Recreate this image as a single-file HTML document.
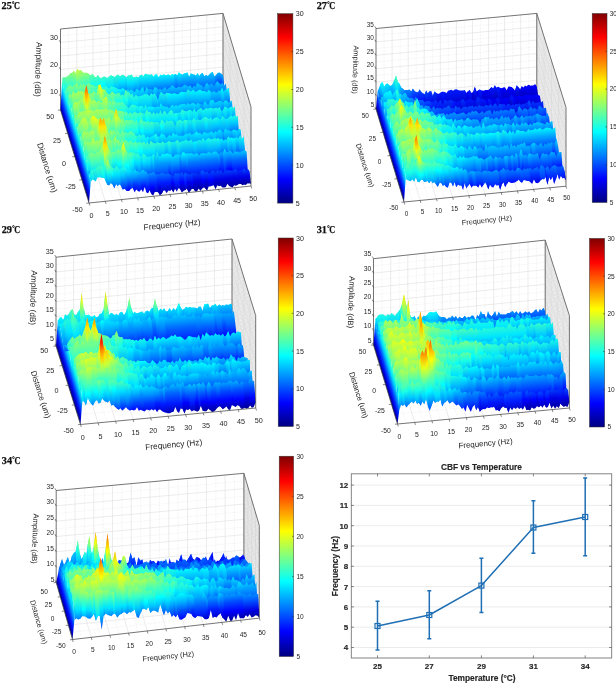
<!DOCTYPE html>
<html lang="en"><head><meta charset="utf-8"><title>CBF vs Temperature</title>
<style>html,body{margin:0;padding:0;background:#fff}svg{display:block}text{font-family:"Liberation Sans","Noto Sans CJK SC",sans-serif;fill:#262626}.b{font-weight:bold;stroke:#262626;stroke-width:.15px}.tt{font:bold 10.3px "Liberation Serif","Noto Serif CJK SC",serif;fill:#111;stroke:#111;stroke-width:.25px}</style></head>
<body>
<svg width="616" height="685" viewBox="0 0 616 685">
<defs>
<linearGradient id="jet" x1="0" y1="0" x2="0" y2="1"><stop offset="0" stop-color="#800000"/><stop offset="0.0625" stop-color="#bf0000"/><stop offset="0.125" stop-color="#f00"/><stop offset="0.1875" stop-color="#ff4000"/><stop offset="0.25" stop-color="#ff8000"/><stop offset="0.3125" stop-color="#ffbf00"/><stop offset="0.375" stop-color="#ff0"/><stop offset="0.4375" stop-color="#bfff40"/><stop offset="0.5" stop-color="#80ff80"/><stop offset="0.5625" stop-color="#40ffbf"/><stop offset="0.625" stop-color="#0ff"/><stop offset="0.6875" stop-color="#00bfff"/><stop offset="0.75" stop-color="#0080ff"/><stop offset="0.8125" stop-color="#0040ff"/><stop offset="0.875" stop-color="#00f"/><stop offset="0.9375" stop-color="#0000bf"/><stop offset="1" stop-color="#000080"/></linearGradient>
<linearGradient id="w0" gradientUnits="userSpaceOnUse" x1="74.8" y1="156.5" x2="84.4" y2="153.5"><stop offset="0" stop-color="#008"/><stop offset=".2" stop-color="#00d"/><stop offset=".4" stop-color="#03f"/><stop offset=".6" stop-color="#08f"/><stop offset=".8" stop-color="#0df"/><stop offset="1" stop-color="#3fc"/></linearGradient>
<linearGradient id="v19_15" x2="0" y2="1"><stop stop-color="#6f9"/><stop offset="1" stop-color="#0ff"/></linearGradient>
<linearGradient id="v20_16" x2="0" y2="1"><stop stop-color="#80ff80"/><stop offset="1" stop-color="#1affe5"/></linearGradient>
<linearGradient id="v21_16" x2="0" y2="1"><stop stop-color="#9f6"/><stop offset=".5" stop-color="#4dffb2"/><stop offset="1" stop-color="#1affe5"/></linearGradient>
<linearGradient id="v22_16" x2="0" y2="1"><stop stop-color="#b3ff4c"/><stop offset=".5" stop-color="#6f9"/><stop offset="1" stop-color="#1affe5"/></linearGradient>
<linearGradient id="v23_16" x2="0" y2="1"><stop stop-color="#cf3"/><stop offset=".5" stop-color="#80ff80"/><stop offset="1" stop-color="#1affe5"/></linearGradient>
<linearGradient id="v21_15" x2="0" y2="1"><stop stop-color="#9f6"/><stop offset=".5" stop-color="#4dffb2"/><stop offset="1" stop-color="#0ff"/></linearGradient>
<linearGradient id="v20_15" x2="0" y2="1"><stop stop-color="#80ff80"/><stop offset=".5" stop-color="#4dffb2"/><stop offset="1" stop-color="#0ff"/></linearGradient>
<linearGradient id="v19_14" x2="0" y2="1"><stop stop-color="#6f9"/><stop offset=".5" stop-color="#1affe5"/><stop offset="1" stop-color="#00e5ff"/></linearGradient>
<linearGradient id="v19_13" x2="0" y2="1"><stop stop-color="#6f9"/><stop offset=".5" stop-color="#1affe5"/><stop offset="1" stop-color="#0cf"/></linearGradient>
<linearGradient id="v18_13" x2="0" y2="1"><stop stop-color="#4dffb2"/><stop offset=".5" stop-color="#1affe5"/><stop offset="1" stop-color="#0cf"/></linearGradient>
<linearGradient id="v18_12" x2="0" y2="1"><stop stop-color="#4dffb2"/><stop offset=".5" stop-color="#0ff"/><stop offset="1" stop-color="#00b2ff"/></linearGradient>
<linearGradient id="v17_11" x2="0" y2="1"><stop stop-color="#3fc"/><stop offset=".5" stop-color="#00e5ff"/><stop offset="1" stop-color="#09f"/></linearGradient>
<linearGradient id="v17_10" x2="0" y2="1"><stop stop-color="#3fc"/><stop offset=".5" stop-color="#00e5ff"/><stop offset="1" stop-color="#0080ff"/></linearGradient>
<linearGradient id="v17_9" x2="0" y2="1"><stop stop-color="#3fc"/><stop offset=".5" stop-color="#0cf"/><stop offset="1" stop-color="#06f"/></linearGradient>
<linearGradient id="v17_8" x2="0" y2="1"><stop stop-color="#3fc"/><stop offset=".33" stop-color="#00e5ff"/><stop offset=".67" stop-color="#09f"/><stop offset="1" stop-color="#004dff"/></linearGradient>
<linearGradient id="v16_8" x2="0" y2="1"><stop stop-color="#1affe5"/><stop offset=".5" stop-color="#00b2ff"/><stop offset="1" stop-color="#004dff"/></linearGradient>
<linearGradient id="v16_7" x2="0" y2="1"><stop stop-color="#1affe5"/><stop offset=".33" stop-color="#0cf"/><stop offset=".67" stop-color="#0080ff"/><stop offset="1" stop-color="#03f"/></linearGradient>
<linearGradient id="v15_7" x2="0" y2="1"><stop stop-color="#0ff"/><stop offset=".5" stop-color="#09f"/><stop offset="1" stop-color="#03f"/></linearGradient>
<linearGradient id="v15_6" x2="0" y2="1"><stop stop-color="#0ff"/><stop offset=".33" stop-color="#00b2ff"/><stop offset=".67" stop-color="#06f"/><stop offset="1" stop-color="#001aff"/></linearGradient>
<linearGradient id="v14_7" x2="0" y2="1"><stop stop-color="#00e5ff"/><stop offset=".5" stop-color="#0080ff"/><stop offset="1" stop-color="#03f"/></linearGradient>
<linearGradient id="v14_6" x2="0" y2="1"><stop stop-color="#00e5ff"/><stop offset=".5" stop-color="#0080ff"/><stop offset="1" stop-color="#001aff"/></linearGradient>
<linearGradient id="v13_6" x2="0" y2="1"><stop stop-color="#0cf"/><stop offset=".5" stop-color="#0080ff"/><stop offset="1" stop-color="#001aff"/></linearGradient>
<linearGradient id="v12_6" x2="0" y2="1"><stop stop-color="#00b2ff"/><stop offset=".5" stop-color="#06f"/><stop offset="1" stop-color="#001aff"/></linearGradient>
<linearGradient id="v12_5" x2="0" y2="1"><stop stop-color="#00b2ff"/><stop offset=".5" stop-color="#004dff"/><stop offset="1" stop-color="#00f"/></linearGradient>
<linearGradient id="v20_17" x2="0" y2="1"><stop stop-color="#80ff80"/><stop offset="1" stop-color="#3fc"/></linearGradient>
<linearGradient id="v21_17" x2="0" y2="1"><stop stop-color="#9f6"/><stop offset="1" stop-color="#3fc"/></linearGradient>
<linearGradient id="v19_16" x2="0" y2="1"><stop stop-color="#6f9"/><stop offset="1" stop-color="#1affe5"/></linearGradient>
<linearGradient id="v18_15" x2="0" y2="1"><stop stop-color="#4dffb2"/><stop offset="1" stop-color="#0ff"/></linearGradient>
<linearGradient id="v17_13" x2="0" y2="1"><stop stop-color="#3fc"/><stop offset="1" stop-color="#0cf"/></linearGradient>
<linearGradient id="v17_12" x2="0" y2="1"><stop stop-color="#3fc"/><stop offset=".5" stop-color="#00e5ff"/><stop offset="1" stop-color="#00b2ff"/></linearGradient>
<linearGradient id="v16_11" x2="0" y2="1"><stop stop-color="#1affe5"/><stop offset=".5" stop-color="#00e5ff"/><stop offset="1" stop-color="#09f"/></linearGradient>
<linearGradient id="v16_10" x2="0" y2="1"><stop stop-color="#1affe5"/><stop offset=".5" stop-color="#0cf"/><stop offset="1" stop-color="#0080ff"/></linearGradient>
<linearGradient id="v15_10" x2="0" y2="1"><stop stop-color="#0ff"/><stop offset=".5" stop-color="#00b2ff"/><stop offset="1" stop-color="#0080ff"/></linearGradient>
<linearGradient id="v15_11" x2="0" y2="1"><stop stop-color="#0ff"/><stop offset="1" stop-color="#09f"/></linearGradient>
<linearGradient id="v14_10" x2="0" y2="1"><stop stop-color="#00e5ff"/><stop offset="1" stop-color="#0080ff"/></linearGradient>
<linearGradient id="v14_9" x2="0" y2="1"><stop stop-color="#00e5ff"/><stop offset=".5" stop-color="#00b2ff"/><stop offset="1" stop-color="#06f"/></linearGradient>
<linearGradient id="v14_8" x2="0" y2="1"><stop stop-color="#00e5ff"/><stop offset=".5" stop-color="#09f"/><stop offset="1" stop-color="#004dff"/></linearGradient>
<linearGradient id="v13_8" x2="0" y2="1"><stop stop-color="#0cf"/><stop offset=".5" stop-color="#0080ff"/><stop offset="1" stop-color="#004dff"/></linearGradient>
<linearGradient id="v13_7" x2="0" y2="1"><stop stop-color="#0cf"/><stop offset=".5" stop-color="#0080ff"/><stop offset="1" stop-color="#03f"/></linearGradient>
<linearGradient id="v12_7" x2="0" y2="1"><stop stop-color="#00b2ff"/><stop offset=".5" stop-color="#0080ff"/><stop offset="1" stop-color="#03f"/></linearGradient>
<linearGradient id="v22_18" x2="0" y2="1"><stop stop-color="#b3ff4c"/><stop offset="1" stop-color="#4dffb2"/></linearGradient>
<linearGradient id="v22_19" x2="0" y2="1"><stop stop-color="#b3ff4c"/><stop offset="1" stop-color="#6f9"/></linearGradient>
<linearGradient id="v21_19" x2="0" y2="1"><stop stop-color="#9f6"/><stop offset="1" stop-color="#6f9"/></linearGradient>
<linearGradient id="v21_18" x2="0" y2="1"><stop stop-color="#9f6"/><stop offset="1" stop-color="#4dffb2"/></linearGradient>
<linearGradient id="v24_17" x2="0" y2="1"><stop stop-color="#e5ff1a"/><stop offset=".5" stop-color="#80ff80"/><stop offset="1" stop-color="#3fc"/></linearGradient>
<linearGradient id="v25_17" x2="0" y2="1"><stop stop-color="#ff0"/><stop offset=".5" stop-color="#9f6"/><stop offset="1" stop-color="#3fc"/></linearGradient>
<linearGradient id="v25_18" x2="0" y2="1"><stop stop-color="#ff0"/><stop offset=".5" stop-color="#b3ff4c"/><stop offset="1" stop-color="#4dffb2"/></linearGradient>
<linearGradient id="v22_17" x2="0" y2="1"><stop stop-color="#b3ff4c"/><stop offset=".5" stop-color="#80ff80"/><stop offset="1" stop-color="#3fc"/></linearGradient>
<linearGradient id="v19_12" x2="0" y2="1"><stop stop-color="#6f9"/><stop offset=".5" stop-color="#1affe5"/><stop offset="1" stop-color="#00b2ff"/></linearGradient>
<linearGradient id="v18_11" x2="0" y2="1"><stop stop-color="#4dffb2"/><stop offset=".5" stop-color="#00e5ff"/><stop offset="1" stop-color="#09f"/></linearGradient>
<linearGradient id="v16_9" x2="0" y2="1"><stop stop-color="#1affe5"/><stop offset=".5" stop-color="#00b2ff"/><stop offset="1" stop-color="#06f"/></linearGradient>
<linearGradient id="v15_8" x2="0" y2="1"><stop stop-color="#0ff"/><stop offset=".5" stop-color="#00b2ff"/><stop offset="1" stop-color="#004dff"/></linearGradient>
<linearGradient id="v15_9" x2="0" y2="1"><stop stop-color="#0ff"/><stop offset=".5" stop-color="#00b2ff"/><stop offset="1" stop-color="#06f"/></linearGradient>
<linearGradient id="v23_18" x2="0" y2="1"><stop stop-color="#cf3"/><stop offset=".5" stop-color="#80ff80"/><stop offset="1" stop-color="#4dffb2"/></linearGradient>
<linearGradient id="v27_19" x2="0" y2="1"><stop stop-color="#fc0"/><stop offset=".5" stop-color="#cf3"/><stop offset="1" stop-color="#6f9"/></linearGradient>
<linearGradient id="v32_20" x2="0" y2="1"><stop stop-color="#ff4c00"/><stop offset=".33" stop-color="#ffb300"/><stop offset=".67" stop-color="#e5ff1a"/><stop offset="1" stop-color="#80ff80"/></linearGradient>
<linearGradient id="v32_19" x2="0" y2="1"><stop stop-color="#ff4c00"/><stop offset=".25" stop-color="#f90"/><stop offset=".5" stop-color="#ffe500"/><stop offset=".75" stop-color="#b3ff4c"/><stop offset="1" stop-color="#6f9"/></linearGradient>
<linearGradient id="v26_19" x2="0" y2="1"><stop stop-color="#ffe500"/><stop offset=".5" stop-color="#b3ff4c"/><stop offset="1" stop-color="#6f9"/></linearGradient>
<linearGradient id="v23_17" x2="0" y2="1"><stop stop-color="#cf3"/><stop offset=".5" stop-color="#80ff80"/><stop offset="1" stop-color="#3fc"/></linearGradient>
<linearGradient id="v20_14" x2="0" y2="1"><stop stop-color="#80ff80"/><stop offset=".5" stop-color="#3fc"/><stop offset="1" stop-color="#00e5ff"/></linearGradient>
<linearGradient id="v23_19" x2="0" y2="1"><stop stop-color="#cf3"/><stop offset="1" stop-color="#6f9"/></linearGradient>
<linearGradient id="v22_20" x2="0" y2="1"><stop stop-color="#b3ff4c"/><stop offset="1" stop-color="#80ff80"/></linearGradient>
<linearGradient id="v24_19" x2="0" y2="1"><stop stop-color="#e5ff1a"/><stop offset=".5" stop-color="#b3ff4c"/><stop offset="1" stop-color="#6f9"/></linearGradient>
<linearGradient id="v25_19" x2="0" y2="1"><stop stop-color="#ff0"/><stop offset=".5" stop-color="#b3ff4c"/><stop offset="1" stop-color="#6f9"/></linearGradient>
<linearGradient id="v24_20" x2="0" y2="1"><stop stop-color="#e5ff1a"/><stop offset="1" stop-color="#80ff80"/></linearGradient>
<linearGradient id="v24_16" x2="0" y2="1"><stop stop-color="#e5ff1a"/><stop offset=".5" stop-color="#80ff80"/><stop offset="1" stop-color="#1affe5"/></linearGradient>
<linearGradient id="v27_16" x2="0" y2="1"><stop stop-color="#fc0"/><stop offset=".33" stop-color="#cf3"/><stop offset=".67" stop-color="#80ff80"/><stop offset="1" stop-color="#1affe5"/></linearGradient>
<linearGradient id="v27_15" x2="0" y2="1"><stop stop-color="#fc0"/><stop offset=".33" stop-color="#cf3"/><stop offset=".67" stop-color="#6f9"/><stop offset="1" stop-color="#0ff"/></linearGradient>
<linearGradient id="v23_15" x2="0" y2="1"><stop stop-color="#cf3"/><stop offset=".5" stop-color="#6f9"/><stop offset="1" stop-color="#0ff"/></linearGradient>
<linearGradient id="v22_15" x2="0" y2="1"><stop stop-color="#b3ff4c"/><stop offset=".5" stop-color="#4dffb2"/><stop offset="1" stop-color="#0ff"/></linearGradient>
<linearGradient id="v21_14" x2="0" y2="1"><stop stop-color="#9f6"/><stop offset=".5" stop-color="#4dffb2"/><stop offset="1" stop-color="#00e5ff"/></linearGradient>
<linearGradient id="v20_13" x2="0" y2="1"><stop stop-color="#80ff80"/><stop offset=".5" stop-color="#1affe5"/><stop offset="1" stop-color="#0cf"/></linearGradient>
<linearGradient id="v19_11" x2="0" y2="1"><stop stop-color="#6f9"/><stop offset=".5" stop-color="#0ff"/><stop offset="1" stop-color="#09f"/></linearGradient>
<linearGradient id="v18_10" x2="0" y2="1"><stop stop-color="#4dffb2"/><stop offset=".5" stop-color="#00e5ff"/><stop offset="1" stop-color="#0080ff"/></linearGradient>
<linearGradient id="v18_9" x2="0" y2="1"><stop stop-color="#4dffb2"/><stop offset=".33" stop-color="#0ff"/><stop offset=".67" stop-color="#00b2ff"/><stop offset="1" stop-color="#06f"/></linearGradient>
<linearGradient id="v29_19" x2="0" y2="1"><stop stop-color="#f90"/><stop offset=".33" stop-color="#ffe500"/><stop offset=".67" stop-color="#b3ff4c"/><stop offset="1" stop-color="#6f9"/></linearGradient>
<linearGradient id="v24_18" x2="0" y2="1"><stop stop-color="#e5ff1a"/><stop offset=".5" stop-color="#9f6"/><stop offset="1" stop-color="#4dffb2"/></linearGradient>
<linearGradient id="v16_12" x2="0" y2="1"><stop stop-color="#1affe5"/><stop offset="1" stop-color="#00b2ff"/></linearGradient>
<linearGradient id="v23_14" x2="0" y2="1"><stop stop-color="#cf3"/><stop offset=".33" stop-color="#80ff80"/><stop offset=".67" stop-color="#3fc"/><stop offset="1" stop-color="#00e5ff"/></linearGradient>
<linearGradient id="v25_15" x2="0" y2="1"><stop stop-color="#ff0"/><stop offset=".33" stop-color="#b3ff4c"/><stop offset=".67" stop-color="#4dffb2"/><stop offset="1" stop-color="#0ff"/></linearGradient>
<linearGradient id="v30_16" x2="0" y2="1"><stop stop-color="#ff8000"/><stop offset=".25" stop-color="#ffe500"/><stop offset=".5" stop-color="#cf3"/><stop offset=".75" stop-color="#80ff80"/><stop offset="1" stop-color="#1affe5"/></linearGradient>
<linearGradient id="v30_15" x2="0" y2="1"><stop stop-color="#ff8000"/><stop offset=".25" stop-color="#ffe500"/><stop offset=".5" stop-color="#b3ff4c"/><stop offset=".75" stop-color="#6f9"/><stop offset="1" stop-color="#0ff"/></linearGradient>
<linearGradient id="v26_14" x2="0" y2="1"><stop stop-color="#ffe500"/><stop offset=".33" stop-color="#b3ff4c"/><stop offset=".67" stop-color="#4dffb2"/><stop offset="1" stop-color="#00e5ff"/></linearGradient>
<linearGradient id="v22_14" x2="0" y2="1"><stop stop-color="#b3ff4c"/><stop offset=".5" stop-color="#4dffb2"/><stop offset="1" stop-color="#00e5ff"/></linearGradient>
<linearGradient id="v21_13" x2="0" y2="1"><stop stop-color="#9f6"/><stop offset=".5" stop-color="#3fc"/><stop offset="1" stop-color="#0cf"/></linearGradient>
<linearGradient id="v20_12" x2="0" y2="1"><stop stop-color="#80ff80"/><stop offset=".5" stop-color="#1affe5"/><stop offset="1" stop-color="#00b2ff"/></linearGradient>
<linearGradient id="v21_12" x2="0" y2="1"><stop stop-color="#9f6"/><stop offset=".33" stop-color="#4dffb2"/><stop offset=".67" stop-color="#0ff"/><stop offset="1" stop-color="#00b2ff"/></linearGradient>
<linearGradient id="v22_13" x2="0" y2="1"><stop stop-color="#b3ff4c"/><stop offset=".33" stop-color="#6f9"/><stop offset=".67" stop-color="#1affe5"/><stop offset="1" stop-color="#0cf"/></linearGradient>
<linearGradient id="v25_13" x2="0" y2="1"><stop stop-color="#ff0"/><stop offset=".33" stop-color="#9f6"/><stop offset=".67" stop-color="#3fc"/><stop offset="1" stop-color="#0cf"/></linearGradient>
<linearGradient id="v25_12" x2="0" y2="1"><stop stop-color="#ff0"/><stop offset=".25" stop-color="#b3ff4c"/><stop offset=".5" stop-color="#4dffb2"/><stop offset=".75" stop-color="#0ff"/><stop offset="1" stop-color="#00b2ff"/></linearGradient>
<linearGradient id="v22_11" x2="0" y2="1"><stop stop-color="#b3ff4c"/><stop offset=".33" stop-color="#4dffb2"/><stop offset=".67" stop-color="#0ff"/><stop offset="1" stop-color="#09f"/></linearGradient>
<linearGradient id="v19_10" x2="0" y2="1"><stop stop-color="#6f9"/><stop offset=".33" stop-color="#1affe5"/><stop offset=".67" stop-color="#0cf"/><stop offset="1" stop-color="#0080ff"/></linearGradient>
<linearGradient id="v18_7" x2="0" y2="1"><stop stop-color="#4dffb2"/><stop offset=".33" stop-color="#00e5ff"/><stop offset=".67" stop-color="#09f"/><stop offset="1" stop-color="#03f"/></linearGradient>
<linearGradient id="v17_7" x2="0" y2="1"><stop stop-color="#3fc"/><stop offset=".33" stop-color="#00e5ff"/><stop offset=".67" stop-color="#0080ff"/><stop offset="1" stop-color="#03f"/></linearGradient>
<linearGradient id="v16_6" x2="0" y2="1"><stop stop-color="#1affe5"/><stop offset=".33" stop-color="#0cf"/><stop offset=".67" stop-color="#06f"/><stop offset="1" stop-color="#001aff"/></linearGradient>
<linearGradient id="v16_5" x2="0" y2="1"><stop stop-color="#1affe5"/><stop offset=".33" stop-color="#00b2ff"/><stop offset=".67" stop-color="#06f"/><stop offset="1" stop-color="#00f"/></linearGradient>
<linearGradient id="v15_4" x2="0" y2="1"><stop stop-color="#0ff"/><stop offset=".33" stop-color="#09f"/><stop offset=".67" stop-color="#004dff"/><stop offset="1" stop-color="#0000e6"/></linearGradient>
<linearGradient id="v15_3" x2="0" y2="1"><stop stop-color="#0ff"/><stop offset=".33" stop-color="#09f"/><stop offset=".67" stop-color="#03f"/><stop offset="1" stop-color="#00c"/></linearGradient>
<linearGradient id="v14_4" x2="0" y2="1"><stop stop-color="#00e5ff"/><stop offset=".33" stop-color="#09f"/><stop offset=".67" stop-color="#03f"/><stop offset="1" stop-color="#0000e6"/></linearGradient>
<linearGradient id="v14_3" x2="0" y2="1"><stop stop-color="#00e5ff"/><stop offset=".33" stop-color="#0080ff"/><stop offset=".67" stop-color="#03f"/><stop offset="1" stop-color="#00c"/></linearGradient>
<linearGradient id="v13_3" x2="0" y2="1"><stop stop-color="#0cf"/><stop offset=".33" stop-color="#0080ff"/><stop offset=".67" stop-color="#001aff"/><stop offset="1" stop-color="#00c"/></linearGradient>
<linearGradient id="v13_2" x2="0" y2="1"><stop stop-color="#0cf"/><stop offset=".33" stop-color="#06f"/><stop offset=".67" stop-color="#001aff"/><stop offset="1" stop-color="#0000b2"/></linearGradient>
<linearGradient id="v14_2" x2="0" y2="1"><stop stop-color="#00e5ff"/><stop offset=".33" stop-color="#0080ff"/><stop offset=".67" stop-color="#001aff"/><stop offset="1" stop-color="#0000b2"/></linearGradient>
<linearGradient id="v13_1" x2="0" y2="1"><stop stop-color="#0cf"/><stop offset=".33" stop-color="#06f"/><stop offset=".67" stop-color="#00f"/><stop offset="1" stop-color="#009"/></linearGradient>
<linearGradient id="v16_13" x2="0" y2="1"><stop stop-color="#1affe5"/><stop offset="1" stop-color="#0cf"/></linearGradient>
<linearGradient id="v17_14" x2="0" y2="1"><stop stop-color="#3fc"/><stop offset="1" stop-color="#00e5ff"/></linearGradient>
<linearGradient id="v18_14" x2="0" y2="1"><stop stop-color="#4dffb2"/><stop offset="1" stop-color="#00e5ff"/></linearGradient>
<linearGradient id="v20_10" x2="0" y2="1"><stop stop-color="#80ff80"/><stop offset=".33" stop-color="#3fc"/><stop offset=".67" stop-color="#0cf"/><stop offset="1" stop-color="#0080ff"/></linearGradient>
<linearGradient id="v23_10" x2="0" y2="1"><stop stop-color="#cf3"/><stop offset=".25" stop-color="#80ff80"/><stop offset=".5" stop-color="#1affe5"/><stop offset=".75" stop-color="#0cf"/><stop offset="1" stop-color="#0080ff"/></linearGradient>
<linearGradient id="v19_9" x2="0" y2="1"><stop stop-color="#6f9"/><stop offset=".33" stop-color="#1affe5"/><stop offset=".67" stop-color="#00b2ff"/><stop offset="1" stop-color="#06f"/></linearGradient>
<linearGradient id="v18_8" x2="0" y2="1"><stop stop-color="#4dffb2"/><stop offset=".33" stop-color="#0ff"/><stop offset=".67" stop-color="#09f"/><stop offset="1" stop-color="#004dff"/></linearGradient>
<linearGradient id="v15_5" x2="0" y2="1"><stop stop-color="#0ff"/><stop offset=".33" stop-color="#00b2ff"/><stop offset=".67" stop-color="#004dff"/><stop offset="1" stop-color="#00f"/></linearGradient>
<linearGradient id="v14_5" x2="0" y2="1"><stop stop-color="#00e5ff"/><stop offset=".33" stop-color="#09f"/><stop offset=".67" stop-color="#004dff"/><stop offset="1" stop-color="#00f"/></linearGradient>
<linearGradient id="v13_4" x2="0" y2="1"><stop stop-color="#0cf"/><stop offset=".33" stop-color="#0080ff"/><stop offset=".67" stop-color="#03f"/><stop offset="1" stop-color="#0000e6"/></linearGradient>
<linearGradient id="v12_3" x2="0" y2="1"><stop stop-color="#00b2ff"/><stop offset=".33" stop-color="#06f"/><stop offset=".67" stop-color="#001aff"/><stop offset="1" stop-color="#00c"/></linearGradient>
<linearGradient id="v11_2" x2="0" y2="1"><stop stop-color="#09f"/><stop offset=".33" stop-color="#004dff"/><stop offset=".67" stop-color="#00f"/><stop offset="1" stop-color="#0000b2"/></linearGradient>
<linearGradient id="v11_3" x2="0" y2="1"><stop stop-color="#09f"/><stop offset=".5" stop-color="#03f"/><stop offset="1" stop-color="#00c"/></linearGradient>
<linearGradient id="v10_2" x2="0" y2="1"><stop stop-color="#0080ff"/><stop offset=".5" stop-color="#001aff"/><stop offset="1" stop-color="#0000b2"/></linearGradient>
<linearGradient id="v10_1" x2="0" y2="1"><stop stop-color="#0080ff"/><stop offset=".33" stop-color="#03f"/><stop offset=".67" stop-color="#0000e6"/><stop offset="1" stop-color="#009"/></linearGradient>
<linearGradient id="v9_1" x2="0" y2="1"><stop stop-color="#06f"/><stop offset=".5" stop-color="#00f"/><stop offset="1" stop-color="#009"/></linearGradient>
<linearGradient id="v9_2" x2="0" y2="1"><stop stop-color="#06f"/><stop offset=".5" stop-color="#001aff"/><stop offset="1" stop-color="#0000b2"/></linearGradient>
<linearGradient id="v8_1" x2="0" y2="1"><stop stop-color="#004dff"/><stop offset=".5" stop-color="#0000e6"/><stop offset="1" stop-color="#009"/></linearGradient>
<linearGradient id="v8_2" x2="0" y2="1"><stop stop-color="#004dff"/><stop offset=".5" stop-color="#00f"/><stop offset="1" stop-color="#0000b2"/></linearGradient>
<linearGradient id="v7_1" x2="0" y2="1"><stop stop-color="#03f"/><stop offset=".5" stop-color="#0000e6"/><stop offset="1" stop-color="#009"/></linearGradient>
<linearGradient id="w1" gradientUnits="userSpaceOnUse" x1="390" y1="155.5" x2="398.7" y2="152.9"><stop offset="0" stop-color="#008"/><stop offset=".2" stop-color="#00c"/><stop offset=".4" stop-color="#02f"/><stop offset=".6" stop-color="#06f"/><stop offset=".8" stop-color="#0bf"/><stop offset="1" stop-color="#1fe"/></linearGradient>
<linearGradient id="v13_9" x2="0" y2="1"><stop stop-color="#0cf"/><stop offset="1" stop-color="#06f"/></linearGradient>
<linearGradient id="v14_11" x2="0" y2="1"><stop stop-color="#00e5ff"/><stop offset="1" stop-color="#09f"/></linearGradient>
<linearGradient id="v13_10" x2="0" y2="1"><stop stop-color="#0cf"/><stop offset="1" stop-color="#0080ff"/></linearGradient>
<linearGradient id="v12_8" x2="0" y2="1"><stop stop-color="#00b2ff"/><stop offset="1" stop-color="#004dff"/></linearGradient>
<linearGradient id="v11_8" x2="0" y2="1"><stop stop-color="#09f"/><stop offset="1" stop-color="#004dff"/></linearGradient>
<linearGradient id="v10_7" x2="0" y2="1"><stop stop-color="#0080ff"/><stop offset="1" stop-color="#03f"/></linearGradient>
<linearGradient id="v10_6" x2="0" y2="1"><stop stop-color="#0080ff"/><stop offset="1" stop-color="#001aff"/></linearGradient>
<linearGradient id="v9_6" x2="0" y2="1"><stop stop-color="#06f"/><stop offset="1" stop-color="#001aff"/></linearGradient>
<linearGradient id="v9_5" x2="0" y2="1"><stop stop-color="#06f"/><stop offset="1" stop-color="#00f"/></linearGradient>
<linearGradient id="v8_5" x2="0" y2="1"><stop stop-color="#004dff"/><stop offset="1" stop-color="#00f"/></linearGradient>
<linearGradient id="v7_4" x2="0" y2="1"><stop stop-color="#03f"/><stop offset="1" stop-color="#0000e6"/></linearGradient>
<linearGradient id="v8_4" x2="0" y2="1"><stop stop-color="#004dff"/><stop offset="1" stop-color="#0000e6"/></linearGradient>
<linearGradient id="v7_3" x2="0" y2="1"><stop stop-color="#03f"/><stop offset="1" stop-color="#00c"/></linearGradient>
<linearGradient id="v6_3" x2="0" y2="1"><stop stop-color="#001aff"/><stop offset="1" stop-color="#00c"/></linearGradient>
<linearGradient id="v6_4" x2="0" y2="1"><stop stop-color="#001aff"/><stop offset="1" stop-color="#0000e6"/></linearGradient>
<linearGradient id="v5_3" x2="0" y2="1"><stop stop-color="#00f"/><stop offset="1" stop-color="#00c"/></linearGradient>
<linearGradient id="v5_2" x2="0" y2="1"><stop stop-color="#00f"/><stop offset="1" stop-color="#0000b2"/></linearGradient>
<linearGradient id="v6_2" x2="0" y2="1"><stop stop-color="#001aff"/><stop offset="1" stop-color="#0000b2"/></linearGradient>
<linearGradient id="v5_1" x2="0" y2="1"><stop stop-color="#00f"/><stop offset="1" stop-color="#009"/></linearGradient>
<linearGradient id="v10_5" x2="0" y2="1"><stop stop-color="#0080ff"/><stop offset=".5" stop-color="#004dff"/><stop offset="1" stop-color="#00f"/></linearGradient>
<linearGradient id="v16_14" x2="0" y2="1"><stop stop-color="#1affe5"/><stop offset="1" stop-color="#00e5ff"/></linearGradient>
<linearGradient id="v11_7" x2="0" y2="1"><stop stop-color="#09f"/><stop offset="1" stop-color="#03f"/></linearGradient>
<linearGradient id="v11_6" x2="0" y2="1"><stop stop-color="#09f"/><stop offset=".5" stop-color="#004dff"/><stop offset="1" stop-color="#001aff"/></linearGradient>
<linearGradient id="v9_4" x2="0" y2="1"><stop stop-color="#06f"/><stop offset=".5" stop-color="#001aff"/><stop offset="1" stop-color="#0000e6"/></linearGradient>
<linearGradient id="v8_3" x2="0" y2="1"><stop stop-color="#004dff"/><stop offset=".5" stop-color="#001aff"/><stop offset="1" stop-color="#00c"/></linearGradient>
<linearGradient id="v12_9" x2="0" y2="1"><stop stop-color="#00b2ff"/><stop offset="1" stop-color="#06f"/></linearGradient>
<linearGradient id="v23_20" x2="0" y2="1"><stop stop-color="#cf3"/><stop offset="1" stop-color="#80ff80"/></linearGradient>
<linearGradient id="v29_20" x2="0" y2="1"><stop stop-color="#f90"/><stop offset=".33" stop-color="#ffe500"/><stop offset=".67" stop-color="#cf3"/><stop offset="1" stop-color="#80ff80"/></linearGradient>
<linearGradient id="v26_20" x2="0" y2="1"><stop stop-color="#ffe500"/><stop offset=".5" stop-color="#cf3"/><stop offset="1" stop-color="#80ff80"/></linearGradient>
<linearGradient id="v27_17" x2="0" y2="1"><stop stop-color="#fc0"/><stop offset=".33" stop-color="#e5ff1a"/><stop offset=".67" stop-color="#80ff80"/><stop offset="1" stop-color="#3fc"/></linearGradient>
<linearGradient id="v31_18" x2="0" y2="1"><stop stop-color="#f60"/><stop offset=".25" stop-color="#ffb300"/><stop offset=".5" stop-color="#e5ff1a"/><stop offset=".75" stop-color="#9f6"/><stop offset="1" stop-color="#4dffb2"/></linearGradient>
<linearGradient id="v13_5" x2="0" y2="1"><stop stop-color="#0cf"/><stop offset=".5" stop-color="#06f"/><stop offset="1" stop-color="#00f"/></linearGradient>
<linearGradient id="v12_4" x2="0" y2="1"><stop stop-color="#00b2ff"/><stop offset=".5" stop-color="#004dff"/><stop offset="1" stop-color="#0000e6"/></linearGradient>
<linearGradient id="v11_4" x2="0" y2="1"><stop stop-color="#09f"/><stop offset=".5" stop-color="#004dff"/><stop offset="1" stop-color="#0000e6"/></linearGradient>
<linearGradient id="v22_12" x2="0" y2="1"><stop stop-color="#b3ff4c"/><stop offset=".33" stop-color="#6f9"/><stop offset=".67" stop-color="#0ff"/><stop offset="1" stop-color="#00b2ff"/></linearGradient>
<linearGradient id="v20_11" x2="0" y2="1"><stop stop-color="#80ff80"/><stop offset=".33" stop-color="#3fc"/><stop offset=".67" stop-color="#00e5ff"/><stop offset="1" stop-color="#09f"/></linearGradient>
<linearGradient id="v19_8" x2="0" y2="1"><stop stop-color="#6f9"/><stop offset=".33" stop-color="#0ff"/><stop offset=".67" stop-color="#00b2ff"/><stop offset="1" stop-color="#004dff"/></linearGradient>
<linearGradient id="v11_5" x2="0" y2="1"><stop stop-color="#09f"/><stop offset=".5" stop-color="#004dff"/><stop offset="1" stop-color="#00f"/></linearGradient>
<linearGradient id="v10_4" x2="0" y2="1"><stop stop-color="#0080ff"/><stop offset=".5" stop-color="#03f"/><stop offset="1" stop-color="#0000e6"/></linearGradient>
<linearGradient id="w2" gradientUnits="userSpaceOnUse" x1="68.2" y1="385.2" x2="78.5" y2="382"><stop offset="0" stop-color="#008"/><stop offset=".2" stop-color="#00c"/><stop offset=".4" stop-color="#02f"/><stop offset=".6" stop-color="#07f"/><stop offset=".8" stop-color="#0cf"/><stop offset="1" stop-color="#2fd"/></linearGradient>
<linearGradient id="v15_12" x2="0" y2="1"><stop stop-color="#0ff"/><stop offset="1" stop-color="#00b2ff"/></linearGradient>
<linearGradient id="v15_13" x2="0" y2="1"><stop stop-color="#0ff"/><stop offset="1" stop-color="#0cf"/></linearGradient>
<linearGradient id="v27_14" x2="0" y2="1"><stop stop-color="#fc0"/><stop offset=".25" stop-color="#e5ff1a"/><stop offset=".5" stop-color="#80ff80"/><stop offset=".75" stop-color="#3fc"/><stop offset="1" stop-color="#00e5ff"/></linearGradient>
<linearGradient id="v14_12" x2="0" y2="1"><stop stop-color="#00e5ff"/><stop offset="1" stop-color="#00b2ff"/></linearGradient>
<linearGradient id="v27_12" x2="0" y2="1"><stop stop-color="#fc0"/><stop offset=".25" stop-color="#cf3"/><stop offset=".5" stop-color="#80ff80"/><stop offset=".75" stop-color="#1affe5"/><stop offset="1" stop-color="#00b2ff"/></linearGradient>
<linearGradient id="v27_13" x2="0" y2="1"><stop stop-color="#fc0"/><stop offset=".25" stop-color="#e5ff1a"/><stop offset=".5" stop-color="#80ff80"/><stop offset=".75" stop-color="#1affe5"/><stop offset="1" stop-color="#0cf"/></linearGradient>
<linearGradient id="v21_11" x2="0" y2="1"><stop stop-color="#9f6"/><stop offset=".33" stop-color="#4dffb2"/><stop offset=".67" stop-color="#00e5ff"/><stop offset="1" stop-color="#09f"/></linearGradient>
<linearGradient id="v13_15" x2="0" y2="1"><stop stop-color="#0cf"/><stop offset="1" stop-color="#0ff"/></linearGradient>
<linearGradient id="v13_16" x2="0" y2="1"><stop stop-color="#0cf"/><stop offset="1" stop-color="#1affe5"/></linearGradient>
<linearGradient id="v13_17" x2="0" y2="1"><stop stop-color="#0cf"/><stop offset="1" stop-color="#3fc"/></linearGradient>
<linearGradient id="v14_17" x2="0" y2="1"><stop stop-color="#00e5ff"/><stop offset="1" stop-color="#3fc"/></linearGradient>
<linearGradient id="v15_17" x2="0" y2="1"><stop stop-color="#0ff"/><stop offset="1" stop-color="#3fc"/></linearGradient>
<linearGradient id="v15_18" x2="0" y2="1"><stop stop-color="#0ff"/><stop offset="1" stop-color="#4dffb2"/></linearGradient>
<linearGradient id="v14_16" x2="0" y2="1"><stop stop-color="#00e5ff"/><stop offset="1" stop-color="#1affe5"/></linearGradient>
<linearGradient id="v16_15" x2="0" y2="1"><stop stop-color="#1affe5"/><stop offset="1" stop-color="#0ff"/></linearGradient>
<linearGradient id="v14_15" x2="0" y2="1"><stop stop-color="#00e5ff"/><stop offset="1" stop-color="#0ff"/></linearGradient>
<linearGradient id="v12_15" x2="0" y2="1"><stop stop-color="#00b2ff"/><stop offset="1" stop-color="#0ff"/></linearGradient>
<linearGradient id="v12_14" x2="0" y2="1"><stop stop-color="#00b2ff"/><stop offset="1" stop-color="#00e5ff"/></linearGradient>
<linearGradient id="v11_14" x2="0" y2="1"><stop stop-color="#09f"/><stop offset="1" stop-color="#00e5ff"/></linearGradient>
<linearGradient id="v14_13" x2="0" y2="1"><stop stop-color="#00e5ff"/><stop offset="1" stop-color="#0cf"/></linearGradient>
<linearGradient id="v13_14" x2="0" y2="1"><stop stop-color="#0cf"/><stop offset="1" stop-color="#00e5ff"/></linearGradient>
<linearGradient id="v12_13" x2="0" y2="1"><stop stop-color="#00b2ff"/><stop offset="1" stop-color="#0cf"/></linearGradient>
<linearGradient id="v11_13" x2="0" y2="1"><stop stop-color="#09f"/><stop offset="1" stop-color="#0cf"/></linearGradient>
<linearGradient id="v11_12" x2="0" y2="1"><stop stop-color="#09f"/><stop offset="1" stop-color="#00b2ff"/></linearGradient>
<linearGradient id="v10_13" x2="0" y2="1"><stop stop-color="#0080ff"/><stop offset="1" stop-color="#0cf"/></linearGradient>
<linearGradient id="v10_12" x2="0" y2="1"><stop stop-color="#0080ff"/><stop offset="1" stop-color="#00b2ff"/></linearGradient>
<linearGradient id="v12_10" x2="0" y2="1"><stop stop-color="#00b2ff"/><stop offset="1" stop-color="#0080ff"/></linearGradient>
<linearGradient id="v12_2" x2="0" y2="1"><stop stop-color="#00b2ff"/><stop offset=".33" stop-color="#06f"/><stop offset=".67" stop-color="#00f"/><stop offset="1" stop-color="#0000b2"/></linearGradient>
<linearGradient id="v12_1" x2="0" y2="1"><stop stop-color="#00b2ff"/><stop offset=".33" stop-color="#004dff"/><stop offset=".67" stop-color="#00f"/><stop offset="1" stop-color="#009"/></linearGradient>
<linearGradient id="v20_18" x2="0" y2="1"><stop stop-color="#80ff80"/><stop offset="1" stop-color="#4dffb2"/></linearGradient>
<linearGradient id="v30_19" x2="0" y2="1"><stop stop-color="#ff8000"/><stop offset=".33" stop-color="#ffe500"/><stop offset=".67" stop-color="#cf3"/><stop offset="1" stop-color="#6f9"/></linearGradient>
<linearGradient id="v30_18" x2="0" y2="1"><stop stop-color="#ff8000"/><stop offset=".33" stop-color="#ffe500"/><stop offset=".67" stop-color="#b3ff4c"/><stop offset="1" stop-color="#4dffb2"/></linearGradient>
<linearGradient id="v26_18" x2="0" y2="1"><stop stop-color="#ffe500"/><stop offset=".5" stop-color="#b3ff4c"/><stop offset="1" stop-color="#4dffb2"/></linearGradient>
<linearGradient id="v16_18" x2="0" y2="1"><stop stop-color="#1affe5"/><stop offset="1" stop-color="#4dffb2"/></linearGradient>
<linearGradient id="v17_19" x2="0" y2="1"><stop stop-color="#3fc"/><stop offset="1" stop-color="#6f9"/></linearGradient>
<linearGradient id="v17_20" x2="0" y2="1"><stop stop-color="#3fc"/><stop offset="1" stop-color="#80ff80"/></linearGradient>
<linearGradient id="v18_21" x2="0" y2="1"><stop stop-color="#4dffb2"/><stop offset="1" stop-color="#9f6"/></linearGradient>
<linearGradient id="v18_20" x2="0" y2="1"><stop stop-color="#4dffb2"/><stop offset="1" stop-color="#80ff80"/></linearGradient>
<linearGradient id="v19_20" x2="0" y2="1"><stop stop-color="#6f9"/><stop offset="1" stop-color="#80ff80"/></linearGradient>
<linearGradient id="v17_18" x2="0" y2="1"><stop stop-color="#3fc"/><stop offset="1" stop-color="#4dffb2"/></linearGradient>
<linearGradient id="v15_16" x2="0" y2="1"><stop stop-color="#0ff"/><stop offset="1" stop-color="#1affe5"/></linearGradient>
<linearGradient id="v9_12" x2="0" y2="1"><stop stop-color="#06f"/><stop offset="1" stop-color="#00b2ff"/></linearGradient>
<linearGradient id="v9_11" x2="0" y2="1"><stop stop-color="#06f"/><stop offset="1" stop-color="#09f"/></linearGradient>
<linearGradient id="v8_11" x2="0" y2="1"><stop stop-color="#004dff"/><stop offset="1" stop-color="#09f"/></linearGradient>
<linearGradient id="v23_21" x2="0" y2="1"><stop stop-color="#cf3"/><stop offset="1" stop-color="#9f6"/></linearGradient>
<linearGradient id="v37_20" x2="0" y2="1"><stop stop-color="#c00"/><stop offset=".2" stop-color="#ff1a00"/><stop offset=".4" stop-color="#ff8000"/><stop offset=".6" stop-color="#fc0"/><stop offset=".8" stop-color="#cf3"/><stop offset="1" stop-color="#80ff80"/></linearGradient>
<linearGradient id="v19_22" x2="0" y2="1"><stop stop-color="#6f9"/><stop offset="1" stop-color="#b3ff4c"/></linearGradient>
<linearGradient id="v20_23" x2="0" y2="1"><stop stop-color="#80ff80"/><stop offset="1" stop-color="#cf3"/></linearGradient>
<linearGradient id="v20_22" x2="0" y2="1"><stop stop-color="#80ff80"/><stop offset="1" stop-color="#b3ff4c"/></linearGradient>
<linearGradient id="v22_21" x2="0" y2="1"><stop stop-color="#b3ff4c"/><stop offset="1" stop-color="#9f6"/></linearGradient>
<linearGradient id="v20_21" x2="0" y2="1"><stop stop-color="#80ff80"/><stop offset="1" stop-color="#9f6"/></linearGradient>
<linearGradient id="v19_21" x2="0" y2="1"><stop stop-color="#6f9"/><stop offset="1" stop-color="#9f6"/></linearGradient>
<linearGradient id="v15_19" x2="0" y2="1"><stop stop-color="#0ff"/><stop offset="1" stop-color="#6f9"/></linearGradient>
<linearGradient id="v19_7" x2="0" y2="1"><stop stop-color="#6f9"/><stop offset=".33" stop-color="#0ff"/><stop offset=".67" stop-color="#09f"/><stop offset="1" stop-color="#03f"/></linearGradient>
<linearGradient id="v18_6" x2="0" y2="1"><stop stop-color="#4dffb2"/><stop offset=".33" stop-color="#00e5ff"/><stop offset=".67" stop-color="#0080ff"/><stop offset="1" stop-color="#001aff"/></linearGradient>
<linearGradient id="v17_6" x2="0" y2="1"><stop stop-color="#3fc"/><stop offset=".33" stop-color="#0cf"/><stop offset=".67" stop-color="#0080ff"/><stop offset="1" stop-color="#001aff"/></linearGradient>
<linearGradient id="v11_1" x2="0" y2="1"><stop stop-color="#09f"/><stop offset=".33" stop-color="#004dff"/><stop offset=".67" stop-color="#0000e6"/><stop offset="1" stop-color="#009"/></linearGradient>
<linearGradient id="w3" gradientUnits="userSpaceOnUse" x1="385.5" y1="384.5" x2="395.8" y2="381.4"><stop offset="0" stop-color="#008"/><stop offset=".2" stop-color="#00d"/><stop offset=".4" stop-color="#03f"/><stop offset=".6" stop-color="#08f"/><stop offset=".8" stop-color="#0df"/><stop offset="1" stop-color="#3fc"/></linearGradient>
<linearGradient id="v26_13" x2="0" y2="1"><stop stop-color="#ffe500"/><stop offset=".25" stop-color="#cf3"/><stop offset=".5" stop-color="#80ff80"/><stop offset=".75" stop-color="#1affe5"/><stop offset="1" stop-color="#0cf"/></linearGradient>
<linearGradient id="v28_14" x2="0" y2="1"><stop stop-color="#ffb300"/><stop offset=".25" stop-color="#e5ff1a"/><stop offset=".5" stop-color="#9f6"/><stop offset=".75" stop-color="#4dffb2"/><stop offset="1" stop-color="#00e5ff"/></linearGradient>
<linearGradient id="v28_13" x2="0" y2="1"><stop stop-color="#ffb300"/><stop offset=".25" stop-color="#e5ff1a"/><stop offset=".5" stop-color="#80ff80"/><stop offset=".75" stop-color="#3fc"/><stop offset="1" stop-color="#0cf"/></linearGradient>
<linearGradient id="v25_20" x2="0" y2="1"><stop stop-color="#ff0"/><stop offset=".5" stop-color="#b3ff4c"/><stop offset="1" stop-color="#80ff80"/></linearGradient>
<linearGradient id="v30_20" x2="0" y2="1"><stop stop-color="#ff8000"/><stop offset=".33" stop-color="#fc0"/><stop offset=".67" stop-color="#cf3"/><stop offset="1" stop-color="#80ff80"/></linearGradient>
<linearGradient id="v31_19" x2="0" y2="1"><stop stop-color="#f60"/><stop offset=".33" stop-color="#fc0"/><stop offset=".67" stop-color="#cf3"/><stop offset="1" stop-color="#6f9"/></linearGradient>
<linearGradient id="v28_20" x2="0" y2="1"><stop stop-color="#ffb300"/><stop offset=".5" stop-color="#e5ff1a"/><stop offset="1" stop-color="#80ff80"/></linearGradient>
<linearGradient id="v20_9" x2="0" y2="1"><stop stop-color="#80ff80"/><stop offset=".33" stop-color="#1affe5"/><stop offset=".67" stop-color="#0cf"/><stop offset="1" stop-color="#06f"/></linearGradient>
<linearGradient id="v20_8" x2="0" y2="1"><stop stop-color="#80ff80"/><stop offset=".33" stop-color="#1affe5"/><stop offset=".67" stop-color="#00b2ff"/><stop offset="1" stop-color="#004dff"/></linearGradient>
<linearGradient id="v29_18" x2="0" y2="1"><stop stop-color="#f90"/><stop offset=".33" stop-color="#ff0"/><stop offset=".67" stop-color="#b3ff4c"/><stop offset="1" stop-color="#4dffb2"/></linearGradient>
<linearGradient id="v32_18" x2="0" y2="1"><stop stop-color="#ff4c00"/><stop offset=".25" stop-color="#ffb300"/><stop offset=".5" stop-color="#ff0"/><stop offset=".75" stop-color="#b3ff4c"/><stop offset="1" stop-color="#4dffb2"/></linearGradient>
<linearGradient id="v28_16" x2="0" y2="1"><stop stop-color="#ffb300"/><stop offset=".33" stop-color="#e5ff1a"/><stop offset=".67" stop-color="#80ff80"/><stop offset="1" stop-color="#1affe5"/></linearGradient>
<linearGradient id="v25_16" x2="0" y2="1"><stop stop-color="#ff0"/><stop offset=".33" stop-color="#b3ff4c"/><stop offset=".67" stop-color="#6f9"/><stop offset="1" stop-color="#1affe5"/></linearGradient>
<linearGradient id="v32_16" x2="0" y2="1"><stop stop-color="#ff4c00"/><stop offset=".25" stop-color="#ffb300"/><stop offset=".5" stop-color="#e5ff1a"/><stop offset=".75" stop-color="#80ff80"/><stop offset="1" stop-color="#1affe5"/></linearGradient>
<linearGradient id="v32_15" x2="0" y2="1"><stop stop-color="#ff4c00"/><stop offset=".2" stop-color="#f90"/><stop offset=".4" stop-color="#ff0"/><stop offset=".6" stop-color="#b3ff4c"/><stop offset=".8" stop-color="#4dffb2"/><stop offset="1" stop-color="#0ff"/></linearGradient>
<linearGradient id="v10_3" x2="0" y2="1"><stop stop-color="#0080ff"/><stop offset=".5" stop-color="#001aff"/><stop offset="1" stop-color="#00c"/></linearGradient>
<linearGradient id="v9_3" x2="0" y2="1"><stop stop-color="#06f"/><stop offset=".5" stop-color="#001aff"/><stop offset="1" stop-color="#00c"/></linearGradient>
<linearGradient id="v7_2" x2="0" y2="1"><stop stop-color="#03f"/><stop offset=".5" stop-color="#0000e6"/><stop offset="1" stop-color="#0000b2"/></linearGradient>
<linearGradient id="w4" gradientUnits="userSpaceOnUse" x1="64.4" y1="611" x2="73.2" y2="608.5"><stop offset="0" stop-color="#008"/><stop offset=".2" stop-color="#00c"/><stop offset=".4" stop-color="#01f"/><stop offset=".6" stop-color="#05f"/><stop offset=".8" stop-color="#09f"/><stop offset="1" stop-color="#0df"/></linearGradient>
<linearGradient id="v9_8" x2="0" y2="1"><stop stop-color="#06f"/><stop offset="1" stop-color="#004dff"/></linearGradient>
<linearGradient id="v11_9" x2="0" y2="1"><stop stop-color="#09f"/><stop offset="1" stop-color="#06f"/></linearGradient>
<linearGradient id="v11_10" x2="0" y2="1"><stop stop-color="#09f"/><stop offset="1" stop-color="#0080ff"/></linearGradient>
<linearGradient id="v8_7" x2="0" y2="1"><stop stop-color="#004dff"/><stop offset="1" stop-color="#03f"/></linearGradient>
<linearGradient id="v9_7" x2="0" y2="1"><stop stop-color="#06f"/><stop offset="1" stop-color="#03f"/></linearGradient>
<linearGradient id="v8_6" x2="0" y2="1"><stop stop-color="#004dff"/><stop offset="1" stop-color="#001aff"/></linearGradient>
<linearGradient id="v7_6" x2="0" y2="1"><stop stop-color="#03f"/><stop offset="1" stop-color="#001aff"/></linearGradient>
<linearGradient id="v7_5" x2="0" y2="1"><stop stop-color="#03f"/><stop offset="1" stop-color="#00f"/></linearGradient>
<linearGradient id="v6_5" x2="0" y2="1"><stop stop-color="#001aff"/><stop offset="1" stop-color="#00f"/></linearGradient>
<linearGradient id="v4_5" x2="0" y2="1"><stop stop-color="#0000e6"/><stop offset="1" stop-color="#00f"/></linearGradient>
<linearGradient id="v5_4" x2="0" y2="1"><stop stop-color="#00f"/><stop offset="1" stop-color="#0000e6"/></linearGradient>
<linearGradient id="v3_4" x2="0" y2="1"><stop stop-color="#00c"/><stop offset="1" stop-color="#0000e6"/></linearGradient>
<linearGradient id="v4_3" x2="0" y2="1"><stop stop-color="#0000e6"/><stop offset="1" stop-color="#00c"/></linearGradient>
<linearGradient id="v10_9" x2="0" y2="1"><stop stop-color="#0080ff"/><stop offset="1" stop-color="#06f"/></linearGradient>
<linearGradient id="v10_11" x2="0" y2="1"><stop stop-color="#0080ff"/><stop offset="1" stop-color="#09f"/></linearGradient>
<linearGradient id="v8_9" x2="0" y2="1"><stop stop-color="#004dff"/><stop offset="1" stop-color="#06f"/></linearGradient>
<linearGradient id="v7_9" x2="0" y2="1"><stop stop-color="#03f"/><stop offset="1" stop-color="#06f"/></linearGradient>
<linearGradient id="v7_8" x2="0" y2="1"><stop stop-color="#03f"/><stop offset="1" stop-color="#004dff"/></linearGradient>
<linearGradient id="v6_8" x2="0" y2="1"><stop stop-color="#001aff"/><stop offset="1" stop-color="#004dff"/></linearGradient>
<linearGradient id="v6_7" x2="0" y2="1"><stop stop-color="#001aff"/><stop offset="1" stop-color="#03f"/></linearGradient>
<linearGradient id="v5_7" x2="0" y2="1"><stop stop-color="#00f"/><stop offset="1" stop-color="#03f"/></linearGradient>
<linearGradient id="v5_6" x2="0" y2="1"><stop stop-color="#00f"/><stop offset="1" stop-color="#001aff"/></linearGradient>
<linearGradient id="v4_6" x2="0" y2="1"><stop stop-color="#0000e6"/><stop offset="1" stop-color="#001aff"/></linearGradient>
<linearGradient id="v3_5" x2="0" y2="1"><stop stop-color="#00c"/><stop offset="1" stop-color="#00f"/></linearGradient>
<linearGradient id="v3_6" x2="0" y2="1"><stop stop-color="#00c"/><stop offset="1" stop-color="#001aff"/></linearGradient>
<linearGradient id="v12_11" x2="0" y2="1"><stop stop-color="#00b2ff"/><stop offset="1" stop-color="#09f"/></linearGradient>
<linearGradient id="v9_10" x2="0" y2="1"><stop stop-color="#06f"/><stop offset="1" stop-color="#0080ff"/></linearGradient>
<linearGradient id="v10_8" x2="0" y2="1"><stop stop-color="#0080ff"/><stop offset="1" stop-color="#004dff"/></linearGradient>
<linearGradient id="v13_11" x2="0" y2="1"><stop stop-color="#0cf"/><stop offset="1" stop-color="#09f"/></linearGradient>
<linearGradient id="v13_12" x2="0" y2="1"><stop stop-color="#0cf"/><stop offset="1" stop-color="#00b2ff"/></linearGradient>
<linearGradient id="v29_13" x2="0" y2="1"><stop stop-color="#f90"/><stop offset=".25" stop-color="#ff0"/><stop offset=".5" stop-color="#9f6"/><stop offset=".75" stop-color="#3fc"/><stop offset="1" stop-color="#0cf"/></linearGradient>
<linearGradient id="v29_12" x2="0" y2="1"><stop stop-color="#f90"/><stop offset=".2" stop-color="#ffe500"/><stop offset=".4" stop-color="#b3ff4c"/><stop offset=".6" stop-color="#6f9"/><stop offset=".8" stop-color="#0ff"/><stop offset="1" stop-color="#00b2ff"/></linearGradient>
<linearGradient id="v12_16" x2="0" y2="1"><stop stop-color="#00b2ff"/><stop offset="1" stop-color="#1affe5"/></linearGradient>
<linearGradient id="v12_17" x2="0" y2="1"><stop stop-color="#00b2ff"/><stop offset=".5" stop-color="#00e5ff"/><stop offset="1" stop-color="#3fc"/></linearGradient>
<linearGradient id="v15_23" x2="0" y2="1"><stop stop-color="#0ff"/><stop offset=".5" stop-color="#6f9"/><stop offset="1" stop-color="#cf3"/></linearGradient>
<linearGradient id="v8_12" x2="0" y2="1"><stop stop-color="#004dff"/><stop offset="1" stop-color="#00b2ff"/></linearGradient>
<linearGradient id="v7_11" x2="0" y2="1"><stop stop-color="#03f"/><stop offset="1" stop-color="#09f"/></linearGradient>
<linearGradient id="v7_10" x2="0" y2="1"><stop stop-color="#03f"/><stop offset="1" stop-color="#0080ff"/></linearGradient>
<linearGradient id="v8_10" x2="0" y2="1"><stop stop-color="#004dff"/><stop offset="1" stop-color="#0080ff"/></linearGradient>
<linearGradient id="v6_10" x2="0" y2="1"><stop stop-color="#001aff"/><stop offset="1" stop-color="#0080ff"/></linearGradient>
<linearGradient id="v6_9" x2="0" y2="1"><stop stop-color="#001aff"/><stop offset="1" stop-color="#06f"/></linearGradient>
<linearGradient id="v23_12" x2="0" y2="1"><stop stop-color="#cf3"/><stop offset=".33" stop-color="#6f9"/><stop offset=".67" stop-color="#1affe5"/><stop offset="1" stop-color="#00b2ff"/></linearGradient>
<linearGradient id="v32_14" x2="0" y2="1"><stop stop-color="#ff4c00"/><stop offset=".2" stop-color="#ffb300"/><stop offset=".4" stop-color="#ff0"/><stop offset=".6" stop-color="#9f6"/><stop offset=".8" stop-color="#4dffb2"/><stop offset="1" stop-color="#00e5ff"/></linearGradient>
<linearGradient id="v32_13" x2="0" y2="1"><stop stop-color="#ff4c00"/><stop offset=".2" stop-color="#ffb300"/><stop offset=".4" stop-color="#e5ff1a"/><stop offset=".6" stop-color="#9f6"/><stop offset=".8" stop-color="#3fc"/><stop offset="1" stop-color="#0cf"/></linearGradient>
<linearGradient id="v23_13" x2="0" y2="1"><stop stop-color="#cf3"/><stop offset=".33" stop-color="#80ff80"/><stop offset=".67" stop-color="#1affe5"/><stop offset="1" stop-color="#0cf"/></linearGradient>
<linearGradient id="v28_17" x2="0" y2="1"><stop stop-color="#ffb300"/><stop offset=".33" stop-color="#e5ff1a"/><stop offset=".67" stop-color="#9f6"/><stop offset="1" stop-color="#3fc"/></linearGradient>
<linearGradient id="v24_15" x2="0" y2="1"><stop stop-color="#e5ff1a"/><stop offset=".33" stop-color="#9f6"/><stop offset=".67" stop-color="#4dffb2"/><stop offset="1" stop-color="#0ff"/></linearGradient>
<linearGradient id="v27_20" x2="0" y2="1"><stop stop-color="#fc0"/><stop offset=".5" stop-color="#e5ff1a"/><stop offset="1" stop-color="#80ff80"/></linearGradient>
<linearGradient id="v32_21" x2="0" y2="1"><stop stop-color="#ff4c00"/><stop offset=".33" stop-color="#ffb300"/><stop offset=".67" stop-color="#ff0"/><stop offset="1" stop-color="#9f6"/></linearGradient>
<linearGradient id="v21_10" x2="0" y2="1"><stop stop-color="#9f6"/><stop offset=".33" stop-color="#3fc"/><stop offset=".67" stop-color="#00e5ff"/><stop offset="1" stop-color="#0080ff"/></linearGradient>
<linearGradient id="v22_10" x2="0" y2="1"><stop stop-color="#b3ff4c"/><stop offset=".33" stop-color="#4dffb2"/><stop offset=".67" stop-color="#00e5ff"/><stop offset="1" stop-color="#0080ff"/></linearGradient>
<linearGradient id="v22_7" x2="0" y2="1"><stop stop-color="#b3ff4c"/><stop offset=".25" stop-color="#4dffb2"/><stop offset=".5" stop-color="#00e5ff"/><stop offset=".75" stop-color="#09f"/><stop offset="1" stop-color="#03f"/></linearGradient>
<linearGradient id="v21_9" x2="0" y2="1"><stop stop-color="#9f6"/><stop offset=".33" stop-color="#3fc"/><stop offset=".67" stop-color="#0cf"/><stop offset="1" stop-color="#06f"/></linearGradient>
</defs>
<rect width="616" height="685" fill="#fff"/>
<g>
<path d="M60.5 110l162.5-16 0-80.6-162.5 15.6z" fill="#fff"/>
<path d="M223 94l28 92 0-79-28-93.6z" fill="#f3f3f3"/>
<path d="M60.5 110l28.5 93 162-17-28-92z" fill="#fff"/>
<g fill="none"><path d="M68.6 109.2L68.6 28.2" stroke="#dedede" stroke-width="0.5" stroke-dasharray=".6 .8"/><path d="M76.8 108.4L76.8 27.4" stroke="#d8d8d8" stroke-width="0.5"/><path d="M84.9 107.6L84.9 26.7" stroke="#dedede" stroke-width="0.5" stroke-dasharray=".6 .8"/><path d="M93 106.8L93 25.9" stroke="#d8d8d8" stroke-width="0.5"/><path d="M101.1 106L101.1 25.1" stroke="#dedede" stroke-width="0.5" stroke-dasharray=".6 .8"/><path d="M109.2 105.2L109.2 24.3" stroke="#d8d8d8" stroke-width="0.5"/><path d="M117.4 104.4L117.4 23.5" stroke="#dedede" stroke-width="0.5" stroke-dasharray=".6 .8"/><path d="M125.5 103.6L125.5 22.8" stroke="#d8d8d8" stroke-width="0.5"/><path d="M133.6 102.8L133.6 22" stroke="#dedede" stroke-width="0.5" stroke-dasharray=".6 .8"/><path d="M141.8 102L141.8 21.2" stroke="#d8d8d8" stroke-width="0.5"/><path d="M149.9 101.2L149.9 20.4" stroke="#dedede" stroke-width="0.5" stroke-dasharray=".6 .8"/><path d="M158 100.4L158 19.6" stroke="#d8d8d8" stroke-width="0.5"/><path d="M166.1 99.6L166.1 18.9" stroke="#dedede" stroke-width="0.5" stroke-dasharray=".6 .8"/><path d="M174.2 98.8L174.2 18.1" stroke="#d8d8d8" stroke-width="0.5"/><path d="M182.4 98L182.4 17.3" stroke="#dedede" stroke-width="0.5" stroke-dasharray=".6 .8"/><path d="M190.5 97.2L190.5 16.5" stroke="#d8d8d8" stroke-width="0.5"/><path d="M198.6 96.4L198.6 15.7" stroke="#dedede" stroke-width="0.5" stroke-dasharray=".6 .8"/><path d="M206.8 95.6L206.8 15" stroke="#d8d8d8" stroke-width="0.5"/><path d="M214.9 94.8L214.9 14.2" stroke="#dedede" stroke-width="0.5" stroke-dasharray=".6 .8"/><path d="M60.5 103.2L223 87.3" stroke="#dedede" stroke-width="0.5" stroke-dasharray=".6 .8"/><path d="M60.5 96.5L223 80.6" stroke="#d8d8d8" stroke-width="0.5"/><path d="M60.5 89.8L223 73.8" stroke="#dedede" stroke-width="0.5" stroke-dasharray=".6 .8"/><path d="M60.5 83L223 67.1" stroke="#d8d8d8" stroke-width="0.5"/><path d="M60.5 76.2L223 60.4" stroke="#dedede" stroke-width="0.5" stroke-dasharray=".6 .8"/><path d="M60.5 69.5L223 53.7" stroke="#d8d8d8" stroke-width="0.5"/><path d="M60.5 62.8L223 47" stroke="#dedede" stroke-width="0.5" stroke-dasharray=".6 .8"/><path d="M60.5 56L223 40.3" stroke="#d8d8d8" stroke-width="0.5"/><path d="M60.5 49.2L223 33.6" stroke="#dedede" stroke-width="0.5" stroke-dasharray=".6 .8"/><path d="M60.5 42.5L223 26.8" stroke="#d8d8d8" stroke-width="0.5"/><path d="M60.5 35.8L223 20.1" stroke="#dedede" stroke-width="0.5" stroke-dasharray=".6 .8"/><path d="M223 90.6L251 182.7" stroke="#cdcdcd" stroke-width="0.5" stroke-dasharray=".6 .8"/><path d="M223 87.3L251 179.4" stroke="#cdcdcd" stroke-width="0.5" stroke-dasharray=".6 .8"/><path d="M223 83.9L251 176.1" stroke="#cdcdcd" stroke-width="0.5" stroke-dasharray=".6 .8"/><path d="M223 80.6L251 172.8" stroke="#cfcfcf" stroke-width="0.5"/><path d="M223 77.2L251 169.5" stroke="#cdcdcd" stroke-width="0.5" stroke-dasharray=".6 .8"/><path d="M223 73.8L251 166.2" stroke="#cdcdcd" stroke-width="0.5" stroke-dasharray=".6 .8"/><path d="M223 70.5L251 163" stroke="#cdcdcd" stroke-width="0.5" stroke-dasharray=".6 .8"/><path d="M223 67.1L251 159.7" stroke="#cfcfcf" stroke-width="0.5"/><path d="M223 63.8L251 156.4" stroke="#cdcdcd" stroke-width="0.5" stroke-dasharray=".6 .8"/><path d="M223 60.4L251 153.1" stroke="#cdcdcd" stroke-width="0.5" stroke-dasharray=".6 .8"/><path d="M223 57.1L251 149.8" stroke="#cdcdcd" stroke-width="0.5" stroke-dasharray=".6 .8"/><path d="M223 53.7L251 146.5" stroke="#cfcfcf" stroke-width="0.5"/><path d="M223 50.3L251 143.2" stroke="#cdcdcd" stroke-width="0.5" stroke-dasharray=".6 .8"/><path d="M223 47L251 139.9" stroke="#cdcdcd" stroke-width="0.5" stroke-dasharray=".6 .8"/><path d="M223 43.6L251 136.6" stroke="#cdcdcd" stroke-width="0.5" stroke-dasharray=".6 .8"/><path d="M223 40.3L251 133.3" stroke="#cfcfcf" stroke-width="0.5"/><path d="M223 36.9L251 130" stroke="#cdcdcd" stroke-width="0.5" stroke-dasharray=".6 .8"/><path d="M223 33.6L251 126.8" stroke="#cdcdcd" stroke-width="0.5" stroke-dasharray=".6 .8"/><path d="M223 30.2L251 123.5" stroke="#cdcdcd" stroke-width="0.5" stroke-dasharray=".6 .8"/><path d="M223 26.8L251 120.2" stroke="#cfcfcf" stroke-width="0.5"/><path d="M223 23.5L251 116.9" stroke="#cdcdcd" stroke-width="0.5" stroke-dasharray=".6 .8"/><path d="M223 20.1L251 113.6" stroke="#cdcdcd" stroke-width="0.5" stroke-dasharray=".6 .8"/><path d="M223 16.8L251 110.3" stroke="#cdcdcd" stroke-width="0.5" stroke-dasharray=".6 .8"/><path d="M249.6 181.4L249.6 102.3" stroke="#d2d2d2" stroke-width="0.5" stroke-dasharray=".6 .8"/><path d="M248.2 176.8L248.2 97.6" stroke="#d2d2d2" stroke-width="0.5" stroke-dasharray=".6 .8"/><path d="M246.8 172.2L246.8 93" stroke="#d2d2d2" stroke-width="0.5" stroke-dasharray=".6 .8"/><path d="M245.4 167.6L245.4 88.3" stroke="#d2d2d2" stroke-width="0.5" stroke-dasharray=".6 .8"/><path d="M244 163L244 83.6" stroke="#cfcfcf" stroke-width="0.5"/><path d="M242.6 158.4L242.6 78.9" stroke="#d2d2d2" stroke-width="0.5" stroke-dasharray=".6 .8"/><path d="M241.2 153.8L241.2 74.2" stroke="#d2d2d2" stroke-width="0.5" stroke-dasharray=".6 .8"/><path d="M239.8 149.2L239.8 69.6" stroke="#d2d2d2" stroke-width="0.5" stroke-dasharray=".6 .8"/><path d="M238.4 144.6L238.4 64.9" stroke="#d2d2d2" stroke-width="0.5" stroke-dasharray=".6 .8"/><path d="M237 140L237 60.2" stroke="#cfcfcf" stroke-width="0.5"/><path d="M235.6 135.4L235.6 55.5" stroke="#d2d2d2" stroke-width="0.5" stroke-dasharray=".6 .8"/><path d="M234.2 130.8L234.2 50.8" stroke="#d2d2d2" stroke-width="0.5" stroke-dasharray=".6 .8"/><path d="M232.8 126.2L232.8 46.2" stroke="#d2d2d2" stroke-width="0.5" stroke-dasharray=".6 .8"/><path d="M231.4 121.6L231.4 41.5" stroke="#d2d2d2" stroke-width="0.5" stroke-dasharray=".6 .8"/><path d="M230 117L230 36.8" stroke="#cfcfcf" stroke-width="0.5"/><path d="M228.6 112.4L228.6 32.1" stroke="#d2d2d2" stroke-width="0.5" stroke-dasharray=".6 .8"/><path d="M227.2 107.8L227.2 27.4" stroke="#d2d2d2" stroke-width="0.5" stroke-dasharray=".6 .8"/><path d="M225.8 103.2L225.8 22.8" stroke="#d2d2d2" stroke-width="0.5" stroke-dasharray=".6 .8"/><path d="M224.4 98.6L224.4 18.1" stroke="#d2d2d2" stroke-width="0.5" stroke-dasharray=".6 .8"/><path d="M68.6 109.2L97.1 202.2" stroke="#dedede" stroke-width="0.5" stroke-dasharray=".6 .8"/><path d="M76.8 108.4L105.2 201.3" stroke="#d8d8d8" stroke-width="0.5"/><path d="M84.9 107.6L113.3 200.4" stroke="#dedede" stroke-width="0.5" stroke-dasharray=".6 .8"/><path d="M93 106.8L121.4 199.6" stroke="#d8d8d8" stroke-width="0.5"/><path d="M101.1 106L129.5 198.8" stroke="#dedede" stroke-width="0.5" stroke-dasharray=".6 .8"/><path d="M109.2 105.2L137.6 197.9" stroke="#d8d8d8" stroke-width="0.5"/><path d="M117.4 104.4L145.7 197.1" stroke="#dedede" stroke-width="0.5" stroke-dasharray=".6 .8"/><path d="M125.5 103.6L153.8 196.2" stroke="#d8d8d8" stroke-width="0.5"/><path d="M133.6 102.8L161.9 195.4" stroke="#dedede" stroke-width="0.5" stroke-dasharray=".6 .8"/><path d="M141.8 102L170 194.5" stroke="#d8d8d8" stroke-width="0.5"/><path d="M149.9 101.2L178.1 193.7" stroke="#dedede" stroke-width="0.5" stroke-dasharray=".6 .8"/><path d="M158 100.4L186.2 192.8" stroke="#d8d8d8" stroke-width="0.5"/><path d="M166.1 99.6L194.3 191.9" stroke="#dedede" stroke-width="0.5" stroke-dasharray=".6 .8"/><path d="M174.2 98.8L202.4 191.1" stroke="#d8d8d8" stroke-width="0.5"/><path d="M182.4 98L210.5 190.2" stroke="#dedede" stroke-width="0.5" stroke-dasharray=".6 .8"/><path d="M190.5 97.2L218.6 189.4" stroke="#d8d8d8" stroke-width="0.5"/><path d="M198.6 96.4L226.7 188.6" stroke="#dedede" stroke-width="0.5" stroke-dasharray=".6 .8"/><path d="M206.8 95.6L234.8 187.7" stroke="#d8d8d8" stroke-width="0.5"/><path d="M214.9 94.8L242.9 186.8" stroke="#dedede" stroke-width="0.5" stroke-dasharray=".6 .8"/><path d="M85.4 191.4L247.5 174.5" stroke="#dedede" stroke-width="0.5" stroke-dasharray=".6 .8"/><path d="M81.9 179.8L244 163" stroke="#d8d8d8" stroke-width="0.5"/><path d="M78.3 168.1L240.5 151.5" stroke="#dedede" stroke-width="0.5" stroke-dasharray=".6 .8"/><path d="M74.8 156.5L237 140" stroke="#d8d8d8" stroke-width="0.5"/><path d="M71.2 144.9L233.5 128.5" stroke="#dedede" stroke-width="0.5" stroke-dasharray=".6 .8"/><path d="M67.6 133.2L230 117" stroke="#d8d8d8" stroke-width="0.5"/><path d="M64.1 121.6L226.5 105.5" stroke="#dedede" stroke-width="0.5" stroke-dasharray=".6 .8"/></g>
<g fill="none"><path d="M60.5 29L223 13.4" stroke="#3a3a3a" stroke-width="0.7"/><path d="M223 13.4L251 107" stroke="#3a3a3a" stroke-width="0.7"/><path d="M223 94L223 13.4" stroke="#6a6a6a" stroke-width="1.0"/><path d="M60.5 110L60.5 29" stroke="#3a3a3a" stroke-width="0.7"/></g>
<path d="M60.5 110l1.5 4.9 1.5 4.9 1.5 4.9 1.5 4.9 1.5 4.9 1.5 4.9 1.5 4.9 1.5 4.9 1.5 4.9 1.5 4.8 1.5 4.9 1.5 4.9 1.5 4.9 1.5 4.9 1.5 4.9 1.5 4.9 1.5 4.9 1.5 4.9 1.5 4.9 1.7-20.8-1.5-7.9-1.5-4.4-1.5-13.8-1.5 2.7-1.5-13.1-1.5-.2-1.5-9.1-1.5-1.4-1.5-8.3-1.5-2.1-1.5-9.9-1.5 2.9-1.5-10.1-1.5-.8-1.5-10.8-1.5 1.8-1.5-8.1-1.5-.8-1.5-10.8z" fill="url(#w0)"/>
<g transform="matrix(1.6927 -.1667 0 1 62.19 109.83)"><path d="M0-31.8l1-.9 1 .8 1-1.3 .9 14.8-3 0z" fill="url(#v19_15)"/><path d="M2-31.9l1-1.3 1-.7 1-2.2 .9 17.1-3 .6z" fill="url(#v20_16)"/><path d="M4-33.9l1-2.2 1 .1 1-1.8 .9 18.8-3 0z" fill="url(#v21_16)"/><path d="M6-36l1-1.8 1 2.6 1-4.4 .9 20-3 .6z" fill="url(#v22_16)"/><path d="M8-35.2l1-4.4 1 2.1 1-.4 .9 18.5-3-.2z" fill="url(#v23_16)"/><path d="M10-37.5l1-.4 1 1.8 1 1.6 .9 16.1-3-1.2z" fill="url(#v22_16)"/><path d="M12-36.1l1 1.6 1-.4 1 .5 1 2 .9 16.6-4-3.1z" fill="url(#v21_15)"/><path d="M15-34.4l1 2 1 .5 .9 16.1-2-1.5z" fill="url(#v20_15)"/><path d="M16-32.4l1 .5 1-1.2 1 2.9 .9 16.4-3-2z" fill="url(#v19_14)"/><path d="M18-33.1l1 2.9 1 1.1 .9 15.3-2-.8z" fill="url(#v19_13)"/><path d="M19-30.2l1 1.1 1-2.4 1 2.6 .9 15.7-3-.6z" fill="url(#v18_13)"/><path d="M21-31.5l1 2.6 1 1.1 1-1.2 1-.2 1 1.1 .9 17.3-5-3z" fill="url(#v18_12)"/><path d="M25-29.2l1 1.1 1 .6 1-1.7 .9 21.7-3-3.5z" fill="url(#v17_11)"/><path d="M27-27.5l1-1.7 1-.8 1 1.5 1 .8 .9 20.2-4-3z" fill="url(#v17_10)"/><path d="M30-28.5l1 .8 1-1.6 1-.6 1 2.1 .9 21.2-4-.9z" fill="url(#v17_9)"/><path d="M33-29.9l1 2.1 1-1 1-.5 1 1.7 1 1.6 .9 19.4-5 0z" fill="url(#v17_8)"/><path d="M37-27.6l1 1.6 1-2.1 .9 21.5-2 0z" fill="url(#v16_8)"/><path d="M38-26l1-2.1 1 .3 1-1 1 3.1 1 0 .9 21.1-5-2z" fill="url(#v17_8)"/><path d="M42-25.7l1 0 1-.3 1 1.2 .9 20.2-3 0z" fill="url(#v16_7)"/><path d="M44-26l1 1.2 1-2.1 .9 22.6-2-.3z" fill="url(#v16_8)"/><path d="M45-24.8l1-2.1 1-.4 1 1.7 1-2.5 1 .8 1 .4 1 .4 1-.6 1 2.9 1-2.2 .9 21.7-10 .1z" fill="url(#v16_7)"/><path d="M54-24.2l1-2.2 1 .2 1 3 1-2.5 1 .9 1-1.1 1 1.6 1-.4 1-.3 1 1.6 1-1.6 .9 20.6-11-.3z" fill="url(#v15_7)"/><path d="M64-23.4l1-1.6 1 1 1-.6 .9 20.3-3-.1z" fill="url(#v15_6)"/><path d="M66-24l1-.6 1 1.4 1-2.9 .9 22.7-3-.9z" fill="url(#v14_7)"/><path d="M68-23.2l1-2.9 1 1.8 1 1.1 .9 19.9-3-.1z" fill="url(#v15_6)"/><path d="M70-24.3l1 1.1 1-1.5 1 0 1-.5 1 4.3 1-2.9 1 .7 1 .8 1 1.3 .9 18.8-9-1.2z" fill="url(#v14_6)"/><path d="M78-22.3l1 1.3 1-2.6 .9 21.4-2 0z" fill="url(#v13_6)"/><path d="M79-21l1-2.6 1 3.2 1-2 .9 20.1-3 .1z" fill="url(#v14_6)"/><path d="M81-20.4l1-2 1-.8 1 3.7 1-1.4 1 1.4 1-1.7 1-1.4 1-.5 1 4.8 1-1.3 .9 17.1-10 .2z" fill="url(#v13_6)"/><path d="M90-18.3l1-1.3 1-2.1 .9 19.2-2 0z" fill="url(#v12_6)"/><path d="M91-19.6l1-2.1 1-.2 1 1.6 1 1.6 .9 16.2-4 0z" fill="url(#v12_5)"/><path d="M94-20.3l1 1.6 .9 16.2-1 0z" fill="url(#v12_6)"/></g>
<g transform="matrix(1.6924 -.1672 0 1 63.69 114.73)"><path d="M0-24.5l6-3.4 6 1.7 6 2.8 3 1.8 .9 .9-3-1.7-6-1.4-6-.1-6 0z" fill="#1affe5"/><path d="M20-22.2l6 3 6 2.7 5 1.5 .9 1.5-5-1.6-6-3-6-2.6z" fill="#00b2ff"/><path d="M36-15l6 1.2 6 0 6-.4 6 0 6 0 6 .9 6 1.1 6 0 6-.6 5 0 .9 4.2-5-.8-6-.3-6-.3-6-.2-6-.3-6-.3-6-.3-6-.5-6-.8-6-1.4z" fill="#004dff"/></g>
<g transform="matrix(1.6922 -.1678 0 1 65.19 119.62)"><path d="M0-30l1-2 1-1.1 .9 13.8-2 0z" fill="url(#v19_15)"/><path d="M1-32l1-1.1 1-1.2 1 2 .9 12.3-3 .7z" fill="url(#v20_16)"/><path d="M3-34.3l1 2 1-.9 1-.6 .9 14.4-3 .1z" fill="url(#v20_17)"/><path d="M5-33.2l1-.6 1-1.9 .9 16.3-2-.6z" fill="url(#v20_16)"/><path d="M6-33.8l1-1.9 1 5 .9 11.3-2 0z" fill="url(#v21_16)"/><path d="M7-35.7l1 5 1-3.7 .9 15-2 0z" fill="url(#v21_17)"/><path d="M8-30.7l1-3.7 1 1.8 1-.9 .9 15.3-3-1.2z" fill="url(#v20_16)"/><path d="M10-32.6l1-.9 1 1.4 .9 13.9-2-1.2z" fill="url(#v20_17)"/><path d="M11-33.5l1 1.4 1-.8 .9 15.2-2-.5z" fill="url(#v20_16)"/><path d="M12-32.1l1-.8 1-1.2 .9 16.4-2-.5z" fill="url(#v19_16)"/><path d="M13-32.9l1-1.2 1 1.8 1 .3 .9 15-3-.7z" fill="url(#v20_15)"/><path d="M15-32.3l1 .3 1 .4 1 1.7 1-1.1 .9 15-4-1.3z" fill="url(#v19_15)"/><path d="M18-29.9l1-1.1 1 1.3 1 1.1 1-.5 .9 14.4-4-2.3z" fill="url(#v18_15)"/><path d="M21-28.6l1-.5 1 .7 1-1.5 1 2.1 .9 15.6-4-3.3z" fill="url(#v17_13)"/><path d="M24-29.9l1 2.1 1 1.1 1-2 1 .9 .9 17.1-4-3.3z" fill="url(#v17_12)"/><path d="M27-28.7l1 .9 1 .1 .9 17-2-1.5z" fill="url(#v17_11)"/><path d="M28-27.8l1 .1 1 1.1 1 1.2 .9 16-3-1.3z" fill="url(#v16_11)"/><path d="M30-26.6l1 1.2 1 .7 .9 15.3-2-1.3z" fill="url(#v16_10)"/><path d="M31-25.4l1 .7 1 .1 .9 15.2-2 0z" fill="url(#v15_10)"/><path d="M32-24.7l1 .1 1-1.2 .9 16.4-2 0z" fill="url(#v15_11)"/><path d="M33-24.6l1-1.2 1 1.3 1 2.1 1-1.5 .9 14.5-4 0z" fill="url(#v15_10)"/><path d="M36-22.4l1-1.5 1 1.9 1-1.8 1 1.8 1 1.5 1-2.9 1 .5 .9 15.6-7-2.1z" fill="url(#v14_10)"/><path d="M42-23.4l1 .5 1 2 1-2.8 1-1.6 1 6 1-5.4 1 3.1 .9 15.6-7-1.3z" fill="url(#v14_9)"/><path d="M48-24.7l1 3.1 1-.1 .9 15.7-2 0z" fill="url(#v14_8)"/><path d="M49-21.6l1-.1 1-.3 1 1.6 1-3.3 .9 17.7-4 0z" fill="url(#v13_8)"/><path d="M52-20.4l1-3.3 1 1 1 2.3 .9 14.1-3 .3z" fill="url(#v14_8)"/><path d="M54-22.7l1 2.3 1-1.2 1 1.5 1-1.3 1-1.5 1 3.2 1-1.5 1-.6 1-2.1 1 .7 1 2.2 1 .4 1-1.4 1 1.1 1-.1 1-1.6 1-.7 1 1.8 1 .6 1-.9 .9 18.6-6-3.7-6 0-6 .6-2 .3z" fill="url(#v13_8)"/><path d="M73-20.9l1-.9 1 3 1-2.2 1 1.3 .9 16.5-4 0z" fill="url(#v13_7)"/><path d="M76-21l1 1.3 1-4.1 1 1.4 1 1.3 1 .6 1 2.8 .9 15.6-6-1.1z" fill="url(#v13_8)"/><path d="M81-20.5l1 2.8 1-3.8 .9 19.4-2 0z" fill="url(#v12_6)"/><path d="M82-17.7l1-3.8 1-1.1 .9 20.5-2 0z" fill="url(#v13_6)"/><path d="M83-21.5l1-1.1 1 2.9 .9 17.6-2 0z" fill="url(#v13_7)"/><path d="M84-22.6l1 2.9 1-1.7 .9 17-2 2.3z" fill="url(#v13_8)"/><path d="M85-19.7l1-1.7 1 0 1 2.8 1-2.9 1-1.8 .9 18.3-5 2.9z" fill="url(#v12_7)"/><path d="M89-21.5l1-1.8 1 2.5 .9 15.8-2 0z" fill="url(#v13_8)"/><path d="M90-23.3l1 2.5 1 .6 .9 15-2 .2z" fill="url(#v13_7)"/><path d="M91-20.8l1 .6 1-1 1 2.9 1-1.9 .9 15-4 .2z" fill="url(#v12_7)"/></g>
<g transform="matrix(1.6919 -.1683 0 1 66.69 124.52)"><path d="M0-27.8l6-.5 6 .3 6 2.3 2 0 .9 1.8-2-.9-6-1.6-6-.9-6 2.4z" fill="#1affe5"/><path d="M19-25.9l2 .2 .9 2.9-2-2.4z" fill="#80ff80"/><path d="M20-25.7l6 2.5 2 .7 .9 3.4-2-.9-6-3.9z" fill="#1affe5"/><path d="M27-22.5l6 2.6 6 0 6 .1 6 5.3 6 0 6-3.9 6 0 2 0 .9 5.5-2-.1-6-.3-6-.3-6-.4-6-.6-6-.9-6-1.6-6-2.4z" fill="#00b2ff"/><path d="M70-18.4l6 .9 6 1 6 0 6 0 1-.2 .9 4.9-1-.1-6-.3-6-.2-6-.3-6-.3z" fill="#004dff"/></g>
<g transform="matrix(1.6916 -.1689 0 1 68.19 129.41)"><path d="M0-33.5l1-2.2 1 2.4 .9 11.7-2 0z" fill="url(#v21_16)"/><path d="M1-35.7l1 2.4 1-4.4 .9 16.1-2 0z" fill="url(#v21_17)"/><path d="M2-33.3l1-4.4 1 2.6 1-.6 1-1.5 1 .7 1-.8 1 1.8 .9 12.6-7 1.3z" fill="url(#v22_18)"/><path d="M8-37.3l1 1.8 1 .5 .9 12.1-2 0z" fill="url(#v22_19)"/><path d="M9-35.5l1 .5 1 1.1 .9 11-2 0z" fill="url(#v21_19)"/><path d="M10-35l1 1.1 1-.6 1 1 1-.5 1-1.9 1 1.8 .9 12-6-.8z" fill="url(#v21_18)"/><path d="M15-35.9l1 1.8 1 .3 1-7.5 .9 19.2-3 0z" fill="url(#v21_17)"/><path d="M17-33.8l1-7.5 1-.3 .9 20.4-2-.9z" fill="url(#v24_17)"/><path d="M18-41.3l1-.3 1 5.3 .9 17.3-2-3.1z" fill="url(#v25_17)"/><path d="M19-41.6l1 5.3 1-.3 .9 18.7-2-3.3z" fill="url(#v25_18)"/><path d="M20-36.3l1-.3 1 1.2 .9 17.5-2-1.1z" fill="url(#v22_17)"/><path d="M21-36.6l1 1.2 1 3.4 .9 14.1-2 0z" fill="url(#v21_16)"/><path d="M22-35.4l1 3.4 1 .8 .9 13.3-2 0z" fill="url(#v21_15)"/><path d="M23-32l1 .8 1-.2 .9 13.8-2-.3z" fill="url(#v20_15)"/><path d="M24-31.2l1-.2 1-2.2 .9 18.7-2-3z" fill="url(#v19_15)"/><path d="M25-31.4l1-2.2 1 2.1 1 1 .9 16.9-3-4z" fill="url(#v20_15)"/><path d="M27-31.5l1 1 1-.6 .9 17.5-2 0z" fill="url(#v19_14)"/><path d="M28-30.5l1-.6 1-1.1 1 3.5 1-.9 .9 16-4 0z" fill="url(#v19_13)"/><path d="M31-28.7l1-.9 1 1.6 .9 15.9-2-1.5z" fill="url(#v18_13)"/><path d="M32-29.6l1 1.6 1-6.1 .9 22-2-1.5z" fill="url(#v18_12)"/><path d="M33-28l1-6.1 1 2.9 1 .4 .9 18.7-3 0z" fill="url(#v19_12)"/><path d="M35-31.2l1 .4 1 2.5 1-.7 .9 17.4-3-.5z" fill="url(#v18_11)"/><path d="M37-28.3l1-.7 1 3.6 1-2.7 1 2.2 1 .2 .9 16-5-2.1z" fill="url(#v17_11)"/><path d="M41-25.9l1 .2 1-.6 1-.3 1-.9 1 0 1 .6 1 1.6 1-2.5 1 1.7 .9 20.2-9-3.8z" fill="url(#v16_10)"/><path d="M49-27.8l1 1.7 1-1.5 1 2.7 .9 19-3 0z" fill="url(#v16_9)"/><path d="M51-27.6l1 2.7 1 4.9 .9 14.1-2 0z" fill="url(#v16_8)"/><path d="M52-24.9l1 4.9 1-5.3 .9 19.4-2 0z" fill="url(#v15_8)"/><path d="M53-20l1-5.3 1-3.1 .9 22.5-2 0z" fill="url(#v15_9)"/><path d="M54-25.3l1-3.1 1 2.1 1 1 1-1.4 1 .5 .9 20.3-5 0z" fill="url(#v16_9)"/><path d="M58-26.7l1 .5 1 .1 .9 20.2-2 0z" fill="url(#v16_8)"/><path d="M59-26.2l1 .1 1 1.3 .9 18.9-2 0z" fill="url(#v15_8)"/><path d="M60-26.1l1 1.3 1-.7 1-.1 1 1.1 1 .6 1-1.5 .9 18.4-6 1.1z" fill="url(#v15_9)"/><path d="M65-23.9l1-1.5 1-.9 1 .4 1 .3 .9 18.6-4 0z" fill="url(#v15_8)"/><path d="M68-25.9l1 .3 1 0 1-2.5 .9 21.2-3-.1z" fill="url(#v15_9)"/><path d="M70-25.6l1-2.5 1 2.9 .9 18.3-2 0z" fill="url(#v16_9)"/><path d="M71-28.1l1 2.9 1-.9 .9 19.2-2 0z" fill="url(#v16_8)"/><path d="M72-25.2l1-.9 1-1.1 1 2.4 .9 18.1-3-.2z" fill="url(#v15_8)"/><path d="M74-27.2l1 2.4 1-.2 1-.9 .9 19.3-3-.3z" fill="url(#v15_9)"/><path d="M76-25l1-.9 1-.8 1 1.7 1 0 1 .4 1 1.6 1-2.7 1 1.7 1 1.8 .9 16.1-9-.5z" fill="url(#v15_8)"/><path d="M84-24l1 1.8 1-1.9 1 2 1 .1 1-2.1 1 1.1 1-3.3 .9 20.4-7-.2z" fill="url(#v14_8)"/><path d="M90-23l1-3.3 1 4.1 1-2 .9 19.4-3-1.1z" fill="url(#v15_8)"/><path d="M92-22.2l1-2 1-.3 1-1.1 .9 20.8-3 0z" fill="url(#v14_8)"/><path d="M94-24.5l1-1.1 .9 20.8-1 0z" fill="url(#v15_7)"/></g>
<g transform="matrix(1.6913 -.1694 0 1 69.69 134.3)"><path d="M0-27.8l4-3.1 .9 5.2-4 0z" fill="#1affe5"/><path d="M3-30.5l6-4 1 2.2 .9 4.1-1 0-6 2.5z" fill="#80ff80"/><path d="M9-34.5l2 3.5 .9 2.8-2 0z" fill="#e5ff1a"/><path d="M10-32.3l6 3 .9 2.2-6-1.1z" fill="#80ff80"/><path d="M15-29.6l5-.3 .9 3.8-5-1.1z" fill="#1affe5"/><path d="M19-30.6l3 3.4 .9 1.4-3-.3z" fill="#80ff80"/><path d="M21-28.2l6 4 5 2.8 .9 2.3-5-2.1-6-4.7z" fill="#1affe5"/><path d="M31-21.9l6 2.9 6 1 6 .4 6 2.1 6 0 2 0 .9 1.3-2-.1-6-.4-6-.7-6-1.2-6-1-6-1.5z" fill="#00b2ff"/><path d="M62-15.5l6-.6 6 1 6 .5 6 0 6-.6 3 0 .9 2.6-3-.1-6-.3-6-.3-6-.3-6-.3-6-.3z" fill="#004dff"/></g>
<g transform="matrix(1.6911 -.17 0 1 71.19 139.2)"><path d="M0-31.7l1-2.4 1-2.7 .9 16.4-2 0z" fill="url(#v20_16)"/><path d="M1-34.1l1-2.7 1 .3 1-.3 .9 14.7-3 1.7z" fill="url(#v22_18)"/><path d="M3-36.5l1-.3 1-.5 .9 15.2-2 1.7z" fill="url(#v22_19)"/><path d="M4-36.8l1-.5 1-2.5 .9 17.7-2 0z" fill="url(#v22_18)"/><path d="M5-37.3l1-2.5 1 1.4 1-7.7 .9 24-3 0z" fill="url(#v23_18)"/><path d="M7-38.4l1-7.7 1-6.2 .9 30.2-2 0z" fill="url(#v27_19)"/><path d="M8-46.1l1-6.2 1 8.1 .9 21.9-2 .2z" fill="url(#v32_20)"/><path d="M9-52.3l1 8.1 1 4.7 .9 17.2-2 .2z" fill="url(#v32_19)"/><path d="M10-44.2l1 4.7 1 3.4 .9 13.8-2 0z" fill="url(#v26_19)"/><path d="M11-39.5l1 3.4 1-.5 .9 14.3-2 0z" fill="url(#v23_18)"/><path d="M12-36.1l1-.5 1-.2 1 2.6 1-1.2 .9 13.1-4 0z" fill="url(#v22_18)"/><path d="M15-34.2l1-1.2 1 .5 .9 13.7-2-1.1z" fill="url(#v21_18)"/><path d="M16-35.4l1 .5 1 1.6 1-3.2 .9 16.5-3-2.3z" fill="url(#v21_17)"/><path d="M18-33.3l1-3.2 1-2.1 .9 18.6-2-1.2z" fill="url(#v22_17)"/><path d="M19-36.5l1-2.1 1-.5 1 5.9 .9 14.9-3-1.7z" fill="url(#v23_17)"/><path d="M21-39.1l1 5.9 1-2.1 .9 17.9-2-2.5z" fill="url(#v22_16)"/><path d="M22-33.2l1-2.1 1 3.2 1-2.5 .9 17.2-3-.9z" fill="url(#v20_16)"/><path d="M24-32.1l1-2.5 1 2.1 .9 16.8-2-1.7z" fill="url(#v20_15)"/><path d="M25-34.6l1 2.1 1 .6 .9 16.6-2-2.1z" fill="url(#v20_14)"/><path d="M26-32.5l1 .6 1 0 1 .4 .9 16.2-3-.4z" fill="url(#v19_14)"/><path d="M28-31.9l1 .4 1-.2 .9 17.2-2-.8z" fill="url(#v19_13)"/><path d="M29-31.5l1-.2 1 0 1 3 1 1.5 .9 13.8-4-1.9z" fill="url(#v18_13)"/><path d="M32-28.7l1 1.5 1 2.1 1-2.4 1-1 1 .4 1 .9 .9 16.7-6-3.3z" fill="url(#v17_12)"/><path d="M37-28.1l1 .9 1 .9 .9 15.8-2 0z" fill="url(#v17_11)"/><path d="M38-27.2l1 .9 1 .6 1-.1 .9 16.8-3-1.5z" fill="url(#v16_10)"/><path d="M40-25.7l1-.1 1-.6 .9 17.4-2-.8z" fill="url(#v16_11)"/><path d="M41-25.8l1-.6 1 2.8 1-3.5 1 3.5 1-1.4 .9 16.1-5-.1z" fill="url(#v16_10)"/><path d="M45-23.6l1-1.4 1 .7 .9 15.4-2 0z" fill="url(#v15_10)"/><path d="M46-25l1 .7 1-.2 1 1 1 .2 .9 14.4-4 0z" fill="url(#v15_9)"/><path d="M49-23.5l1 .2 1-1 .9 15.4-2 0z" fill="url(#v14_9)"/><path d="M50-23.3l1-1 1 1.1 1-4.1 1 3.5 1 .4 .9 15.5-5-1z" fill="url(#v15_9)"/><path d="M54-23.8l1 .4 1 .5 1 .1 1 1.8 1-2.4 1-.8 1 2.2 1-1.8 1 1.6 1-1.4 1-.4 1-.1 .9 18-12-1.8z" fill="url(#v14_9)"/><path d="M65-24l1-.1 1 .1 1 1.4 1-1.9 1 1.7 1-.9 1-.4 1 1.3 .9 16.8-8-.1z" fill="url(#v14_8)"/><path d="M72-24.1l1 1.3 1 1.2 .9 15.6-2 0z" fill="url(#v14_9)"/><path d="M73-22.8l1 1.2 1-2.3 1 2.2 1-.2 .9 15.9-4 0z" fill="url(#v14_8)"/><path d="M76-21.7l1-.2 1 1.3 1-4.1 .9 18-3 .7z" fill="url(#v13_8)"/><path d="M78-20.6l1-4.1 1 2 1 2.6 1-3.6 1-1.5 .9 19.4-5-.2z" fill="url(#v14_8)"/><path d="M82-23.7l1-1.5 1 .3 .9 19.1-2 0z" fill="url(#v14_9)"/><path d="M83-25.2l1 .3 1 2.9 1-.7 1-.5 1-.4 1 1.1 1 1.4 .9 15-7 .3z" fill="url(#v14_8)"/><path d="M89-22.5l1 1.4 1-2.2 .9 17.2-2 0z" fill="url(#v13_8)"/><path d="M90-21.1l1-2.2 1 .3 1 2.4 1-.8 .9 15.3-4 0z" fill="url(#v14_8)"/><path d="M93-20.6l1-.8 1-1.1 .9 16.4-2 0z" fill="url(#v13_8)"/></g>
<g transform="matrix(1.6908 -.1705 0 1 72.69 144.09)"><path d="M0-28.3l3-2.7 .9 3.6-3 0z" fill="#1affe5"/><path d="M2-30.2l6-2.8 6 3 5 1.2 .9 1.9-5-2.2-6 1.7-6 0z" fill="#80ff80"/><path d="M18-28.9l6 3 6 2.5 5 .5 .9 3.5-5-2.6-6-3-6-1.9z" fill="#1affe5"/><path d="M34-23.3l6 2.1 6 1.3 6 .3 6 .1 6 0 6 1.1 6 0 6 .6 6 0 6-.2 1-1.1 .9 6.5-1 0-6-.3-6-.3-6-.3-6-.3-6-.3-6-.3-6-.6-6-.9-6-1.5-6-2.4z" fill="#00b2ff"/></g>
<g transform="matrix(1.6905 -.1711 0 1 74.19 148.99)"><path d="M0-34.3l1 .3 1 .6 .9 10.5-2 0z" fill="url(#v21_17)"/><path d="M1-34l1 .6 1-3.7 .9 14.2-2 0z" fill="url(#v21_18)"/><path d="M2-33.4l1-3.7 1 1.5 .9 12.7-2 0z" fill="url(#v22_18)"/><path d="M3-37.1l1 1.5 1-1.1 1-.3 1 .5 1-1.5 .9 12.9-5 2.2z" fill="url(#v22_19)"/><path d="M7-36.5l1-1.5 1 .9 1-.3 .9 13.3-3 .2z" fill="url(#v23_19)"/><path d="M9-37.1l1-.3 1 1.2 .9 12.1-2 0z" fill="url(#v22_19)"/><path d="M10-37.4l1 1.2 1 .6 .9 12-2-.5z" fill="url(#v22_20)"/><path d="M11-36.2l1 .6 1-2.1 1 .3 1 1.2 1-.8 1 .3 1 .4 1-1.5 .9 17.3-8-3.6z" fill="url(#v22_18)"/><path d="M18-36.3l1-1.5 1 2.7 1-.7 .9 15.3-3 0z" fill="url(#v22_17)"/><path d="M20-35.1l1-.7 1 .3 1 1.1 .9 15.1-3-1.2z" fill="url(#v21_17)"/><path d="M22-35.5l1 1.1 1 1.5 .9 13.6-2 0z" fill="url(#v21_18)"/><path d="M23-34.4l1 1.5 1-1.9 .9 15.5-2 0z" fill="url(#v21_17)"/><path d="M24-32.9l1-1.9 1 .9 1 .6 .9 16.9-3-2.9z" fill="url(#v21_16)"/><path d="M26-33.9l1 .6 1 .4 .9 16.6-2-1.9z" fill="url(#v20_16)"/><path d="M27-33.3l1 .4 1 .4 1 1.5 .9 14.7-3-.1z" fill="url(#v20_15)"/><path d="M29-32.5l1 1.5 1-1.1 1 2.9 1-1.8 1 2.1 .9 14.9-5-2.3z" fill="url(#v19_14)"/><path d="M33-31l1 2.1 1-1.1 .9 16.1-2-1.2z" fill="url(#v19_13)"/><path d="M34-28.9l1-1.1 1-1 1 1.4 1 .5 .9 15.8-4-.7z" fill="url(#v18_13)"/><path d="M37-29.6l1 .5 1-.9 1 1.2 .9 15.5-3-.6z" fill="url(#v18_12)"/><path d="M39-30l1 1.2 1 .3 .9 15.2-2 0z" fill="url(#v18_13)"/><path d="M40-28.8l1 .3 1 .2 1-3.5 .9 21-3-2.5z" fill="url(#v17_12)"/><path d="M42-28.3l1-3.5 1 2.6 1-.1 .9 18.5-3 0z" fill="url(#v18_12)"/><path d="M44-29.2l1-.1 1 2.6 1-2 .9 17.9-3 0z" fill="url(#v17_11)"/><path d="M46-26.7l1-2 1 2.4 .9 15.5-2 0z" fill="url(#v17_12)"/><path d="M47-28.7l1 2.4 1-2 1 2 1-3.6 1 4.4 1-3.4 1 .6 1 3.2 1-1.8 .9 16.5-9-.4z" fill="url(#v17_11)"/><path d="M55-25.1l1-1.8 1-2 .9 18.5-2 0z" fill="url(#v16_11)"/><path d="M56-26.9l1-2 1 .5 .9 18-2 0z" fill="url(#v17_11)"/><path d="M57-28.9l1 .5 1 3.4 1-.8 .9 15.4-3 0z" fill="url(#v17_10)"/><path d="M59-25l1-.8 1 .3 1-.1 .9 14.6-3 .6z" fill="url(#v16_11)"/><path d="M61-25.5l1-.1 1-.4 1-2.9 .9 18.3-3 .2z" fill="url(#v16_10)"/><path d="M63-26l1-2.9 1 2 1 .5 .9 15.8-3 0z" fill="url(#v17_11)"/><path d="M65-26.9l1 .5 1 .2 1-1.1 .9 17-3-.3z" fill="url(#v16_10)"/><path d="M67-26.2l1-1.1 1 0 .9 17-2 0z" fill="url(#v16_11)"/><path d="M68-27.3l1 0 1 2 1-2.9 1 4.3 .9 15.9-4-2.3z" fill="url(#v16_10)"/><path d="M71-28.2l1 4.3 1-2.1 .9 18-2 0z" fill="url(#v16_11)"/><path d="M72-23.9l1-2.1 1-1.2 .9 19.2-2 0z" fill="url(#v16_10)"/><path d="M73-26l1-1.2 1-1.1 1 2.6 .9 17.7-3 0z" fill="url(#v16_9)"/><path d="M75-28.3l1 2.6 1-.7 1-1.2 1 .8 1-.5 1 .1 1 1 .9 18.4-7-.2z" fill="url(#v16_10)"/><path d="M81-27.2l1 1 1-.4 1-.3 1 1.2 .9 17.9-4 0z" fill="url(#v16_9)"/><path d="M84-26.9l1 1.2 1-1.9 1 4.4 1-.3 .9 14.3-4 1.4z" fill="url(#v16_10)"/><path d="M87-23.2l1-.3 1-3.8 .9 18.1-2 .1z" fill="url(#v15_10)"/><path d="M88-23.5l1-3.8 1 1.3 1 1.3 .9 15.9-3-.4z" fill="url(#v16_10)"/><path d="M90-26l1 1.3 1-1.1 1-.8 .9 17.8-3-.4z" fill="url(#v15_10)"/><path d="M92-25.8l1-.8 1 2 .9 15.8-2 0z" fill="url(#v16_10)"/><path d="M93-26.6l1 2 1-2.2 .9 18-2 0z" fill="url(#v16_9)"/></g>
<g transform="matrix(1.6902 -.1716 0 1 75.69 153.88)"><path d="M0-29.1l2-1.9 .9 5-2 0z" fill="#1affe5"/><path d="M1-30l6-2.2 6 .9 6 1.7 6 2.2 1 .5 .9 .7-1-.2-6-2.4-6-.4-6 1.3-6 1.9z" fill="#80ff80"/><path d="M25-27.4l6 3.3 6 1 2 0 .9 2.6-2-.6-6-1.5-6-3.8z" fill="#1affe5"/><path d="M38-23.1l6 2.3 6 .2 6 2.4 6 .4 6-2.7 6 1.1 6 .3 6 .3 6 0 3-.4 .9 3.5-3-.2-6-.3-6-.3-6-.2-6-.3-6 1.5-6 0-6-2.8-6-.9-6-1.6z" fill="#00b2ff"/></g>
<g transform="matrix(1.69 -.1721 0 1 77.19 158.78)"><path d="M0-32.1l1-1.8 1-2.9 .9 14.7-2 0z" fill="url(#v21_17)"/><path d="M1-33.9l1-2.9 1-1.9 .9 16.6-2 0z" fill="url(#v22_18)"/><path d="M2-36.8l1-1.9 1-2.1 .9 17.7-2 1z" fill="url(#v23_18)"/><path d="M3-38.7l1-2.1 1 1.2 1 3.5 1 .9 .9 10.7-4 2.4z" fill="url(#v23_19)"/><path d="M6-36.1l1 .9 1-3.4 .9 14.1-2 0z" fill="url(#v22_18)"/><path d="M7-35.2l1-3.4 1-2.6 .9 16.7-2 0z" fill="url(#v23_18)"/><path d="M8-38.6l1-2.6 1 .2 .9 16.5-2 0z" fill="url(#v24_19)"/><path d="M9-41.2l1 .2 1 1.9 1 1.6 .9 13.4-3-.4z" fill="url(#v25_19)"/><path d="M11-39.1l1 1.6 1 0 .9 14.3-2-1.4z" fill="url(#v24_20)"/><path d="M12-37.5l1 0 1 .6 .9 14.4-2-1.6z" fill="url(#v23_19)"/><path d="M13-37.5l1 .6 1-.6 .9 15-2-.7z" fill="url(#v22_19)"/><path d="M14-36.9l1-.6 1-.5 1 1.3 .9 15.4-3-1.2z" fill="url(#v22_18)"/><path d="M16-38l1 1.3 1-.5 1-1.3 1 3.6 .9 13.9-4-.6z" fill="url(#v22_17)"/><path d="M19-38.5l1 3.6 1-.6 1-4.4 .9 21.8-3-2.9z" fill="url(#v22_16)"/><path d="M21-35.5l1-4.4 1-6.6 .9 28.4-2 0z" fill="url(#v24_16)"/><path d="M22-39.9l1-6.6 1 7.7 .9 20.9-2-.2z" fill="url(#v27_16)"/><path d="M23-46.5l1 7.7 1 2 .9 19.6-2-.9z" fill="url(#v27_15)"/><path d="M24-38.8l1 2 1 2.9 .9 19.2-2-3.2z" fill="url(#v23_15)"/><path d="M25-36.8l1 2.9 1-1.8 .9 21-2-2.5z" fill="url(#v22_15)"/><path d="M26-33.9l1-1.8 1 3.2 1-1.2 .9 19-3 0z" fill="url(#v21_14)"/><path d="M28-32.5l1-1.2 1 .7 1-.1 1-.4 .9 21-4-2.2z" fill="url(#v20_13)"/><path d="M31-33.1l1-.4 1 .7 .9 20.4-2-.1z" fill="url(#v19_13)"/><path d="M32-33.5l1 .7 1 2.3 1-2.4 1 4.3 .9 17.1-4-1z" fill="url(#v19_12)"/><path d="M35-32.9l1 4.3 1-3 .9 21.8-2-2.3z" fill="url(#v19_11)"/><path d="M36-28.6l1-3 1-1.9 .9 23.7-2-1.7z" fill="url(#v18_11)"/><path d="M37-31.6l1-1.9 1 2.9 1 .2 .9 20.6-3 0z" fill="url(#v19_11)"/><path d="M39-30.6l1 .2 1 .8 1-.8 1 1.7 1-1.2 1 1.3 1 .3 .9 19.1-7-.6z" fill="url(#v18_10)"/><path d="M45-28.6l1 .3 1-.5 1 .3 1 2.1 1-4.4 .9 22.3-5-.7z" fill="url(#v17_9)"/><path d="M49-26.4l1-4.4 1 2.4 1 2.3 .9 17.6-3 0z" fill="url(#v18_9)"/><path d="M51-28.4l1 2.3 1-3.3 1 1.4 1-.2 1-.5 1 2 1 5.2 .9 13.5-7-.5z" fill="url(#v17_9)"/><path d="M57-26.7l1 5.2 1-6.1 .9 21.5-2-1.9z" fill="url(#v16_9)"/><path d="M58-21.5l1-6.1 1-.3 1-.9 1 2.2 .9 20.5-4-1.9z" fill="url(#v17_9)"/><path d="M61-28.8l1 2.2 1-.6 .9 21.1-2 0z" fill="url(#v17_8)"/><path d="M62-26.6l1-.6 1-.7 .9 21.9-2-.1z" fill="url(#v16_8)"/><path d="M63-27.2l1-.7 1 .9 .9 21-2-.1z" fill="url(#v17_9)"/><path d="M64-27.9l1 .9 1 0 .9 21-2 0z" fill="url(#v17_8)"/><path d="M65-27l1 0 1-.6 1 1.6 1-3.1 .9 23.9-4-.8z" fill="url(#v16_8)"/><path d="M68-26l1-3.1 1 3.1 .9 20.8-2-.8z" fill="url(#v17_8)"/><path d="M69-29.1l1 3.1 1-1.1 .9 21.9-2 0z" fill="url(#v17_9)"/><path d="M70-26l1-1.1 1 .4 1 .5 1-1.4 1-.5 1-.5 .9 22.5-6 .9z" fill="url(#v16_8)"/><path d="M75-28.1l1-.5 1 1.1 1 1.3 .9 20.7-3 .3z" fill="url(#v17_8)"/><path d="M77-27.5l1 1.3 1-1.6 1 2.9 1-1.8 .9 22.5-4-2.9z" fill="url(#v16_8)"/><path d="M80-24.9l1-1.8 1-.5 1 0 1 2.1 1 .5 .9 20.4-5 0z" fill="url(#v16_7)"/><path d="M84-25.1l1 .5 1-3.8 .9 24.2-2 0z" fill="url(#v15_8)"/><path d="M85-24.6l1-3.8 1 2.7 1 1.4 1-.4 .9 19.2-4 1.3z" fill="url(#v16_8)"/><path d="M88-24.3l1-.4 1-1.5 .9 20.7-2 0z" fill="url(#v15_8)"/><path d="M89-24.7l1-1.5 1-1.3 .9 22-2 0z" fill="url(#v16_8)"/><path d="M90-26.2l1-1.3 1 1.4 1-1.4 1 1.3 1-.3 .9 20.5-5 .5z" fill="url(#v16_7)"/></g>
<g transform="matrix(1.6897 -.1727 0 1 78.69 163.67)"><path d="M0-28.2l3-2.7 .9 4.7-3 0z" fill="#1affe5"/><path d="M2-30.1l6-1.1 5-1 .9 6.7-5-2.4-6 1.7z" fill="#80ff80"/><path d="M12-33.3l2 .8 .9 7-2 0z" fill="#e5ff1a"/><path d="M13-32.2l2 1.5 .9 5.2-2 0z" fill="#80ff80"/><path d="M14-32.5l2 2.9 .9 4.1-2 0z" fill="#e5ff1a"/><path d="M15-30.7l3 2.2 .9 4.1-3-1.1z" fill="#80ff80"/><path d="M17-29l6 .8 6 5.5 3 1.8 .9 .7-3 0-6-4.2-6-1.1z" fill="#1affe5"/><path d="M31-21.5l6 3 6 .5 6 1.9 6 0 4-.7 .9 3-4-.3-6-.7-6-1.2-6-1.5-6-2.7z" fill="#00b2ff"/><path d="M58-16.8l6 .5 6 .5 6 0 6-.1 6 .3 6 0 1 0 .9 3.6-1 0-6-.3-6-.3-6-.3-6-.3-6-.3-6-.4z" fill="#004dff"/></g>
<g transform="matrix(1.6894 -.1732 0 1 80.19 168.56)"><path d="M0-32.2l1-1.7 1-3.3 .9 15.6-2 0z" fill="url(#v20_17)"/><path d="M1-33.9l1-3.3 1 1.7 .9 13.9-2 0z" fill="url(#v22_17)"/><path d="M2-37.2l1 1.7 1-.7 1 2.2 1-1.9 1-1.7 1 1.8 .9 12.7-6 1.5z" fill="url(#v22_18)"/><path d="M7-37.6l1 1.8 1 .4 .9 12.3-2 0z" fill="url(#v22_19)"/><path d="M8-35.8l1 .4 1-1.3 1-7 .9 20.6-3 0z" fill="url(#v22_18)"/><path d="M10-36.7l1-7 1-5.3 .9 25.9-2 0z" fill="url(#v25_18)"/><path d="M11-43.7l1-5.3 1 4.2 1-3.4 1 7.1 1 4.1 .9 16.3-5-2.4z" fill="url(#v29_19)"/><path d="M15-41.1l1 4.1 1 5.5 .9 10.8-2-2z" fill="url(#v24_18)"/><path d="M16-37l1 5.5 1-3.7 .9 14.9-2-.4z" fill="url(#v22_18)"/><path d="M17-31.5l1-3.7 1 1.2 1-1.1 .9 14.8-3-.4z" fill="url(#v21_17)"/><path d="M19-34l1-1.1 1 3 1-2.5 .9 15.2-3-.9z" fill="url(#v21_16)"/><path d="M21-32.1l1-2.5 1 2.2 1 1.9 1-3.2 .9 16.2-4-2.4z" fill="url(#v20_16)"/><path d="M24-30.5l1-3.2 1 2.7 1-.7 .9 15.1-3-.9z" fill="url(#v20_15)"/><path d="M26-31l1-.7 1 1.1 1-1 1-.7 1 1.5 .9 16.3-5-2.3z" fill="url(#v19_14)"/><path d="M30-32.3l1 1.5 1 .9 .9 15.8-2-.7z" fill="url(#v19_13)"/><path d="M31-30.8l1 .9 1 3.3 1 .4 .9 12.9-3-1.2z" fill="url(#v18_13)"/><path d="M33-26.6l1 .4 1-2.1 1 2 1-1.4 .9 16-4-2z" fill="url(#v17_12)"/><path d="M36-26.3l1-1.4 1 .6 .9 16.9-2-1.5z" fill="url(#v16_12)"/><path d="M37-27.7l1 .6 1 3.6 1-1.6 .9 14.9-3-1.5z" fill="url(#v16_11)"/><path d="M39-23.5l1-1.6 1 1.5 .9 15-2-1.6z" fill="url(#v15_11)"/><path d="M40-25.1l1 1.5 1-1.2 1-.4 1-1 1-.7 .9 18.3-5-1.6z" fill="url(#v15_10)"/><path d="M44-26.2l1-.7 1 3 1 .2 .9 15.1-3 0z" fill="url(#v16_10)"/><path d="M46-23.9l1 .2 1-3 1 1 1 .9 1 3.2 1-1.5 .9 14.3-6 .2z" fill="url(#v15_10)"/><path d="M51-21.6l1-1.5 1-1.3 .9 15.6-2 0z" fill="url(#v14_10)"/><path d="M52-23.1l1-1.3 1 1.5 1-3.6 1 2.4 1-.5 1 2.1 1 0 .9 14.7-7-1z" fill="url(#v15_9)"/><path d="M58-22.5l1 0 1 .2 1 0 1-1.1 1-.6 1 .2 .9 17.5-6-2.2z" fill="url(#v14_9)"/><path d="M63-24l1 .2 1-.9 1 2.9 .9 15.5-3 0z" fill="url(#v14_8)"/><path d="M65-24.7l1 2.9 1-2 1 .2 1-1.6 .9 17-4 1.9z" fill="url(#v14_9)"/><path d="M68-23.6l1-1.6 1 2.2 1-.6 .9 15.5-3-.1z" fill="url(#v15_9)"/><path d="M70-23l1-.6 1 2.3 1-2.3 1 .1 1 1.3 1-.2 1-.5 .9 15.2-7-.4z" fill="url(#v14_9)"/><path d="M76-22.4l1-.5 1-.6 1 2.1 .9 15.4-3-1.7z" fill="url(#v14_8)"/><path d="M78-23.5l1 2.1 1-2.4 1 1.5 .9 16.3-3-1.6z" fill="url(#v14_9)"/><path d="M80-23.8l1 1.5 1-2.6 1 .5 1 2.7 1-.1 .9 15.8-5 0z" fill="url(#v14_8)"/><path d="M84-21.7l1-.1 1-3.6 .9 19.6-2-.2z" fill="url(#v13_8)"/><path d="M85-21.8l1-3.6 1 2.2 1 .2 1 1.2 1-.3 .9 16.3-5-.2z" fill="url(#v14_8)"/><path d="M89-21.8l1-.3 1-1.1 .9 17.4-2 0z" fill="url(#v13_8)"/><path d="M90-22.1l1-1.1 1 .3 1 1.8 .9 14.4-3 .9z" fill="url(#v14_8)"/><path d="M92-22.9l1 1.8 1-2.5 .9 16.9-2 .9z" fill="url(#v14_9)"/><path d="M93-21.1l1-2.5 1 .9 .9 16-2 0z" fill="url(#v14_8)"/></g>
<g transform="matrix(1.6891 -.1738 0 1 81.69 173.46)"><path d="M0-27.7l4-3.1 .9 4.2-4 0z" fill="#1affe5"/><path d="M3-30.4l6-.3 6 0 2 1.6 .9 3.9-2-2.6-6-1.2-6 2.4z" fill="#80ff80"/><path d="M16-29.7l6 2.7 6 3 6 3.1 .9 .8-6-3.2-6-1.6-6-.3z" fill="#1affe5"/><path d="M33-21.1l6 .2 6 0 6 .9 6 0 6 .8 6 0 6 .3 6 1 6 0 6 .6 2 0 .9 4.3-2-.1-6-.3-6-.3-6-.3-6-.3-6-.3-6-.4-6-.5-6-1-6-1.6-6-2.3z" fill="#00b2ff"/></g>
<g transform="matrix(1.6889 -.1743 0 1 83.19 178.35)"><path d="M0-32.6l1-4.6 1 1 .9 17.8-2 0z" fill="url(#v21_15)"/><path d="M1-37.2l1 1 1 .4 .9 17.4-2 0z" fill="url(#v21_16)"/><path d="M2-36.2l1 .4 1 .5 1-.8 .9 14.8-3 2.9z" fill="url(#v21_17)"/><path d="M4-35.3l1-.8 1-3.6 .9 18.4-2 .2z" fill="url(#v22_17)"/><path d="M5-36.1l1-3.6 1 4.7 1-1.7 .9 13.6-3 1.8z" fill="url(#v23_18)"/><path d="M7-35l1-1.7 1 1.3 1-2.4 1 1.8 1-1.1 1-.2 1 2.3 .9 13.7-7 0z" fill="url(#v22_18)"/><path d="M13-37.3l1 2.3 1-1.4 .9 15.8-2-1z" fill="url(#v22_17)"/><path d="M14-35l1-1.4 1-.1 1 2.7 1-2 .9 17.5-4-3z" fill="url(#v21_17)"/><path d="M17-33.8l1-2 1-3.2 .9 20.7-2 0z" fill="url(#v21_16)"/><path d="M18-35.8l1-3.2 1 4.9 .9 15.8-2 0z" fill="url(#v22_16)"/><path d="M19-39l1 4.9 1-.9 .9 16.7-2 0z" fill="url(#v22_15)"/><path d="M20-34.1l1-.9 1 3.8 .9 13.3-2-.4z" fill="url(#v21_15)"/><path d="M21-35l1 3.8 1-3.6 .9 17.5-2-1z" fill="url(#v21_16)"/><path d="M22-31.2l1-3.6 1 2.2 .9 15.8-2-1.1z" fill="url(#v20_16)"/><path d="M23-34.8l1 2.2 1-1.3 .9 19.4-2-2.8z" fill="url(#v20_15)"/><path d="M24-32.6l1-1.3 1 1.3 1 1.7 1-2.4 .9 19.7-4-3.2z" fill="url(#v20_14)"/><path d="M27-30.9l1-2.4 1 1.9 1 1.3 1-1.2 .9 18.2-4-1.4z" fill="url(#v19_13)"/><path d="M30-30.1l1-1.2 1 1.8 1-1.3 .9 18.4-3-.7z" fill="url(#v19_12)"/><path d="M32-29.5l1-1.3 1 .7 1 1 1-1.2 .9 19-4-1.5z" fill="url(#v18_12)"/><path d="M35-29.1l1-1.2 1 2.6 1-2.5 1 3.8 1-4.2 .9 22-5-3.1z" fill="url(#v18_11)"/><path d="M39-26.4l1-4.2 1 2 1 .7 .9 19.3-3-.6z" fill="url(#v18_10)"/><path d="M41-28.6l1 .7 1 .7 .9 18.6-2 0z" fill="url(#v17_10)"/><path d="M42-27.9l1 .7 1-1.4 1 1 1 .2 1-1.4 1 1.9 1-.1 .9 19.7-7-1.3z" fill="url(#v17_9)"/><path d="M48-26.9l1-.1 1-.7 1-.7 .9 21.1-3 0z" fill="url(#v16_9)"/><path d="M50-27.7l1-.7 1 1.5 1-.3 .9 19.9-3 0z" fill="url(#v17_9)"/><path d="M52-26.9l1-.3 1 .3 1-.8 1-.9 .9 21.5-4-.2z" fill="url(#v16_9)"/><path d="M55-27.7l1-.9 1 3 1-.9 .9 19.4-3-.6z" fill="url(#v17_9)"/><path d="M57-25.6l1-.9 1 0 .9 19.4-2 0z" fill="url(#v16_9)"/><path d="M58-26.5l1 0 1-.7 1-1.1 1 1.9 1-.2 1-1.1 1 2.9 1-.5 .9 19.1-8-.9z" fill="url(#v16_8)"/><path d="M65-24.8l1-.5 1 0 1-.8 .9 19.9-3-.2z" fill="url(#v15_8)"/><path d="M67-25.3l1-.8 1-.2 1 .9 1-2.7 1 3 1-.5 .9 18.5-6 .9z" fill="url(#v16_8)"/><path d="M72-25.1l1-.5 1-1.5 .9 20-2 .9z" fill="url(#v15_8)"/><path d="M73-25.6l1-1.5 1 .4 1 1 1-.4 1-.5 1 1 1-.7 .9 21.7-7-2.5z" fill="url(#v16_8)"/><path d="M79-25.6l1-.7 1 1.9 1-1.1 .9 21-3-.1z" fill="url(#v16_7)"/><path d="M81-24.4l1-1.1 1 2.1 1-.9 1 .4 1-2.9 .9 22.3-5 0z" fill="url(#v15_7)"/><path d="M85-23.9l1-2.9 1 2.2 .9 20.1-2 0z" fill="url(#v16_8)"/><path d="M86-26.8l1 2.2 1-.9 .9 20.5-2 .5z" fill="url(#v16_7)"/><path d="M87-24.6l1-.9 1 1.5 .9 19-2 .5z" fill="url(#v15_7)"/><path d="M88-25.5l1 1.5 1-.8 1 .1 .9 19.7-3 0z" fill="url(#v15_8)"/><path d="M90-24.8l1 .1 1 .8 1-3 .9 21.9-3 0z" fill="url(#v15_7)"/><path d="M92-23.9l1-3 1 4.1 1-2.7 .9 19.1-3 1.4z" fill="url(#v16_8)"/><path d="M94-22.8l1-2.7 .9 19.1-1 1.4z" fill="url(#v15_8)"/></g>
<g transform="matrix(1.6886 -.1749 0 1 84.69 183.25)"><path d="M0-26.3l6-3.1 4-1.2 .9 4.8-4 .3-6 0z" fill="#1affe5"/><path d="M9-29.7l3-.5 .9 4.4-3 0z" fill="#80ff80"/><path d="M11-32.3l2 3.4 .9 3.1-2 0z" fill="#e5ff1a"/><path d="M12-30.2l3 2.3 .9 2.1-3 0z" fill="#80ff80"/><path d="M14-28.3l6 1.8 3 .6 .9 3.5-3-1.3-6-2.1z" fill="#1affe5"/><path d="M22-27.7l2 3 .9 2.3-2-1.3z" fill="#80ff80"/><path d="M23-25.9l6 4.2 1 .5 .9 2.9-1-1.3-6-2.8z" fill="#1affe5"/><path d="M29-21.7l6 2.9 6 .5 6 2 6 0 2 0 .9 2.3-2-.2-6-.8-6-1.2-6-1.8-6-1.6z" fill="#00b2ff"/><path d="M54-16.3l6-.5 6 1.3 6 0 6 .9 6 1 6 0 5-.6 .9 2.3-5-.3-6-.3-6-.2-6-.3-6-.3-6-.4-6-.4z" fill="#004dff"/></g>
<g transform="matrix(1.6883 -.1754 0 1 86.19 188.14)"><path d="M0-32.1l1 .6 1-2.2 .9 18.9-2 0z" fill="url(#v19_13)"/><path d="M1-31.5l1-2.2 1-1.2 .9 20.1-2 0z" fill="url(#v20_13)"/><path d="M2-33.7l1-1.2 1 .4 1 .9 1-1.2 1-.1 1-.7 1-2.5 .9 21.5-7 1.8z" fill="url(#v21_14)"/><path d="M8-35.6l1-2.5 1-3.7 .9 25.2-2 .6z" fill="url(#v23_14)"/><path d="M9-38.1l1-3.7 1-8.3 .9 33.6-2-.1z" fill="url(#v25_15)"/><path d="M10-41.8l1-8.3 1 6.3 .9 29.1-2-1.9z" fill="url(#v30_16)"/><path d="M11-50.1l1 6.3 1 5.8 .9 24.7-2-3.2z" fill="url(#v30_15)"/><path d="M12-43.8l1 5.8 1 3.4 .9 21.3-2-1.4z" fill="url(#v26_14)"/><path d="M13-38l1 3.4 1 2.7 .9 18.6-2 0z" fill="url(#v22_14)"/><path d="M14-34.6l1 2.7 1-1.1 .9 19.7-2 0z" fill="url(#v21_13)"/><path d="M15-31.9l1-1.1 1-.7 1-.4 .9 20.8-3 0z" fill="url(#v20_12)"/><path d="M17-33.7l1-.4 1-1.9 .9 22.7-2 0z" fill="url(#v20_13)"/><path d="M18-34.1l1-1.9 1 2.4 1-3.3 .9 24.8-3-1.2z" fill="url(#v21_12)"/><path d="M20-33.6l1-3.3 1-5.1 .9 30.7-2-2.1z" fill="url(#v22_13)"/><path d="M21-36.9l1-5.1 1 5.8 .9 25.6-2-1.5z" fill="url(#v25_13)"/><path d="M22-42l1 5.8 1 4.2 .9 22.3-2-1.6z" fill="url(#v25_12)"/><path d="M23-36.2l1 4.2 1 2.2 .9 20.5-2-1.3z" fill="url(#v22_11)"/><path d="M24-32l1 2.2 1-1.8 .9 28.4-2-6.5z" fill="url(#v19_11)"/><path d="M25-29.8l1-1.8 1 1.5 1-.9 .9 27.8-3-6.1z" fill="url(#v19_10)"/><path d="M27-30.1l1-.9 1 2.5 .9 25.3-2 0z" fill="url(#v18_9)"/><path d="M28-31l1 2.5 1-.5 .9 25.8-2 0z" fill="url(#v18_7)"/><path d="M29-28.5l1-.5 1-.1 .9 25.9-2 0z" fill="url(#v17_7)"/><path d="M30-29l1-.1 1 3.4 1-.3 .9 21.4-3 1.4z" fill="url(#v17_8)"/><path d="M32-25.7l1-.3 1-2.8 .9 24.8-2 .8z" fill="url(#v16_7)"/><path d="M33-26l1-2.8 1 1.8 1 2.6 .9 21.6-3-1.8z" fill="url(#v17_7)"/><path d="M35-27l1 2.6 1-1 1 .7 1-.5 .9 24.4-4-3z" fill="url(#v16_6)"/><path d="M38-24.7l1-.5 1-2.1 .9 26.5-2 0z" fill="url(#v15_6)"/><path d="M39-25.2l1-2.1 1 3.3 .9 23.6-2-.4z" fill="url(#v16_6)"/><path d="M40-27.3l1 3.3 1-5.4 1 4.8 1 .8 .9 23.4-4-.4z" fill="url(#v16_5)"/><path d="M43-24.6l1 .8 1-2.6 1 .9 1-.4 1-.5 1 1.1 .9 27.8-6-2.9z" fill="url(#v15_4)"/><path d="M48-26.4l1 1.1 1 0 1 3.5 .9 24.3-3 0z" fill="url(#v15_3)"/><path d="M50-25.3l1 3.5 1-.9 .9 25.2-2 0z" fill="url(#v15_4)"/><path d="M51-21.8l1-.9 1-1.9 1 .8 1-.5 1 1.9 .9 23.3-5 1.6z" fill="url(#v14_4)"/><path d="M55-24.3l1 1.9 1-3.3 .9 26.6-2 0z" fill="url(#v14_3)"/><path d="M56-22.4l1-3.3 1 0 1 1.8 1-.3 .9 25.6-4-.5z" fill="url(#v15_3)"/><path d="M59-23.9l1-.3 1 .5 .9 25.5-2-.4z" fill="url(#v14_4)"/><path d="M60-24.2l1 .5 1-.5 1 .9 1 .9 1-1 1 .4 1 2 1-2 1 .3 1-.2 1 .9 1-1.1 1-.2 1 1.7 1-1.2 1-.5 1 .1 1 2 1 1.1 .9 22.5-6-.6-6 0-6 0-1-.4z" fill="url(#v14_3)"/><path d="M78-21.2l1 1.1 1-2.1 .9 25.1-2-.5z" fill="url(#v13_3)"/><path d="M79-20.1l1-2.1 1 1.3 1-4.1 .9 30.6-3-3.2z" fill="url(#v13_2)"/><path d="M81-20.9l1-4.1 1 3.9 .9 26.7-2 0z" fill="url(#v14_3)"/><path d="M82-25l1 3.9 1 .1 .9 26.6-2 0z" fill="url(#v14_2)"/><path d="M83-21.1l1 .1 1-1.7 1 1.4 1 2.2 .9 24.7-4 0z" fill="url(#v13_1)"/><path d="M86-21.3l1 2.2 1-2.5 1 1.1 1-.5 1 1.3 1-.8 1-.6 1-.2 1 1.2 .9 24.6-9 1.1z" fill="url(#v13_2)"/></g>
<g transform="matrix(1.688 -.176 0 1 87.69 193.03)"><path d="M0-20.8l4-3 .9 6.2-4 0z" fill="#00b2ff"/><path d="M3-23.5l6-.8 3-1.1 .9 6-3-1.1-6 2.9z" fill="#1affe5"/><path d="M11-28.7l2 5.2 .9 4.1-2-1.3z" fill="#80ff80"/><path d="M12-25.4l3 3.3 .9 2.7-3 0z" fill="#1affe5"/><path d="M14-22.6l6 2.3 6 3.7 3 1.9 .9 3.4-3-2.7-6-.9-6-4.5z" fill="#00b2ff"/><path d="M28-15.3l6 3.6 6 1.5 3 1.8 .9 .9-3-1-6-1.3-6-4.2z" fill="#004dff"/><path d="M42-9.1l6 2 6 .1 6 .6 6 .7 6 0 6 .1 6 .6 6 .7 5 0 .9 1.4-5-.3-6-.4-6-.3-6-.4-6-.3-6-.4-6-.6-6-.8-6-1.4z" fill="#0000e6"/></g>
<g transform="matrix(1.6878 -.1765 0 1 89.19 197.93)"><path d="M0-23.7l1-4 1-.1 .9 10.4-1-.6-1 2.5z" fill="url(#v16_13)"/><path d="M1-27.7l1-.1 1 1.3 .9 10.8-1-1.7-1-.6z" fill="url(#v17_14)"/><path d="M2-27.8l1 1.3 1-1.1 1-3.2 .9 11.2-1-.2-1 4.1-1-1.7z" fill="url(#v17_13)"/><path d="M4-27.6l1-3.2 1 .8 1-2.1 1 2.4 .9 10.9-1 .2-1-.5-1-.5-1-.2z" fill="url(#v18_14)"/><path d="M7-32.1l1 2.4 1 2.9 .9 12.4-1-4.4-1 .2z" fill="url(#v18_13)"/><path d="M8-29.7l1 2.9 1-6.4 .9 22.1-1-3.3-1-4.4z" fill="url(#v18_12)"/><path d="M9-26.8l1-6.4 1-3.6 .9 26.1-1-.4-1-3.3z" fill="url(#v20_10)"/><path d="M10-33.2l1-3.6 1 5.3 1 2.9 .9 17.7-1-1.8-1 2-1-.4z" fill="url(#v23_10)"/><path d="M12-31.5l1 2.9 1 1.1 .9 20.5-1-3.9-1-1.8z" fill="url(#v19_9)"/><path d="M13-28.6l1 1.1 1 .8 .9 15.6-1 4.1-1-3.9z" fill="url(#v18_8)"/><path d="M14-27.5l1 .8 1-2.3 1 1.2 1 2.3 1-.5 .9 21.4-1-4-1-1.6-1 1.5-1-2.4-1 4.1z" fill="url(#v17_8)"/><path d="M18-25.5l1-.5 1-1.3 1 1.1 1 .7 .9 22.7-1-.7-1-2.1-1 1-1-4z" fill="url(#v16_6)"/><path d="M21-26.2l1 .7 1 2.2 .9 20-1 .5-1-.7z" fill="url(#v16_5)"/><path d="M22-25.5l1 2.2 1-.5 1 1.4 .9 17-1 .4-1 1.7-1 .5z" fill="url(#v15_5)"/><path d="M24-23.8l1 1.4 1 1.4 .9 20-1-4.4-1 .4z" fill="url(#v14_5)"/><path d="M25-22.4l1 1.4 1-2.8 1 2 1 .6 .9 20.1-1-.8-1-1.5-1 2.4-1-4.4z" fill="url(#v14_4)"/><path d="M28-21.8l1 .6 1 1.2 1-1.6 .9 21.3-1-2.9-1 2.1-1-.8z" fill="url(#v13_4)"/><path d="M30-20l1-1.6 1-1.1 1 2.3 1 .1 .9 21.8-1-1.3-1-5.3-1 4.8-1-2.9z" fill="url(#v13_3)"/><path d="M33-20.4l1 .1 1 3 1-1.3 .9 21.5-1-4.2-1 2.8-1-1.3z" fill="url(#v12_3)"/><path d="M35-17.3l1-1.3 1 .3 1-1.1 1 2.1 .9 18.1-1 .2-1 3.2-1-1.3-1-4.2z" fill="url(#v11_2)"/><path d="M38-19.4l1 2.1 1 1.4 .9 17.4-1-.7-1 .2z" fill="url(#v11_3)"/><path d="M39-17.3l1 1.4 1-.7 .9 21.2-1-3.1-1-.7z" fill="url(#v10_2)"/><path d="M40-15.9l1-.7 1 .7 1-2 .9 18.4-1 3.2-1 .9-1-3.1z" fill="url(#v10_1)"/><path d="M42-15.9l1-2 1 1.2 1 .6 1 .4 1-.7 1 1.8 1 .7 .9 17.3-1-3.2-1 1.3-1-.6-1 2.6-1-2.9-1-.1-1 3.2z" fill="url(#v10_2)"/><path d="M48-14.6l1 .7 1 1.2 1-3.5 .9 18.9-1-3.2-1 3.9-1-3.2z" fill="url(#v9_1)"/><path d="M50-12.7l1-3.5 1 .9 1 0 1 .8 .9 18.7-1-3.5-1-1-1 3-1-3.2z" fill="url(#v9_2)"/><path d="M53-15.3l1 .8 1-1.8 1 3.2 1-2.5 .9 16.4-1 1.2-1 1-1 1.2-1-3.5z" fill="url(#v9_1)"/><path d="M56-13.1l1-2.5 1 2.5 .9 17.7-1-3.8-1 1.2z" fill="url(#v9_2)"/><path d="M57-15.6l1 2.5 1-.4 .9 17.1-1 1-1-3.8z" fill="url(#v9_1)"/><path d="M58-13.1l1-.4 1 1 1-1.5 .9 15.9-1-.3-1 2-1 1z" fill="url(#v8_1)"/><path d="M60-12.5l1-1.5 1 .5 .9 18.1-1-2.7-1-.3z" fill="url(#v8_2)"/><path d="M61-14l1 .5 1-.8 1 1.3 1 1 1-2.2 1-2 .9 17.5-1 1.2-1 2.1-1-2.5-1 2.5-1 0-1-2.7z" fill="url(#v8_1)"/><path d="M66-14.2l1-2 1 1.9 1 1 .9 17.9-1-1.6-1-1.7-1 1.2z" fill="url(#v9_1)"/><path d="M68-14.3l1 1 1-.9 1 3 .9 12.2-1-.1-1 3.7-1-1.6z" fill="url(#v8_1)"/><path d="M70-14.2l1 3 1-1.3 1-2 1 .9 .9 18.2-1-4.3-1 .3-1 .4-1-.1z" fill="url(#v8_2)"/><path d="M73-14.5l1 .9 1 1.6 1-2.8 1 2.1 1-1.7 1 3.3 1-1 1-1 1 .1 1-.2 1 .8 1 .2 1-.7 1-1.2 1 3.6 1-1.3 .9 13.8-1-.5-1 1.2-1 .5-1-.8-1 2.2-1-1-1-.9-1-2.3-1 3.2-1 0-1 0-1-2.1-1 .5-1-1.4-1 4-1-4.3z" fill="url(#v8_1)"/><path d="M88-10.5l1-1.3 1-.1 1-.4 1-.9 .9 16.3-1-.2-1 .4-1-1.3-1-.5z" fill="url(#v7_1)"/><path d="M91-12.3l1-.9 1 2.8 1-2.1 .9 14.6-1-.1-1 1.1-1-.2z" fill="url(#v8_1)"/><path d="M93-10.4l1-2.1 1 2.7 .9 12.8-1-.9-1-.1z" fill="url(#v7_1)"/></g>
<g fill="none"><path d="M251 186L251 107" stroke="#3a3a3a" stroke-width="0.7"/><path d="M60.5 110L89 203" stroke="#3a3a3a" stroke-width="0.7"/><path d="M89 203L251 186" stroke="#3a3a3a" stroke-width="0.7"/><path d="M89 203L89.8 205.5" stroke="#3a3a3a" stroke-width="0.6"/><path d="M105.2 201.3L106 203.8" stroke="#3a3a3a" stroke-width="0.6"/><path d="M121.4 199.6L122.2 202.1" stroke="#3a3a3a" stroke-width="0.6"/><path d="M137.6 197.9L138.4 200.4" stroke="#3a3a3a" stroke-width="0.6"/><path d="M153.8 196.2L154.6 198.7" stroke="#3a3a3a" stroke-width="0.6"/><path d="M170 194.5L170.8 197" stroke="#3a3a3a" stroke-width="0.6"/><path d="M186.2 192.8L187 195.3" stroke="#3a3a3a" stroke-width="0.6"/><path d="M202.4 191.1L203.2 193.6" stroke="#3a3a3a" stroke-width="0.6"/><path d="M218.6 189.4L219.4 191.9" stroke="#3a3a3a" stroke-width="0.6"/><path d="M234.8 187.7L235.6 190.2" stroke="#3a3a3a" stroke-width="0.6"/><path d="M251 186L251.8 188.5" stroke="#3a3a3a" stroke-width="0.6"/><path d="M89 203L86.4 203.3" stroke="#3a3a3a" stroke-width="0.6"/><path d="M81.9 179.8L79.3 180" stroke="#3a3a3a" stroke-width="0.6"/><path d="M74.8 156.5L72.2 156.8" stroke="#3a3a3a" stroke-width="0.6"/><path d="M67.6 133.2L65 133.5" stroke="#3a3a3a" stroke-width="0.6"/><path d="M60.5 110L57.9 110.3" stroke="#3a3a3a" stroke-width="0.6"/><path d="M60.5 96.5L59.3 94.3" stroke="#3a3a3a" stroke-width="0.6"/><path d="M60.5 69.5L59.3 67.3" stroke="#3a3a3a" stroke-width="0.6"/><path d="M60.5 42.5L59.3 40.3" stroke="#3a3a3a" stroke-width="0.6"/></g>
<text x="91.5" y="217.6" font-size="7.1" text-anchor="middle">0</text><text x="107.7" y="215.9" font-size="7.1" text-anchor="middle">5</text><text x="123.9" y="214.3" font-size="7.1" text-anchor="middle">10</text><text x="140" y="212.7" font-size="7.1" text-anchor="middle">15</text><text x="156.2" y="211" font-size="7.1" text-anchor="middle">20</text><text x="172.4" y="209.4" font-size="7.1" text-anchor="middle">25</text><text x="188.6" y="207.8" font-size="7.1" text-anchor="middle">30</text><text x="204.8" y="206.1" font-size="7.1" text-anchor="middle">35</text><text x="220.9" y="204.5" font-size="7.1" text-anchor="middle">40</text><text x="237.1" y="202.9" font-size="7.1" text-anchor="middle">45</text><text x="253.3" y="201.3" font-size="7.1" text-anchor="middle">50</text><text x="77.5" y="212" font-size="7.1" text-anchor="middle">-50</text><text x="70.7" y="188.8" font-size="7.1" text-anchor="middle">-25</text><text x="63.9" y="165.7" font-size="7.1" text-anchor="middle">0</text><text x="57" y="142.5" font-size="7.1" text-anchor="middle">25</text><text x="50.2" y="119.4" font-size="7.1" text-anchor="middle">50</text><text x="58" y="93.8" font-size="7.1" text-anchor="end">10</text><text x="58" y="67" font-size="7.1" text-anchor="end">20</text><text x="58" y="40.2" font-size="7.1" text-anchor="end">30</text>
<rect x="277.6" y="13.7" width="15.3" height="189.4" fill="url(#jet)" stroke="#333" stroke-width=".5"/>
<g fill="none"><path d="M291.3 165.2L292.9 165.2" stroke="#222" stroke-width="0.5"/><path d="M291.3 127.3L292.9 127.3" stroke="#222" stroke-width="0.5"/><path d="M291.3 89.5L292.9 89.5" stroke="#222" stroke-width="0.5"/><path d="M291.3 51.6L292.9 51.6" stroke="#222" stroke-width="0.5"/></g><text x="295.7" y="205.7" font-size="7.1">5</text><text x="295.7" y="167.8" font-size="7.1">10</text><text x="295.7" y="129.9" font-size="7.1">15</text><text x="295.7" y="92" font-size="7.1">20</text><text x="295.7" y="54.1" font-size="7.1">25</text><text x="295.7" y="16.3" font-size="7.1">30</text>
<text x="1.5" y="8.8" class="tt">25<tspan font-size="6" dy="-2.9" dx=".2">°</tspan><tspan dy="2.9" dx="-.3" textLength="5.9" lengthAdjust="spacingAndGlyphs">C</tspan></text>
<text x="38.6" y="72.5" font-size="8.3" text-anchor="middle" transform="rotate(92 38.6 69.5)">Amplitude (dB)</text>
<text x="47.3" y="170.5" font-size="8.3" text-anchor="middle" transform="rotate(73 47.3 167.5)">Distance (um)</text>
<text x="172" y="227.5" font-size="8.3" text-anchor="middle" transform="rotate(-5.6 172 224.5)">Frequency (Hz)</text>
</g>
<g>
<path d="M376 109l160.8-15.4 0-80.2-160.8 15.1z" fill="#fff"/>
<path d="M536.8 93.6l29.2 92.6 0-78.8-29.2-94z" fill="#f3f3f3"/>
<path d="M376 109l28 93 162-15.8-29.2-92.6z" fill="#fff"/>
<g fill="none"><path d="M384 108.2L384 27.7" stroke="#dedede" stroke-width="0.5" stroke-dasharray=".6 .8"/><path d="M392.1 107.5L392.1 27" stroke="#d8d8d8" stroke-width="0.5"/><path d="M400.1 106.7L400.1 26.2" stroke="#dedede" stroke-width="0.5" stroke-dasharray=".6 .8"/><path d="M408.2 105.9L408.2 25.5" stroke="#d8d8d8" stroke-width="0.5"/><path d="M416.2 105.2L416.2 24.7" stroke="#dedede" stroke-width="0.5" stroke-dasharray=".6 .8"/><path d="M424.2 104.4L424.2 24" stroke="#d8d8d8" stroke-width="0.5"/><path d="M432.3 103.6L432.3 23.2" stroke="#dedede" stroke-width="0.5" stroke-dasharray=".6 .8"/><path d="M440.3 102.8L440.3 22.5" stroke="#d8d8d8" stroke-width="0.5"/><path d="M448.4 102.1L448.4 21.7" stroke="#dedede" stroke-width="0.5" stroke-dasharray=".6 .8"/><path d="M456.4 101.3L456.4 21" stroke="#d8d8d8" stroke-width="0.5"/><path d="M464.4 100.5L464.4 20.2" stroke="#dedede" stroke-width="0.5" stroke-dasharray=".6 .8"/><path d="M472.5 99.8L472.5 19.4" stroke="#d8d8d8" stroke-width="0.5"/><path d="M480.5 99L480.5 18.7" stroke="#dedede" stroke-width="0.5" stroke-dasharray=".6 .8"/><path d="M488.6 98.2L488.6 17.9" stroke="#d8d8d8" stroke-width="0.5"/><path d="M496.6 97.4L496.6 17.2" stroke="#dedede" stroke-width="0.5" stroke-dasharray=".6 .8"/><path d="M504.6 96.7L504.6 16.4" stroke="#d8d8d8" stroke-width="0.5"/><path d="M512.7 95.9L512.7 15.7" stroke="#dedede" stroke-width="0.5" stroke-dasharray=".6 .8"/><path d="M520.7 95.1L520.7 14.9" stroke="#d8d8d8" stroke-width="0.5"/><path d="M528.8 94.4L528.8 14.2" stroke="#dedede" stroke-width="0.5" stroke-dasharray=".6 .8"/><path d="M376 102.3L536.8 86.9" stroke="#dedede" stroke-width="0.5" stroke-dasharray=".6 .8"/><path d="M376 95.6L536.8 80.2" stroke="#d8d8d8" stroke-width="0.5"/><path d="M376 88.9L536.8 73.5" stroke="#dedede" stroke-width="0.5" stroke-dasharray=".6 .8"/><path d="M376 82.2L536.8 66.9" stroke="#d8d8d8" stroke-width="0.5"/><path d="M376 75.5L536.8 60.2" stroke="#dedede" stroke-width="0.5" stroke-dasharray=".6 .8"/><path d="M376 68.8L536.8 53.5" stroke="#d8d8d8" stroke-width="0.5"/><path d="M376 62L536.8 46.8" stroke="#dedede" stroke-width="0.5" stroke-dasharray=".6 .8"/><path d="M376 55.3L536.8 40.1" stroke="#d8d8d8" stroke-width="0.5"/><path d="M376 48.6L536.8 33.4" stroke="#dedede" stroke-width="0.5" stroke-dasharray=".6 .8"/><path d="M376 41.9L536.8 26.8" stroke="#d8d8d8" stroke-width="0.5"/><path d="M376 35.2L536.8 20.1" stroke="#dedede" stroke-width="0.5" stroke-dasharray=".6 .8"/><path d="M536.8 90.3L566 182.9" stroke="#cdcdcd" stroke-width="0.5" stroke-dasharray=".6 .8"/><path d="M536.8 86.9L566 179.6" stroke="#cdcdcd" stroke-width="0.5" stroke-dasharray=".6 .8"/><path d="M536.8 83.6L566 176.3" stroke="#cdcdcd" stroke-width="0.5" stroke-dasharray=".6 .8"/><path d="M536.8 80.2L566 173.1" stroke="#cfcfcf" stroke-width="0.5"/><path d="M536.8 76.9L566 169.8" stroke="#cdcdcd" stroke-width="0.5" stroke-dasharray=".6 .8"/><path d="M536.8 73.5L566 166.5" stroke="#cdcdcd" stroke-width="0.5" stroke-dasharray=".6 .8"/><path d="M536.8 70.2L566 163.2" stroke="#cdcdcd" stroke-width="0.5" stroke-dasharray=".6 .8"/><path d="M536.8 66.9L566 159.9" stroke="#cfcfcf" stroke-width="0.5"/><path d="M536.8 63.5L566 156.6" stroke="#cdcdcd" stroke-width="0.5" stroke-dasharray=".6 .8"/><path d="M536.8 60.2L566 153.4" stroke="#cdcdcd" stroke-width="0.5" stroke-dasharray=".6 .8"/><path d="M536.8 56.8L566 150.1" stroke="#cdcdcd" stroke-width="0.5" stroke-dasharray=".6 .8"/><path d="M536.8 53.5L566 146.8" stroke="#cfcfcf" stroke-width="0.5"/><path d="M536.8 50.2L566 143.5" stroke="#cdcdcd" stroke-width="0.5" stroke-dasharray=".6 .8"/><path d="M536.8 46.8L566 140.2" stroke="#cdcdcd" stroke-width="0.5" stroke-dasharray=".6 .8"/><path d="M536.8 43.5L566 136.9" stroke="#cdcdcd" stroke-width="0.5" stroke-dasharray=".6 .8"/><path d="M536.8 40.1L566 133.7" stroke="#cfcfcf" stroke-width="0.5"/><path d="M536.8 36.8L566 130.4" stroke="#cdcdcd" stroke-width="0.5" stroke-dasharray=".6 .8"/><path d="M536.8 33.4L566 127.1" stroke="#cdcdcd" stroke-width="0.5" stroke-dasharray=".6 .8"/><path d="M536.8 30.1L566 123.8" stroke="#cdcdcd" stroke-width="0.5" stroke-dasharray=".6 .8"/><path d="M536.8 26.8L566 120.5" stroke="#cfcfcf" stroke-width="0.5"/><path d="M536.8 23.4L566 117.2" stroke="#cdcdcd" stroke-width="0.5" stroke-dasharray=".6 .8"/><path d="M536.8 20.1L566 114" stroke="#cdcdcd" stroke-width="0.5" stroke-dasharray=".6 .8"/><path d="M536.8 16.7L566 110.7" stroke="#cdcdcd" stroke-width="0.5" stroke-dasharray=".6 .8"/><path d="M564.5 181.6L564.5 102.7" stroke="#d2d2d2" stroke-width="0.5" stroke-dasharray=".6 .8"/><path d="M563.1 176.9L563.1 98" stroke="#d2d2d2" stroke-width="0.5" stroke-dasharray=".6 .8"/><path d="M561.6 172.3L561.6 93.3" stroke="#d2d2d2" stroke-width="0.5" stroke-dasharray=".6 .8"/><path d="M560.2 167.7L560.2 88.6" stroke="#d2d2d2" stroke-width="0.5" stroke-dasharray=".6 .8"/><path d="M558.7 163L558.7 83.9" stroke="#cfcfcf" stroke-width="0.5"/><path d="M557.2 158.4L557.2 79.2" stroke="#d2d2d2" stroke-width="0.5" stroke-dasharray=".6 .8"/><path d="M555.8 153.8L555.8 74.5" stroke="#d2d2d2" stroke-width="0.5" stroke-dasharray=".6 .8"/><path d="M554.3 149.2L554.3 69.8" stroke="#d2d2d2" stroke-width="0.5" stroke-dasharray=".6 .8"/><path d="M552.9 144.5L552.9 65.1" stroke="#d2d2d2" stroke-width="0.5" stroke-dasharray=".6 .8"/><path d="M551.4 139.9L551.4 60.4" stroke="#cfcfcf" stroke-width="0.5"/><path d="M549.9 135.3L549.9 55.7" stroke="#d2d2d2" stroke-width="0.5" stroke-dasharray=".6 .8"/><path d="M548.5 130.6L548.5 51" stroke="#d2d2d2" stroke-width="0.5" stroke-dasharray=".6 .8"/><path d="M547 126L547 46.3" stroke="#d2d2d2" stroke-width="0.5" stroke-dasharray=".6 .8"/><path d="M545.6 121.4L545.6 41.6" stroke="#d2d2d2" stroke-width="0.5" stroke-dasharray=".6 .8"/><path d="M544.1 116.7L544.1 36.9" stroke="#cfcfcf" stroke-width="0.5"/><path d="M542.6 112.1L542.6 32.2" stroke="#d2d2d2" stroke-width="0.5" stroke-dasharray=".6 .8"/><path d="M541.2 107.5L541.2 27.5" stroke="#d2d2d2" stroke-width="0.5" stroke-dasharray=".6 .8"/><path d="M539.7 102.9L539.7 22.8" stroke="#d2d2d2" stroke-width="0.5" stroke-dasharray=".6 .8"/><path d="M538.3 98.2L538.3 18.1" stroke="#d2d2d2" stroke-width="0.5" stroke-dasharray=".6 .8"/><path d="M384 108.2L412.1 201.2" stroke="#dedede" stroke-width="0.5" stroke-dasharray=".6 .8"/><path d="M392.1 107.5L420.2 200.4" stroke="#d8d8d8" stroke-width="0.5"/><path d="M400.1 106.7L428.3 199.6" stroke="#dedede" stroke-width="0.5" stroke-dasharray=".6 .8"/><path d="M408.2 105.9L436.4 198.8" stroke="#d8d8d8" stroke-width="0.5"/><path d="M416.2 105.2L444.5 198.1" stroke="#dedede" stroke-width="0.5" stroke-dasharray=".6 .8"/><path d="M424.2 104.4L452.6 197.3" stroke="#d8d8d8" stroke-width="0.5"/><path d="M432.3 103.6L460.7 196.5" stroke="#dedede" stroke-width="0.5" stroke-dasharray=".6 .8"/><path d="M440.3 102.8L468.8 195.7" stroke="#d8d8d8" stroke-width="0.5"/><path d="M448.4 102.1L476.9 194.9" stroke="#dedede" stroke-width="0.5" stroke-dasharray=".6 .8"/><path d="M456.4 101.3L485 194.1" stroke="#d8d8d8" stroke-width="0.5"/><path d="M464.4 100.5L493.1 193.3" stroke="#dedede" stroke-width="0.5" stroke-dasharray=".6 .8"/><path d="M472.5 99.8L501.2 192.5" stroke="#d8d8d8" stroke-width="0.5"/><path d="M480.5 99L509.3 191.7" stroke="#dedede" stroke-width="0.5" stroke-dasharray=".6 .8"/><path d="M488.6 98.2L517.4 190.9" stroke="#d8d8d8" stroke-width="0.5"/><path d="M496.6 97.4L525.5 190.1" stroke="#dedede" stroke-width="0.5" stroke-dasharray=".6 .8"/><path d="M504.6 96.7L533.6 189.4" stroke="#d8d8d8" stroke-width="0.5"/><path d="M512.7 95.9L541.7 188.6" stroke="#dedede" stroke-width="0.5" stroke-dasharray=".6 .8"/><path d="M520.7 95.1L549.8 187.8" stroke="#d8d8d8" stroke-width="0.5"/><path d="M528.8 94.4L557.9 187" stroke="#dedede" stroke-width="0.5" stroke-dasharray=".6 .8"/><path d="M400.5 190.4L562.4 174.6" stroke="#dedede" stroke-width="0.5" stroke-dasharray=".6 .8"/><path d="M397 178.8L558.7 163" stroke="#d8d8d8" stroke-width="0.5"/><path d="M393.5 167.1L555 151.5" stroke="#dedede" stroke-width="0.5" stroke-dasharray=".6 .8"/><path d="M390 155.5L551.4 139.9" stroke="#d8d8d8" stroke-width="0.5"/><path d="M386.5 143.9L547.8 128.3" stroke="#dedede" stroke-width="0.5" stroke-dasharray=".6 .8"/><path d="M383 132.2L544.1 116.7" stroke="#d8d8d8" stroke-width="0.5"/><path d="M379.5 120.6L540.4 105.2" stroke="#dedede" stroke-width="0.5" stroke-dasharray=".6 .8"/></g>
<g fill="none"><path d="M376 28.5L536.8 13.4" stroke="#3a3a3a" stroke-width="0.7"/><path d="M536.8 13.4L566 107.4" stroke="#3a3a3a" stroke-width="0.7"/><path d="M536.8 93.6L536.8 13.4" stroke="#6a6a6a" stroke-width="1.0"/><path d="M376 109L376 28.5" stroke="#3a3a3a" stroke-width="0.7"/></g>
<path d="M376 109l1.5 4.9 1.4 4.9 1.5 4.9 1.5 4.9 1.5 4.9 1.4 4.9 1.5 4.9 1.5 4.9 1.5 4.9 1.4 4.8 1.5 4.9 1.5 4.9 1.5 4.9 1.4 4.9 1.5 4.9 1.5 4.9 1.5 4.9 1.4 4.9 1.5 4.9 1.7-23-1.5-14-1.5 3.1-1.4-14.4-1.5 2-1.5-10.1-1.5-.7-1.4-11.4-1.5 .8-1.5-8.2-1.5 2.3-1.4-12.2-1.5 3.8-1.5-10.3-1.5 5.1-1.4-12.6-1.5 4.5-1.5-10.7-1.5 2.2-1.4-7.5z" fill="url(#w1)"/>
<g transform="matrix(1.675 -.1604 0 1 377.68 108.84)"><path d="M0-18.2l1-2.9 1-4.4 .9 16.3-2 0z" fill="url(#v13_9)"/><path d="M1-21.1l1-4.4 1-.5 .9 16.8-2 0z" fill="url(#v15_9)"/><path d="M2-25.5l1-.5 1 4.5 1-2.7 .9 14.1-3 .9z" fill="url(#v15_11)"/><path d="M4-21.5l1-2.7 1-.2 1 2.2 .9 12.1-3 .8z" fill="url(#v14_11)"/><path d="M6-24.4l1 2.2 1 .6 .9 11.5-2 0z" fill="url(#v14_10)"/><path d="M7-22.2l1 .6 1-1.8 .9 13.3-2 0z" fill="url(#v13_10)"/><path d="M8-21.6l1-1.8 1-4.1 .9 18.4-2-1z" fill="url(#v14_10)"/><path d="M9-23.4l1-4.1 1-4 .9 23.2-2-1.8z" fill="url(#v16_10)"/><path d="M10-27.5l1-4 1 6.6 .9 17.5-2-1.7z" fill="url(#v18_11)"/><path d="M11-31.5l1 6.6 1 2 .9 16.2-2-1.6z" fill="url(#v18_10)"/><path d="M12-24.9l1 2 1 3.9 .9 12.8-2-1.2z" fill="url(#v15_9)"/><path d="M13-22.9l1 3.9 1 1.3 .9 11.7-2-.7z" fill="url(#v13_9)"/><path d="M14-19l1 1.3 1 1.7 .9 11.5-2-1.7z" fill="url(#v12_8)"/><path d="M15-17.7l1 1.7 1-.1 .9 11.6-2-1.5z" fill="url(#v11_8)"/><path d="M16-16l1-.1 1 .1 1-.4 1 2.4 .9 11.7-4-2.2z" fill="url(#v10_7)"/><path d="M19-16.4l1 2.4 1-2.8 .9 14.5-2 0z" fill="url(#v10_6)"/><path d="M20-14l1-2.8 1 2.5 .9 12.3-2-.3z" fill="url(#v9_6)"/><path d="M21-16.8l1 2.5 1 1.1 1 .7 .9 10.8-3-.6z" fill="url(#v9_5)"/><path d="M23-13.2l1 .7 1-3 1 2.7 1 1.6 1 1.4 .9 9.4-5-1.6z" fill="url(#v8_5)"/><path d="M27-11.2l1 1.4 1-4 .9 13.4-2-.5z" fill="url(#v7_4)"/><path d="M28-9.8l1-4 1 3.1 1-1.9 .9 13.3-3-1.1z" fill="url(#v8_4)"/><path d="M30-10.7l1-1.9 1 0 1 4.7 1-4.3 .9 14.4-4-2.5z" fill="url(#v7_4)"/><path d="M33-7.9l1-4.3 1 2 1 1.2 .9 11.2-3-1.5z" fill="url(#v7_3)"/><path d="M35-10.2l1 1.2 1-.6 1-1.2 1-.1 .9 13.1-4 0z" fill="url(#v6_3)"/><path d="M38-10.8l1-.1 1 .4 1 1.5 .9 10.5-3 .7z" fill="url(#v6_4)"/><path d="M40-10.5l1 1.5 1-2.4 1-.2 1-.4 1 1.1 1-1 1-.2 1 1 1 .5 1 .4 1 .1 1-.4 1 3.2 1-1.7 .9 12.3-6-2-6 .2-2 .7z" fill="url(#v6_3)"/><path d="M53-7.3l1-1.7 1-.9 .9 13.2-2-.8z" fill="url(#v5_3)"/><path d="M54-9l1-.9 1 3.1 1-.7 .9 10.8-3 0z" fill="url(#v6_3)"/><path d="M56-6.8l1-.7 1-5.2 .9 16-2 0z" fill="url(#v5_2)"/><path d="M57-7.5l1-5.2 1 4.8 .9 11.2-2 0z" fill="url(#v6_2)"/><path d="M58-12.7l1 4.8 1-.7 .9 11.9-2 0z" fill="url(#v6_3)"/><path d="M59-7.9l1-.7 1-1 .9 12.8-2 .1z" fill="url(#v5_3)"/><path d="M60-8.6l1-1 1 1.1 1 .5 .9 11.2-3 .1z" fill="url(#v6_3)"/><path d="M62-8.5l1 .5 1-.4 1-.1 .9 11.7-3 0z" fill="url(#v5_2)"/><path d="M64-8.4l1-.1 1 .2 1-1.1 1-1.5 .9 13.3-4 .8z" fill="url(#v5_3)"/><path d="M67-9.4l1-1.5 1 1.6 1-3.1 .9 14.8-3 0z" fill="url(#v6_3)"/><path d="M69-9.3l1-3.1 1 2.7 1-.9 .9 13.7-3-.7z" fill="url(#v6_2)"/><path d="M71-9.7l1-.9 1 1.1 1 1.1 .9 13.2-3-2.4z" fill="url(#v6_3)"/><path d="M73-9.5l1 1.1 1-.8 .9 14-2-1.7z" fill="url(#v5_3)"/><path d="M74-8.4l1-.8 1-.1 1 3.1 1-3.3 1 .2 .9 14.1-5 0z" fill="url(#v5_2)"/><path d="M78-9.5l1 .2 1 .3 1 1.7 1 2 1-4.9 .9 13.4-5 1.6z" fill="url(#v5_3)"/><path d="M82-5.3l1-4.9 1 1.9 1 2.5 .9 10.4-3-1.4z" fill="url(#v6_2)"/><path d="M84-8.3l1 2.5 1-3.3 1 1.6 1-1.6 1 1 1-1.5 .9 14.2-6-1.4z" fill="url(#v5_2)"/><path d="M89-8.1l1-1.5 1 1.2 .9 13-2 0z" fill="url(#v5_3)"/><path d="M90-9.6l1 1.2 1-.1 1 .2 1-1.2 .9 14.9-4-.8z" fill="url(#v5_2)"/><path d="M93-8.3l1-1.2 1 3 .9 11.9-2 0z" fill="url(#v5_3)"/><path d="M94-9.5l1 3 .9 11.9-1 0z" fill="url(#v5_1)"/></g>
<g transform="matrix(1.6757 -.1606 0 1 379.15 113.73)"><path d="M0-15.6l2-2.2 .9 2.7-2 .4z" fill="#004dff"/><path d="M1-16.3l6-1.1 6 2.3 1 .7 .9 5.1-1-1.9-6-3.9-6 0z" fill="#00b2ff"/><path d="M13-15.1l6 3.6 5 2.6 .9 3.4-5-2.8-6-2.9z" fill="#004dff"/><path d="M23-9.4l6 2.2 6 1.1 6 .5 6 .3 6 .2 6 .2 6 .2 6 .1 6 .2 6 .2 6 .2 6 .3 .9 2.2-6 1.4-6 0-6 .5-6 0-6-1.6-6-.4-6-.9-6 0-6 .6-6 0-6-1.9-6-2.7z" fill="#0000e6"/></g>
<g transform="matrix(1.6763 -.1609 0 1 380.62 118.63)"><path d="M0-22.6l1 1.5 1-2.8 .9 14.5-2 0z" fill="url(#v13_10)"/><path d="M1-21.1l1-2.8 1-1.9 .9 16.4-2 0z" fill="url(#v14_10)"/><path d="M2-23.9l1-1.9 1 .4 .9 16-2 0z" fill="url(#v15_10)"/><path d="M3-25.8l1 .4 1-1.5 1-.5 1 5.2 1-2.7 .9 14.8-5 .7z" fill="url(#v15_11)"/><path d="M7-22.2l1-2.7 1-1.2 1-1.7 .9 19.1-3-1.4z" fill="url(#v15_10)"/><path d="M9-26.1l1-1.7 1 4.8 .9 15.2-2-2.3z" fill="url(#v17_11)"/><path d="M10-27.8l1 4.8 1 .3 .9 14.9-2-.9z" fill="url(#v17_10)"/><path d="M11-23l1 .3 1 1.4 .9 13.8-2-.3z" fill="url(#v14_10)"/><path d="M12-22.7l1 1.4 1-1.8 1 .2 1 3.9 .9 13.2-4-2z" fill="url(#v13_9)"/><path d="M15-22.9l1 3.9 1 1.4 .9 13.4-2-3.1z" fill="url(#v13_8)"/><path d="M16-19l1 1.4 1 .4 .9 13-2-1.6z" fill="url(#v12_8)"/><path d="M17-17.6l1 .4 1-.3 1 2.1 .9 15.6-3-4.4z" fill="url(#v11_8)"/><path d="M19-17.5l1 2.1 1-3.3 1 4.4 .9 14.5-3 0z" fill="url(#v10_7)"/><path d="M21-18.7l1 4.4 1-.7 .9 15.2-2 0z" fill="url(#v10_5)"/><path d="M22-14.3l1-.7 1 .2 1 .2 1 2.1 .9 10.5-4 2.2z" fill="url(#v9_5)"/><path d="M25-14.6l1 2.1 1-.3 .9 12.6-2 .4z" fill="url(#v9_6)"/><path d="M26-12.5l1-.3 1-.3 1 .2 1 1.4 .9 11.3-4-1.8z" fill="url(#v8_5)"/><path d="M29-12.9l1 1.4 1-.1 .9 11.4-2 0z" fill="url(#v8_4)"/><path d="M30-11.5l1-.1 1-.6 1-1.6 1 3.9 1-2.1 1-.9 1 5 1-4.6 1 .1 .9 14.1-9-1.9z" fill="url(#v7_4)"/><path d="M38-12.5l1 .1 1 1.7 1-1 1-.5 1 2 .9 11.9-5 0z" fill="url(#v7_3)"/><path d="M42-12.2l1 2 1-.4 .9 11.6-2 .7z" fill="url(#v7_4)"/><path d="M43-10.2l1-.4 1 1.6 .9 10.4-2 .3z" fill="url(#v6_4)"/><path d="M44-10.6l1 1.6 1-.4 1-.9 1 .3 1-2 .9 13.4-5-.4z" fill="url(#v6_3)"/><path d="M48-10l1-2 1 2.2 1 1.2 .9 10.5-3-.5z" fill="url(#v7_3)"/><path d="M50-9.8l1 1.2 1-2.4 .9 12.9-2 0z" fill="url(#v6_4)"/><path d="M51-8.6l1-2.4 1 0 1 .6 1 .7 1 .8 1-.1 1-4.1 .9 14.9-7 .1z" fill="url(#v6_3)"/><path d="M57-9l1-4.1 1 2.5 1 .8 .9 12.4-3-.7z" fill="url(#v7_3)"/><path d="M59-10.6l1 .8 1-.3 1 .9 1 1.6 1-1.3 .9 11.5-5 0z" fill="url(#v6_3)"/><path d="M63-7.6l1-1.3 1-.5 .9 12-2 0z" fill="url(#v5_3)"/><path d="M64-8.9l1-.5 1 2 1-.2 .9 10.2-3 0z" fill="url(#v6_3)"/><path d="M66-7.4l1-.2 1 .4 1-1.5 1-1.2 .9 12.8-4-.3z" fill="url(#v5_3)"/><path d="M69-8.7l1-1.2 1 2.3 .9 10.5-2 0z" fill="url(#v6_3)"/><path d="M70-9.9l1 2.3 1 .9 .9 9.6-2 0z" fill="url(#v6_2)"/><path d="M71-7.6l1 .9 1 1.1 .9 8.5-2 0z" fill="url(#v5_2)"/><path d="M72-6.7l1 1.1 1-2.8 1 .9 1-.2 1 .2 .9 9.9-5 .5z" fill="url(#v5_3)"/><path d="M76-7.7l1 .2 1-4 .9 15.2-2-1.3z" fill="url(#v5_2)"/><path d="M77-7.5l1-4 1 2.9 .9 12.3-2-1.3z" fill="url(#v6_2)"/><path d="M78-11.5l1 2.9 1 .7 .9 12.1-2-.5z" fill="url(#v6_3)"/><path d="M79-8.6l1 .7 1-.2 .9 12.3-2-.5z" fill="url(#v5_3)"/><path d="M80-7.9l1-.2 1-1.6 1 0 1 .9 1 2.7 1-3.5 1-.1 1 .4 .9 13-8 .5z" fill="url(#v5_2)"/><path d="M87-9.7l1 .4 1 .4 1 .6 .9 11.2-3 .8z" fill="url(#v5_3)"/><path d="M89-8.9l1 .6 1-1.3 1 1.8 1-1.6 1 1.9 .9 12.1-5-.9z" fill="url(#v5_2)"/><path d="M93-9.4l1 1.9 1-.1 .9 12.2-2 0z" fill="url(#v5_3)"/><path d="M94-7.5l1-.1 .9 12.2-1 0z" fill="url(#v5_2)"/></g>
<g transform="matrix(1.677 -.1611 0 1 382.1 123.52)"><path d="M0-20.3l6 1.5 6 1.9 5 2.9 .9 1.6-5-3.2-6-.2-6 0z" fill="#00b2ff"/><path d="M16-14.6l5 2.5 .9 1.5-5-1.8z" fill="#004dff"/><path d="M20-13.4l2 2.2 .9 2.5-2-1.9z" fill="#00b2ff"/><path d="M21-12.1l6 3.4 2 .6 .9 .6-2-.3-6-2.8z" fill="#004dff"/><path d="M28-8.4l6 .4 6 1.6 6 0 6 0 6-.1 6 1.4 6 .2 6 .3 6 .3 6 .2 6 0 1-1.1 .9 2-1-.1-6-.3-6 0-6-.4-6-.3-6 0-6-.5-6-.3-6-.3-6-.4-6-.6-6-1.4z" fill="#0000e6"/></g>
<g transform="matrix(1.6776 -.1613 0 1 383.57 128.42)"><path d="M0-26.2l1 .1 1 .3 .9 13.3-2 0z" fill="url(#v15_11)"/><path d="M1-26.1l1 .3 1-3.3 .9 16.6-2 0z" fill="url(#v16_12)"/><path d="M2-25.8l1-3.3 1 .8 1-.4 1 .4 1 1.6 1-1 .9 13.8-6 1.4z" fill="url(#v17_13)"/><path d="M7-26.7l1-1 1 2.2 .9 13.6-2-3.1z" fill="url(#v16_14)"/><path d="M8-27.7l1 2.2 1-1.6 1 1 .9 14.2-3-2z" fill="url(#v16_13)"/><path d="M10-27.1l1 1 1 4.3 .9 9.9-2 0z" fill="url(#v16_12)"/><path d="M11-26.1l1 4.3 1-3.8 1 1.1 1 .9 1 .3 .9 12.5-5-1.1z" fill="url(#v15_11)"/><path d="M15-23.6l1 .3 1-.7 1 2.3 1-1 .9 15.1-4-3.9z" fill="url(#v14_11)"/><path d="M18-21.7l1-1 1-4.6 .9 21.2-2-3.2z" fill="url(#v14_10)"/><path d="M19-22.7l1-4.6 1 4.3 1 4.5 .9 12.4-3-1.5z" fill="url(#v16_10)"/><path d="M21-23l1 4.5 1-1.1 .9 14.1-2-.6z" fill="url(#v14_8)"/><path d="M22-18.5l1-1.1 1 3 1-2.3 .9 15-3-2.2z" fill="url(#v12_8)"/><path d="M24-16.6l1-2.3 1 1 .9 14-2-1.4z" fill="url(#v11_8)"/><path d="M25-18.9l1 1 1-.2 1 3.3 .9 11.2-3-.3z" fill="url(#v11_7)"/><path d="M27-18.1l1 3.3 1-.5 .9 11.9-2-.5z" fill="url(#v11_6)"/><path d="M28-14.8l1-.5 1-2.4 .9 14.5-2-.4z" fill="url(#v9_6)"/><path d="M29-15.3l1-2.4 1 3.9 1-2 .9 14-3-1.6z" fill="url(#v10_6)"/><path d="M31-13.8l1-2 1 1.1 1-.2 .9 13.1-3-1z" fill="url(#v9_6)"/><path d="M33-14.7l1-.2 1 1.4 1-1.6 1 .4 1-1.1 1-1.1 1 3.3 1-.2 .9 13.6-8-1.6z" fill="url(#v9_5)"/><path d="M40-13.6l1-.2 1 1.4 1-3.3 .9 15.5-3-1.2z" fill="url(#v8_5)"/><path d="M42-12.4l1-3.3 1 2.6 .9 12.9-2 0z" fill="url(#v9_5)"/><path d="M43-15.7l1 2.6 1-1.2 .9 14.1-2 0z" fill="url(#v9_4)"/><path d="M44-13.1l1-1.2 1 2.3 1-1 1-1 1 .2 1 1 1-1.4 1 1 .9 12.5-8 .5z" fill="url(#v8_4)"/><path d="M51-14.2l1 1 1-1.1 .9 13.6-2-.2z" fill="url(#v8_5)"/><path d="M52-13.2l1-1.1 1 1.8 1-1.2 1 1.4 1-2.1 1 1.6 1-.1 1 .8 1-1.8 1 1 1 .5 1-1.8 1 2.6 1-2.1 1-.6 1 3.9 1-3.1 1 .5 1 .5 1-.2 .9 13.1-6-.1-6-.2-6-.8-2 0z" fill="url(#v8_4)"/><path d="M71-12.5l1-.2 1 2 1-2.1 1 .4 1 2.1 1-1.3 .9 12.9-6-.9z" fill="url(#v7_4)"/><path d="M76-10.3l1-1.3 1 1.1 1-1.5 1 1.2 .9 12.1-4 0z" fill="url(#v7_3)"/><path d="M79-12l1 1.2 1-1.2 1 1.9 1-1 1-.1 1-.2 .9 14.8-6-2.1z" fill="url(#v7_4)"/><path d="M84-11.2l1-.2 1-1.5 1-1.2 .9 17.5-3 0z" fill="url(#v7_3)"/><path d="M86-12.9l1-1.2 1 4.4 .9 13.1-2 0z" fill="url(#v8_4)"/><path d="M87-14.1l1 4.4 1-3.5 .9 14.8-2 1.8z" fill="url(#v8_3)"/><path d="M88-9.7l1-3.5 1 2.1 1 .4 1-.2 .9 12.4-4 1.9z" fill="url(#v7_3)"/><path d="M91-10.7l1-.2 1-.2 .9 12.6-2 .1z" fill="url(#v7_4)"/><path d="M92-10.9l1-.2 1 0 1-1.1 .9 13.7-3 0z" fill="url(#v7_3)"/></g>
<g transform="matrix(1.6783 -.1615 0 1 385.05 133.31)"><path d="M0-23l4 0 .9 1.5-4 2.9z" fill="#00b2ff"/><path d="M3-23l6 0 3 .9 .9 2.6-3-2-6 .4z" fill="#1affe5"/><path d="M11-23l6 3.6 1 0 .9 2.4-1-1.4-6-1.5z" fill="#00b2ff"/><path d="M17-19.4l2 2.3 .9 .8-2-2.1z" fill="#1affe5"/><path d="M18-19.4l6 6.4 .9 1-6-5z" fill="#00b2ff"/><path d="M23-13.6l6 2 6 0 6 .8 6 .2 2 .5 .9 3.2-2-.1-6-.4-6-.9-6-1.7-6-2.6z" fill="#004dff"/><path d="M48-10.6l6 .5 6 2.2 6 0 6 .9 6 0 6-1.3 6 0 5 0 .9 3.5-5-.3-6-.2-6-.3-6-.3-6-.2-6-.3-6-.2-6-.3z" fill="#0000e6"/></g>
<g transform="matrix(1.6789 -.1617 0 1 386.52 138.21)"><path d="M0-28.6l1-.4 1-.7 1-3.1 .9 18-3-2.2z" fill="url(#v18_14)"/><path d="M2-29.7l1-3.1 1 1.7 .9 16.3-2 0z" fill="url(#v19_15)"/><path d="M3-32.8l1 1.7 1-1.1 1-2.2 .9 19.6-3 0z" fill="url(#v19_14)"/><path d="M5-32.2l1-2.2 1-1.3 .9 20.9-2 0z" fill="url(#v20_15)"/><path d="M6-34.4l1-1.3 1-3 .9 20.4-2 3.5z" fill="url(#v21_17)"/><path d="M7-35.7l1-3 1 4.6 .9 16.3-2 3z" fill="url(#v24_17)"/><path d="M8-38.7l1 4.6 1-.1 .9 16.6-2-.7z" fill="url(#v24_16)"/><path d="M9-34.1l1-.1 1 5.4 .9 11.2-2-.2z" fill="url(#v21_15)"/><path d="M10-34.2l1 5.4 1-2.8 .9 14.7-2-.7z" fill="url(#v20_15)"/><path d="M11-28.8l1-2.8 1 3.1 .9 12.6-2-1.7z" fill="url(#v18_15)"/><path d="M12-31.6l1 3.1 1-1.1 1-1.4 1 2 1-6.7 .9 21.3-5-2.5z" fill="url(#v18_14)"/><path d="M16-29l1-6.7 1 8 .9 15.5-2-2.7z" fill="url(#v21_14)"/><path d="M17-35.7l1 8 1 .2 .9 15.3-2-2.2z" fill="url(#v21_13)"/><path d="M18-27.7l1 .2 1 2.6 .9 12.7-2 0z" fill="url(#v17_13)"/><path d="M19-27.5l1 2.6 1-1.2 .9 14.5-2-.6z" fill="url(#v17_12)"/><path d="M20-24.9l1-1.2 1 .3 1 .1 .9 15.3-3-1.8z" fill="url(#v16_11)"/><path d="M22-25.8l1 .1 1 .7 1 2.4 .9 13.4-3-1.8z" fill="url(#v15_11)"/><path d="M24-25l1 2.4 1 1.1 .9 12.8-2-1.1z" fill="url(#v15_10)"/><path d="M25-22.6l1 1.1 1-1 .9 14.3-2-1z" fill="url(#v14_10)"/><path d="M26-21.5l1-1 1 1.6 .9 14.2-2-2z" fill="url(#v13_10)"/><path d="M27-22.5l1 1.6 1 2.3 1 .5 .9 11.4-3-1.5z" fill="url(#v13_9)"/><path d="M29-18.6l1 .5 1-1.6 .9 13-2 0z" fill="url(#v12_9)"/><path d="M30-18.1l1-1.6 1 .4 1-.1 1 0 1 2.3 .9 12.7-5-2.3z" fill="url(#v12_8)"/><path d="M34-19.4l1 2.3 1-1.9 .9 14.6-2 0z" fill="url(#v12_7)"/><path d="M35-17.1l1-1.9 1 1.8 1-1.6 1 .7 1-1.7 1 1.4 1 1.2 1-.2 1-.2 1-.6 .9 14.6-10-.8z" fill="url(#v11_7)"/><path d="M44-17.6l1-.6 1-.1 1 1.9 1 .3 .9 12.5-4 0z" fill="url(#v11_6)"/><path d="M47-16.4l1 .3 1-2 .9 14.5-2 0z" fill="url(#v10_6)"/><path d="M48-16.1l1-2 1 .9 1-2 1 1.5 1-1.3 1 1.2 1 2.2 .9 12.7-7-.7z" fill="url(#v11_6)"/><path d="M54-17.8l1 2.2 1-.9 1-1.4 1 2.2 1-1.1 1-.8 1-.4 1 .3 1 4.3 1-4.6 1 2.4 1-1.1 .9 15.4-12-2.1z" fill="url(#v10_6)"/><path d="M65-15.6l1-1.1 1 1.1 1-2 1 1.2 1-.3 1-.2 .9 15.1-6 .5z" fill="url(#v10_5)"/><path d="M70-16.7l1-.2 1 .6 1 .7 1-2.3 1 1 1-.2 1 4.6 1-1.3 .9 10.7-8 1.3z" fill="url(#v10_6)"/><path d="M77-12.5l1-1.3 1-5.6 .9 17.4-2-1.1z" fill="url(#v9_6)"/><path d="M78-13.8l1-5.6 1 2.6 1 2.8 .9 12-3-1.1z" fill="url(#v11_6)"/><path d="M80-16.8l1 2.8 1-2.4 .9 14.4-2 0z" fill="url(#v10_6)"/><path d="M81-14l1-2.4 1 .4 1 1.3 .9 13.8-3-1.1z" fill="url(#v10_5)"/><path d="M83-16l1 1.3 1-.6 .9 14.4-2 0z" fill="url(#v10_6)"/><path d="M84-14.7l1-.6 1-2.5 .9 16.9-2 0z" fill="url(#v9_6)"/><path d="M85-15.3l1-2.5 1 2.9 1-1.3 1 1.5 1 .9 .9 11.9-5 1z" fill="url(#v10_5)"/><path d="M89-14.7l1 .9 1-4.4 .9 16.3-2 1z" fill="url(#v9_6)"/><path d="M90-13.8l1-4.4 1 1.5 1 1.9 1-.1 .9 13-4 0z" fill="url(#v10_5)"/><path d="M93-14.8l1-.1 1-.1 .9 13.1-2 0z" fill="url(#v9_5)"/></g>
<g transform="matrix(1.6796 -.162 0 1 388 143.1)"><path d="M0-26.2l6-1.1 1-1.6 .9 3.2-1 0-6 3z" fill="#1affe5"/><path d="M6-27.3l4 1.1 .9 1.1-4-.6z" fill="#80ff80"/><path d="M9-26.7l6 2.1 6 3.1 .9 2.3-6-3.8-6-2.7z" fill="#1affe5"/><path d="M20-21.5l6 3.2 6 3.9 2 0 .9 2.2-2-.7-6-3-6-4z" fill="#00b2ff"/><path d="M33-14.4l6 0 6 0 6 3.9 6 .3 6-2.1 6 1.7 6 0 6-.8 6 .3 6 1.3 2 0 .9 1.8-2-.1-6-.3-6-.3-6-.2-6-.3-6-.2-6 0-6 0-6-1-6-.7-6-1.5z" fill="#004dff"/></g>
<g transform="matrix(1.6803 -.1622 0 1 389.47 148)"><path d="M0-31.8l1-1.1 1-1.2 .9 15.6-2 0z" fill="url(#v19_15)"/><path d="M1-32.9l1-1.2 1 2.3 .9 13.3-2 0z" fill="url(#v20_16)"/><path d="M2-34.1l1 2.3 1-3.1 .9 14.6-2 1.8z" fill="url(#v20_17)"/><path d="M3-31.8l1-3.1 1 .2 1-3.8 .9 17.5-3 2.5z" fill="url(#v21_17)"/><path d="M5-34.7l1-3.8 1-3 .9 19.8-2 .7z" fill="url(#v23_18)"/><path d="M6-38.5l1-3 1 1.9 .9 17.1-2 1.5z" fill="url(#v25_18)"/><path d="M7-41.5l1 1.9 1 2.7 .9 14.5-2 .7z" fill="url(#v25_17)"/><path d="M8-39.6l1 2.7 1 2.3 .9 12.7-2-.6z" fill="url(#v23_17)"/><path d="M9-36.9l1 2.3 1 1.9 1-2.1 .9 13.7-3-1.3z" fill="url(#v21_17)"/><path d="M11-32.7l1-2.1 1 1 1 2.1 1-2.1 .9 13.7-4-1.5z" fill="url(#v20_17)"/><path d="M14-31.7l1-2.1 1 0 1 .7 1 3 1-2.5 .9 14.2-5-2.3z" fill="url(#v20_16)"/><path d="M18-30.1l1-2.5 1 0 1 2.2 1-1.4 1 1.1 .9 14.6-5-2.9z" fill="url(#v19_15)"/><path d="M22-31.8l1 1.1 1 0 .9 15.3-2-1z" fill="url(#v19_14)"/><path d="M23-30.7l1 0 1 3.6 1-.9 .9 14.1-3-2.2z" fill="url(#v18_14)"/><path d="M25-27.1l1-.9 1-.5 1 2.9 .9 13.4-3-1.7z" fill="url(#v17_13)"/><path d="M27-28.5l1 2.9 1-1.3 .9 16.3-2-2.1z" fill="url(#v17_12)"/><path d="M28-25.6l1-1.3 1-1.3 .9 17.6-2-1.6z" fill="url(#v16_12)"/><path d="M29-26.9l1-1.3 1 4.3 1-2.8 .9 16.1-3 0z" fill="url(#v16_11)"/><path d="M31-23.9l1-2.8 1 1.1 .9 15.4-2-.4z" fill="url(#v15_11)"/><path d="M32-26.7l1 1.1 1 2.5 1 .3 .9 13.9-3-1.7z" fill="url(#v15_10)"/><path d="M34-23.1l1 .3 1 .5 .9 13.4-2-.7z" fill="url(#v14_10)"/><path d="M35-22.8l1 .5 1-1 .9 16.1-2-1.7z" fill="url(#v14_11)"/><path d="M36-22.3l1-1 1 3.4 1-3.1 1 2.8 .9 13-4-1.7z" fill="url(#v14_9)"/><path d="M39-23l1 2.8 1-1.1 .9 14.1-2 0z" fill="url(#v14_8)"/><path d="M40-20.2l1-1.1 1 .3 .9 13.8-2 0z" fill="url(#v13_8)"/><path d="M41-21.3l1 .3 1-1.2 1 2.2 .9 14.4-3-1.6z" fill="url(#v13_9)"/><path d="M43-22.2l1 2.2 1 0 .9 14.4-2 0z" fill="url(#v13_8)"/><path d="M44-20l1 0 1-2.2 .9 16.6-2 0z" fill="url(#v12_8)"/><path d="M45-20l1-2.2 1-.4 1 2.1 1 .5 .9 16.2-4-1.8z" fill="url(#v13_8)"/><path d="M48-20.5l1 .5 1-.6 .9 17.3-2-2.1z" fill="url(#v12_8)"/><path d="M49-20l1-.6 1 .3 1 .1 1 1.3 1 3.5 1-4.8 1 .4 1-2.3 .9 17.7-8 .6z" fill="url(#v12_7)"/><path d="M56-19.8l1-2.3 1 1.1 1-.6 .9 17.2-3 1.1z" fill="url(#v13_7)"/><path d="M58-21l1-.6 1 2.5 1-1.3 1 2.3 1-1.7 1-.2 1 2.2 1-1.4 1-2.9 1 3.8 1-2.1 1 1.7 1-1.5 1 4.1 1-1.4 .9 13.4-6 .1-6-1.3-3 .9z" fill="url(#v12_7)"/><path d="M72-16.1l1-1.4 1-1.2 1-2.1 .9 15.8-3 1z" fill="url(#v11_7)"/><path d="M74-18.7l1-2.1 1 2.1 1 1.3 .9 13.1-3 .2z" fill="url(#v12_7)"/><path d="M76-18.7l1 1.3 1-.9 1-1.3 .9 15.3-3 0z" fill="url(#v11_7)"/><path d="M78-18.3l1-1.3 1 2.7 1-1.8 .9 14.6-3-.2z" fill="url(#v12_7)"/><path d="M80-16.9l1-1.8 1 .3 1 .3 .9 14-3 0z" fill="url(#v11_7)"/><path d="M82-18.4l1 .3 1-.9 1 1.4 .9 13.7-3-.2z" fill="url(#v11_6)"/><path d="M84-19l1 1.4 1-1.5 1 0 .9 15.2-3 0z" fill="url(#v11_7)"/><path d="M86-19.1l1 0 1-1.2 .9 17.2-2-.8z" fill="url(#v11_6)"/><path d="M87-19.1l1-1.2 1 1.6 .9 15.6-2-.8z" fill="url(#v12_6)"/><path d="M88-20.3l1 1.6 1 .5 .9 15.1-2 0z" fill="url(#v12_7)"/><path d="M89-18.7l1 .5 1 1.3 .9 13.8-2 0z" fill="url(#v11_7)"/><path d="M90-18.2l1 1.3 1-.7 1 1 .9 13.5-3 0z" fill="url(#v11_6)"/><path d="M92-17.6l1 1 1-3.1 .9 16.6-2 0z" fill="url(#v11_7)"/><path d="M93-16.6l1-3.1 1 4.3 .9 12.1-2 .2z" fill="url(#v11_6)"/></g>
<g transform="matrix(1.6809 -.1624 0 1 390.94 152.89)"><path d="M0-26.1l6-3.5 1-1.1 .9 4.8-1 .3-6 .7z" fill="#1affe5"/><path d="M6-29.6l4 .7 .9 1.8-4 1.5z" fill="#80ff80"/><path d="M9-28.8l2-.5 .9 1.6-2 .6z" fill="#1affe5"/><path d="M10-28.9l4 1.3 .9 .9-4-.4z" fill="#80ff80"/><path d="M13-27.9l6 1.9 6 3.2 3 1.8 .9 .7-3-1.4-6-1-6-4z" fill="#1affe5"/><path d="M27-21.7l6 4 6 .4 4 .8 .9 3.1-4-1.1-6-2.6-6-3.9z" fill="#00b2ff"/><path d="M42-16.5l6 1.3 6 0 6 .1 6 0 6 .8 6 .8 6 0 6 .5 5 0 .9 2.9-5-.2-6-.3-6-.3-6-.3-6-.2-6-.3-6-.4-6-.5-6-1.1z" fill="#004dff"/></g>
<g transform="matrix(1.6816 -.1626 0 1 392.42 157.78)"><path d="M0-31.7l1-.2 1-4 .9 15-2 0z" fill="url(#v20_17)"/><path d="M1-31.9l1-4 1 .3 1 2.5 1-1.9 1-1.2 .9 14.4-5 .9z" fill="url(#v21_17)"/><path d="M5-35l1-1.2 1-.9 .9 15.1-2 .2z" fill="url(#v22_19)"/><path d="M6-36.2l1-.9 1-1.4 1 .9 1-.5 .9 14.7-4 1.6z" fill="url(#v22_18)"/><path d="M9-37.6l1-.5 1-2 .9 15.9-2 .8z" fill="url(#v23_20)"/><path d="M10-38.1l1-2 1 3.6 1 1.5 .9 12.3-3-.7z" fill="url(#v24_19)"/><path d="M12-36.5l1 1.5 1 1.3 .9 12.5-2-2.1z" fill="url(#v22_19)"/><path d="M13-35l1 1.3 1-.9 1-1 1 .9 .9 15.3-4-3.3z" fill="url(#v21_18)"/><path d="M16-35.6l1 .9 1 2 .9 13.3-2-1z" fill="url(#v21_17)"/><path d="M17-34.7l1 2 1-1.6 .9 15-2-.1z" fill="url(#v21_16)"/><path d="M18-32.7l1-1.6 1-.2 1 1.8 1 .6 .9 13.9-4-1.2z" fill="url(#v20_16)"/><path d="M21-32.7l1 .6 1 .1 .9 14.3-2-1.2z" fill="url(#v20_15)"/><path d="M22-32.1l1 .1 1 0 1 3.3 1-.7 .9 16.1-4-4.9z" fill="url(#v19_15)"/><path d="M25-28.7l1-.7 1 1 .9 15.1-2-3.1z" fill="url(#v18_15)"/><path d="M26-29.4l1 1 1-1.1 .9 16.2-2 0z" fill="url(#v18_14)"/><path d="M27-28.4l1-1.1 1 .1 .9 16.1-2 0z" fill="url(#v18_13)"/><path d="M28-29.5l1 .1 1 1.7 .9 14.8-2-.4z" fill="url(#v18_12)"/><path d="M29-29.4l1 1.7 1-1.3 1 1.4 1 .4 .9 15.6-4-1.7z" fill="url(#v17_12)"/><path d="M32-27.6l1 .4 1 .6 1 1.9 1-4.6 1 3.7 .9 16-5-2z" fill="url(#v16_11)"/><path d="M36-29.3l1 3.7 1 2.5 .9 14-2-.5z" fill="url(#v16_10)"/><path d="M37-25.6l1 2.5 1-2.9 1 .5 1 2.7 .9 13.7-4-.5z" fill="url(#v15_10)"/><path d="M40-25.5l1 2.7 1-1.4 .9 15.1-2 0z" fill="url(#v15_9)"/><path d="M41-22.8l1-1.4 1-1.5 .9 16.7-2-.1z" fill="url(#v14_9)"/><path d="M42-24.2l1-1.5 1 1.3 1 .7 .9 18.3-3-3.7z" fill="url(#v15_10)"/><path d="M44-24.4l1 .7 1 .2 1-.3 .9 18.4-3 0z" fill="url(#v14_9)"/><path d="M46-23.5l1-.3 1 1.7 1-.5 1-.8 .9 18-4 0z" fill="url(#v14_8)"/><path d="M49-22.6l1-.8 1 .4 1-1.4 1 3.7 1-6.4 .9 20.4-5 1.3z" fill="url(#v14_9)"/><path d="M53-20.7l1-6.4 1 5 1 .3 .9 15.1-3 0z" fill="url(#v15_8)"/><path d="M55-22.1l1 .3 1-.7 .9 15.8-2 0z" fill="url(#v13_9)"/><path d="M56-21.8l1-.7 1-1.2 1 1.5 .9 14.5-3 1z" fill="url(#v14_8)"/><path d="M58-23.7l1 1.5 1-1.8 .9 16.4-2-.1z" fill="url(#v14_9)"/><path d="M59-22.2l1-1.8 1 .3 1 1.1 1 .5 .9 16.4-4-2z" fill="url(#v14_8)"/><path d="M62-22.6l1 .5 1 0 1-.8 .9 17.2-3 0z" fill="url(#v13_8)"/><path d="M64-22.1l1-.8 1 2.3 1-3.2 1 1.6 1-.2 .9 16.3-5 .4z" fill="url(#v14_8)"/><path d="M68-22.2l1-.2 1 1.1 1 0 1-2.4 .9 17.6-4 .4z" fill="url(#v13_8)"/><path d="M71-21.3l1-2.4 1 3.9 1-2.4 .9 16.8-3-.7z" fill="url(#v14_8)"/><path d="M73-19.8l1-2.4 1 1.2 1 1.1 1-2.7 .9 17.2-4-.7z" fill="url(#v13_8)"/><path d="M76-19.9l1-2.7 1 1.9 1-1.7 .9 17-3 0z" fill="url(#v13_7)"/><path d="M78-20.7l1-1.7 1 1.2 1 2.1 1-2.2 1 2.3 1-2 1 .1 1-.8 1 .5 .9 16.1-9-.3z" fill="url(#v13_8)"/><path d="M86-21.7l1 .5 1 .5 1 .9 .9 14.7-3-.9z" fill="url(#v13_7)"/><path d="M88-20.7l1 .9 1 .5 .9 14.2-2 0z" fill="url(#v13_8)"/><path d="M89-19.8l1 .5 1 .8 1-2.6 .9 16-3 0z" fill="url(#v12_7)"/><path d="M91-18.5l1-2.6 1 1.7 1-.8 .9 15-3 .1z" fill="url(#v13_7)"/><path d="M93-19.4l1-.8 1-1.2 .9 16.2-2 .1z" fill="url(#v12_7)"/><path d="M94-20.2l1-1.2 .9 16.2-1 0z" fill="url(#v13_7)"/></g>
<g transform="matrix(1.6822 -.1628 0 1 393.89 162.68)"><path d="M0-27.6l4-2.5 .9 3-4 .6z" fill="#1affe5"/><path d="M3-29.7l6-2.8 1 .9 .9 1.4-1 0-6 3.1z" fill="#80ff80"/><path d="M9-32.5l2 .8 .9 1.6-2-.1z" fill="#e5ff1a"/><path d="M10-31.6l4 1.1 .9 1.3-4-1z" fill="#80ff80"/><path d="M13-32.3l2 2.6 .9 .9-2-.4z" fill="#e5ff1a"/><path d="M14-30.5l4 2.6 .9 .8-4-2.1z" fill="#80ff80"/><path d="M17-28.3l6 2.7 6 2.4 2 2.6 .9 .7-2-1.3-6-1.8-6-4.1z" fill="#1affe5"/><path d="M30-23.2l6 5.3 6 0 6 0 6-1.4 6 .7 6 2.4 6 0 2 0 .9 3.5-2 0-6-.3-6-.3-6-.4-6-.5-6-1.1-6-2-6-3.3z" fill="#00b2ff"/><path d="M73-16.2l6-1.4 6-.6 6 .6 4 0 .9 5.9-4-.2-6-.3-6-.2-6-.3z" fill="#004dff"/></g>
<g transform="matrix(1.6829 -.163 0 1 395.37 167.57)"><path d="M0-34.1l1 1 1-3.4 .9 15-2 0z" fill="url(#v20_17)"/><path d="M1-33.1l1-3.4 1-1 .9 16-2 0z" fill="url(#v22_17)"/><path d="M2-36.5l1-1 1-.5 .9 16.5-2 0z" fill="url(#v22_18)"/><path d="M3-37.5l1-.5 1 1.8 1-2.9 1-1 .9 15.9-4 2.7z" fill="url(#v23_18)"/><path d="M6-39.1l1-1 1-4.4 .9 20.3-2 0z" fill="url(#v24_19)"/><path d="M7-40.1l1-4.4 1-4.3 .9 24-2 .6z" fill="url(#v26_19)"/><path d="M8-44.5l1-4.3 1 6 .9 18.2-2 .4z" fill="url(#v29_19)"/><path d="M9-48.8l1 6 1 2.2 .9 16-2-.2z" fill="url(#v29_20)"/><path d="M10-42.8l1 2.2 1-1.8 1-5.7 .9 26.4-3-2.9z" fill="url(#v26_20)"/><path d="M12-42.4l1-5.7 1 6.5 1 1.9 .9 18-3 0z" fill="url(#v29_19)"/><path d="M14-41.6l1 1.9 1 3.1 .9 14.9-2 0z" fill="url(#v25_17)"/><path d="M15-39.7l1 3.1 1 .4 .9 15.7-2-1.2z" fill="url(#v23_17)"/><path d="M16-36.6l1 .4 1 1 1-.7 .9 15.8-3-1.6z" fill="url(#v22_17)"/><path d="M18-35.2l1-.7 1-1.2 .9 20.6-2-4z" fill="url(#v21_17)"/><path d="M19-35.9l1-1.2 1 1.5 1 2.5 .9 16.6-3-3.6z" fill="url(#v22_16)"/><path d="M21-35.6l1 2.5 1-.7 .9 17.3-2 0z" fill="url(#v21_16)"/><path d="M22-33.1l1-.7 1-2.3 .9 20.8-2-1.2z" fill="url(#v20_14)"/><path d="M23-33.8l1-2.3 1 2.5 .9 18.3-2-1.2z" fill="url(#v21_14)"/><path d="M24-36.1l1 2.5 1 .9 .9 18-2-.6z" fill="url(#v21_15)"/><path d="M25-33.6l1 .9 1 1.1 .9 19.4-2-3.1z" fill="url(#v20_14)"/><path d="M26-32.7l1 1.1 1 1.6 .9 17.8-2-2.5z" fill="url(#v20_13)"/><path d="M27-31.6l1 1.6 1 1 .9 17.1-2-.3z" fill="url(#v19_13)"/><path d="M28-30l1 1 1-1.1 .9 18.4-2-.5z" fill="url(#v18_13)"/><path d="M29-29l1-1.1 1-.1 .9 19.2-2-.9z" fill="url(#v18_12)"/><path d="M30-30.1l1-.1 1 1.5 1-.4 1-.4 .9 20.6-4-2.8z" fill="url(#v18_11)"/><path d="M33-29.1l1-.4 1 .4 .9 20.2-2-.6z" fill="url(#v18_10)"/><path d="M34-29.5l1 .4 1-.4 1 3.4 .9 18.4-3-1.2z" fill="url(#v17_10)"/><path d="M36-29.5l1 3.4 1-1.7 1-.2 1 .8 .9 20.1-4-1.3z" fill="url(#v17_9)"/><path d="M39-28l1 .8 1 1.8 .9 19.5-2-1.5z" fill="url(#v17_8)"/><path d="M40-27.2l1 1.8 1 2 1-5.1 1 2.9 1-.9 1 1.1 .9 21.1-6-2.8z" fill="url(#v16_8)"/><path d="M45-26.5l1 1.1 1 .4 .9 20.7-2 0z" fill="url(#v16_7)"/><path d="M46-25.4l1 .4 1-1.4 .9 22.1-2 0z" fill="url(#v15_7)"/><path d="M47-25l1-1.4 1-.5 1 1.2 1 .4 .9 21-4 0z" fill="url(#v16_7)"/><path d="M50-25.7l1 .4 1-1.3 .9 21.9-2 .4z" fill="url(#v15_7)"/><path d="M51-25.3l1-1.3 1 1.3 1 .1 .9 20.5-3 .4z" fill="url(#v16_7)"/><path d="M53-25.3l1 .1 1 .4 1-.9 1 .5 1 .2 .9 24.1-5-3.8z" fill="url(#v15_7)"/><path d="M57-25.2l1 .2 1 .1 1-.5 .9 24.5-3 0z" fill="url(#v15_6)"/><path d="M59-24.9l1-.5 1-1.1 .9 26.3-2-.7z" fill="url(#v15_7)"/><path d="M60-25.4l1-1.1 1 1.5 1 .9 .9 23.9-3-.7z" fill="url(#v16_7)"/><path d="M62-25l1 .9 1-3.4 .9 27.3-2 0z" fill="url(#v15_7)"/><path d="M63-24.1l1-3.4 1 1.3 1 1.8 .9 24.2-3 0z" fill="url(#v16_5)"/><path d="M65-26.2l1 1.8 1 1.4 1-3.3 .9 23.3-3 2.8z" fill="url(#v15_6)"/><path d="M67-23l1-3.3 1 3.1 1-1.6 .9 21.8-3 2.8z" fill="url(#v15_7)"/><path d="M69-23.2l1-1.6 1 3 1-3.8 1-.4 1 1.5 1 .1 1-.1 1 1.3 1 0 1-2.5 1 1.6 1-.3 1 .1 1-1.6 1 1.6 1-.7 1-.7 1 2 1-.2 1-.9 1-.5 1 .6 1-.1 1 1.7 1-.6 1-1.1 .9 21.7-6 .2-6 .9-6-2-6 1-2 0z" fill="url(#v15_6)"/></g>
<g transform="matrix(1.6836 -.1633 0 1 396.84 172.47)"><path d="M0-28l3-2.7 .9 5-3 0z" fill="#1affe5"/><path d="M2-29.9l6-2.2 6 1 3 2.3 .9 3.4-3-1.9-6-1.8-6 3.4z" fill="#80ff80"/><path d="M16-29.3l6 3.2 6 4.6 1 .8 .9 2.3-1-1.4-6-1.9-6-3.7z" fill="#1affe5"/><path d="M28-21.5l6 4.1 6 2.4 1 .4 .9 1.4-1-.4-6-2.9-6-3.3z" fill="#00b2ff"/><path d="M40-15l6 2.5 6 .6 6-2.1 6 2.5 6 0 6-1.4 6 2 6 0 6 1.3 1 .1 .9 1.1-1 0-6-.9-6-.3-6-.3-6-.3-6-.2-6-.4-6-.4-6-.2-6-2.2z" fill="#004dff"/></g>
<g transform="matrix(1.6842 -.1635 0 1 398.32 177.36)"><path d="M0-31.8l1-2 1-1.5 .9 14.8-2 0z" fill="url(#v20_16)"/><path d="M1-33.8l1-1.5 1-.5 .9 15.3-2 0z" fill="url(#v21_17)"/><path d="M2-35.3l1-.5 1 .7 .9 13.8-2 .8z" fill="url(#v22_17)"/><path d="M3-35.8l1 .7 1-.7 1-1.3 1-.3 1 .9 .9 13.3-5 2.7z" fill="url(#v22_18)"/><path d="M7-37.4l1 .9 1-1.1 1-1.2 .9 15.5-3 .1z" fill="url(#v22_19)"/><path d="M9-37.6l1-1.2 1 .7 .9 15.9-2-1.2z" fill="url(#v23_19)"/><path d="M10-38.8l1 .7 1-2 1 1.9 .9 17.8-3-2.9z" fill="url(#v24_19)"/><path d="M12-40.1l1 1.9 1 2.3 .9 15.5-2-1.2z" fill="url(#v23_18)"/><path d="M13-38.2l1 2.3 1 .7 .9 14.8-2 0z" fill="url(#v22_17)"/><path d="M14-35.9l1 .7 1 0 .9 14.8-2 0z" fill="url(#v21_17)"/><path d="M15-35.2l1 0 1 .2 1-.4 .9 15.4-3-.4z" fill="url(#v21_16)"/><path d="M17-35l1-.4 1 .2 .9 16-2-1.2z" fill="url(#v21_17)"/><path d="M18-35.4l1 .2 1 1.9 1 1.3 .9 13.9-3-1.9z" fill="url(#v21_16)"/><path d="M20-33.3l1 1.3 1 .5 .9 14.1-2-1.4z" fill="url(#v20_16)"/><path d="M21-32l1 .5 1-2.6 1 2.7 1 1.8 .9 14.4-4-2.9z" fill="url(#v20_15)"/><path d="M24-31.4l1 1.8 1 1.9 .9 13.2-2-.8z" fill="url(#v19_14)"/><path d="M25-29.6l1 1.9 1-2.8 .9 16.8-2-1.5z" fill="url(#v18_14)"/><path d="M26-27.7l1-2.8 1 1.5 1 .5 .9 16.1-3-2.1z" fill="url(#v18_13)"/><path d="M28-29l1 .5 1 2 .9 15.2-2-1.5z" fill="url(#v18_12)"/><path d="M29-28.5l1 2 1 0 .9 16.3-2-2.2z" fill="url(#v17_12)"/><path d="M30-26.5l1 0 1 .7 1-.3 1-1.7 .9 19.4-4-2.9z" fill="url(#v16_11)"/><path d="M33-26.1l1-1.7 1 3.4 1 1.2 .9 15.7-3-.9z" fill="url(#v16_10)"/><path d="M35-24.4l1 1.2 1-2.1 1 .4 .9 17.5-3-1z" fill="url(#v15_9)"/><path d="M37-25.3l1 .4 1 1.9 .9 16.2-2-.6z" fill="url(#v15_10)"/><path d="M38-24.9l1 1.9 1-.4 .9 16.6-2-.6z" fill="url(#v15_9)"/><path d="M39-23l1-.4 1 2.4 1-4 1 1.9 1 2.6 1-3.4 1 .6 1 3.1 .9 15.3-8-1.9z" fill="url(#v14_8)"/><path d="M46-23.3l1 3.1 1-1.6 .9 16.9-2 0z" fill="url(#v14_7)"/><path d="M47-20.2l1-1.6 1 .1 1 2 1 2.3 1-7.5 .9 20-5 0z" fill="url(#v13_7)"/><path d="M51-17.4l1-7.5 1 4.8 1-1.9 .9 17.3-3-.2z" fill="url(#v14_7)"/><path d="M53-20.1l1-1.9 1-.1 1-.4 1 .2 1 1.1 1 1.1 1 .6 1-2 1 1.7 1-2.2 .9 19.3-10-2.7z" fill="url(#v13_7)"/><path d="M62-19.8l1-2.2 1 1.4 1-1.7 1 5.3 1-5.7 .9 20-5 0z" fill="url(#v13_6)"/><path d="M66-17l1-5.7 1 3 1-1.5 1 2.3 1-2.4 1 .6 1-1.1 .9 18.1-7 1z" fill="url(#v13_7)"/><path d="M72-20.7l1-1.1 1 .6 1-1.6 .9 19.1-3 0z" fill="url(#v13_6)"/><path d="M74-21.2l1-1.6 1 4.4 1-.7 .9 15.6-3-.2z" fill="url(#v13_7)"/><path d="M76-18.4l1-.7 1 .5 1-1.4 .9 16.5-3 0z" fill="url(#v12_7)"/><path d="M78-18.6l1-1.4 1-1.2 .9 17.7-2 0z" fill="url(#v12_6)"/><path d="M79-20l1-1.2 1 0 1 2 .9 15.9-3-.2z" fill="url(#v13_6)"/><path d="M81-21.2l1 2 1 1.1 1-1.8 1-.7 1 4.1 1-3.3 1 1.9 1-2.3 1 1.4 1-2 1 2 .9 17.2-11-1.9z" fill="url(#v12_6)"/><path d="M91-20.8l1 2 1-.8 1-3.7 .9 21.7-3 0z" fill="url(#v12_5)"/><path d="M93-19.6l1-3.7 1 8.9 .9 12.8-2 0z" fill="url(#v13_6)"/></g>
<g transform="matrix(1.6849 -.1637 0 1 399.79 182.26)"><path d="M0-27.3l5-2.9 .9 3.4-5 .4z" fill="#1affe5"/><path d="M4-30l6-1.9 .9 4.5-6 .6z" fill="#80ff80"/><path d="M9-33.5l2 2.2 .9 3.9-2 0z" fill="#e5ff1a"/><path d="M10-31.9l4 3 .9 1.5-4 0z" fill="#80ff80"/><path d="M13-29.3l6 2.2 6 3.6 3 2.2 .9 3.6-3-2.3-6-4.4-6-3z" fill="#1affe5"/><path d="M27-22l6 4.3 6 1.2 1 1.1 .9 1.5-1-.3-6-2.5-6-1.1z" fill="#00b2ff"/><path d="M39-16.5l6 2.6 6 .2 6 1.4 6 0 6-.7 6 0 6 2.3 6 .3 6 .3 2 .1 .9 .6-2 0-6 1.5-6 0-6-2.6-6-.2-6-.3-6-.3-6-.5-6-.8-6-1.6z" fill="#004dff"/></g>
<g transform="matrix(1.6855 -.1639 0 1 401.26 187.15)"><path d="M0-33.5l1 .1 1 .5 .9 15-2 0z" fill="url(#v20_14)"/><path d="M1-33.4l1 .5 1-1.2 .9 16.2-2 0z" fill="url(#v20_15)"/><path d="M2-32.9l1-1.2 1-2.3 .9 18-2 .5z" fill="url(#v21_16)"/><path d="M3-34.1l1-2.3 1-.7 1 .5 .9 15.7-3 3z" fill="url(#v22_17)"/><path d="M5-37.1l1 .5 1-1.5 .9 17.1-2 1.1z" fill="url(#v22_16)"/><path d="M6-36.6l1-1.5 1-7.6 .9 24.7-2 .1z" fill="url(#v23_16)"/><path d="M7-38.1l1-7.6 1-5.3 .9 32.3-2-2.3z" fill="url(#v27_17)"/><path d="M8-45.7l1-5.3 1 9.4 1 2.9 .9 20-3-2.3z" fill="url(#v31_18)"/><path d="M10-41.6l1 2.9 1 3.6 .9 16.7-2-.3z" fill="url(#v25_17)"/><path d="M11-38.7l1 3.6 1 1.7 .9 15-2-.3z" fill="url(#v23_16)"/><path d="M12-35.1l1 1.7 1-1.7 1 1.1 .9 15.6-3 0z" fill="url(#v21_16)"/><path d="M14-35.1l1 1.1 1-2.5 1 2 1-1.7 1 1.2 1 1.2 .9 18.2-6-2.8z" fill="url(#v21_15)"/><path d="M19-35l1 1.2 1-.1 1 3.2 .9 16.2-3-1.4z" fill="url(#v20_14)"/><path d="M21-33.9l1 3.2 1 .3 .9 16.6-2-1.5z" fill="url(#v20_13)"/><path d="M22-30.7l1 .3 1-.6 1-.8 .9 19.5-3-2.2z" fill="url(#v19_13)"/><path d="M24-31l1-.8 1 .5 1 1.1 .9 19.4-3-2.3z" fill="url(#v19_12)"/><path d="M26-31.3l1 1.1 1 .3 .9 19.9-2-1.5z" fill="url(#v18_12)"/><path d="M27-30.2l1 .3 1 1.9 1 1.4 .9 19.2-3-3.4z" fill="url(#v18_11)"/><path d="M29-28l1 1.4 1 .6 .9 18.6-2-1z" fill="url(#v17_10)"/><path d="M30-26.6l1 .6 1-2.2 .9 20.8-2 0z" fill="url(#v16_10)"/><path d="M31-26l1-2.2 1 4.3 1 .2 .9 18.8-3-2.5z" fill="url(#v16_9)"/><path d="M33-23.9l1 .2 1-1.7 .9 20.5-2-2z" fill="url(#v15_9)"/><path d="M34-23.7l1-1.7 1 2.2 1-1.6 .9 19.9-3 0z" fill="url(#v15_8)"/><path d="M36-23.2l1-1.6 1 2.1 1-.6 .9 19.1-3-.7z" fill="url(#v15_7)"/><path d="M38-22.7l1-.6 1 1.3 1-1.5 .9 23.5-3-4.4z" fill="url(#v14_7)"/><path d="M40-22l1-1.5 1 .4 1-1.2 .9 24.3-3 0z" fill="url(#v14_6)"/><path d="M42-23.1l1-1.2 1 1.3 1-.5 .9 23.5-3 0z" fill="url(#v14_5)"/><path d="M44-23l1-.5 1 2.6 1-.3 .9 18.5-3 2.7z" fill="url(#v14_6)"/><path d="M46-20.9l1-.3 1 .3 .9 18.2-2 2.7z" fill="url(#v13_6)"/><path d="M47-21.2l1 .3 1 1.5 1-.3 .9 17.6-3-.6z" fill="url(#v13_5)"/><path d="M49-19.4l1-.3 1-1.3 .9 18.9-2-.2z" fill="url(#v12_6)"/><path d="M50-19.7l1-1.3 1-.6 .9 19.5-2 0z" fill="url(#v13_6)"/><path d="M51-21l1-.6 1-1.6 1 3 1 1 .9 17.1-4 0z" fill="url(#v13_5)"/><path d="M54-20.2l1 1 1-2.6 .9 21-2-1.3z" fill="url(#v12_5)"/><path d="M55-19.2l1-2.6 1 1.7 1 .3 .9 19-3-1.3z" fill="url(#v13_5)"/><path d="M57-20.1l1 .3 1-.4 1 2.3 1-2.6 1-.6 .9 20.3-5 0z" fill="url(#v12_5)"/><path d="M61-20.5l1-.6 1 .6 1 .7 .9 19.4-3-.4z" fill="url(#v13_5)"/><path d="M63-20.5l1 .7 1-.4 1-1.5 .9 21.3-3-.8z" fill="url(#v12_5)"/><path d="M65-20.2l1-1.5 1 3.2 .9 18.1-2 0z" fill="url(#v13_5)"/><path d="M66-21.7l1 3.2 1-4.4 1 2.6 .9 19.9-3 0z" fill="url(#v13_4)"/><path d="M68-22.9l1 2.6 1-.7 .9 20.6-2 0z" fill="url(#v13_5)"/><path d="M69-20.3l1-.7 1-5.7 .9 25.6-2 .7z" fill="url(#v12_5)"/><path d="M70-21l1-5.7 1 6.1 .9 19.5-2 .7z" fill="url(#v14_5)"/><path d="M71-26.7l1 6.1 1 .9 .9 18.6-2 0z" fill="url(#v14_4)"/><path d="M72-20.6l1 .9 1-.8 1 1.9 1-3.1 .9 22.7-4-2.1z" fill="url(#v12_4)"/><path d="M75-18.6l1-3.1 1 1.5 1 .2 .9 21.2-3-.7z" fill="url(#v13_4)"/><path d="M77-20.2l1 .2 1 .9 1-1.2 1-.6 1 7 1-4 .9 19.1-6 0z" fill="url(#v12_4)"/><path d="M82-13.9l1-4 1-2.4 .9 20.2-2 1.3z" fill="url(#v11_4)"/><path d="M83-17.9l1-2.4 1 1.4 1-.5 1 1.4 1 0 .9 18.8-5 .4z" fill="url(#v12_4)"/><path d="M87-18l1 0 1-2.8 .9 22.2-2-.6z" fill="url(#v11_4)"/><path d="M88-18l1-2.8 1 1 .9 21.2-2-.6z" fill="url(#v12_4)"/><path d="M89-20.8l1 1 1-.2 1 4.6 1-4 1-.1 1-.1 .9 21-6 0z" fill="url(#v12_3)"/></g>
<g transform="matrix(1.6862 -.1641 0 1 402.74 192.05)"><path d="M0-25.1l6-2.6 3-5 .9 7.8-3 .3-6 .9z" fill="#1affe5"/><path d="M8-29.8l4 2.9 .9 2.6-4-.6z" fill="#80ff80"/><path d="M11-27.7l6 2.5 6 3.2 1 .7 .9 3.4-1-.2-6-4.7-6-1.5z" fill="#1affe5"/><path d="M23-22l6 4.5 5 3.4 .9 3.4-5-4.1-6-3.3z" fill="#00b2ff"/><path d="M33-14.7l6 3.1 6 .3 6 1.2 6 .2 6 .4 2 .1 .9 2.1-2-.1-6-.5-6-.5-6-1-6-1.3-6 0z" fill="#004dff"/><path d="M64-9.4l6 .5 6 .8 6 .2 6 0 6 2 1 .1 .9 1.4-1 0-6-1.4-6-.4-6-.4-6-.4-6-.4z" fill="#0000e6"/></g>
<g transform="matrix(1.6868 -.1644 0 1 404.21 196.94)"><path d="M0-32l1 1.3 1-2.9 .9 17.7-1-.7-1-1.2z" fill="url(#v18_13)"/><path d="M1-30.7l1-2.9 1 1.8 .9 16.8-1-.9-1-.7z" fill="url(#v19_13)"/><path d="M2-33.6l1 1.8 1 .8 1-2.8 .9 19.7-1-2.8-1 1.9-1-.9z" fill="url(#v19_12)"/><path d="M4-31l1-2.8 1-.9 1 1.2 1-4.6 .9 24.8-1-.6-1-4.1-1 3.9-1-2.8z" fill="url(#v20_12)"/><path d="M7-33.5l1-4.6 1-2 .9 24.9-1 1.9-1-.6z" fill="url(#v22_12)"/><path d="M8-38.1l1-2 1 5 1 2.3 .9 19.7-1-2.4-1 .3-1 1.9z" fill="url(#v25_12)"/><path d="M10-35.1l1 2.3 1 .5 .9 19-1 .2-1-2.4z" fill="url(#v22_11)"/><path d="M11-32.8l1 .5 1 .2 .9 18.5-1 .3-1 .2z" fill="url(#v20_11)"/><path d="M12-32.3l1 .2 1 .1 .9 20.8-1-2.4-1 .3z" fill="url(#v19_11)"/><path d="M13-32.1l1 .1 1-.5 1 2.1 1 0 1-2.3 .9 23.4-1-2.6-1 1.3-1-2.9-1 2.3-1-2.4z" fill="url(#v19_10)"/><path d="M17-30.4l1-2.3 1 2.6 .9 23.2-1-2.4-1-2.6z" fill="url(#v19_9)"/><path d="M18-32.7l1 2.6 1-.7 .9 20.3-1 3.6-1-2.4z" fill="url(#v19_8)"/><path d="M19-30.1l1-.7 1 .9 .9 19.2-1 .2-1 3.6z" fill="url(#v18_8)"/><path d="M20-30.8l1 .9 1 1 .9 21.4-1-3.2-1 .2z" fill="url(#v18_9)"/><path d="M21-29.9l1 1 1-.2 .9 20.8-1 .8-1-3.2z" fill="url(#v18_8)"/><path d="M22-28.9l1-.2 1 2.2 .9 21.1-1-2.5-1 .8z" fill="url(#v17_8)"/><path d="M23-29.1l1 2.2 1-.6 1 0 1 1.2 .9 16.4-1 0-1 4.9-1-.8-1-2.5z" fill="url(#v17_7)"/><path d="M26-27.5l1 1.2 1 1.3 .9 19-1-3.9-1 0z" fill="url(#v16_8)"/><path d="M27-26.3l1 1.3 1 .9 .9 14.1-1 4-1-3.9z" fill="url(#v16_7)"/><path d="M28-25l1 .9 1 .2 .9 19.4-1-5.5-1 4z" fill="url(#v15_7)"/><path d="M29-24.1l1 .2 1-1 1 1 .9 17.8-1-1.1-1 2.7-1-5.5z" fill="url(#v15_6)"/><path d="M31-24.9l1 1 1 2.2 .9 15.6-1 0-1-1.1z" fill="url(#v15_7)"/><path d="M32-23.9l1 2.2 1-1.9 .9 22.4-1-4.9-1 0z" fill="url(#v14_7)"/><path d="M33-21.7l1-1.9 1 2.8 1-1.3 .9 19.8-1-5.8-1 6.9-1-4.9z" fill="url(#v14_5)"/><path d="M35-20.8l1-1.3 1 1.6 1 3.8 .9 9.8-1 2-1 2.6-1-5.8z" fill="url(#v13_6)"/><path d="M37-20.5l1 3.8 1-2.9 .9 16.9-1-4.2-1 2z" fill="url(#v12_6)"/><path d="M38-16.7l1-2.9 1 .8 1-.2 .9 14.6-1-.3-1 2-1-4.2z" fill="url(#v12_5)"/><path d="M40-18.8l1-.2 1 .6 1 .3 .9 15.8-1-1.9-1-.2-1-.3z" fill="url(#v12_6)"/><path d="M42-18.4l1 .3 1-.7 1 .9 1 1.1 1-1.7 .9 11.6-1 2.9-1 2-1-3.3-1 3-1-1.9z" fill="url(#v11_5)"/><path d="M46-16.8l1-1.7 1 0 1 1.2 .9 18-1-4.6-1-3-1 2.9z" fill="url(#v11_6)"/><path d="M48-18.5l1 1.2 1-.3 1 .5 .9 15.7-1-2.7-1 4.8-1-4.6z" fill="url(#v11_4)"/><path d="M50-17.6l1 .5 1 .4 1-.5 1-.9 1 .3 1 2.2 .9 17.7-1-5.2-1 .9-1-1.7-1 3.1-1-.6-1-2.7z" fill="url(#v11_5)"/><path d="M55-17.8l1 2.2 1-1.4 .9 13.8-1 5.3-1-5.2z" fill="url(#v11_4)"/><path d="M56-15.6l1-1.4 1-1 .9 12.9-1 1.9-1 5.3z" fill="url(#v10_4)"/><path d="M57-17l1-1 1-1.5 .9 19.7-1-5.3-1 1.9z" fill="url(#v11_5)"/><path d="M58-18l1-1.5 1 3 1-.9 .9 12.1-1 2.4-1 3.1-1-5.3z" fill="url(#v11_4)"/><path d="M60-16.5l1-.9 1 .5 1 1.5 1-1.7 1 1.3 1 .7 1-3.2 .9 11.9-1 1.5-1 1-1 .3-1 .2-1-.5-1-1.4-1 2.4z" fill="url(#v10_5)"/><path d="M66-15.1l1-3.2 1 .5 .9 14-1-2.6-1 1.5z" fill="url(#v11_6)"/><path d="M67-18.3l1 .5 1 1.1 .9 14.1-1-1.2-1-2.6z" fill="url(#v11_5)"/><path d="M68-17.8l1 1.1 1 1.7 1-2.1 1 1.5 1-1.1 1 .7 1-.6 .9 15.9-1-1.7-1-1.3-1-.3-1-.7-1-.7-1 2.8-1-1.2z" fill="url(#v10_5)"/><path d="M74-16l1-.6 1 2.2 1-1.6 1-.2 1-1 1 3.6 1-4.4 .9 13.5-1 1.1-1 2-1 .6-1-.5-1-3.5-1 4.1-1-1.7z" fill="url(#v10_4)"/><path d="M80-13.6l1-4.4 1-.1 1 2.5 1 .7 .9 16.7-1-7.7-1 2.2-1-.8-1 1.1z" fill="url(#v10_5)"/><path d="M83-15.6l1 .7 1-2 .9 11.2-1 7.5-1-7.7z" fill="url(#v9_4)"/><path d="M84-14.9l1-2 1 3.5 .9 10.8-1-3.1-1 7.5z" fill="url(#v10_4)"/><path d="M85-16.9l1 3.5 1-1.6 .9 8.9-1 3.5-1-3.1z" fill="url(#v10_5)"/><path d="M86-13.4l1-1.6 1-1.4 .9 18-1-7.7-1 3.5z" fill="url(#v9_5)"/><path d="M87-15l1-1.4 1-.8 1 1 .9 8.2-1 5.3-1 4.3-1-7.7z" fill="url(#v10_4)"/><path d="M89-17.2l1 1 1 .9 .9 13.3-1-6-1 5.3z" fill="url(#v10_5)"/><path d="M90-16.2l1 .9 1 .3 1-.5 1-.6 1 5.7 .9 9.7-1-3.2-1 .8-1-2.6-1 3.7-1-6z" fill="url(#v9_5)"/><path d="M94-16.1l1 5.7 .9 9.7-1-3.2z" fill="url(#v9_4)"/></g>
<g fill="none"><path d="M566 186.2L566 107.4" stroke="#3a3a3a" stroke-width="0.7"/><path d="M376 109L404 202" stroke="#3a3a3a" stroke-width="0.7"/><path d="M404 202L566 186.2" stroke="#3a3a3a" stroke-width="0.7"/><path d="M404 202L404.7 204.5" stroke="#3a3a3a" stroke-width="0.6"/><path d="M420.2 200.4L420.9 202.9" stroke="#3a3a3a" stroke-width="0.6"/><path d="M436.4 198.8L437.1 201.3" stroke="#3a3a3a" stroke-width="0.6"/><path d="M452.6 197.3L453.3 199.7" stroke="#3a3a3a" stroke-width="0.6"/><path d="M468.8 195.7L469.5 198.2" stroke="#3a3a3a" stroke-width="0.6"/><path d="M485 194.1L485.7 196.6" stroke="#3a3a3a" stroke-width="0.6"/><path d="M501.2 192.5L501.9 195" stroke="#3a3a3a" stroke-width="0.6"/><path d="M517.4 190.9L518.1 193.4" stroke="#3a3a3a" stroke-width="0.6"/><path d="M533.6 189.4L534.3 191.8" stroke="#3a3a3a" stroke-width="0.6"/><path d="M549.8 187.8L550.5 190.3" stroke="#3a3a3a" stroke-width="0.6"/><path d="M566 186.2L566.7 188.7" stroke="#3a3a3a" stroke-width="0.6"/><path d="M404 202L401.4 202.3" stroke="#3a3a3a" stroke-width="0.6"/><path d="M397 178.8L394.4 179" stroke="#3a3a3a" stroke-width="0.6"/><path d="M390 155.5L387.4 155.8" stroke="#3a3a3a" stroke-width="0.6"/><path d="M383 132.2L380.4 132.5" stroke="#3a3a3a" stroke-width="0.6"/><path d="M376 109L373.4 109.3" stroke="#3a3a3a" stroke-width="0.6"/><path d="M376 109L374.8 106.8" stroke="#3a3a3a" stroke-width="0.6"/><path d="M376 95.6L374.8 93.4" stroke="#3a3a3a" stroke-width="0.6"/><path d="M376 82.2L374.8 80" stroke="#3a3a3a" stroke-width="0.6"/><path d="M376 68.8L374.8 66.5" stroke="#3a3a3a" stroke-width="0.6"/><path d="M376 55.3L374.8 53.1" stroke="#3a3a3a" stroke-width="0.6"/><path d="M376 41.9L374.8 39.7" stroke="#3a3a3a" stroke-width="0.6"/><path d="M376 28.5L374.8 26.3" stroke="#3a3a3a" stroke-width="0.6"/></g>
<text x="406.5" y="216" font-size="6.4" text-anchor="middle">0</text><text x="422.5" y="214.4" font-size="6.4" text-anchor="middle">5</text><text x="438.5" y="212.8" font-size="6.4" text-anchor="middle">10</text><text x="454.6" y="211.3" font-size="6.4" text-anchor="middle">15</text><text x="470.6" y="209.7" font-size="6.4" text-anchor="middle">20</text><text x="486.6" y="208.1" font-size="6.4" text-anchor="middle">25</text><text x="502.6" y="206.5" font-size="6.4" text-anchor="middle">30</text><text x="518.6" y="204.9" font-size="6.4" text-anchor="middle">35</text><text x="534.7" y="203.4" font-size="6.4" text-anchor="middle">40</text><text x="550.7" y="201.8" font-size="6.4" text-anchor="middle">45</text><text x="566.7" y="200.2" font-size="6.4" text-anchor="middle">50</text><text x="393.8" y="210" font-size="6.4" text-anchor="middle">-50</text><text x="386.6" y="187" font-size="6.4" text-anchor="middle">-25</text><text x="379.5" y="164" font-size="6.4" text-anchor="middle">0</text><text x="372.4" y="141" font-size="6.4" text-anchor="middle">25</text><text x="365.2" y="118" font-size="6.4" text-anchor="middle">50</text><text x="374.2" y="107.2" font-size="6.4" text-anchor="end">5</text><text x="373.8" y="93.8" font-size="6.4" text-anchor="end">10</text><text x="373.8" y="80.3" font-size="6.4" text-anchor="end">15</text><text x="373.8" y="66.9" font-size="6.4" text-anchor="end">20</text><text x="373.8" y="53.5" font-size="6.4" text-anchor="end">25</text><text x="373.8" y="40" font-size="6.4" text-anchor="end">30</text><text x="373.8" y="26.6" font-size="6.4" text-anchor="end">35</text>
<rect x="592.2" y="13.5" width="14.8" height="189" fill="url(#jet)" stroke="#333" stroke-width=".5"/>
<g fill="none"><path d="M605.4 164.7L607 164.7" stroke="#222" stroke-width="0.5"/><path d="M605.4 126.9L607 126.9" stroke="#222" stroke-width="0.5"/><path d="M605.4 89.1L607 89.1" stroke="#222" stroke-width="0.5"/><path d="M605.4 51.3L607 51.3" stroke="#222" stroke-width="0.5"/></g><text x="609.8" y="204.8" font-size="6.4">5</text><text x="609.8" y="167" font-size="6.4">10</text><text x="609.8" y="129.2" font-size="6.4">15</text><text x="609.8" y="91.4" font-size="6.4">20</text><text x="609.8" y="53.6" font-size="6.4">25</text><text x="609.8" y="15.8" font-size="6.4">30</text>
<text x="316.7" y="8.8" class="tt">27<tspan font-size="6" dy="-2.9" dx=".2">°</tspan><tspan dy="2.9" dx="-.3" textLength="5.9" lengthAdjust="spacingAndGlyphs">C</tspan></text>
<text x="355.6" y="72.3" font-size="7.3" text-anchor="middle" transform="rotate(92 355.6 69.7)">Amplitude (dB)</text>
<text x="365.2" y="168" font-size="7.3" text-anchor="middle" transform="rotate(72 365.2 165.4)">Distance (um)</text>
<text x="486.9" y="222.7" font-size="7.3" text-anchor="middle" transform="rotate(-5.6 486.9 220.1)">Frequency (Hz)</text>
</g>
<g>
<path d="M56 346l176-17 0-90-176 18.2z" fill="#fff"/>
<path d="M232 329l23.7 79 0-92.4-23.7-76.6z" fill="#f3f3f3"/>
<path d="M56 346l24.5 78.5 175.2-16.5-23.7-79z" fill="#fff"/>
<g fill="none"><path d="M64.8 345.1L64.8 256.3" stroke="#dedede" stroke-width="0.5" stroke-dasharray=".6 .8"/><path d="M73.6 344.3L73.6 255.4" stroke="#d8d8d8" stroke-width="0.5"/><path d="M82.4 343.4L82.4 254.5" stroke="#dedede" stroke-width="0.5" stroke-dasharray=".6 .8"/><path d="M91.2 342.6L91.2 253.6" stroke="#d8d8d8" stroke-width="0.5"/><path d="M100 341.8L100 252.7" stroke="#dedede" stroke-width="0.5" stroke-dasharray=".6 .8"/><path d="M108.8 340.9L108.8 251.7" stroke="#d8d8d8" stroke-width="0.5"/><path d="M117.6 340.1L117.6 250.8" stroke="#dedede" stroke-width="0.5" stroke-dasharray=".6 .8"/><path d="M126.4 339.2L126.4 249.9" stroke="#d8d8d8" stroke-width="0.5"/><path d="M135.2 338.4L135.2 249" stroke="#dedede" stroke-width="0.5" stroke-dasharray=".6 .8"/><path d="M144 337.5L144 248.1" stroke="#d8d8d8" stroke-width="0.5"/><path d="M152.8 336.6L152.8 247.2" stroke="#dedede" stroke-width="0.5" stroke-dasharray=".6 .8"/><path d="M161.6 335.8L161.6 246.3" stroke="#d8d8d8" stroke-width="0.5"/><path d="M170.4 334.9L170.4 245.4" stroke="#dedede" stroke-width="0.5" stroke-dasharray=".6 .8"/><path d="M179.2 334.1L179.2 244.5" stroke="#d8d8d8" stroke-width="0.5"/><path d="M188 333.2L188 243.6" stroke="#dedede" stroke-width="0.5" stroke-dasharray=".6 .8"/><path d="M196.8 332.4L196.8 242.6" stroke="#d8d8d8" stroke-width="0.5"/><path d="M205.6 331.5L205.6 241.7" stroke="#dedede" stroke-width="0.5" stroke-dasharray=".6 .8"/><path d="M214.4 330.7L214.4 240.8" stroke="#d8d8d8" stroke-width="0.5"/><path d="M223.2 329.9L223.2 239.9" stroke="#dedede" stroke-width="0.5" stroke-dasharray=".6 .8"/><path d="M56 338.6L232 321.5" stroke="#dedede" stroke-width="0.5" stroke-dasharray=".6 .8"/><path d="M56 331.2L232 314" stroke="#d8d8d8" stroke-width="0.5"/><path d="M56 323.8L232 306.5" stroke="#dedede" stroke-width="0.5" stroke-dasharray=".6 .8"/><path d="M56 316.4L232 299" stroke="#d8d8d8" stroke-width="0.5"/><path d="M56 309L232 291.5" stroke="#dedede" stroke-width="0.5" stroke-dasharray=".6 .8"/><path d="M56 301.6L232 284" stroke="#d8d8d8" stroke-width="0.5"/><path d="M56 294.2L232 276.5" stroke="#dedede" stroke-width="0.5" stroke-dasharray=".6 .8"/><path d="M56 286.8L232 269" stroke="#d8d8d8" stroke-width="0.5"/><path d="M56 279.4L232 261.5" stroke="#dedede" stroke-width="0.5" stroke-dasharray=".6 .8"/><path d="M56 272L232 254" stroke="#d8d8d8" stroke-width="0.5"/><path d="M56 264.6L232 246.5" stroke="#dedede" stroke-width="0.5" stroke-dasharray=".6 .8"/><path d="M232 325.2L255.7 404.1" stroke="#cdcdcd" stroke-width="0.5" stroke-dasharray=".6 .8"/><path d="M232 321.5L255.7 400.3" stroke="#cdcdcd" stroke-width="0.5" stroke-dasharray=".6 .8"/><path d="M232 317.8L255.7 396.4" stroke="#cdcdcd" stroke-width="0.5" stroke-dasharray=".6 .8"/><path d="M232 314L255.7 392.6" stroke="#cfcfcf" stroke-width="0.5"/><path d="M232 310.2L255.7 388.8" stroke="#cdcdcd" stroke-width="0.5" stroke-dasharray=".6 .8"/><path d="M232 306.5L255.7 384.9" stroke="#cdcdcd" stroke-width="0.5" stroke-dasharray=".6 .8"/><path d="M232 302.8L255.7 381.1" stroke="#cdcdcd" stroke-width="0.5" stroke-dasharray=".6 .8"/><path d="M232 299L255.7 377.2" stroke="#cfcfcf" stroke-width="0.5"/><path d="M232 295.2L255.7 373.4" stroke="#cdcdcd" stroke-width="0.5" stroke-dasharray=".6 .8"/><path d="M232 291.5L255.7 369.5" stroke="#cdcdcd" stroke-width="0.5" stroke-dasharray=".6 .8"/><path d="M232 287.8L255.7 365.6" stroke="#cdcdcd" stroke-width="0.5" stroke-dasharray=".6 .8"/><path d="M232 284L255.7 361.8" stroke="#cfcfcf" stroke-width="0.5"/><path d="M232 280.2L255.7 357.9" stroke="#cdcdcd" stroke-width="0.5" stroke-dasharray=".6 .8"/><path d="M232 276.5L255.7 354.1" stroke="#cdcdcd" stroke-width="0.5" stroke-dasharray=".6 .8"/><path d="M232 272.8L255.7 350.2" stroke="#cdcdcd" stroke-width="0.5" stroke-dasharray=".6 .8"/><path d="M232 269L255.7 346.4" stroke="#cfcfcf" stroke-width="0.5"/><path d="M232 265.2L255.7 342.6" stroke="#cdcdcd" stroke-width="0.5" stroke-dasharray=".6 .8"/><path d="M232 261.5L255.7 338.7" stroke="#cdcdcd" stroke-width="0.5" stroke-dasharray=".6 .8"/><path d="M232 257.8L255.7 334.9" stroke="#cdcdcd" stroke-width="0.5" stroke-dasharray=".6 .8"/><path d="M232 254L255.7 331" stroke="#cfcfcf" stroke-width="0.5"/><path d="M232 250.2L255.7 327.1" stroke="#cdcdcd" stroke-width="0.5" stroke-dasharray=".6 .8"/><path d="M232 246.5L255.7 323.3" stroke="#cdcdcd" stroke-width="0.5" stroke-dasharray=".6 .8"/><path d="M232 242.8L255.7 319.4" stroke="#cdcdcd" stroke-width="0.5" stroke-dasharray=".6 .8"/><path d="M254.5 404L254.5 311.8" stroke="#d2d2d2" stroke-width="0.5" stroke-dasharray=".6 .8"/><path d="M253.3 400.1L253.3 307.9" stroke="#d2d2d2" stroke-width="0.5" stroke-dasharray=".6 .8"/><path d="M252.1 396.2L252.1 304.1" stroke="#d2d2d2" stroke-width="0.5" stroke-dasharray=".6 .8"/><path d="M251 392.2L251 300.3" stroke="#d2d2d2" stroke-width="0.5" stroke-dasharray=".6 .8"/><path d="M249.8 388.2L249.8 296.4" stroke="#cfcfcf" stroke-width="0.5"/><path d="M248.6 384.3L248.6 292.6" stroke="#d2d2d2" stroke-width="0.5" stroke-dasharray=".6 .8"/><path d="M247.4 380.3L247.4 288.8" stroke="#d2d2d2" stroke-width="0.5" stroke-dasharray=".6 .8"/><path d="M246.2 376.4L246.2 285" stroke="#d2d2d2" stroke-width="0.5" stroke-dasharray=".6 .8"/><path d="M245 372.4L245 281.1" stroke="#d2d2d2" stroke-width="0.5" stroke-dasharray=".6 .8"/><path d="M243.8 368.5L243.8 277.3" stroke="#cfcfcf" stroke-width="0.5"/><path d="M242.7 364.6L242.7 273.5" stroke="#d2d2d2" stroke-width="0.5" stroke-dasharray=".6 .8"/><path d="M241.5 360.6L241.5 269.6" stroke="#d2d2d2" stroke-width="0.5" stroke-dasharray=".6 .8"/><path d="M240.3 356.6L240.3 265.8" stroke="#d2d2d2" stroke-width="0.5" stroke-dasharray=".6 .8"/><path d="M239.1 352.7L239.1 262" stroke="#d2d2d2" stroke-width="0.5" stroke-dasharray=".6 .8"/><path d="M237.9 348.8L237.9 258.1" stroke="#cfcfcf" stroke-width="0.5"/><path d="M236.7 344.8L236.7 254.3" stroke="#d2d2d2" stroke-width="0.5" stroke-dasharray=".6 .8"/><path d="M235.6 340.8L235.6 250.5" stroke="#d2d2d2" stroke-width="0.5" stroke-dasharray=".6 .8"/><path d="M234.4 336.9L234.4 246.7" stroke="#d2d2d2" stroke-width="0.5" stroke-dasharray=".6 .8"/><path d="M233.2 332.9L233.2 242.8" stroke="#d2d2d2" stroke-width="0.5" stroke-dasharray=".6 .8"/><path d="M64.8 345.1L89.3 423.7" stroke="#dedede" stroke-width="0.5" stroke-dasharray=".6 .8"/><path d="M73.6 344.3L98 422.9" stroke="#d8d8d8" stroke-width="0.5"/><path d="M82.4 343.4L106.8 422" stroke="#dedede" stroke-width="0.5" stroke-dasharray=".6 .8"/><path d="M91.2 342.6L115.5 421.2" stroke="#d8d8d8" stroke-width="0.5"/><path d="M100 341.8L124.3 420.4" stroke="#dedede" stroke-width="0.5" stroke-dasharray=".6 .8"/><path d="M108.8 340.9L133.1 419.5" stroke="#d8d8d8" stroke-width="0.5"/><path d="M117.6 340.1L141.8 418.7" stroke="#dedede" stroke-width="0.5" stroke-dasharray=".6 .8"/><path d="M126.4 339.2L150.6 417.9" stroke="#d8d8d8" stroke-width="0.5"/><path d="M135.2 338.4L159.3 417.1" stroke="#dedede" stroke-width="0.5" stroke-dasharray=".6 .8"/><path d="M144 337.5L168.1 416.2" stroke="#d8d8d8" stroke-width="0.5"/><path d="M152.8 336.6L176.9 415.4" stroke="#dedede" stroke-width="0.5" stroke-dasharray=".6 .8"/><path d="M161.6 335.8L185.6 414.6" stroke="#d8d8d8" stroke-width="0.5"/><path d="M170.4 334.9L194.4 413.8" stroke="#dedede" stroke-width="0.5" stroke-dasharray=".6 .8"/><path d="M179.2 334.1L203.1 412.9" stroke="#d8d8d8" stroke-width="0.5"/><path d="M188 333.2L211.9 412.1" stroke="#dedede" stroke-width="0.5" stroke-dasharray=".6 .8"/><path d="M196.8 332.4L220.7 411.3" stroke="#d8d8d8" stroke-width="0.5"/><path d="M205.6 331.5L229.4 410.5" stroke="#dedede" stroke-width="0.5" stroke-dasharray=".6 .8"/><path d="M214.4 330.7L238.2 409.6" stroke="#d8d8d8" stroke-width="0.5"/><path d="M223.2 329.9L246.9 408.8" stroke="#dedede" stroke-width="0.5" stroke-dasharray=".6 .8"/><path d="M77.4 414.7L252.7 398.1" stroke="#dedede" stroke-width="0.5" stroke-dasharray=".6 .8"/><path d="M74.4 404.9L249.8 388.2" stroke="#d8d8d8" stroke-width="0.5"/><path d="M71.3 395.1L246.8 378.4" stroke="#dedede" stroke-width="0.5" stroke-dasharray=".6 .8"/><path d="M68.2 385.2L243.8 368.5" stroke="#d8d8d8" stroke-width="0.5"/><path d="M65.2 375.4L240.9 358.6" stroke="#dedede" stroke-width="0.5" stroke-dasharray=".6 .8"/><path d="M62.1 365.6L237.9 348.8" stroke="#d8d8d8" stroke-width="0.5"/><path d="M59.1 355.8L235 338.9" stroke="#dedede" stroke-width="0.5" stroke-dasharray=".6 .8"/></g>
<g fill="none"><path d="M56 257.2L232 239" stroke="#3a3a3a" stroke-width="0.7"/><path d="M232 239L255.7 315.6" stroke="#3a3a3a" stroke-width="0.7"/><path d="M232 329L232 239" stroke="#6a6a6a" stroke-width="1.0"/><path d="M56 346L56 257.2" stroke="#3a3a3a" stroke-width="0.7"/></g>
<path d="M56 346l1 3.1 1 3.2 4.1 13.3 3.2 10.2 1 3.2 1 3.1 2.4 7.9 2.2 7 1.1 3.6 1.1 3.5 1.1 3.5 1.1 3.6 1.3 3.9 1.2 3.9 1.7 5.5 1.8-22.8-1.7-19.9-1.2 7.2-1.2-16.9-1.1-1.1-1.1-6.7-1.1 4.1-1.1-8.8-2.3 6.2-2.4-17.7-1 1.4-1-5.2-3.1 5.1-4.2-26-1 2-1-4.9z" fill="url(#w2)"/>
<g transform="matrix(1.8333 -.1771 0 1 57.83 345.82)"><path d="M0-25.3l1-2.6 1-.4 .5 10.9-2 0z" fill="url(#v15_12)"/><path d="M1-27.9l1-.4 1 3 1-5.5 .5 12.4-3 1z" fill="url(#v15_13)"/><path d="M3-25.3l1-5.5 1 1.3 1-1.3 1-3.1 .5 14.2-4 2.3z" fill="url(#v16_13)"/><path d="M6-30.8l1-3.1 1-1.6 .5 16.5-2-1z" fill="url(#v18_14)"/><path d="M7-33.9l1-1.6 1 5.8 1 .9 .5 9.8-3-.7z" fill="url(#v19_14)"/><path d="M9-29.7l1 .9 1-3.1 .5 12.9-2 0z" fill="url(#v16_13)"/><path d="M10-28.8l1-3.1 1-2.4 .5 16.1-2-.8z" fill="url(#v17_13)"/><path d="M11-31.9l1-2.4 1-16.5 .5 32.6-2-.8z" fill="url(#v19_13)"/><path d="M12-34.3l1-16.5 1 14.6 1 8.2 .5 10.7-3-.9z" fill="url(#v27_14)"/><path d="M14-36.2l1 8.2 1-.1 .5 10.8-2 0z" fill="url(#v19_12)"/><path d="M15-28l1-.1 1 0 .5 10.8-2 0z" fill="url(#v16_12)"/><path d="M16-28.1l1 0 1 2 1 .4 .5 9.3-3-.9z" fill="url(#v15_12)"/><path d="M18-26.1l1 .4 1-1.7 .5 12.2-2-2.1z" fill="url(#v14_12)"/><path d="M19-25.7l1-1.7 1 2.6 1-.4 .5 10-3-1.2z" fill="url(#v15_12)"/><path d="M21-24.8l1-.4 1-2.7 .5 12.7-2 0z" fill="url(#v14_11)"/><path d="M22-25.2l1-2.7 1-.3 1-4.2 .5 17.2-3 0z" fill="url(#v15_11)"/><path d="M24-28.2l1-4.2 1-17.3 .5 34.5-2 0z" fill="url(#v18_12)"/><path d="M25-32.4l1-17.3 1 13 .5 20.1-2 1.4z" fill="url(#v27_12)"/><path d="M26-49.7l1 13 1 11.1 .5 9.4-2 1z" fill="url(#v27_13)"/><path d="M27-36.7l1 11.1 1-2.4 .5 11.8-2-.4z" fill="url(#v19_12)"/><path d="M28-25.6l1-2.4 1 1.3 .5 11.2-2-.7z" fill="url(#v14_12)"/><path d="M29-28l1 1.3 1 1.4 1-1 1 1.7 1-2.9 .5 17.3-5-6z" fill="url(#v14_11)"/><path d="M33-24.6l1-2.9 1-.3 1 3.3 .5 14.3-3 0z" fill="url(#v14_10)"/><path d="M35-27.8l1 3.3 1-2 1-4.9 .5 16.6-3 4.6z" fill="url(#v14_11)"/><path d="M37-26.5l1-4.9 1-9.5 .5 26.1-2 4.6z" fill="url(#v17_11)"/><path d="M38-31.4l1-9.5 1 9.4 1 6.2 .5 10.5-3 0z" fill="url(#v22_11)"/><path d="M40-31.5l1 6.2 1-1.1 .5 11.6-2 0z" fill="url(#v17_11)"/><path d="M41-25.3l1-1.1 1 1.4 1-.3 1-.6 1-.6 1 2.5 1-2.3 1-.2 .5 12.7-8-1z" fill="url(#v14_11)"/><path d="M48-26.3l1-.2 1 1.3 1-3.2 .5 14.6-3 0z" fill="url(#v14_10)"/><path d="M50-25.2l1-3.2 1-.5 .5 15.1-2 0z" fill="url(#v15_10)"/><path d="M51-28.4l1-.5 1-9 .5 23.7-2 .4z" fill="url(#v16_10)"/><path d="M52-28.9l1-9 1 7.5 1 5.7 .5 11.4-3-.5z" fill="url(#v21_11)"/><path d="M54-30.4l1 5.7 1-2.6 .5 14-2-.9z" fill="url(#v16_11)"/><path d="M55-24.7l1-2.6 1 1.8 1-2 1 3.7 1-.1 .5 10.6-5 0z" fill="url(#v14_10)"/><path d="M59-23.8l1-.1 1-3.1 .5 13.7-2 0z" fill="url(#v13_10)"/><path d="M60-23.9l1-3.1 1 3.2 1-2.9 1 2.4 .5 11.4-4-.4z" fill="url(#v14_10)"/><path d="M63-26.7l1 2.4 1-2.6 1-4.3 .5 18.3-3-1.3z" fill="url(#v14_11)"/><path d="M65-26.9l1-4.3 1 4.8 .5 13.5-2 0z" fill="url(#v16_11)"/><path d="M66-31.2l1 4.8 1 2.5 .5 11-2 0z" fill="url(#v16_10)"/><path d="M67-26.4l1 2.5 1-.6 .5 11.6-2 0z" fill="url(#v14_10)"/><path d="M68-23.9l1-.6 1-2.2 .5 13.8-2 0z" fill="url(#v13_10)"/><path d="M69-24.5l1-2.2 1 1.3 1-.7 .5 12.3-3 .9z" fill="url(#v14_10)"/><path d="M71-25.4l1-.7 1 .9 .5 11.4-2 0z" fill="url(#v14_11)"/><path d="M72-26.1l1 .9 1-.3 1 .7 1 1.1 .5 9.8-4 .1z" fill="url(#v14_10)"/><path d="M75-24.8l1 1.1 1-2.1 .5 11.9-2 0z" fill="url(#v13_10)"/><path d="M76-23.7l1-2.1 1 .3 1 4.3 1-6.8 .5 14.1-4 0z" fill="url(#v14_10)"/><path d="M79-21.2l1-6.8 1 .8 1-.6 .5 13.6-3 .3z" fill="url(#v15_10)"/><path d="M81-27.2l1-.6 1 4.6 1-2 .5 11.2-3 .1z" fill="url(#v14_10)"/><path d="M83-23.2l1-2 1-.6 .5 12.6-2-.9z" fill="url(#v13_10)"/><path d="M84-25.2l1-.6 1-1 1 2.8 1-1.7 .5 13.7-4-2z" fill="url(#v14_10)"/><path d="M87-24l1-1.7 1 1.3 .5 12.4-2 0z" fill="url(#v13_10)"/><path d="M88-25.7l1 1.3 1-.5 1 .7 1-1.2 1 1 1-.9 1 .5 .5 13.1-7-.3z" fill="url(#v13_9)"/></g>
<g transform="matrix(1.833 -.1769 0 1 58.81 348.96)"><path d="M0-23.5l1-2.5 1 .8 1 1 .5 .8-3 0z" fill="url(#v13_15)"/><path d="M2-25.2l1 1 1-.5 .5 1.1-2 .2z" fill="url(#v13_16)"/><path d="M3-24.2l1-.5 1 .4 1-1.7 .5-.2-3 2.8z" fill="url(#v13_17)"/><path d="M5-24.3l1-1.7 1-2.7 .5 5.4-2-1.4z" fill="url(#v14_17)"/><path d="M6-26l1-2.7 1 3.5 .5 1.9-2-2.9z" fill="url(#v15_17)"/><path d="M7-28.7l1 3.5 1-2.9 .5 4.8-2 0z" fill="url(#v15_18)"/><path d="M8-25.2l1-2.9 1 4.2 .5 .6-2 0z" fill="url(#v14_17)"/><path d="M9-28.1l1 4.2 1 .7 .5-.1-2 0z" fill="url(#v14_16)"/><path d="M10-23.9l1 .7 1-2.9 .5 3.5-2-.7z" fill="url(#v13_16)"/><path d="M11-23.2l1-2.9 1-3.8 .5 7.8-2-1.2z" fill="url(#v14_16)"/><path d="M12-26.1l1-3.8 1 5.1 .5 2.7-2-.5z" fill="#1affe5"/><path d="M13-29.9l1 5.1 1 2.3 .5 .4-2 0z" fill="url(#v16_15)"/><path d="M14-24.8l1 2.3 1-4.4 .5 4.8-2 0z" fill="url(#v14_15)"/><path d="M15-22.5l1-4.4 1 5.4 1-2.3 .5 3.1-3-1.4z" fill="url(#v13_15)"/><path d="M17-21.5l1-2.3 1 1.2 1 .8 .5 1.1-3 0z" fill="url(#v12_15)"/><path d="M19-22.6l1 .8 1-.3 1 1.5 1 1.2 .5 0-4-1.3z" fill="url(#v12_14)"/><path d="M22-20.6l1 1.2 1-3 .5 3-2-1.3z" fill="url(#v11_14)"/><path d="M23-19.4l1-3 1 .3 1-3.6 .5 6.3-3 0z" fill="url(#v12_14)"/><path d="M25-22.1l1-3.6 1-.5 1 2.5 .5 4.3-3 0z" fill="url(#v14_13)"/><path d="M27-26.2l1 2.5 1 1.3 .5 3-2 0z" fill="url(#v13_14)"/><path d="M28-23.7l1 1.3 1 .5 .5 2.4-2 .1z" fill="url(#v12_14)"/><path d="M29-22.4l1 .5 1 1.4 .5 1-2 .1z" fill="url(#v12_13)"/><path d="M30-21.9l1 1.4 1-.3 1 1.1 1 5.2 1-6.3 1 0 .5 1.3-6 0z" fill="url(#v11_13)"/><path d="M35-20.8l1 0 1-1.1 .5 2.4-2 0z" fill="url(#v11_14)"/><path d="M36-20.8l1-1.1 1 1.7 1-5.2 .5 5.9-3 0z" fill="url(#v11_13)"/><path d="M38-20.2l1-5.2 1 4.5 1 1.8 .5 .4-3-.8z" fill="#0cf"/><path d="M40-20.9l1 1.8 1-.9 1-1.3 1 1.1 1-.5 1 1.7 1-1.6 1-.6 1 3.1 1-2.4 1 2 1-2.7 1 .2 .5 2.5-6 0-6-.2-1-.8z" fill="url(#v11_13)"/><path d="M52-21.2l1 .2 1-.3 1 1.3 .5 .1-3 1.4z" fill="url(#v12_13)"/><path d="M54-21.3l1 1.3 1 1.6 1-1.8 1 2.7 1-2.3 1 1.3 1-1.7 1 1.4 1-2.4 1 .7 1 .1 .5 3.6-11-3.2z" fill="url(#v11_13)"/><path d="M64-20.5l1 .1 1 1.7 1 1.6 .5 .3-3 0z" fill="url(#v11_12)"/><path d="M66-18.7l1 1.6 1-1.3 .5 1.6-2 0z" fill="url(#v11_13)"/><path d="M67-17.1l1-1.3 1-3 .5 3.4-2 1.2z" fill="url(#v10_13)"/><path d="M68-18.4l1-3 1 3.3 .5 .1-2 1.2z" fill="url(#v11_13)"/><path d="M69-21.4l1 3.3 1-2.5 1-1.3 1 3.5 1-.4 .5 2.5-5-1.7z" fill="url(#v11_12)"/><path d="M73-18.4l1-.4 1-1.8 .5 4.3-2 0z" fill="url(#v10_12)"/><path d="M74-18.8l1-1.8 1 2.2 1 0 .5 2.1-3 0z" fill="url(#v11_12)"/><path d="M76-18.4l1 0 1 .2 1-.9 .5 2.6-3 .2z" fill="url(#v10_12)"/><path d="M78-18.2l1-.9 1-.2 1-1.1 1 1.4 .5 .7-4 1.8z" fill="url(#v10_13)"/><path d="M81-20.4l1 1.4 1-1.1 1 1.7 1-5.6 .5 5.7-4 0z" fill="url(#v10_12)"/><path d="M84-18.4l1-5.6 1 5.7 1 .1 .5 .4-3-.5z" fill="url(#v11_12)"/><path d="M86-18.3l1 .1 1 .8 1 1.1 1-.9 .5-.6-4 0z" fill="url(#v12_10)"/><path d="M89-16.3l1-.9 1-1.3 .5 1.1-2-.4z" fill="url(#v12_9)"/><path d="M90-17.2l1-1.3 1 1.5 1-2.1 1 3 1 .1 .5-1.4-5-.4z" fill="url(#v12_10)"/><path d="M94-16.1l1 .1 .5-1.4-1 0z" fill="url(#v12_9)"/></g>
<g transform="matrix(1.8327 -.1767 0 1 59.79 352.1)"><path d="M0-28.7l1 .9 1-1.1 2.3 28.6-2 0z" fill="url(#v15_9)"/><path d="M1-27.8l1-1.1 1-2.7 2.3 31.3-2 0z" fill="url(#v16_9)"/><path d="M2-28.9l1-2.7 1-1 2.3 32.3-2 0z" fill="url(#v17_9)"/><path d="M3-31.6l1-1 1 .9 1 1.3 1-8.6 2.3 35-4 3.7z" fill="url(#v17_10)"/><path d="M6-30.4l1-8.6 1 6.1 1 1.3 2.3 27.6-3 .4z" fill="url(#v20_11)"/><path d="M8-32.9l1 1.3 1 4.1 2.3 25.9-2-2.4z" fill="url(#v18_10)"/><path d="M9-31.6l1 4.1 1-.9 2.3 26.8-2-2.4z" fill="url(#v17_10)"/><path d="M10-27.5l1-.9 1-1.1 1-.4 2.3 30.4-3-2.1z" fill="url(#v16_10)"/><path d="M12-29.5l1-.4 1 1.9 1 1.2 2.3 30.5-3-4.5z" fill="url(#v16_9)"/><path d="M14-28l1 1.2 1 .5 2.3 30.1-2-1.9z" fill="url(#v15_9)"/><path d="M15-26.8l1 .5 1-1.4 2.3 32.4-2-1z" fill="url(#v15_8)"/><path d="M16-26.3l1-1.4 1-.6 2.3 33.5-2-1.4z" fill="url(#v15_7)"/><path d="M17-27.7l1-.6 1 .4 1 2.9 1-1 2.3 33.4-4-2.7z" fill="url(#v15_6)"/><path d="M20-25l1-1 1-.6 1-1.2 2.3 35.3-3-1.3z" fill="url(#v14_5)"/><path d="M22-26.6l1-1.2 1 .8 2.3 34.5-2-.1z" fill="url(#v15_5)"/><path d="M23-27.8l1 .8 1 .6 2.3 35-2-1.1z" fill="url(#v15_4)"/><path d="M24-27l1 .6 1 2.8 1-3.5 1 1.7 1-.3 1 2 2.2 34.1-5.9-2.9z" fill="url(#v14_4)"/><path d="M29-25.7l1 2 1-1.3 1 .3 1 .1 2.2 35.3-4-1.2z" fill="url(#v14_3)"/><path d="M32-24.7l1 .1 1 .7 1-2 2.2 36.6-3-.3z" fill="url(#v13_3)"/><path d="M34-23.9l1-2 1-.3 1 2 1 .4 2.2 34.5-4 0z" fill="url(#v14_3)"/><path d="M37-24.2l1 .4 1 0 1-.6 1-2.3 2.2 39.2-4-1.8z" fill="url(#v13_3)"/><path d="M40-24.4l1-2.3 1 2.1 2.2 37.1-2-.6z" fill="url(#v14_3)"/><path d="M41-26.7l1 2.1 1-2.5 1 4.1 1-.2 2.2 35.7-4 0z" fill="url(#v14_2)"/><path d="M44-23l1-.2 1-.4 2.2 36.1-2 0z" fill="url(#v13_2)"/><path d="M45-23.2l1-.4 1 .2 1-1.6 1-1.8 2.2 39-4 .3z" fill="url(#v13_3)"/><path d="M48-25l1-1.8 1 4.1 2.2 34.9-2 0z" fill="url(#v14_3)"/><path d="M49-26.8l1 4.1 1-2.2 2.2 37.1-2 0z" fill="url(#v14_2)"/><path d="M50-22.7l1-2.2 1-1.3 1-1.3 2.2 39.7-3 0z" fill="url(#v13_2)"/><path d="M52-26.2l1-1.3 1 2.9 2.2 36.8-2 0z" fill="url(#v14_2)"/><path d="M53-27.5l1 2.9 1-1 2.2 37.2-2 .6z" fill="url(#v14_3)"/><path d="M54-24.6l1-1 1-.4 1 1.6 1-.5 2.2 37.5-4-.4z" fill="url(#v13_3)"/><path d="M57-24.4l1-.5 1 1.6 1 .4 1-.4 1-2.3 1-.2 1 1.5 1 3.3 1-4.5 1 1.6 1-1.9 1 1.9 1 1.7 1-1.1 1 .5 1-2.9 1 5.1 1-2.1 2.2 36.2-6-.1-6 0-6-.8z" fill="url(#v13_2)"/><path d="M74-20.6l1-2.1 1-.4 1 2.4 1-3.3 2.2 38.1-4-1.5z" fill="url(#v12_2)"/><path d="M77-20.7l1-3.3 1-.9 1 .5 2.2 38.5-3-.6z" fill="url(#v13_1)"/><path d="M79-24.9l1 .5 1 0 2.2 38.5-2 0z" fill="url(#v13_2)"/><path d="M80-24.4l1 0 1 1.3 1-1.3 2.2 38.5-3 0z" fill="url(#v13_1)"/><path d="M82-23.1l1-1.3 1 1.9 2.2 36.6-2 0z" fill="url(#v13_2)"/><path d="M83-24.4l1 1.9 1-.6 2.2 36.3-2 .9z" fill="url(#v13_1)"/><path d="M84-22.5l1-.6 1-.2 2.2 36.7-2 .7z" fill="url(#v12_1)"/><path d="M85-23.1l1-.2 1 .2 1-.5 1 1.6 2.2 35.4-4-.2z" fill="url(#v12_2)"/><path d="M88-23.6l1 1.6 1-.7 1 .7 2.2 35.4-3 0z" fill="url(#v12_1)"/><path d="M90-22.7l1 .7 1-.8 1-.3 1 1.5 1-2.9 2.2 36.6-5 1.3z" fill="url(#v12_2)"/></g>
<g transform="matrix(1.8313 -.1758 0 1 63.96 365.45)"><path d="M0-20.3l6 0 2-4.6 1.7 6.1-2-.5-6 3.1z" fill="#00b2ff"/><path d="M7-23.5l5-2.8 1.7 8-5-1.5z" fill="#1affe5"/><path d="M11-26.3l2 0 1.7 9.4-2-3.9z" fill="#80ff80"/><path d="M12-26.3l4 1.6 1.7 9.4-4-3z" fill="#1affe5"/><path d="M15-25.4l2 2.6 1.7 9.6-2-5z" fill="#80ff80"/><path d="M16-24.7l2 3.1 1.7 9.6-2-3.3z" fill="#1affe5"/><path d="M17-22.8l6 1.2 2 2.2 1.7 11.6-2-.8-6-4.6z" fill="#00b2ff"/><path d="M24-21.6l3 2.3 1.7 10.8-3 .4z" fill="#004dff"/><path d="M26-19.4l4 1 1.7 12.3-4-1.8z" fill="#00b2ff"/><path d="M29-18.6l6 1.8 6 1.7 6 0 6 0 6 1.4 6 0 6 2 6 0 6-.4 6 0 6 0 1.7 9.9-6-.3-6-.3-6-.3-6-.3-6-.3-6-.2-6-.3-6-.2-6-.3-6-.5-6-1.3z" fill="#004dff"/></g>
<g transform="matrix(1.8302 -.1751 0 1 67.14 375.65)"><path d="M0-31.4l1-3.1 1-1.7 1-2.5 .5 13.7-3 0z" fill="url(#v19_16)"/><path d="M2-36.2l1-2.5 1 2.8 1-1.7 1-.5 .5 11-4 2.1z" fill="url(#v20_17)"/><path d="M5-37.6l1-.5 1-1.7 .5 12.7-2 0z" fill="url(#v20_18)"/><path d="M6-38.1l1-1.7 1 2.4 1-5.1 .5 14.9-3 .5z" fill="url(#v21_17)"/><path d="M8-37.4l1-5.1 1-4.7 .5 19.6-2 0z" fill="url(#v22_18)"/><path d="M9-42.5l1-4.7 1-9.1 .5 28.6-2 .1z" fill="url(#v25_18)"/><path d="M10-47.2l1-9.1 1 9.9 .5 18.7-2 .1z" fill="url(#v30_19)"/><path d="M11-56.3l1 9.9 1 4.1 .5 14.6-2 0z" fill="url(#v30_18)"/><path d="M12-46.4l1 4.1 1-6.8 .5 21.5-2-.1z" fill="url(#v25_18)"/><path d="M13-42.3l1-6.8 1-6.2 .5 28.6-2-1z" fill="url(#v26_18)"/><path d="M14-49.1l1-6.2 1 10.2 1 5.5 .5 14.2-3-2.2z" fill="url(#v30_18)"/><path d="M16-45.1l1 5.5 1 .5 .5 15.7-2-2.6z" fill="url(#v25_18)"/><path d="M17-39.6l1 .5 1 1.6 .5 14.1-2-2z" fill="url(#v21_17)"/><path d="M18-39.1l1 1.6 1 .8 .5 16.2-2-2.9z" fill="url(#v20_17)"/><path d="M19-37.5l1 .8 1 .3 .5 15.9-2-2.9z" fill="url(#v20_16)"/><path d="M20-36.7l1 .3 1 .6 1 2 .5 13.3-3 0z" fill="url(#v19_15)"/><path d="M22-35.8l1 2 1 1.1 .5 12.2-2 0z" fill="url(#v19_14)"/><path d="M23-33.8l1 1.1 1-3.4 .5 15.6-2 0z" fill="url(#v18_14)"/><path d="M24-32.7l1-3.4 1 .1 1-4.2 .5 21-3-1.3z" fill="url(#v19_14)"/><path d="M26-36l1-4.2 1 6 .5 15.6-2-1.4z" fill="url(#v21_14)"/><path d="M27-40.2l1 6 1 .8 .5 16.2-2-2z" fill="url(#v21_13)"/><path d="M28-34.2l1 .8 1 .1 .5 16.9-2-2.2z" fill="url(#v19_13)"/><path d="M29-33.4l1 .1 1 2.9 .5 14-2-.8z" fill="url(#v18_13)"/><path d="M30-33.3l1 2.9 1-.3 .5 14.3-2 0z" fill="url(#v17_12)"/><path d="M31-30.4l1-.3 1 .4 .5 14.4-2-.5z" fill="url(#v16_12)"/><path d="M32-30.7l1 .4 1-.5 1 1.2 .5 14.8-3-1.6z" fill="url(#v16_11)"/><path d="M34-30.8l1 1.2 1 .1 .5 16.9-2-3.3z" fill="url(#v16_12)"/><path d="M35-29.6l1 .1 1 1.1 1-.7 .5 16.5-3-2.2z" fill="url(#v16_11)"/><path d="M37-28.4l1-.7 1 1.2 1-1.8 .5 17.1-3 0z" fill="url(#v15_10)"/><path d="M39-27.9l1-1.8 1 1.3 1-2.2 1 3.2 1 .6 .5 13.5-5 .7z" fill="url(#v16_10)"/><path d="M43-27.4l1 .6 1-2.5 1 .4 1 2.8 1-5.3 .5 18.1-5 0z" fill="url(#v15_10)"/><path d="M47-26.1l1-5.3 1 4 1-1.9 .5 17.5-3-1.5z" fill="url(#v16_10)"/><path d="M49-27.4l1-1.9 1 2.1 1-2.1 .5 17.5-3 0z" fill="url(#v15_10)"/><path d="M51-27.2l1-2.1 1 .2 1 2.2 1-1.1 1-.7 1-1.5 1 1.5 .5 16.7-7 .2z" fill="url(#v15_9)"/><path d="M57-30.2l1 1.5 1-2.1 .5 18.6-2 .2z" fill="url(#v15_10)"/><path d="M58-28.7l1-2.1 1 2.7 1-.2 .5 16.1-3 .2z" fill="url(#v15_9)"/><path d="M60-28.1l1-.2 1 .3 .5 15.8-2 0z" fill="url(#v15_10)"/><path d="M61-28.3l1 .3 1 1.2 1 2.1 .5 14.5-3-2z" fill="url(#v15_9)"/><path d="M63-26.8l1 2.1 1-.2 1-2.7 1-.1 .5 17.5-4 0z" fill="url(#v14_9)"/><path d="M66-27.6l1-.1 1 .6 1 .9 .5 16-3 0z" fill="url(#v15_9)"/><path d="M68-27.1l1 .9 1-.1 1 1.1 1-3.2 .5 17-4 1.2z" fill="url(#v14_9)"/><path d="M71-25.2l1-3.2 1 5.7 1-6.2 1 2.8 1-4 1 2.3 1 1.7 .5 14.4-7 .3z" fill="url(#v15_9)"/><path d="M77-27.8l1 1.7 1-.6 1 .9 1-2.7 1 2.2 1-.6 1 1.8 1-1.9 1 2.9 .5 13.6-9-1.2z" fill="url(#v14_9)"/><path d="M85-27l1 2.9 1-1.1 1-3.9 .5 18.6-3-.7z" fill="url(#v14_8)"/><path d="M87-25.2l1-3.9 1 5.9 .5 12.7-2 0z" fill="url(#v15_9)"/><path d="M88-29.1l1 5.9 1-3.2 .5 15.9-2 0z" fill="url(#v15_8)"/><path d="M89-23.2l1-3.2 1-1.1 1 1.5 1-1.8 1 .3 1 1.1 .5 15.7-6 .2z" fill="url(#v14_8)"/></g>
<g transform="matrix(1.8298 -.1749 0 1 68.12 378.8)"><path d="M0-29.3l1-1.5 1-1.5 .5 2.7-2 0z" fill="url(#v16_18)"/><path d="M1-30.8l1-1.5 1-.2 1 1.1 .5 1.4-3 .4z" fill="url(#v17_19)"/><path d="M3-32.5l1 1.1 1-3.2 .5 4.6-2 .4z" fill="url(#v17_20)"/><path d="M4-31.4l1-3.2 1 2.2 .5 1.5-2 .9z" fill="url(#v18_21)"/><path d="M5-34.6l1 2.2 1 .6 1-.5 1-1.5 1-.9 .5 3-5 1.7z" fill="url(#v18_20)"/><path d="M9-33.8l1-.9 1 2.7 1-1 1 1.1 .5 .2-4 .8z" fill="url(#v19_20)"/><path d="M12-33l1 1.1 1-1.5 1-2.8 .5 7.6-3-3.1z" fill="url(#v18_20)"/><path d="M14-33.4l1-2.8 1 3.5 .5 4.1-2 0z" fill="url(#v19_20)"/><path d="M15-36.2l1 3.5 1-1.4 .5 5.5-2 0z" fill="#6f9"/><path d="M16-32.7l1-1.4 1 2.2 1 0 .5 4.5-3-1.2z" fill="#4dffb2"/><path d="M18-31.9l1 0 1 1.4 .5 3.1-2 0z" fill="url(#v17_19)"/><path d="M19-31.9l1 1.4 1 2.9 .5 .3-2-.1z" fill="url(#v17_18)"/><path d="M20-30.5l1 2.9 1-1.5 .5 2.3-2-.6z" fill="url(#v16_18)"/><path d="M21-27.6l1-1.5 1 4.4 1-1.4 .5-.2-3-1z" fill="url(#v15_18)"/><path d="M23-24.7l1-1.4 1-1 1 .4 1-1 .5 3-4-2.1z" fill="url(#v14_17)"/><path d="M26-26.7l1-1 1 2.7 1-.5 .5 3.2-3-2.9z" fill="url(#v15_16)"/><path d="M28-25l1-.5 1 1.1 .5 2.1-2-1.8z" fill="url(#v13_16)"/><path d="M29-25.5l1 1.1 1 1.1 1 1.8 .5-.8-3 0z" fill="url(#v13_15)"/><path d="M31-23.3l1 1.8 1 .9 1-2.1 1-4.5 .5 5.6-4-.7z" fill="url(#v12_15)"/><path d="M34-22.7l1-4.5 1 7.1 1-.5 .5 .6-3-1.9z" fill="url(#v13_14)"/><path d="M36-20.1l1-.5 1 1.6 1 2.1 .5-2.1-3-1.8z" fill="url(#v14_11)"/><path d="M38-19l1 2.1 1-3.4 .5 1.3-2 0z" fill="url(#v14_10)"/><path d="M39-16.9l1-3.4 1 .7 1-.4 .5 1-3 0z" fill="url(#v11_13)"/><path d="M41-19.6l1-.4 1 1.7 1 .4 1-2.6 1 3 1-1.9 1-.2 .5 1.5-7-.9z" fill="url(#v10_13)"/><path d="M47-19.4l1-.2 1 1.2 1 .8 .5-.5-3 0z" fill="url(#v10_12)"/><path d="M49-18.4l1 .8 1-.9 .5 .4-2 0z" fill="url(#v10_13)"/><path d="M50-17.6l1-.9 1 2.5 1-1.8 1 .2 1 1.3 .5-1.8-5 0z" fill="url(#v12_10)"/><path d="M54-17.6l1 1.3 1-1.3 1-1.3 .5 .8-3 0z" fill="url(#v12_9)"/><path d="M56-17.6l1-1.3 1-3.9 .5 4.4-2 .3z" fill="url(#v10_12)"/><path d="M57-18.9l1-3.9 1 6.3 1-1.8 .5-.4-3 .6z" fill="url(#v11_13)"/><path d="M59-16.5l1-1.8 1 .1 1 .9 .5-.5-3-.6z" fill="url(#v12_10)"/><path d="M61-18.2l1 .9 1 .4 .5-.9-2-.9z" fill="url(#v13_10)"/><path d="M62-17.3l1 .4 1-1.3 .5 .7-2-.3z" fill="url(#v13_9)"/><path d="M63-16.9l1-1.3 1-.2 1 4 1-4.9 .5 2.1-4-.6z" fill="url(#v12_9)"/><path d="M66-14.4l1-4.9 1 2.1 1-.3 .5 .3-3 0z" fill="url(#v12_10)"/><path d="M68-17.2l1-.3 1 .9 1-2.2 1 3.2 1-1 1-.9 1 1.5 1-.7 1-1.4 1-.3 1 1.7 1 .4 1-1.1 1 .5 1 1.4 1-2.2 1 1.4 1 .8 1-2.2 1 .6 1 2.4 1-2.5 1 1.7 .5 .3-6-1.4-6-.3-6-.5-5 .2z" fill="url(#v9_12)"/><path d="M90-17.2l1 1.7 1-.1 .5 .4-2-.5z" fill="url(#v9_11)"/><path d="M91-15.5l1-.1 1 .6 1-2.2 .5 2-3 0z" fill="url(#v8_11)"/><path d="M93-15l1-2.2 1 1.3 .5 .7-2 0z" fill="url(#v9_11)"/></g>
<g transform="matrix(1.8295 -.1747 0 1 69.1 381.94)"><path d="M0-33.8l1-1.4 1 1 1.3 19.3-2 0z" fill="url(#v19_14)"/><path d="M1-35.2l1 1 1-3.3 1.3 22.6-2 0z" fill="url(#v19_16)"/><path d="M2-34.2l1-3.3 1-1.9 1.3 21.4-2 3.1z" fill="url(#v20_15)"/><path d="M3-37.5l1-1.9 1-.4 1.3 21.8-2 3.1z" fill="url(#v21_15)"/><path d="M4-39.4l1-.4 1 4.6 1-5.7 1 2.6 1 .1 1.3 20.9-5-.7z" fill="url(#v21_16)"/><path d="M8-38.3l1 .1 1-.5 1.3 21.4-2 0z" fill="url(#v20_16)"/><path d="M9-38.2l1-.5 1 1.4 1 1.4 1-1 1 .7 1.3 20.4-5-1.5z" fill="url(#v20_15)"/><path d="M13-36.9l1 .7 1-2.7 1.3 23.1-2 0z" fill="url(#v20_16)"/><path d="M14-36.2l1-2.7 1 2.7 1.3 20.5-2-.1z" fill="url(#v20_15)"/><path d="M15-38.9l1 2.7 1 3.4 1.3 17.1-2-.1z" fill="url(#v20_14)"/><path d="M16-36.2l1 3.4 1-4.4 1 1.4 1 1.3 1.3 21.7-4-2.9z" fill="url(#v19_14)"/><path d="M19-35.8l1 1.3 1 2.9 1.3 20.5-2-2.6z" fill="url(#v19_13)"/><path d="M20-34.5l1 2.9 1-6.3 1.3 27.2-2-2.1z" fill="url(#v18_13)"/><path d="M21-31.6l1-6.3 1 5.4 1 .9 1.3 24.2-3-3.7z" fill="url(#v19_12)"/><path d="M23-32.5l1 .9 1 .6 1.3 24.7-2-1.7z" fill="url(#v18_11)"/><path d="M24-31.6l1 .6 1-.4 1.3 25.8-2-1.8z" fill="url(#v17_11)"/><path d="M25-31l1-.4 1 .9 1.3 24.9-2-.7z" fill="url(#v17_10)"/><path d="M26-31.4l1 .9 1 .1 1.3 25.6-2-.8z" fill="url(#v17_9)"/><path d="M27-30.5l1 .1 1-.2 1.3 28.4-2-3.4z" fill="url(#v16_9)"/><path d="M28-30.4l1-.2 1 1.7 1-.9 1 3.3 1.3 24.6-4-2.9z" fill="url(#v16_8)"/><path d="M31-29.8l1 3.3 1-2.2 1.3 31.7-2-5.2z" fill="url(#v16_7)"/><path d="M32-26.5l1-2.2 1 1.1 1 .8 1.3 29.8-3-4.9z" fill="url(#v15_7)"/><path d="M34-27.6l1 .8 1-1.3 1.3 31.1-2 0z" fill="url(#v15_6)"/><path d="M35-26.8l1-1.3 1 1.7 1 .3 1 1.1 1.3 28-4 0z" fill="url(#v14_5)"/><path d="M38-26.1l1 1.1 1 .7 1 1 1.3 25.4-3 .9z" fill="url(#v14_4)"/><path d="M40-24.3l1 1 1-.1 1.3 26.3-2-.8z" fill="url(#v13_4)"/><path d="M41-23.3l1-.1 1-.7 1-1.7 1 1.7 1.3 27.1-4-.9z" fill="url(#v13_5)"/><path d="M44-25.8l1 1.7 1-.6 1 1.7 1 .7 1-2.1 1-2.9 1.3 30.5-6-.2z" fill="url(#v13_4)"/><path d="M49-24.4l1-2.9 1 4.6 1.3 25.9-2 0z" fill="url(#v14_4)"/><path d="M50-27.3l1 4.6 1-3.1 1.3 29-2 0z" fill="url(#v14_3)"/><path d="M51-22.7l1-3.1 1 3.3 1.3 25.8-2-.1z" fill="url(#v13_3)"/><path d="M52-25.8l1 3.3 1 .2 1.3 25.6-2-.1z" fill="url(#v13_4)"/><path d="M53-22.5l1 .2 1-.4 1 0 1-2.2 1.3 28.2-4 0z" fill="url(#v12_3)"/><path d="M56-22.7l1-2.2 1 .9 1.3 28.6-2-1.3z" fill="url(#v13_3)"/><path d="M57-24.9l1 .9 1 .2 1 .9 1.3 27.5-3-1.3z" fill="url(#v13_4)"/><path d="M59-23.8l1 .9 1-1.9 1-1.1 1 2 1 .9 1 1 1.3 27-6-.4z" fill="url(#v13_3)"/><path d="M64-23l1 1 1-1 1 1.3 1.3 26.7-3-.4z" fill="url(#v12_3)"/><path d="M66-23l1 1.3 1-3.4 1.3 30.1-2 0z" fill="url(#v12_4)"/><path d="M67-21.7l1-3.4 1 3.7 1-3.4 1 3.2 1-2.7 1 .4 1-.2 1.3 29.1-7 0z" fill="url(#v13_3)"/><path d="M73-23.9l1-.2 1 .6 1 1.8 1-4.9 1.3 32.4-4-.8z" fill="url(#v12_3)"/><path d="M76-21.7l1-4.9 1 5.5 1-3.3 1.3 30.2-3 0z" fill="url(#v13_3)"/><path d="M78-21.1l1-3.3 1 2 1 1 1.3 27.6-3-.4z" fill="url(#v12_2)"/><path d="M80-22.4l1 1 1-3.3 1 0 1.3 30.9-3 0z" fill="url(#v12_3)"/><path d="M82-24.7l1 0 1 .6 1 3.2 1.3 27.1-3 0z" fill="url(#v12_2)"/><path d="M84-24.1l1 3.2 1-.7 1-1.7 1 .3 1.3 28.5-4 .7z" fill="url(#v12_3)"/><path d="M87-23.3l1 .3 1-.7 1 1.6 1 2.2 1-.7 1.3 27.1-5-1z" fill="url(#v12_2)"/><path d="M91-19.9l1-.7 1-1.9 1.3 29-2 0z" fill="url(#v11_2)"/><path d="M92-20.6l1-1.9 1 3 1-.7 1.3 26.7-3 0z" fill="url(#v12_2)"/><path d="M94-19.5l1-.7 1.3 26.7-1 0z" fill="url(#v11_2)"/></g>
<g transform="matrix(1.8287 -.1742 0 1 71.55 389.79)"><path d="M0-29.5l6-.5 6-3.2 5 4.9 1.2 2-5-2.1-6-.6-6 3.1z" fill="#1affe5"/><path d="M16-31.3l3 5.4 1.2 .5-3-2.3z" fill="#80ff80"/><path d="M18-27l6 4.3 1 0 1.2 3.4-1-1-6-6z" fill="#1affe5"/><path d="M24-22.7l6 1.9 4 1 1.2 8.7-4-3.2-6-6z" fill="#00b2ff"/><path d="M33-20.8l6 3.4 6 0 6 1.2 6 0 6 .6 6 .9 6 0 6 0 6 2.2 6 0 2 0 1.2 8.4-2-.1-6-.3-6-.3-6-.3-6-.3-6-.3-6-.3-6-.4-6-.7-6-1.5-6-3.2z" fill="#004dff"/></g>
<g transform="matrix(1.8279 -.1737 0 1 73.75 396.85)"><path d="M0-37.2l1-2.1 1-1.7 .6 13.6-2 0z" fill="url(#v21_17)"/><path d="M1-39.3l1-1.7 1-1.1 .6 14.7-2 0z" fill="url(#v22_18)"/><path d="M2-41l1-1.1 1-.6 .6 13.5-2 1.8z" fill="url(#v22_19)"/><path d="M3-42.1l1-.6 1-.1 .6 12.4-2 3z" fill="url(#v23_19)"/><path d="M4-42.7l1-.1 1-.6 1 0 .6 12.4-3 1.8z" fill="url(#v23_20)"/><path d="M6-43.4l1 0 1 2.2 1-2.5 1 .7 1 1.9 1-1.1 .6 10.8-6 .4z" fill="url(#v23_19)"/><path d="M11-41.1l1-1.1 1 .7 1-1.4 .6 11.4-3 .1z" fill="url(#v22_19)"/><path d="M13-41.5l1-1.4 1 1.9 1-1.8 .6 14.6-3-3.2z" fill="url(#v23_21)"/><path d="M15-41l1-1.8 1-5.9 .6 20.7-2-2.5z" fill="url(#v24_20)"/><path d="M16-42.8l1-5.9 1 5.2 .6 16.5-2-1.2z" fill="url(#v26_20)"/><path d="M17-48.7l1 5.2 1-.1 .6 18.5-2-2.9z" fill="url(#v26_19)"/><path d="M18-43.5l1-.1 1 1.7 .6 17.4-2-2.5z" fill="url(#v24_18)"/><path d="M19-43.6l1 1.7 1 2.8 .6 14.9-2-.9z" fill="url(#v23_17)"/><path d="M20-41.9l1 2.8 1-1.1 .6 18.8-2-3.1z" fill="url(#v22_17)"/><path d="M21-39.1l1-1.1 1 5.6 1-1.8 .6 15-3-2.8z" fill="url(#v21_16)"/><path d="M23-34.6l1-1.8 1 2.7 .6 13-2-.7z" fill="url(#v19_16)"/><path d="M24-36.4l1 2.7 1-1.2 1-.5 1 1.9 .6 15.1-4-3z" fill="url(#v19_14)"/><path d="M27-35.4l1 1.9 1 .6 .6 15.2-2-1.4z" fill="url(#v18_14)"/><path d="M28-33.5l1 .6 1 2.4 .6 14.1-2-2z" fill="url(#v18_13)"/><path d="M29-32.9l1 2.4 1-1.1 1 2 .6 14.6-3-2.7z" fill="url(#v17_13)"/><path d="M31-31.6l1 2 1-.6 .6 15.2-2 0z" fill="url(#v17_12)"/><path d="M32-29.6l1-.6 1 1.6 1-1.8 1 .8 1 .1 .6 15.8-5-1.3z" fill="url(#v16_11)"/><path d="M36-29.6l1 .1 1 .3 1-.4 1 2 1 1.2 1 0 .6 14.5-6-2.2z" fill="url(#v15_10)"/><path d="M41-26.4l1 0 1-2.9 .6 18.4-2-1z" fill="url(#v14_9)"/><path d="M42-26.4l1-2.9 1 1.9 1 2.2 .6 14.3-3-1z" fill="url(#v15_9)"/><path d="M44-27.4l1 2.2 1 0 1-2.9 1 2 1-2.6 1 .4 1 2.5 1 .1 1 .9 1-2.2 1 3 1-2.4 1 1.2 1-4.1 1 4.2 1 .6 .6 13.3-6 .5-6 0-4-.2z" fill="url(#v14_9)"/><path d="M59-25.1l1 .6 1-1.8 .6 15.1-2 .2z" fill="url(#v13_9)"/><path d="M60-24.5l1-1.8 1 2.2 1-2.2 1 1.4 1 1.2 .6 14.5-5-2z" fill="url(#v14_9)"/><path d="M64-24.9l1 1.2 1-1.1 .6 15.6-2 0z" fill="url(#v13_9)"/><path d="M65-23.7l1-1.1 1-.1 1 1.5 1-3 .6 17.2-4 0z" fill="url(#v13_8)"/><path d="M68-23.4l1-3 1 1.4 1 .8 .6 14.8-3 .2z" fill="url(#v14_8)"/><path d="M70-25l1 .8 1-3.8 .6 18.6-2 0z" fill="url(#v13_8)"/><path d="M71-24.2l1-3.8 1 2.7 1-1.9 .6 17.8-3 0z" fill="url(#v14_8)"/><path d="M73-25.3l1-1.9 1 4.7 .6 13.1-2 0z" fill="url(#v14_9)"/><path d="M74-27.2l1 4.7 1-4.2 1 1.6 1-2 1 2.2 1 .8 .6 15.1-6-.4z" fill="url(#v14_8)"/><path d="M79-24.9l1 .8 1 .2 1-1.3 1 2.7 1-1.6 1 1 1-4.5 .6 18.9-7-2.3z" fill="url(#v13_8)"/><path d="M85-23.1l1-4.5 1 2.5 1 1.1 .6 15.3-3-.3z" fill="url(#v14_8)"/><path d="M87-25.1l1 1.1 1 3.7 1-3.8 1 1.6 1-1.5 1 .1 1 .9 1 .9 .6 12.4-8 1z" fill="url(#v13_8)"/><path d="M94-23l1 .9 .6 12.4-1 0z" fill="url(#v12_8)"/></g>
<g transform="matrix(1.8275 -.1735 0 1 74.86 400.38)"><path d="M0-35.5l2 0 .6 1-2 2.2z" fill="#1affe5"/><path d="M1-35.5l6-.9 6-3 1-1.6 .6 2.1-1 1.3-6 2-6 2.2z" fill="#80ff80"/><path d="M13-39.4l2 .9 .6 2.6-2-1.7z" fill="#e5ff1a"/><path d="M14-41l2 3.5 .6 1.7-2-3.1z" fill="#ffb300"/><path d="M15-38.5l4 4.5 .6 2.3-4-4.2z" fill="#e5ff1a"/><path d="M18-35.7l4 5 .6 1.2-4-2.9z" fill="#80ff80"/><path d="M21-31.6l6 5.4 4 1.9 .6 1.8-4-1.7-6-5.3z" fill="#1affe5"/><path d="M30-24.3l6 0 6 1.2 6 0 6 4.5 6 0 6-3.6 6 .9 2 .1 .6 5.7-2-.1-6-.2-6-.3-6-.3-6-.5-6-.9-6-1.9-6-3.6z" fill="#00b2ff"/><path d="M73-21.3l6 .1 6 0 6-1 4 0 .6 7.7-4-.2-6-.3-6-.3-6-.2z" fill="#004dff"/></g>
<g transform="matrix(1.8272 -.1732 0 1 75.96 403.92)"><path d="M0-39.6l1-2.1 1 1.5 1-3.3 .6 15.9-3 0z" fill="url(#v22_18)"/><path d="M2-40.2l1-3.3 1 .3 .6 15-2 .6z" fill="url(#v23_18)"/><path d="M3-43.5l1 .3 1-.2 1-1 .6 13.7-3 3.1z" fill="url(#v23_19)"/><path d="M5-43.4l1-1 1 .5 .6 13-2 2.7z" fill="url(#v24_19)"/><path d="M6-44.4l1 .5 1-2.5 .6 15.5-2 .2z" fill="url(#v24_20)"/><path d="M7-43.9l1-2.5 1 2 1-.5 1 1 1-2.8 .6 16.5-5-.7z" fill="url(#v24_19)"/><path d="M11-43.9l1-2.8 1-10.7 .6 27.2-2 0z" fill="url(#v25_19)"/><path d="M12-46.7l1-10.7 1-10.7 .6 37.9-2 0z" fill="url(#v30_19)"/><path d="M13-57.4l1-10.7 1 12.3 1 6.6 .6 21.6-3-2.6z" fill="url(#v37_20)"/><path d="M15-55.8l1 6.6 1-1.4 .6 24.1-2-2.9z" fill="url(#v30_19)"/><path d="M16-49.2l1-1.4 1 4.3 1 2.7 .6 18.2-3-2.2z" fill="url(#v27_19)"/><path d="M18-46.3l1 2.7 1-.6 .6 20.2-2-2.3z" fill="url(#v25_17)"/><path d="M19-43.6l1-.6 1 3.6 .6 17.6-2-2.4z" fill="url(#v24_17)"/><path d="M20-44.2l1 3.6 1 .2 .6 17.6-2-1.2z" fill="url(#v23_17)"/><path d="M21-40.6l1 .2 1-1.2 .6 19.7-2-1.1z" fill="url(#v22_16)"/><path d="M22-40.4l1-1.2 1 4.6 1 .7 .6 17.4-3-3.9z" fill="url(#v21_15)"/><path d="M24-37l1 .7 1 2.2 1-3.2 .6 18.9-3-.5z" fill="url(#v20_15)"/><path d="M26-34.1l1-3.2 1 1.8 1 3.6 1-3.6 .6 21.1-4-4.5z" fill="url(#v19_13)"/><path d="M29-31.9l1-3.6 1 .9 1 5.7 .6 14.5-3-2.3z" fill="url(#v18_12)"/><path d="M31-34.6l1 5.7 1-1.5 .6 16-2 0z" fill="url(#v18_11)"/><path d="M32-28.9l1-1.5 1-2.4 1 4.4 1-1.6 .6 18.1-4-2.5z" fill="url(#v17_11)"/><path d="M35-28.4l1-1.6 1-1.3 1 .7 .6 18.7-3 0z" fill="url(#v16_10)"/><path d="M37-31.3l1 .7 1 1.4 1-1.5 .6 18.8-3 0z" fill="url(#v16_9)"/><path d="M39-29.2l1-1.5 1-.7 1 2.4 1-4.1 .6 20.7-4 .5z" fill="url(#v16_10)"/><path d="M42-29l1-4.1 1 3 1-.1 1 2.9 1-.2 .6 17.1-5-2.1z" fill="url(#v16_9)"/><path d="M46-27.3l1-.2 1-.1 1-2.4 .6 19.6-3 0z" fill="url(#v15_9)"/><path d="M48-27.6l1-2.4 1 2.8 1-3.2 .6 20-3 0z" fill="url(#v15_8)"/><path d="M50-27.2l1-3.2 1 .5 1 2.3 .6 18.3-3-1.1z" fill="url(#v16_9)"/><path d="M52-29.9l1 2.3 1-.7 1-2.2 1 3.3 .6 17.9-4-1.1z" fill="url(#v15_9)"/><path d="M55-30.5l1 3.3 1 4.4 1-4.5 .6 18-3 0z" fill="url(#v15_8)"/><path d="M57-22.8l1-4.5 1-1.4 .6 19.4-2 0z" fill="url(#v15_9)"/><path d="M58-27.3l1-1.4 1-.9 1 .7 .6 18.1-3 1.5z" fill="url(#v15_8)"/><path d="M60-29.6l1 .7 1-2.8 .6 20.9-2 0z" fill="url(#v15_9)"/><path d="M61-28.9l1-2.8 1 2 1 1.1 .6 20.5-3-2.7z" fill="url(#v16_8)"/><path d="M63-29.7l1 1.1 1-1.2 1-.1 1 1.5 1-.8 1-.6 1 1.5 .6 20.2-7-2.7z" fill="url(#v15_8)"/><path d="M69-29.8l1 1.5 1 .4 .6 18.9-2 .9z" fill="url(#v15_9)"/><path d="M70-28.3l1 .4 1 1.6 1-1.3 1 2.1 1-3.2 1 1 1 1.8 .6 17.4-7 .4z" fill="url(#v15_8)"/><path d="M76-27.7l1 1.8 1-1.4 1 .7 .6 18.8-3-.7z" fill="url(#v14_8)"/><path d="M78-27.3l1 .7 1 1.3 1-.3 1-1.8 1-1.9 .6 21.5-5-.4z" fill="url(#v14_7)"/><path d="M82-27.4l1-1.9 1 2.1 .6 19.4-2 0z" fill="url(#v15_7)"/><path d="M83-29.3l1 2.1 1-.7 .6 20.1-2 0z" fill="url(#v15_8)"/><path d="M84-27.2l1-.7 1-2.7 .6 21.6-2 1.2z" fill="url(#v14_8)"/><path d="M85-27.9l1-2.7 1 2 1 1.4 1-.6 .6 19-4 1z" fill="url(#v15_8)"/><path d="M88-27.2l1-.6 1 1.2 1 .3 .6 18.2-3-.7z" fill="url(#v14_8)"/><path d="M90-26.6l1 .3 1-.5 1-.1 1-1.1 1 .5 .6 22.8-5-4.1z" fill="url(#v14_7)"/><path d="M94-28l1 .5 .6 22.8-1 0z" fill="url(#v14_6)"/></g>
<g transform="matrix(1.8268 -.173 0 1 77.06 407.45)"><path d="M0-36.5l1 .5 1 3.2 1-4.3 .6 3.4-3 0z" fill="url(#v18_21)"/><path d="M2-32.8l1-4.3 1-.1 1 .5 1-.9 .6 2.3-4 1.6z" fill="url(#v19_22)"/><path d="M5-36.7l1-.9 1 .1 .6 2.2-2 0z" fill="url(#v20_23)"/><path d="M6-37.6l1 .1 1 1 1-.2 .6 1.8-3-.4z" fill="url(#v20_22)"/><path d="M8-36.5l1-.2 1 .7 1-1.6 1 2.7 1-1.3 .6 2.2-5-.9z" fill="url(#v19_22)"/><path d="M12-34.9l1-1.3 1-5.6 .6 7.8-2 0z" fill="url(#v20_22)"/><path d="M13-36.2l1-5.6 1 6 .6 1.8-2 0z" fill="#b3ff4c"/><path d="M14-41.8l1 6 1-1 .6 4.4-2-1.6z" fill="url(#v22_21)"/><path d="M15-35.8l1-1 1 .4 .6 4-2-1.6z" fill="url(#v20_21)"/><path d="M16-36.8l1 .4 1 .4 1 3.8 .6-.2-3 0z" fill="url(#v19_21)"/><path d="M18-36l1 3.8 1 1.1 .6-.6-2-.7z" fill="url(#v19_20)"/><path d="M19-32.2l1 1.1 1-.1 1 .9 1 1.7 .6 .7-4-4.5z" fill="url(#v17_20)"/><path d="M22-30.3l1 1.7 1 1 .6-.3-2-2z" fill="url(#v19_16)"/><path d="M23-28.6l1 1 1-.2 1-1.1 .6 1.2-3-.2z" fill="url(#v15_19)"/><path d="M25-27.8l1-1.1 1 5.4 1-2.8 .6-.1-3-1.5z" fill="url(#v18_15)"/><path d="M27-23.5l1-2.8 1 1.3 .6-.9-2-1.2z" fill="url(#v18_14)"/><path d="M28-26.3l1 1.3 1 2 .6 1.2-2-4.6z" fill="url(#v14_17)"/><path d="M29-25l1 2 1 1.4 .6-.2-2-4.1z" fill="url(#v17_13)"/><path d="M30-23l1 1.4 1 .3 1 2.3 .6-2.8-3 0z" fill="url(#v17_12)"/><path d="M32-21.3l1 2.3 1-1.9 1 .6 .6-.2-3-1.3z" fill="url(#v15_11)"/><path d="M34-20.9l1 .6 1 .5 .6-.7-2 0z" fill="url(#v16_11)"/><path d="M35-20.3l1 .5 1 0 .6-.7-2 0z" fill="url(#v15_11)"/><path d="M36-19.8l1 0 1 3.2 1-3.2 1 1.6 1 0 .6-3.5-5 1.2z" fill="url(#v14_10)"/><path d="M40-18.2l1 0 1-.1 .6-3.2-2 1z" fill="url(#v15_10)"/><path d="M41-18.2l1-.1 1 .2 1-.4 .6-2-3-1.2z" fill="url(#v14_10)"/><path d="M43-18.1l1-.4 1 .8 1 .2 1 1.4 1-.3 .6-1.5-5-2.6z" fill="url(#v14_9)"/><path d="M47-16.1l1-.3 1 1.3 .6-2.8-2-2.6z" fill="url(#v15_9)"/><path d="M48-16.4l1 1.3 1-2 1 .7 .6-1.5-3 0z" fill="url(#v14_9)"/><path d="M50-17.1l1 .7 1-.1 1-.8 .6-.6-3 0z" fill="url(#v13_9)"/><path d="M52-16.5l1-.8 1 1.5 1-2.3 1 4.2 1-4.1 .6-1.5-5 1.6z" fill="url(#v14_9)"/><path d="M56-13.9l1-4.1 1 .4 1 1.8 1-.9 1-1.6 1 2.9 .6-4.1-6-.7z" fill="url(#v13_9)"/><path d="M61-18.3l1 2.9 1-1 .6-3.1-2 0z" fill="url(#v14_9)"/><path d="M62-15.4l1-1 1-1.8 .6-2.3-2 1z" fill="url(#v14_8)"/><path d="M63-16.4l1-1.8 1 1.7 1 1 .6-3.6-3-.4z" fill="url(#v14_9)"/><path d="M65-16.5l1 1 1 2.7 1-3.8 1-.9 .6-.1-4-1.5z" fill="url(#v13_8)"/><path d="M68-16.6l1-.9 1-.2 1 1 1 2.6 .6-3.5-4 0z" fill="url(#v13_9)"/><path d="M71-16.7l1 2.6 1-.2 1 .6 1-2.4 1 1 1-.3 1 .9 1 1.4 1-2.2 1 2.4 1 .5 .6-5.6-11 .4z" fill="url(#v13_8)"/><path d="M81-12.9l1 .5 1-1.2 .6-4.4-2 0z" fill="url(#v12_7)"/><path d="M82-12.4l1-1.2 1-1.7 .6-2.7-2 0z" fill="url(#v12_8)"/><path d="M83-13.6l1-1.7 1-1 1 1.2 1 .2 1-.3 1-.5 1-.4 1 2.6 1-.2 .6-3.1-9-1.2z" fill="url(#v13_8)"/><path d="M91-13.5l1-.2 1-4.4 .6 1.3-2 0z" fill="url(#v13_7)"/><path d="M92-13.7l1-4.4 1 5.3 1 3.5 .6-7.5-3 0z" fill="url(#v12_8)"/><path d="M94-12.8l1 3.5 .6-7.5-1 0z" fill="url(#v13_7)"/></g>
<g transform="matrix(1.8264 -.1728 0 1 78.16 410.98)"><path d="M0-38.9l1-.3 1-2.2 .7 20.5-2 0z" fill="url(#v21_14)"/><path d="M1-39.2l1-2.2 1 1.2 .7 19.3-2 0z" fill="url(#v22_15)"/><path d="M2-41.4l1 1.2 1 .2 1-2.8 .7 19-3 2.9z" fill="url(#v22_16)"/><path d="M4-40l1-2.8 1 .2 1 .2 1-.1 .7 20.2-4-.4z" fill="url(#v23_16)"/><path d="M7-42.4l1-.1 1 .3 1 .6 1 2.1 .7 17.2-4-2z" fill="url(#v22_16)"/><path d="M10-41.6l1 2.1 1-2.1 1 .6 1 .6 1 1.7 1-.9 .7 18.3-6-1z" fill="url(#v22_15)"/><path d="M15-38.7l1-.9 1-.9 1 .2 .7 19.4-3-.4z" fill="url(#v21_15)"/><path d="M17-40.5l1 .2 1 3.3 1-2.7 1 2.7 1-2.7 .7 21.8-5-3.4z" fill="url(#v21_14)"/><path d="M21-37l1-2.7 1 3.3 1 1.8 .7 18.3-3-2.3z" fill="url(#v20_13)"/><path d="M23-36.4l1 1.8 1-2 .7 20.6-2-.3z" fill="url(#v19_13)"/><path d="M24-34.6l1-2 1 4 1-1.7 .7 19.6-3-1.6z" fill="url(#v19_12)"/><path d="M26-32.6l1-1.7 1 1.2 .7 20.3-2-2.4z" fill="url(#v18_12)"/><path d="M27-34.3l1 1.2 1 .1 1 .4 .7 20-3-2.1z" fill="url(#v18_11)"/><path d="M29-33l1 .4 1 1 .7 19.1-2-.1z" fill="url(#v17_11)"/><path d="M30-32.6l1 1 1-.6 1 5.8 1-4.3 .7 21.6-4-3.5z" fill="url(#v17_10)"/><path d="M33-26.4l1-4.3 1-.3 .7 21.9-2 0z" fill="url(#v16_9)"/><path d="M34-30.7l1-.3 1 4.1 1 1.7 .7 16.1-3 0z" fill="url(#v16_8)"/><path d="M36-26.9l1 1.7 1-2.2 .7 18.3-2 0z" fill="url(#v15_9)"/><path d="M37-25.2l1-2.2 1 .9 1-3.6 1 1.8 1 1.9 1-.1 .7 17.3-6 .1z" fill="url(#v15_8)"/><path d="M42-26.4l1-.1 1-2.8 .7 20.1-2 0z" fill="url(#v14_8)"/><path d="M43-26.5l1-2.8 1 3.2 1 .9 .7 16.8-3-.8z" fill="url(#v15_8)"/><path d="M45-26.1l1 .9 1-4.1 .7 20.9-2 0z" fill="url(#v14_8)"/><path d="M46-25.2l1-4.1 1-.4 .7 21.3-2 0z" fill="url(#v15_8)"/><path d="M47-29.3l1-.4 1 4 1-1.6 .7 18.9-3 0z" fill="url(#v15_7)"/><path d="M49-25.7l1-1.6 1 4.7 1-5 1-2.6 .7 22.8-4-1z" fill="url(#v14_8)"/><path d="M52-27.6l1-2.6 1 4.5 1-1.4 .7 19.7-3 0z" fill="url(#v15_7)"/><path d="M54-25.7l1-1.4 1 1.1 .7 18.6-2 0z" fill="url(#v14_7)"/><path d="M55-27.1l1 1.1 1 1.1 .7 17.5-2 0z" fill="url(#v14_8)"/><path d="M56-26l1 1.1 1-1 1 1 1 .7 .7 17.2-4-.4z" fill="url(#v14_7)"/><path d="M59-24.9l1 .7 1-1.8 .7 19-2-.5z" fill="url(#v13_7)"/><path d="M60-24.2l1-1.8 1-.3 1-.3 1 .3 1 .1 1 .3 1 .7 .7 17.9-7 .3z" fill="url(#v14_7)"/><path d="M66-25.9l1 .7 1 1.4 1-1.8 1 .7 1 2.7 1-3.2 1-.8 1-1.2 .7 20.4-8 0z" fill="url(#v13_7)"/><path d="M73-26.2l1-1.2 1 3.3 1-2.8 1 2.6 1-1.2 .7 18.6-5-.1z" fill="url(#v14_7)"/><path d="M77-24.3l1-1.2 1-1.4 .7 20-2 0z" fill="url(#v13_7)"/><path d="M78-25.5l1-1.4 1 1.8 1 .5 .7 18.5-3-.8z" fill="url(#v14_7)"/><path d="M80-25.1l1 .5 1 2 1-5.1 .7 23.8-3-3z" fill="url(#v13_7)"/><path d="M82-22.6l1-5.1 1 4 .7 19.8-2-2.2z" fill="url(#v14_7)"/><path d="M83-27.7l1 4 1-1.4 .7 21.2-2 0z" fill="url(#v14_6)"/><path d="M84-23.7l1-1.4 1 .4 1-.6 1-2.9 .7 24.3-4 0z" fill="url(#v13_6)"/><path d="M87-25.3l1-2.9 1 2.9 1-2.1 .6 21.8-2.9 1.7z" fill="url(#v14_6)"/><path d="M89-25.3l1-2.1 1 .5 1 2.6 1 2.8 1-2.3 .6 17.1-4.9 2.8z" fill="url(#v13_6)"/><path d="M93-21.5l1-2.3 1-.1 .6 17.2-2 .3z" fill="url(#v13_7)"/><path d="M94-23.8l1-.1 .6 17.2-1 0z" fill="url(#v13_6)"/></g>
<g transform="matrix(1.826 -.1725 0 1 79.39 414.91)"><path d="M0-27.8l6-2.6 6 .8 6 2 5 2.9 .7 4.2-5-4.8-6-2.7-6 .7-6 1.2z" fill="#1affe5"/><path d="M22-25.3l6 4.2 6 1 2 1.6 .7 2.3-2-.8-6-3.5-6-1.8z" fill="#00b2ff"/><path d="M35-19.8l6 2.2 6 .1 6 0 6 0 6 1.6 6 1.2 6 0 6-.3 6 0 6-1.2 .6 4.1-5.9-.2-6-.2-6-.2-6-.2-6-.2-6-.2-6-.3-6-.4-6-.8-6-1.8z" fill="#004dff"/></g>
<g transform="matrix(1.8256 -.1722 0 1 80.61 418.83)"><path d="M0-37l1 4.6 1-.2 .9 19.7-1-4.4-1 .4z" fill="url(#v18_12)"/><path d="M1-32.4l1-.2 1-3.6 .9 15.9-1 7.4-1-4.4z" fill="url(#v18_11)"/><path d="M2-32.6l1-3.6 1-.6 1 .1 1 1.4 .9 23.2-1-1.7-1-2.5-1-4-1 7.4z" fill="url(#v19_11)"/><path d="M5-36.7l1 1.4 1 .1 1-1.2 .9 19.1-1 1.3-1 3.9-1-1.7z" fill="url(#v19_10)"/><path d="M7-35.2l1-1.2 1 .3 1-1.3 .9 22.9-1 .9-1-3.7-1 1.3z" fill="url(#v19_11)"/><path d="M9-36.1l1-1.3 1 1.5 1-1.2 .9 21.2-1-2.3-1 3.7-1 .9z" fill="url(#v20_11)"/><path d="M11-35.9l1-1.2 1 1.5 .9 20.9-1-1.2-1-2.3z" fill="url(#v19_11)"/><path d="M12-37.1l1 1.5 1 2.5 1-.9 .9 18.1-1 2.2-1-1-1-1.2z" fill="url(#v19_10)"/><path d="M14-33.1l1-.9 1-2.9 .9 26.8-1-5.8-1 2.2z" fill="url(#v18_10)"/><path d="M15-34l1-2.9 1 1.9 1-1 .9 27.2-1-2.3-1 1-1-5.8z" fill="url(#v19_9)"/><path d="M17-35l1-1 1 2.1 .9 27-1-1.9-1-2.3z" fill="url(#v19_8)"/><path d="M18-36l1 2.1 1 .4 .9 28.1-1-1.5-1-1.9z" fill="url(#v19_7)"/><path d="M19-33.9l1 .4 1 1.1 1-1.7 .9 29.6-1-2.3-1 1.4-1-1.5z" fill="url(#v18_7)"/><path d="M21-32.4l1-1.7 1 0 1 3.7 1-1 .9 26.4-1-2.6-1 1.9-1 1.2-1-2.3z" fill="url(#v18_6)"/><path d="M24-30.4l1-1 1 1.9 1-.6 .9 25.8-1 .5-1-1.2-1-2.6z" fill="url(#v17_6)"/><path d="M26-29.5l1-.6 1 2.7 .9 23.9-1-.8-1 .5z" fill="url(#v16_6)"/><path d="M27-30.1l1 2.7 1 1.9 .9 21.7-1 .3-1-.8z" fill="url(#v16_5)"/><path d="M28-27.4l1 1.9 1-3.5 1 .9 1 .9 1-1.6 .9 26.3-1-.9-1 .7-1-3.6-1 2.5-1 .3z" fill="url(#v15_5)"/><path d="M32-27.2l1-1.6 1 3.2 1-.4 .9 23-1 1.7-1-1.2-1-.9z" fill="url(#v15_4)"/><path d="M34-25.6l1-.4 1-1.6 1 2 1 .9 1-1.8 1 1.7 1 .5 .9 24.7-1-3.3-1 1.5-1-1.6-1 1.3-1-1.1-1-.2-1 1.7z" fill="url(#v14_4)"/><path d="M40-24.8l1 .5 1 1.3 1 .5 1 .3 .9 22.5-1-1.7-1-.6-1 2.4-1-3.3z" fill="url(#v13_3)"/><path d="M43-22.5l1 .3 1-.7 1-.8 .9 25.5-1-.6-1-.9-1-1.7z" fill="url(#v12_3)"/><path d="M45-22.9l1-.8 1-1.1 .9 27.4-1-.8-1-.6z" fill="url(#v13_3)"/><path d="M46-23.7l1-1.1 1 2.7 1-2.1 1-1.5 1 0 1 2.6 1-4.3 1 2.6 1-.3 .9 24.9-1-.9-1 4.5-1-1.7-1-4.6-1 4.6-1 .2-1 .9-1-.2-1-.8z" fill="url(#v13_2)"/><path d="M54-24.8l1-.3 1-2.7 .9 32.2-1-4.6-1-.9z" fill="url(#v13_3)"/><path d="M55-25.1l1-2.7 1 5.5 1-.8 .9 24.5-1-.9-1 3.9-1-4.6z" fill="url(#v13_1)"/><path d="M57-22.3l1-.8 1-.5 1-.8 .9 27.6-1-2.9-1 1.1-1-.9z" fill="url(#v12_2)"/><path d="M59-23.6l1-.8 1 2.3 1-2.6 1 2 .9 26.4-1-.9-1-.8-1 1.2-1-2.9z" fill="url(#v13_2)"/><path d="M62-24.7l1 2 1-1.2 .9 26.6-1 1-1-.9z" fill="url(#v13_1)"/><path d="M63-22.7l1-1.2 1-.4 .9 22-1 5-1 1z" fill="url(#v12_1)"/><path d="M64-23.9l1-.4 1 1.8 .9 25.9-1-5.7-1 5z" fill="url(#v13_2)"/><path d="M65-24.3l1 1.8 1-2.8 1 3.1 1 1.7 .9 22.3-1 2.5-1-.1-1-.8-1-5.7z" fill="url(#v13_1)"/><path d="M68-22.2l1 1.7 1-4.3 .9 28.2-1-1.6-1 2.5z" fill="url(#v12_1)"/><path d="M69-20.5l1-4.3 1 1.7 1 3.8 .9 24.5-1 0-1-1.8-1-1.6z" fill="url(#v13_1)"/><path d="M71-23.1l1 3.8 1-3.4 1-1.3 1 1.1 .9 23.5-1 1.3-1 2.2-1 1.1-1 0z" fill="url(#v12_1)"/><path d="M74-24l1 1.1 1-1.1 1 2.2 .9 25.6-1-2.4-1-.8-1 1.3z" fill="url(#v12_2)"/><path d="M76-24l1 2.2 1-1.2 1 .6 1 0 1-.9 1-1 1 1.8 .9 23.9-1-.9-1 4.7-1-.6-1-3.2-1 1.3-1 1.1-1-2.4z" fill="url(#v12_1)"/><path d="M82-24.3l1 1.8 1 .3 .9 24.9-1-1.3-1-.9z" fill="url(#v12_2)"/><path d="M83-22.5l1 .3 1-1.5 1 .7 1 3.4 1-2.8 1 1.2 1 .1 .9 26.3-1-.8-1 .8-1-.1-1-2.9-1-1-1 1.5-1-1.3z" fill="url(#v12_1)"/><path d="M89-21.2l1 .1 1 .4 1-.7 1-3.5 .9 30.1-1-2.8-1 2.5-1 .3-1-.8z" fill="url(#v11_1)"/><path d="M92-21.4l1-3.5 1 3.4 1-.2 .9 21.7-1 4.3-1 .9-1-2.8z" fill="url(#v12_1)"/></g>
<g fill="none"><path d="M255.7 408L255.7 315.6" stroke="#3a3a3a" stroke-width="0.7"/><path d="M56 346L80.5 424.5" stroke="#3a3a3a" stroke-width="0.7"/><path d="M80.5 424.5L255.7 408" stroke="#3a3a3a" stroke-width="0.7"/><path d="M80.5 424.5L81.3 427" stroke="#3a3a3a" stroke-width="0.6"/><path d="M98 422.9L98.8 425.3" stroke="#3a3a3a" stroke-width="0.6"/><path d="M115.5 421.2L116.3 423.7" stroke="#3a3a3a" stroke-width="0.6"/><path d="M133.1 419.5L133.8 422" stroke="#3a3a3a" stroke-width="0.6"/><path d="M150.6 417.9L151.4 420.4" stroke="#3a3a3a" stroke-width="0.6"/><path d="M168.1 416.2L168.9 418.7" stroke="#3a3a3a" stroke-width="0.6"/><path d="M185.6 414.6L186.4 417.1" stroke="#3a3a3a" stroke-width="0.6"/><path d="M203.1 412.9L203.9 415.4" stroke="#3a3a3a" stroke-width="0.6"/><path d="M220.7 411.3L221.4 413.8" stroke="#3a3a3a" stroke-width="0.6"/><path d="M238.2 409.6L239 412.1" stroke="#3a3a3a" stroke-width="0.6"/><path d="M255.7 408L256.5 410.5" stroke="#3a3a3a" stroke-width="0.6"/><path d="M80.5 424.5L77.9 424.7" stroke="#3a3a3a" stroke-width="0.6"/><path d="M74.4 404.9L71.8 405.1" stroke="#3a3a3a" stroke-width="0.6"/><path d="M68.2 385.2L65.7 385.5" stroke="#3a3a3a" stroke-width="0.6"/><path d="M62.1 365.6L59.5 365.9" stroke="#3a3a3a" stroke-width="0.6"/><path d="M56 346L53.4 346.2" stroke="#3a3a3a" stroke-width="0.6"/><path d="M56 346L54.8 343.8" stroke="#3a3a3a" stroke-width="0.6"/><path d="M56 331.2L54.8 329" stroke="#3a3a3a" stroke-width="0.6"/><path d="M56 316.4L54.8 314.2" stroke="#3a3a3a" stroke-width="0.6"/><path d="M56 301.6L54.8 299.4" stroke="#3a3a3a" stroke-width="0.6"/><path d="M56 286.8L54.8 284.6" stroke="#3a3a3a" stroke-width="0.6"/><path d="M56 272L54.8 269.8" stroke="#3a3a3a" stroke-width="0.6"/><path d="M56 257.2L54.8 255" stroke="#3a3a3a" stroke-width="0.6"/></g>
<text x="82.8" y="440.3" font-size="7.2" text-anchor="middle">0</text><text x="100.4" y="438.5" font-size="7.2" text-anchor="middle">5</text><text x="118" y="436.8" font-size="7.2" text-anchor="middle">10</text><text x="135.6" y="435" font-size="7.2" text-anchor="middle">15</text><text x="153.2" y="433.2" font-size="7.2" text-anchor="middle">20</text><text x="170.8" y="431.4" font-size="7.2" text-anchor="middle">25</text><text x="188.3" y="429.7" font-size="7.2" text-anchor="middle">30</text><text x="205.9" y="427.9" font-size="7.2" text-anchor="middle">35</text><text x="223.5" y="426.1" font-size="7.2" text-anchor="middle">40</text><text x="241.1" y="424.4" font-size="7.2" text-anchor="middle">45</text><text x="258.7" y="422.6" font-size="7.2" text-anchor="middle">50</text><text x="68.6" y="433.4" font-size="7.2" text-anchor="middle">-50</text><text x="62.5" y="413.3" font-size="7.2" text-anchor="middle">-25</text><text x="56.4" y="393.3" font-size="7.2" text-anchor="middle">0</text><text x="50.3" y="373.2" font-size="7.2" text-anchor="middle">25</text><text x="44.2" y="353.2" font-size="7.2" text-anchor="middle">50</text><text x="54.1" y="341.3" font-size="7.2" text-anchor="end">5</text><text x="53.7" y="326.7" font-size="7.2" text-anchor="end">10</text><text x="53.7" y="312.1" font-size="7.2" text-anchor="end">15</text><text x="53.7" y="297.5" font-size="7.2" text-anchor="end">20</text><text x="53.7" y="283" font-size="7.2" text-anchor="end">25</text><text x="53.7" y="268.4" font-size="7.2" text-anchor="end">30</text><text x="53.7" y="253.8" font-size="7.2" text-anchor="end">35</text>
<rect x="278.2" y="238" width="15.1" height="188.5" fill="url(#jet)" stroke="#333" stroke-width=".5"/>
<g fill="none"><path d="M291.7 388.8L293.3 388.8" stroke="#222" stroke-width="0.5"/><path d="M291.7 351.1L293.3 351.1" stroke="#222" stroke-width="0.5"/><path d="M291.7 313.4L293.3 313.4" stroke="#222" stroke-width="0.5"/><path d="M291.7 275.7L293.3 275.7" stroke="#222" stroke-width="0.5"/></g><text x="296.1" y="429.1" font-size="7.1">5</text><text x="296.1" y="391.4" font-size="7.1">10</text><text x="296.1" y="353.7" font-size="7.1">15</text><text x="296.1" y="316" font-size="7.1">20</text><text x="296.1" y="278.3" font-size="7.1">25</text><text x="296.1" y="240.6" font-size="7.1">30</text>
<text x="1.7" y="233" class="tt">29<tspan font-size="6" dy="-2.9" dx=".2">°</tspan><tspan dy="2.9" dx="-.3" textLength="5.9" lengthAdjust="spacingAndGlyphs">C</tspan></text>
<text x="33.6" y="300.8" font-size="8.3" text-anchor="middle" transform="rotate(92 33.6 297.8)">Amplitude (dB)</text>
<text x="40.9" y="397.2" font-size="7.9" text-anchor="middle" transform="rotate(72.2 40.9 394.4)">Distance (um)</text>
<text x="173.7" y="447.4" font-size="8.3" text-anchor="middle" transform="rotate(-5.2 173.7 444.4)">Frequency (Hz)</text>
</g>
<g>
<path d="M373.5 345l171.7-16.5 0-88.4-171.7 18.6z" fill="#fff"/>
<path d="M545.2 328.5l24.2 79.5 0-92.4-24.2-75.5z" fill="#f3f3f3"/>
<path d="M373.5 345l24 79 171.9-16-24.2-79.5z" fill="#fff"/>
<g fill="none"><path d="M382.1 344.2L382.1 257.8" stroke="#dedede" stroke-width="0.5" stroke-dasharray=".6 .8"/><path d="M390.7 343.4L390.7 256.8" stroke="#d8d8d8" stroke-width="0.5"/><path d="M399.3 342.5L399.3 255.9" stroke="#dedede" stroke-width="0.5" stroke-dasharray=".6 .8"/><path d="M407.8 341.7L407.8 255" stroke="#d8d8d8" stroke-width="0.5"/><path d="M416.4 340.9L416.4 254.1" stroke="#dedede" stroke-width="0.5" stroke-dasharray=".6 .8"/><path d="M425 340L425 253.1" stroke="#d8d8d8" stroke-width="0.5"/><path d="M433.6 339.2L433.6 252.2" stroke="#dedede" stroke-width="0.5" stroke-dasharray=".6 .8"/><path d="M442.2 338.4L442.2 251.3" stroke="#d8d8d8" stroke-width="0.5"/><path d="M450.8 337.6L450.8 250.3" stroke="#dedede" stroke-width="0.5" stroke-dasharray=".6 .8"/><path d="M459.4 336.8L459.4 249.4" stroke="#d8d8d8" stroke-width="0.5"/><path d="M467.9 335.9L467.9 248.5" stroke="#dedede" stroke-width="0.5" stroke-dasharray=".6 .8"/><path d="M476.5 335.1L476.5 247.5" stroke="#d8d8d8" stroke-width="0.5"/><path d="M485.1 334.3L485.1 246.6" stroke="#dedede" stroke-width="0.5" stroke-dasharray=".6 .8"/><path d="M493.7 333.4L493.7 245.7" stroke="#d8d8d8" stroke-width="0.5"/><path d="M502.3 332.6L502.3 244.8" stroke="#dedede" stroke-width="0.5" stroke-dasharray=".6 .8"/><path d="M510.9 331.8L510.9 243.8" stroke="#d8d8d8" stroke-width="0.5"/><path d="M519.4 331L519.4 242.9" stroke="#dedede" stroke-width="0.5" stroke-dasharray=".6 .8"/><path d="M528 330.2L528 242" stroke="#d8d8d8" stroke-width="0.5"/><path d="M536.6 329.3L536.6 241" stroke="#dedede" stroke-width="0.5" stroke-dasharray=".6 .8"/><path d="M373.5 337.8L545.2 321.1" stroke="#dedede" stroke-width="0.5" stroke-dasharray=".6 .8"/><path d="M373.5 330.6L545.2 313.8" stroke="#d8d8d8" stroke-width="0.5"/><path d="M373.5 323.4L545.2 306.4" stroke="#dedede" stroke-width="0.5" stroke-dasharray=".6 .8"/><path d="M373.5 316.2L545.2 299" stroke="#d8d8d8" stroke-width="0.5"/><path d="M373.5 309L545.2 291.7" stroke="#dedede" stroke-width="0.5" stroke-dasharray=".6 .8"/><path d="M373.5 301.9L545.2 284.3" stroke="#d8d8d8" stroke-width="0.5"/><path d="M373.5 294.7L545.2 276.9" stroke="#dedede" stroke-width="0.5" stroke-dasharray=".6 .8"/><path d="M373.5 287.5L545.2 269.6" stroke="#d8d8d8" stroke-width="0.5"/><path d="M373.5 280.3L545.2 262.2" stroke="#dedede" stroke-width="0.5" stroke-dasharray=".6 .8"/><path d="M373.5 273.1L545.2 254.8" stroke="#d8d8d8" stroke-width="0.5"/><path d="M373.5 265.9L545.2 247.5" stroke="#dedede" stroke-width="0.5" stroke-dasharray=".6 .8"/><path d="M545.2 324.8L569.4 404.1" stroke="#cdcdcd" stroke-width="0.5" stroke-dasharray=".6 .8"/><path d="M545.2 321.1L569.4 400.3" stroke="#cdcdcd" stroke-width="0.5" stroke-dasharray=".6 .8"/><path d="M545.2 317.4L569.4 396.4" stroke="#cdcdcd" stroke-width="0.5" stroke-dasharray=".6 .8"/><path d="M545.2 313.8L569.4 392.6" stroke="#cfcfcf" stroke-width="0.5"/><path d="M545.2 310.1L569.4 388.8" stroke="#cdcdcd" stroke-width="0.5" stroke-dasharray=".6 .8"/><path d="M545.2 306.4L569.4 384.9" stroke="#cdcdcd" stroke-width="0.5" stroke-dasharray=".6 .8"/><path d="M545.2 302.7L569.4 381.1" stroke="#cdcdcd" stroke-width="0.5" stroke-dasharray=".6 .8"/><path d="M545.2 299L569.4 377.2" stroke="#cfcfcf" stroke-width="0.5"/><path d="M545.2 295.4L569.4 373.4" stroke="#cdcdcd" stroke-width="0.5" stroke-dasharray=".6 .8"/><path d="M545.2 291.7L569.4 369.5" stroke="#cdcdcd" stroke-width="0.5" stroke-dasharray=".6 .8"/><path d="M545.2 288L569.4 365.6" stroke="#cdcdcd" stroke-width="0.5" stroke-dasharray=".6 .8"/><path d="M545.2 284.3L569.4 361.8" stroke="#cfcfcf" stroke-width="0.5"/><path d="M545.2 280.6L569.4 357.9" stroke="#cdcdcd" stroke-width="0.5" stroke-dasharray=".6 .8"/><path d="M545.2 276.9L569.4 354.1" stroke="#cdcdcd" stroke-width="0.5" stroke-dasharray=".6 .8"/><path d="M545.2 273.2L569.4 350.2" stroke="#cdcdcd" stroke-width="0.5" stroke-dasharray=".6 .8"/><path d="M545.2 269.6L569.4 346.4" stroke="#cfcfcf" stroke-width="0.5"/><path d="M545.2 265.9L569.4 342.6" stroke="#cdcdcd" stroke-width="0.5" stroke-dasharray=".6 .8"/><path d="M545.2 262.2L569.4 338.7" stroke="#cdcdcd" stroke-width="0.5" stroke-dasharray=".6 .8"/><path d="M545.2 258.5L569.4 334.9" stroke="#cdcdcd" stroke-width="0.5" stroke-dasharray=".6 .8"/><path d="M545.2 254.8L569.4 331" stroke="#cfcfcf" stroke-width="0.5"/><path d="M545.2 251.1L569.4 327.1" stroke="#cdcdcd" stroke-width="0.5" stroke-dasharray=".6 .8"/><path d="M545.2 247.5L569.4 323.3" stroke="#cdcdcd" stroke-width="0.5" stroke-dasharray=".6 .8"/><path d="M545.2 243.8L569.4 319.4" stroke="#cdcdcd" stroke-width="0.5" stroke-dasharray=".6 .8"/><path d="M568.2 404L568.2 311.8" stroke="#d2d2d2" stroke-width="0.5" stroke-dasharray=".6 .8"/><path d="M567 400L567 308" stroke="#d2d2d2" stroke-width="0.5" stroke-dasharray=".6 .8"/><path d="M565.8 396.1L565.8 304.3" stroke="#d2d2d2" stroke-width="0.5" stroke-dasharray=".6 .8"/><path d="M564.6 392.1L564.6 300.5" stroke="#d2d2d2" stroke-width="0.5" stroke-dasharray=".6 .8"/><path d="M563.3 388.1L563.3 296.7" stroke="#cfcfcf" stroke-width="0.5"/><path d="M562.1 384.1L562.1 292.9" stroke="#d2d2d2" stroke-width="0.5" stroke-dasharray=".6 .8"/><path d="M560.9 380.2L560.9 289.2" stroke="#d2d2d2" stroke-width="0.5" stroke-dasharray=".6 .8"/><path d="M559.7 376.2L559.7 285.4" stroke="#d2d2d2" stroke-width="0.5" stroke-dasharray=".6 .8"/><path d="M558.5 372.2L558.5 281.6" stroke="#d2d2d2" stroke-width="0.5" stroke-dasharray=".6 .8"/><path d="M557.3 368.2L557.3 277.9" stroke="#cfcfcf" stroke-width="0.5"/><path d="M556.1 364.3L556.1 274.1" stroke="#d2d2d2" stroke-width="0.5" stroke-dasharray=".6 .8"/><path d="M554.9 360.3L554.9 270.3" stroke="#d2d2d2" stroke-width="0.5" stroke-dasharray=".6 .8"/><path d="M553.7 356.3L553.7 266.5" stroke="#d2d2d2" stroke-width="0.5" stroke-dasharray=".6 .8"/><path d="M552.5 352.3L552.5 262.7" stroke="#d2d2d2" stroke-width="0.5" stroke-dasharray=".6 .8"/><path d="M551.2 348.4L551.2 259" stroke="#cfcfcf" stroke-width="0.5"/><path d="M550 344.4L550 255.2" stroke="#d2d2d2" stroke-width="0.5" stroke-dasharray=".6 .8"/><path d="M548.8 340.4L548.8 251.4" stroke="#d2d2d2" stroke-width="0.5" stroke-dasharray=".6 .8"/><path d="M547.6 336.5L547.6 247.7" stroke="#d2d2d2" stroke-width="0.5" stroke-dasharray=".6 .8"/><path d="M546.4 332.5L546.4 243.9" stroke="#d2d2d2" stroke-width="0.5" stroke-dasharray=".6 .8"/><path d="M382.1 344.2L406.1 423.2" stroke="#dedede" stroke-width="0.5" stroke-dasharray=".6 .8"/><path d="M390.7 343.4L414.7 422.4" stroke="#d8d8d8" stroke-width="0.5"/><path d="M399.3 342.5L423.3 421.6" stroke="#dedede" stroke-width="0.5" stroke-dasharray=".6 .8"/><path d="M407.8 341.7L431.9 420.8" stroke="#d8d8d8" stroke-width="0.5"/><path d="M416.4 340.9L440.5 420" stroke="#dedede" stroke-width="0.5" stroke-dasharray=".6 .8"/><path d="M425 340L449.1 419.2" stroke="#d8d8d8" stroke-width="0.5"/><path d="M433.6 339.2L457.7 418.4" stroke="#dedede" stroke-width="0.5" stroke-dasharray=".6 .8"/><path d="M442.2 338.4L466.3 417.6" stroke="#d8d8d8" stroke-width="0.5"/><path d="M450.8 337.6L474.9 416.8" stroke="#dedede" stroke-width="0.5" stroke-dasharray=".6 .8"/><path d="M459.4 336.8L483.4 416" stroke="#d8d8d8" stroke-width="0.5"/><path d="M467.9 335.9L492 415.2" stroke="#dedede" stroke-width="0.5" stroke-dasharray=".6 .8"/><path d="M476.5 335.1L500.6 414.4" stroke="#d8d8d8" stroke-width="0.5"/><path d="M485.1 334.3L509.2 413.6" stroke="#dedede" stroke-width="0.5" stroke-dasharray=".6 .8"/><path d="M493.7 333.4L517.8 412.8" stroke="#d8d8d8" stroke-width="0.5"/><path d="M502.3 332.6L526.4 412" stroke="#dedede" stroke-width="0.5" stroke-dasharray=".6 .8"/><path d="M510.9 331.8L535 411.2" stroke="#d8d8d8" stroke-width="0.5"/><path d="M519.4 331L543.6 410.4" stroke="#dedede" stroke-width="0.5" stroke-dasharray=".6 .8"/><path d="M528 330.2L552.2 409.6" stroke="#d8d8d8" stroke-width="0.5"/><path d="M536.6 329.3L560.8 408.8" stroke="#dedede" stroke-width="0.5" stroke-dasharray=".6 .8"/><path d="M394.5 414.1L566.4 398.1" stroke="#dedede" stroke-width="0.5" stroke-dasharray=".6 .8"/><path d="M391.5 404.2L563.3 388.1" stroke="#d8d8d8" stroke-width="0.5"/><path d="M388.5 394.4L560.3 378.2" stroke="#dedede" stroke-width="0.5" stroke-dasharray=".6 .8"/><path d="M385.5 384.5L557.3 368.2" stroke="#d8d8d8" stroke-width="0.5"/><path d="M382.5 374.6L554.3 358.3" stroke="#dedede" stroke-width="0.5" stroke-dasharray=".6 .8"/><path d="M379.5 364.8L551.2 348.4" stroke="#d8d8d8" stroke-width="0.5"/><path d="M376.5 354.9L548.2 338.4" stroke="#dedede" stroke-width="0.5" stroke-dasharray=".6 .8"/></g>
<g fill="none"><path d="M373.5 258.7L545.2 240.1" stroke="#3a3a3a" stroke-width="0.7"/><path d="M545.2 240.1L569.4 315.6" stroke="#3a3a3a" stroke-width="0.7"/><path d="M545.2 328.5L545.2 240.1" stroke="#6a6a6a" stroke-width="1.0"/><path d="M373.5 345L373.5 258.7" stroke="#3a3a3a" stroke-width="0.7"/></g>
<path d="M373.5 345l1.3 4.2 1.2 4.1 1.3 4.2 1.3 4.1 1.2 4.2 1.3 4.1 1.2 4.2 1.3 4.2 1.3 4.1 1.2 4.2 1.3 4.1 1.3 4.2 1.2 4.2 1.3 4.1 1.2 4.2 1.3 4.1 1.3 4.2 1.2 4.1 1.3 4.2 1.8-13.7-1.3-20.2-1.2 2-1.3-17.1-1.3 .6-1.2-8.8-1.3-.1-1.3-11.9-1.2 3.4-1.3-12.8-1.2 3.3-1.3-10.3-1.3 1.5-1.2-7.6-1.3 4.7-1.3-10.9-1.2 9.5-1.3-12.4-1.2 6.6-1.3-11.1z" fill="url(#w3)"/>
<g transform="matrix(1.7885 -.1719 0 1 375.29 344.83)"><path d="M0-26.1l1-1.3 1-2.1 .7 16.7-2 0z" fill="url(#v15_11)"/><path d="M1-27.4l1-2.1 1-.3 .7 17-2 0z" fill="url(#v16_12)"/><path d="M2-29.5l1-.3 1 0 1 1.2 .7 15.8-3 0z" fill="url(#v16_11)"/><path d="M4-29.8l1 1.2 1 .9 1-1.6 1 1.3 .7 12.9-4 2.3z" fill="url(#v16_13)"/><path d="M7-29.3l1 1.3 1-2.4 1 1.6 1 1.5 1-2 1-1.7 .7 17.4-6-1.5z" fill="url(#v16_12)"/><path d="M12-29.3l1-1.7 1-2.5 .7 19.9-2 0z" fill="url(#v17_11)"/><path d="M13-31l1-2.5 1-4.9 .7 24.8-2 0z" fill="url(#v18_11)"/><path d="M14-33.5l1-4.9 1-9.5 .7 34.3-2 0z" fill="url(#v22_12)"/><path d="M15-38.4l1-9.5 1 8.8 .7 26.4-2-.9z" fill="url(#v26_13)"/><path d="M16-47.9l1 8.8 1 6.4 .7 20.7-2-1.6z" fill="url(#v26_14)"/><path d="M17-39.1l1 6.4 1 4.1 .7 19.6-2-3.7z" fill="url(#v21_12)"/><path d="M18-32.7l1 4.1 1 4.3 .7 15.3-2-3z" fill="url(#v18_11)"/><path d="M19-28.6l1 4.3 1 .6 .7 14.7-2 0z" fill="url(#v16_10)"/><path d="M20-24.3l1 .6 1-1.3 .7 16-2 0z" fill="url(#v14_10)"/><path d="M21-23.7l1-1.3 1 4.1 1-3.7 1 3.2 1-.6 .7 11.6-5 1.4z" fill="url(#v13_9)"/><path d="M25-21.4l1-.6 1-2.8 .7 14.4-2 1.4z" fill="url(#v12_9)"/><path d="M26-22l1-2.8 1 1 1-1.1 .7 14.5-3 0z" fill="url(#v13_9)"/><path d="M28-23.8l1-1.1 1-2.3 .7 16.5-2 .3z" fill="url(#v14_9)"/><path d="M29-24.9l1-2.3 1-.5 1 .7 1 0 1-.7 1 3.4 .7 18.4-6-4.5z" fill="url(#v15_10)"/><path d="M34-27.7l1 3.4 1 2.1 .7 16.3-2-2.2z" fill="url(#v14_9)"/><path d="M35-24.3l1 2.1 1 1.1 .7 15.2-2 0z" fill="url(#v13_8)"/><path d="M36-22.2l1 1.1 1-.2 .7 15.4-2 0z" fill="url(#v12_7)"/><path d="M37-21.1l1-.2 1 .5 1 2.1 1-1.7 1 .6 1-2.1 1 2.6 .7 15.7-7-2.3z" fill="url(#v11_7)"/><path d="M43-21.9l1 2.6 1-1.9 1 3.2 .7 14.4-3 0z" fill="url(#v11_6)"/><path d="M45-21.2l1 3.2 1-1.9 1 1.4 .7 13.7-3 1.2z" fill="url(#v11_7)"/><path d="M47-19.9l1 1.4 1 .2 .7 13.5-2 1.2z" fill="url(#v11_6)"/><path d="M48-18.5l1 .2 1-2.1 .7 15.6-2 0z" fill="url(#v10_6)"/><path d="M49-18.3l1-2.1 1 2.4 .7 13.2-2 0z" fill="url(#v11_7)"/><path d="M50-20.4l1 2.4 1-1.1 1 .7 1-1.8 1 .6 1 5.5 .7 9.7-6-.4z" fill="url(#v11_6)"/><path d="M55-19.6l1 5.5 1-6 .7 15.7-2 0z" fill="url(#v11_7)"/><path d="M56-14.1l1-6 1 1.8 1-5.5 .7 19.4-3 0z" fill="url(#v11_6)"/><path d="M58-18.3l1-5.5 1 3.6 1-.1 .7 15.1-3 .8z" fill="url(#v12_6)"/><path d="M60-20.2l1-.1 1 4.4 1-7.2 1 4.1 1 1.8 .7 12.2-5 .6z" fill="url(#v11_6)"/><path d="M64-19l1 1.8 1-2.1 .7 14.3-2 0z" fill="url(#v10_7)"/><path d="M65-17.2l1-2.1 1-2.7 .7 17-2 0z" fill="url(#v10_6)"/><path d="M66-19.3l1-2.7 1 5.2 1-4.6 1 3 1 .3 .7 13.4-5-.3z" fill="url(#v11_6)"/><path d="M70-18.4l1 .3 1-.1 1 .5 1-1.3 1 0 1-1 1-.4 .7 16.4-7-.7z" fill="url(#v10_6)"/><path d="M76-20l1-.4 1 2.2 1-1.7 .7 15.9-3-.9z" fill="url(#v11_6)"/><path d="M78-18.2l1-1.7 1 2.9 1-3 1 3 1-.7 1-1.5 1 1.8 1-1.5 1 2.5 1-.9 .7 13.4-10-.1z" fill="url(#v10_6)"/><path d="M87-16.4l1-.9 1-1.6 1-1.2 .7 16.2-3 0z" fill="url(#v10_5)"/><path d="M89-18.9l1-1.2 1 3.5 1-3.5 1 1.7 1-2.5 .7 18.4-5-1.4z" fill="url(#v10_6)"/><path d="M93-18.4l1-2.5 1 3.3 .7 15.1-2 0z" fill="url(#v10_5)"/></g>
<g transform="matrix(1.7887 -.1716 0 1 376.55 348.99)"><path d="M0-25.2l6 .6 6 0 5-1.8 .7 5.5-5-.2-6-1.5-6 2.9z" fill="#00b2ff"/><path d="M16-25.7l2 4.3 .7 .5-2 0z" fill="#1affe5"/><path d="M17-26.4l2 5 .7 2.9-2-2.4z" fill="#80ff80"/><path d="M18-21.4l2 0 .7 3.9-2-3.4z" fill="#1affe5"/><path d="M19-21.4l6 3.4 6-.4 5-.9 .7 5.3-5-3.5-6 2.3-6-3.3z" fill="#00b2ff"/><path d="M35-19.3l6 .3 6 .6 6 .5 6 1 6 .2 6 0 6 1 6 .2 6 0 6-1.1 .7 6.5-6-.3-6-.2-6-.2-6-.2-6-.1-6-.2-6-.2-6-.2-6-.4-6-3.3z" fill="#004dff"/></g>
<g transform="matrix(1.7888 -.1713 0 1 377.82 353.14)"><path d="M0-29.9l1-1 1-.5 .7 15-2 0z" fill="url(#v17_12)"/><path d="M1-30.9l1-.5 1 .7 .7 14.3-2 0z" fill="url(#v17_13)"/><path d="M2-31.4l1 .7 1-1.6 .7 14.6-2 1.3z" fill="url(#v17_14)"/><path d="M3-30.7l1-1.6 1 1.3 1 .7 .7 11.5-3 2.4z" fill="url(#v18_14)"/><path d="M5-31l1 .7 1 .9 1-.5 1-1.9 1 0 .7 14.6-5-1.6z" fill="url(#v17_14)"/><path d="M9-31.8l1 0 1 1 1-.5 1 1.7 1-4.6 .7 17.3-5-.3z" fill="url(#v17_13)"/><path d="M13-29.6l1-4.6 1 3 1-4 .7 18.3-3 0z" fill="url(#v18_13)"/><path d="M15-31.2l1-4 1-15.2 .7 35.5-2-2z" fill="url(#v20_13)"/><path d="M16-35.2l1-15.2 1 15.5 .7 20-2-2z" fill="url(#v28_14)"/><path d="M17-50.4l1 15.5 1 4.6 .7 19.2-2-3.8z" fill="url(#v28_13)"/><path d="M18-34.9l1 4.6 1-.2 .7 19.4-2-3.8z" fill="url(#v19_12)"/><path d="M19-30.3l1-.2 1 4.3 .7 15.1-2 0z" fill="url(#v17_12)"/><path d="M20-30.5l1 4.3 1-.9 .7 16-2 0z" fill="url(#v16_12)"/><path d="M21-26.2l1-.9 1-.1 1 0 .7 16.1-3 0z" fill="url(#v15_10)"/><path d="M23-27.2l1 0 1-2.2 .7 18.3-2 0z" fill="url(#v15_11)"/><path d="M24-27.2l1-2.2 1 1.6 1-.3 1 5.4 1-3.9 .7 16.1-5-.6z" fill="url(#v15_10)"/><path d="M28-22.7l1-3.9 1 .1 1 .2 1 .9 .7 14.9-4-1.6z" fill="url(#v14_10)"/><path d="M31-26.3l1 .9 1 1 1-1.7 1 1.3 1-.2 .7 14.7-5-.2z" fill="url(#v14_9)"/><path d="M35-24.8l1-.2 1 .9 1-.4 1-.9 .7 15.3-4-.4z" fill="url(#v14_10)"/><path d="M38-24.5l1-.9 1-.3 1 1.2 1-.3 .7 14.7-4-.2z" fill="url(#v14_9)"/><path d="M41-24.5l1-.3 1 .6 1-1.4 .7 15.5-3 0z" fill="url(#v13_9)"/><path d="M43-24.2l1-1.4 1 1.8 1-.1 .7 14.1-3-.3z" fill="url(#v14_9)"/><path d="M45-23.8l1-.1 1-.5 1 1.2 1-1.3 1-1.8 .7 16.5-5-.1z" fill="url(#v13_9)"/><path d="M49-24.5l1-1.8 1 2.2 1-1.9 1 .8 1 1 .7 14.9-5-.5z" fill="url(#v14_9)"/><path d="M53-25.2l1 1 1-.7 1-.9 .7 17-3-.5z" fill="url(#v13_8)"/><path d="M55-24.9l1-.9 1 3.1 1-2.1 .7 16-3 0z" fill="url(#v14_9)"/><path d="M57-22.7l1-2.1 1-.7 1 2.7 .7 14-3 0z" fill="url(#v13_8)"/><path d="M59-25.5l1 2.7 1-2.7 1 .9 1 2 .7 15.3-4-1.5z" fill="url(#v13_9)"/><path d="M62-24.6l1 2 1-1.6 1 2.5 1-.2 .7 14.6-4-2.4z" fill="url(#v13_8)"/><path d="M65-21.7l1-.2 1 .4 1-2.6 .7 16.8-3 0z" fill="url(#v12_8)"/><path d="M67-21.5l1-2.6 1 1.5 .7 15.3-2 0z" fill="url(#v13_9)"/><path d="M68-24.1l1 1.5 1 .3 1-.3 .7 14.5-3 .8z" fill="url(#v13_8)"/><path d="M70-22.3l1-.3 1-.6 .7 15.1-2 0z" fill="url(#v12_8)"/><path d="M71-22.6l1-.6 1 .4 1 .3 1-.9 1 1.6 .7 13.7-5 0z" fill="url(#v13_8)"/><path d="M75-23.4l1 1.6 1-.5 .7 13.9-2 .3z" fill="url(#v13_9)"/><path d="M76-21.8l1-.5 1-3.5 .7 17.7-2 0z" fill="url(#v12_9)"/><path d="M77-22.3l1-3.5 1 2 1 3.3 .7 13.6-3-1.5z" fill="url(#v13_9)"/><path d="M79-23.8l1 3.3 1-4.5 1 3.3 .7 14.8-3 0z" fill="url(#v13_8)"/><path d="M81-25l1 3.3 1-3.3 1 2.1 .7 16-3 0z" fill="url(#v13_7)"/><path d="M83-25l1 2.1 1-1.1 1 3.7 1-1.3 .7 14-4 .7z" fill="url(#v13_8)"/><path d="M86-20.3l1-1.3 1 .6 .7 13.4-2 0z" fill="url(#v12_8)"/><path d="M87-21.6l1 .6 1-.8 1 .4 .7 13.8-3 0z" fill="url(#v12_7)"/><path d="M89-21.8l1 .4 1-.2 1-.6 1 .7 1-.4 1-1.1 .7 14.8-6 .6z" fill="url(#v12_8)"/></g>
<g transform="matrix(1.7889 -.1711 0 1 379.08 357.3)"><path d="M0-30.6l6 0 6-1 6 1.2 6 2.7 1 0 .7 8.6-1-.4-6-3.7-6-.6-6-1.2-6 3.3z" fill="#1affe5"/><path d="M24-27.7l6 2.1 6 .9 6 2.4 6 0 6-1.4 6 6.4 6 0 6-3.6 6 0 6-1.2 5 1.9 .7 6.2-5-.3-6-.2-6-.3-6-.2-6-.3-6-.2-6-.3-6-.3-6-.6-6-1-6-1.8z" fill="#00b2ff"/><path d="M88-20.2l6 0 1 0 .7 6.5-1-.1-6-.3z" fill="#004dff"/></g>
<g transform="matrix(1.789 -.1708 0 1 380.34 361.46)"><path d="M0-35.3l1-.1 1-1.7 1-3.9 .7 17.7-3 0z" fill="url(#v20_16)"/><path d="M2-37.1l1-3.9 1 2.4 .7 14.3-2 1z" fill="url(#v22_17)"/><path d="M3-41l1 2.4 1-1.7 1 .4 1 3.4 1-2.5 .7 12.3-5 3.4z" fill="url(#v22_18)"/><path d="M7-36.5l1-2.5 1-.8 .7 13.1-2 .8z" fill="url(#v21_18)"/><path d="M8-39l1-.8 1 3.5 1-.9 .7 11-3-.5z" fill="url(#v22_18)"/><path d="M10-36.3l1-.9 1-9.1 .7 20.1-2-.6z" fill="url(#v21_18)"/><path d="M11-37.2l1-9.1 1 8.1 1 .7 .7 13.2-3-1.9z" fill="url(#v23_18)"/><path d="M13-38.2l1 .7 1-.5 1 1.3 1-1.1 1 .1 1 .8 1-2 1-.1 .7 15.1-8-2.3z" fill="url(#v21_17)"/><path d="M20-38.9l1-.1 1 1.1 .7 15.7-2-1.7z" fill="url(#v21_18)"/><path d="M21-39l1 1.1 1 2.7 .7 13-2-1.7z" fill="url(#v21_17)"/><path d="M22-37.9l1 2.7 1-.1 1 2.8 .7 11.2-3-.9z" fill="url(#v20_16)"/><path d="M24-35.3l1 2.8 1-3.3 .7 14.5-2 0z" fill="url(#v20_15)"/><path d="M25-32.5l1-3.3 1 1.5 1 .5 1 .5 1-.9 1 .5 .7 14.3-6-1.9z" fill="url(#v19_15)"/><path d="M30-34.2l1 .5 1 2.1 .7 12.6-2-.4z" fill="url(#v19_14)"/><path d="M31-33.7l1 2.1 1-3.2 1 2.1 1 2.3 1-2.7 1 2.5 .7 15-6-3.8z" fill="url(#v18_14)"/><path d="M36-33.1l1 2.5 1-3.2 1 .8 1 1.3 1-2.2 1 4.4 1-1.4 .7 15.7-7-.4z" fill="url(#v18_12)"/><path d="M42-29.5l1-1.4 1 .9 1 1 .7 14.1-3-.3z" fill="url(#v17_12)"/><path d="M44-30l1 1 1 1.9 1-4.4 .7 16.6-3-.3z" fill="url(#v16_12)"/><path d="M46-27.1l1-4.4 1 1.9 .7 14.7-2 0z" fill="url(#v17_12)"/><path d="M47-31.5l1 1.9 1 1.1 .7 15.1-2-1.5z" fill="url(#v17_11)"/><path d="M48-29.6l1 1.1 1-.5 1-4.7 .7 20.3-3-1.5z" fill="url(#v16_11)"/><path d="M50-29l1-4.7 1 4.1 1 1 .7 15.2-3 0z" fill="url(#v17_11)"/><path d="M52-29.6l1 1 1-.6 1-1.8 1 1.8 1 .2 1-.1 1 .6 1-.3 1-2.1 1 2.1 1 0 1 6.7 1-7.8 1-.6 1 3.3 1-2.8 1 2.7 1-1.9 1 0 1 3.5 1-5.5 1-.5 .7 19-6-1.8-6 0-6 .6-4 .5z" fill="url(#v16_11)"/><path d="M73-31.2l1-.5 1 3.4 1 1.3 .7 14.3-3 0z" fill="url(#v16_10)"/><path d="M75-28.3l1 1.3 1-1.4 .7 15.7-2 0z" fill="url(#v15_11)"/><path d="M76-27l1-1.4 1 .2 1-1.4 .7 16.6-3 .3z" fill="url(#v15_10)"/><path d="M78-28.2l1-1.4 1 1.3 1 .2 .7 15.4-3-.3z" fill="url(#v16_11)"/><path d="M80-28.3l1 .2 1-1.5 .7 16.9-2 0z" fill="url(#v15_10)"/><path d="M81-28.1l1-1.5 1 .5 1 .8 .7 15.8-3-.2z" fill="url(#v16_10)"/><path d="M83-29.1l1 .8 1 1.1 1 .1 1-.1 1 .3 1-.6 1-2 1 2.1 1-.1 1 2.4 1-4.1 1 2 .7 14.7-12-.2z" fill="url(#v15_10)"/></g>
<g transform="matrix(1.7891 -.1705 0 1 381.6 365.62)"><path d="M0-32.7l3 0 .7 1.2-3 3.1z" fill="#1affe5"/><path d="M2-32.7l6-2.2 6 .8 6 .2 2 1.6 .7 1.8-2-.7-6-.2-6-.7-6 1.5z" fill="#80ff80"/><path d="M21-33.5l2 1.2 .7 3-2-2.5z" fill="#e5ff1a"/><path d="M22-32.3l2 1 .7 2.6-2-1.8z" fill="#80ff80"/><path d="M23-32.3l6 2.6 6 2.4 5 .1 .7 5-5-1.6-6-2.6-6-2.9z" fill="#1affe5"/><path d="M39-27.2l6 1.6 6 1 6 0 6 .1 6 1.4 6 0 6 0 6-1.2 6-.3 2 0 .7 6.3-2-.1-6-.3-6-.2-6-.3-6-.2-6-.3-6-.3-6-.4-6-.7-6-1.3z" fill="#00b2ff"/></g>
<g transform="matrix(1.7892 -.1702 0 1 382.87 369.78)"><path d="M0-37.5l1-1.6 1-.6 1-1.5 .7 14-3 0z" fill="url(#v22_18)"/><path d="M2-39.7l1-1.5 1 .1 1 .3 .7 11.9-3 1.7z" fill="url(#v23_19)"/><path d="M4-41.1l1 .3 1 .7 1-2.4 1 1.2 1 1.2 .7 11.5-5 .8z" fill="url(#v23_20)"/><path d="M8-41.3l1 1.2 1 0 1-1.5 .7 13.3-3-.3z" fill="url(#v23_19)"/><path d="M10-40.1l1-1.5 1 1.3 .7 12-2-.3z" fill="url(#v23_20)"/><path d="M11-41.6l1 1.3 1-1.2 1-1 1-2.5 .7 16.7-4 0z" fill="url(#v23_19)"/><path d="M14-42.5l1-2.5 1 3.7 1-1.4 .7 14.4-3 0z" fill="url(#v24_19)"/><path d="M16-41.3l1-1.4 1 3.9 1-1.1 .7 11.5-3 .1z" fill="url(#v23_19)"/><path d="M18-38.8l1-1.1 1-5.5 .7 18.8-2-1.8z" fill="url(#v22_19)"/><path d="M19-39.9l1-5.5 1-9.5 .7 30.2-2-3.7z" fill="url(#v25_20)"/><path d="M20-45.4l1-9.5 1 12.2 .7 18-2-1.9z" fill="url(#v30_20)"/><path d="M21-54.9l1 12.2 1 1 .7 17-2 0z" fill="url(#v30_19)"/><path d="M22-42.7l1 1 1 1.9 .7 15.2-2-.1z" fill="url(#v24_18)"/><path d="M23-41.7l1 1.9 1 .8 .7 16.2-2-1.9z" fill="url(#v23_17)"/><path d="M24-39.8l1 .8 1 .3 .7 15.9-2-1.8z" fill="url(#v22_17)"/><path d="M25-39l1 .3 1 1.6 .7 14.6-2-.3z" fill="url(#v21_17)"/><path d="M26-38.7l1 1.6 1-2.2 1 2.1 1 1.1 .7 15.9-4-2.6z" fill="url(#v21_16)"/><path d="M29-37.2l1 1.1 1-.7 1 2.3 .7 15.3-3-1z" fill="url(#v20_15)"/><path d="M31-36.8l1 2.3 1-.4 .7 16.2-2-.5z" fill="url(#v20_14)"/><path d="M32-34.5l1-.4 1 .4 1-.5 1 1 1-.4 .7 17.5-5-2.3z" fill="url(#v19_14)"/><path d="M36-34l1-.4 1 2.2 1 .1 .7 17.2-3-2.4z" fill="url(#v19_13)"/><path d="M38-32.2l1 .1 1-1.8 1 .8 1 1.1 .7 17.8-4-2.4z" fill="url(#v18_12)"/><path d="M41-33.1l1 1.1 1-1.2 1 .2 1-.7 1 .8 1 1.5 1-.9 1-1.1 1 .2 1 2.8 .7 18-10-1.8z" fill="url(#v18_11)"/><path d="M50-33.2l1 2.8 1-2.9 1 3.2 .7 17.7-3 0z" fill="url(#v18_10)"/><path d="M52-33.3l1 3.2 1-1.4 .7 19.1-2 0z" fill="url(#v18_11)"/><path d="M53-30.1l1-1.4 1 2.1 1-2.3 1-.3 1 1.1 1-.6 1 1 1-1.5 1 1.3 1-1.7 1 .6 1 .5 1-.3 1 .1 1 .5 1 1.7 1-3.8 1-.8 1 2.5 1 1.3 1-1.2 1 3.4 1-3.7 1-1.3 1 1.4 1 0 1 3.1 1-2 .7 18.6-6-.1-6 .7-6 0-6-1.7-4 .5z" fill="url(#v17_10)"/><path d="M80-28.4l1-2 1 1.3 1-3.7 .7 21-3 0z" fill="url(#v16_10)"/><path d="M82-29.1l1-3.7 1 2.2 1 .3 .7 19.9-3-1.4z" fill="url(#v17_9)"/><path d="M84-30.6l1 .3 1-1 .7 21.7-2-.8z" fill="url(#v16_9)"/><path d="M85-30.3l1-1 1-.6 1 .6 1 1.7 1-1.7 1 .2 1 1.1 .7 22.2-7-2.6z" fill="url(#v17_9)"/><path d="M91-31.1l1 1.1 1-1.3 .7 23.5-2 0z" fill="url(#v16_9)"/><path d="M92-30l1-1.3 1 1.9 1-1.6 .7 23.2-3 0z" fill="url(#v16_8)"/><path d="M94-29.4l1-1.6 .7 23.2-1 0z" fill="url(#v16_9)"/></g>
<g transform="matrix(1.7893 -.17 0 1 384.13 373.94)"><path d="M0-34.9l6-1.3 6 .5 6 .9 3-3.2 .7 8.6-3-2.6-6-2.9-6 .5-6 2.5z" fill="#80ff80"/><path d="M20-38.5l2 4 .7 5.1-2-1.8z" fill="#e5ff1a"/><path d="M21-38l4 6.7 .7 1.9-4 0z" fill="#80ff80"/><path d="M24-32l6 4.2 6 3.6 1 0 .7 1.2-1-.5-6-3.3-6-2.6z" fill="#1affe5"/><path d="M36-24.2l6 .2 6 1.8 6 .9 6 1.2 6 0 6-1.1 6 1 6 0 6 1.1 5 0 .7 2.2-5-.2-6-.3-6-.3-6-.2-6-.3-6-.3-6-.4-6-.7-6-1.4-6-2.5z" fill="#00b2ff"/></g>
<g transform="matrix(1.7894 -.1697 0 1 385.39 378.09)"><path d="M0-39.7l1-.8 1-3.4 .7 15.6-2 0z" fill="url(#v22_19)"/><path d="M1-40.5l1-3.4 1-2.7 .7 18.3-2 0z" fill="url(#v23_19)"/><path d="M2-43.9l1-2.7 1 1.5 1 2.7 1-.3 1 1.8 1-2.5 1 .1 1-.8 1 2.6 1-1.5 .7 14.4-10 .3z" fill="url(#v24_20)"/><path d="M11-41.5l1-1.5 1 .6 1-2.1 .7 15.4-3 .5z" fill="url(#v23_20)"/><path d="M13-42.4l1-2.1 1 4.4 .7 11-2 0z" fill="url(#v24_20)"/><path d="M14-44.5l1 4.4 1-3.5 .7 14.5-2 0z" fill="url(#v24_19)"/><path d="M15-40.1l1-3.5 1 1.8 1-.7 1-2.4 .7 18.6-4-2.8z" fill="url(#v23_19)"/><path d="M18-42.5l1-2.4 1-11.5 .7 30.1-2-1.4z" fill="url(#v25_19)"/><path d="M19-44.9l1-11.5 1 10.2 1 5.5 .7 16.3-3-1.9z" fill="url(#v31_19)"/><path d="M21-46.2l1 5.5 1 .9 .7 15.4-2-1.9z" fill="url(#v25_18)"/><path d="M22-40.7l1 .9 1 2.5 1-.9 .7 14.4-3-.6z" fill="url(#v22_18)"/><path d="M24-37.3l1-.9 1 1.8 1 1.8 .7 13.4-3-3.2z" fill="url(#v21_17)"/><path d="M26-36.4l1 1.8 1-.1 .7 13.5-2-1.3z" fill="url(#v20_17)"/><path d="M27-34.6l1-.1 1-.9 .7 14.7-2-.3z" fill="url(#v20_16)"/><path d="M28-34.7l1-.9 1-.3 1 1 .7 16.5-3-2.8z" fill="url(#v20_15)"/><path d="M30-35.9l1 1 1-1.2 .7 17.7-2 0z" fill="url(#v19_15)"/><path d="M31-34.9l1-1.2 1 1.9 .7 15.8-2 0z" fill="url(#v19_14)"/><path d="M32-36.1l1 1.9 1 .9 1 1.2 .7 16.1-3-2.4z" fill="url(#v19_13)"/><path d="M34-33.3l1 1.2 1-.9 1 1.2 .7 15.8-3 0z" fill="url(#v18_13)"/><path d="M36-33l1 1.2 1 2.8 .7 13.6-2-.6z" fill="url(#v18_12)"/><path d="M37-31.8l1 2.8 1-2.1 1 .3 1 .5 .7 15.9-4-1.6z" fill="url(#v17_12)"/><path d="M40-30.8l1 .5 1-3.6 1 3.1 1-.1 1 .5 .7 16.6-5-.6z" fill="url(#v17_11)"/><path d="M44-30.9l1 .5 1 1.6 1-.8 1 .1 1 .1 1 1.5 1-1.3 .7 17.6-7-2.2z" fill="url(#v16_11)"/><path d="M50-27.9l1-1.3 1 1.4 1 .8 .7 15.4-3 0z" fill="url(#v16_10)"/><path d="M52-27.8l1 .8 1-.1 1-.3 1-.8 1 1.7 1 .4 1-.7 1-.6 1-2.7 .7 19.4-9-.9z" fill="url(#v15_10)"/><path d="M60-27.4l1-2.7 1 1.4 1 3.8 .7 14.2-3-1.6z" fill="url(#v16_10)"/><path d="M62-28.7l1 3.8 1-2.3 .7 16.5-2 0z" fill="url(#v15_10)"/><path d="M63-24.9l1-2.3 1-.9 1-2.2 .7 19.6-3 0z" fill="url(#v15_9)"/><path d="M65-28.1l1-2.2 1 2.7 1-4.4 1 5.2 .7 15.9-4 .2z" fill="url(#v16_10)"/><path d="M68-32l1 5.2 1-3.7 1 3.3 1-.3 .7 16.6-4 0z" fill="url(#v16_9)"/><path d="M71-27.2l1-.3 1-.6 1 1.3 1 .8 1-2.1 1 .4 .7 16.7-6 .1z" fill="url(#v15_9)"/><path d="M76-28.1l1 .4 1-3.5 .7 20.2-2 0z" fill="url(#v15_10)"/><path d="M77-27.7l1-3.5 1 2.6 1 2.1 .7 15.7-3-.2z" fill="url(#v16_10)"/><path d="M79-28.6l1 2.1 1-1.6 .7 17.3-2-1.4z" fill="url(#v15_10)"/><path d="M80-26.5l1-1.6 1 2 1 1.1 .7 14.4-3-.2z" fill="url(#v15_9)"/><path d="M82-26.1l1 1.1 1-1.8 1 .5 1 .2 1-2.2 .7 17.7-5 0z" fill="url(#v14_9)"/><path d="M86-26.1l1-2.2 1 1.5 1 1.2 .7 13.9-3 1.1z" fill="url(#v15_9)"/><path d="M88-26.8l1 1.2 1-.5 1-1 1 3.2 1-3.4 1 .4 1-.3 .7 16.4-7 .2z" fill="url(#v14_9)"/></g>
<g transform="matrix(1.7895 -.1694 0 1 386.66 382.25)"><path d="M0-36.2l6-1.1 6 .1 6 2 6 3.4 2 1.3 .7 1.1-2-1.6-6-3.1-6-2-6 .4-6 2.6z" fill="#80ff80"/><path d="M25-31.5l6 2.2 6 0 6-.4 3 .2 .7 10-3-.8-6-2.3-6-3.8-6-4.3z" fill="#1affe5"/><path d="M45-29.5l6 3 6 1.6 6 1.3 6 0 6-.8 6 1.9 6 .5 6 0 2 0 .7 5.6-2-.1-6-.2-6-.3-6-.3-6-.2-6-.3-6-.4-6-.5-6-1z" fill="#00b2ff"/></g>
<g transform="matrix(1.7896 -.1691 0 1 387.92 386.41)"><path d="M0-41l1-.6 1 .2 .7 14.3-2 0z" fill="url(#v23_18)"/><path d="M1-41.6l1 .2 1-4.5 .7 18.8-2 0z" fill="url(#v23_19)"/><path d="M2-41.4l1-4.5 1 1.7 1 .8 1-.1 1 0 1-2.3 .7 15-6 3.7z" fill="url(#v24_20)"/><path d="M7-43.5l1-2.3 1 .6 1 2.1 .7 14.8-3-2.5z" fill="url(#v25_20)"/><path d="M9-45.2l1 2.1 1 1.1 1-1.2 .7 14.9-3 0z" fill="url(#v24_20)"/><path d="M11-42l1-1.2 1-.6 1 1.7 .7 14.3-3-.5z" fill="url(#v24_19)"/><path d="M13-43.8l1 1.7 1 .1 .7 14.2-2-.5z" fill="url(#v24_20)"/><path d="M14-42.1l1 .1 1-.6 1-.4 .7 15.2-3 0z" fill="url(#v23_20)"/><path d="M16-42.6l1-.4 1-.2 1-1.4 .7 16.8-3 0z" fill="url(#v23_19)"/><path d="M18-43.2l1-1.4 1 5.2 1-3.4 .7 16.6-3-1.6z" fill="url(#v24_19)"/><path d="M20-39.4l1-3.4 1 1.2 1 1.6 .7 14.8-3-2.5z" fill="url(#v23_19)"/><path d="M22-41.6l1 1.6 1-1.4 .7 17-2-1.5z" fill="url(#v23_18)"/><path d="M23-40l1-1.4 1 4.2 1 .2 .7 14.7-3-2.9z" fill="url(#v22_17)"/><path d="M25-37.2l1 .2 1-4.6 .7 19.3-2-1.4z" fill="url(#v21_17)"/><path d="M26-37l1-4.6 1 4.7 1-1.8 .7 17.7-3-1.3z" fill="url(#v22_16)"/><path d="M28-36.9l1-1.8 1 2.4 1-.5 .7 16.4-3-.6z" fill="url(#v21_15)"/><path d="M30-36.3l1-.5 1 2.2 1-3.7 .7 19.5-3-2z" fill="url(#v20_15)"/><path d="M32-34.6l1-3.7 1 4.2 1-2.5 .7 18.1-3-.3z" fill="url(#v20_14)"/><path d="M34-34.1l1-2.5 1 1.4 1 0 1-3.3 1 4 1-2.2 1-.9 1 .5 1-.8 1-.5 1 1.2 1 1.3 1-.4 1 .8 1-2.5 .7 22.5-6-2.9-6-.1-3 0z" fill="url(#v20_13)"/><path d="M48-35.5l1-2.5 1 3.7 1-.9 .7 20.7-3-1.5z" fill="url(#v20_12)"/><path d="M50-34.3l1-.9 1-.6 .7 21.3-2-.9z" fill="url(#v19_12)"/><path d="M51-35.2l1-.6 1 2.9 1 1.6 .7 18.9-3-2.1z" fill="url(#v19_11)"/><path d="M53-32.9l1 1.6 1-2.8 1 1.4 1 .5 .7 20.3-4-2.3z" fill="url(#v18_11)"/><path d="M56-32.7l1 .5 1 .2 .7 20.1-2 0z" fill="url(#v18_10)"/><path d="M57-32.2l1 .2 1 0 1-.1 1 .8 1 1.6 1-2.2 .7 23.5-6-3.5z" fill="url(#v17_10)"/><path d="M62-29.7l1-2.2 1-.2 1 1.9 1 1.8 .7 20-4 0z" fill="url(#v17_9)"/><path d="M65-30.2l1 1.8 1-3.9 .7 22.8-2 1.1z" fill="url(#v16_9)"/><path d="M66-28.4l1-3.9 1 .2 1 .2 1 2.2 1-2.6 1 1 1 1 1 .6 .7 19.2-8 2.1z" fill="url(#v17_9)"/><path d="M73-30.3l1 .6 1-3.2 .7 22.4-2 .2z" fill="url(#v16_9)"/><path d="M74-29.7l1-3.2 1 2.1 1 .3 .7 19.7-3 .3z" fill="url(#v17_9)"/><path d="M76-30.8l1 .3 1 1.3 1-2.3 .7 22.6-3-1.9z" fill="url(#v16_9)"/><path d="M78-29.2l1-2.3 1 1.3 1-2.6 .7 24.6-3-.7z" fill="url(#v17_9)"/><path d="M80-30.2l1-2.6 1 2.2 1-.4 .7 22.8-3 0z" fill="url(#v17_8)"/><path d="M82-30.6l1-.4 1 1.8 1 1.9 .7 19.1-3 0z" fill="url(#v16_8)"/><path d="M84-29.2l1 1.9 1-.6 1-1.6 1 1.2 1-.3 1 1.8 .7 19.5-6-.9z" fill="url(#v16_9)"/><path d="M89-28.6l1 1.8 1-3.7 1-.5 1 2.2 1-3.1 1 1.1 .7 22.2-6 1.3z" fill="url(#v16_8)"/><path d="M94-31.9l1 1.1 .7 22.2-1 0z" fill="url(#v16_9)"/></g>
<g transform="matrix(1.7897 -.1689 0 1 389.18 390.57)"><path d="M0-33.7l6-3.6 6 .7 6 1.4 4 .8 .7 3.9-4-3.2-6-2-6 2.8-6 0z" fill="#80ff80"/><path d="M21-36.1l2 3.1 .7 2.5-2-1.6z" fill="#e5ff1a"/><path d="M22-34.4l4 4 .7 .9-4-1z" fill="#80ff80"/><path d="M25-31.2l6 2.5 6 1.1 6 1.6 5 .7 .7 2.6-5-1.3-6-.4-6-2.2-6-3.9z" fill="#1affe5"/><path d="M47-25.9l6 2.8 6 1.2 6 3.1 6 0 6-1.1 6 0 6 1.2 5 0 .7 2.8-5-.2-6-.3-6-.3-6-.2-6-.3-6-.9-6-2.1-6-2.9z" fill="#00b2ff"/><path d="M93-18.7l2 0 .7 2.9-2-.1z" fill="#004dff"/></g>
<g transform="matrix(1.7899 -.1686 0 1 390.45 394.73)"><path d="M0-39.9l1 1.8 1-5.1 .7 16.2-2 0z" fill="url(#v22_18)"/><path d="M1-38.1l1-5.1 1 1.7 .7 14.5-2 0z" fill="url(#v23_18)"/><path d="M2-43.2l1 1.7 1-2.2 .7 15.4-2 1.3z" fill="url(#v23_19)"/><path d="M3-41.5l1-2.2 1-1.4 1 .9 .7 14.6-3 2.6z" fill="url(#v24_19)"/><path d="M5-45.1l1 .9 1-1 1-3.8 .7 19.5-3 0z" fill="url(#v24_20)"/><path d="M7-45.2l1-3.8 1 4.7 1 2.8 .7 13.4-3-1.5z" fill="url(#v25_20)"/><path d="M9-44.3l1 2.8 1-3.4 .7 17.4-2-.6z" fill="url(#v24_20)"/><path d="M10-41.5l1-3.4 1 1.5 1-.9 1 .3 1 3.1 1-3 .7 16.4-6-.6z" fill="url(#v24_19)"/><path d="M15-40.9l1-3 1 2.9 1-1.3 .7 14.7-3 .1z" fill="url(#v23_18)"/><path d="M17-41l1-1.3 1 .2 .7 14.5-2 .1z" fill="url(#v23_19)"/><path d="M18-42.3l1 .2 1-7.2 .7 21.4-2 .3z" fill="url(#v24_19)"/><path d="M19-42.1l1-7.2 1-2.3 .7 25.6-2-1.6z" fill="url(#v26_19)"/><path d="M20-49.3l1-2.3 1 4.6 1 7.1 .7 16.2-3-4.2z" fill="url(#v28_20)"/><path d="M22-47l1 7.1 1 .9 .7 17.7-2-3.4z" fill="url(#v25_18)"/><path d="M23-39.9l1 .9 1-.9 .7 20.8-2-4.6z" fill="url(#v22_17)"/><path d="M24-39l1-.9 1 .1 .7 20.7-2-2.2z" fill="url(#v22_16)"/><path d="M25-39.9l1 .1 1 2.4 .7 18.3-2 0z" fill="url(#v21_16)"/><path d="M26-39.8l1 2.4 1 1.6 .7 16.7-2 0z" fill="url(#v21_15)"/><path d="M27-37.4l1 1.6 1-.4 1 .1 1-.1 1 1.4 .7 18.2-5-2.5z" fill="url(#v20_14)"/><path d="M31-36.2l1 1.4 1-3.1 .7 21.9-2-1.1z" fill="url(#v19_13)"/><path d="M32-34.8l1-3.1 1 4.4 .7 18.8-2-1.9z" fill="url(#v20_13)"/><path d="M33-37.9l1 4.4 1-1.6 .7 21.5-2-2.4z" fill="url(#v20_12)"/><path d="M34-33.5l1-1.6 1 .4 1-.8 .7 21.9-3-1.1z" fill="url(#v19_12)"/><path d="M36-34.7l1-.8 1 3.1 1-1.6 .7 21.3-3-.9z" fill="url(#v19_11)"/><path d="M38-32.4l1-1.6 1-.8 .7 23.5-2-1.4z" fill="url(#v18_11)"/><path d="M39-34l1-.8 1-.8 1 .9 1-.9 .7 25.3-4-2.4z" fill="url(#v19_10)"/><path d="M42-34.7l1-.9 1 1.3 1 .6 .7 23.4-3-1z" fill="url(#v19_9)"/><path d="M44-34.3l1 .6 1 1.5 .7 22.9-2-1z" fill="url(#v19_10)"/><path d="M45-33.7l1 1.5 1-2.8 1-6.2 .7 31.9-3-1z" fill="url(#v18_9)"/><path d="M47-35l1-6.2 1 10.4 .7 21.5-2 0z" fill="url(#v20_9)"/><path d="M48-41.2l1 10.4 1-1.1 .7 22.6-2 0z" fill="url(#v20_8)"/><path d="M49-30.8l1-1.1 1 1.2 .7 21.4-2 0z" fill="url(#v17_8)"/><path d="M50-31.9l1 1.2 1-1.1 .7 22.5-2 0z" fill="url(#v17_9)"/><path d="M51-30.7l1-1.1 1-1.9 1 3.6 1-1.7 1 1.9 1 1.8 .7 19.3-6-.5z" fill="url(#v17_8)"/><path d="M56-29.9l1 1.8 1 .2 .7 19.1-2 0z" fill="url(#v16_8)"/><path d="M57-28.1l1 .2 1-2.5 .7 21.6-2 0z" fill="url(#v15_9)"/><path d="M58-27.9l1-2.5 1 2 1-2.2 1 1.5 1 .2 .7 19.5-5 .6z" fill="url(#v16_8)"/><path d="M62-29.1l1 .2 1 2.2 1-1 1 4.1 1-5.2 1 1 1-2.2 1 2.9 1-1.2 1 1.1 1-1.9 1 2.9 1-1.6 1 .7 1 2.4 1-1.7 .7 18.9-6-1.3-6-.4-4 .4z" fill="url(#v15_8)"/><path d="M77-24.7l1-1.7 1-3 .7 21.9-2 0z" fill="url(#v14_8)"/><path d="M78-26.4l1-3 1 .4 1 1.7 .7 19.8-3 0z" fill="url(#v15_7)"/><path d="M80-29l1 1.7 1-3.8 .7 23.6-2 0z" fill="url(#v15_8)"/><path d="M81-27.3l1-3.8 1 3 1-.3 .7 20.6-3 .3z" fill="url(#v15_7)"/><path d="M83-28.1l1-.3 1 1 1 1.1 1-.9 .7 22-4-2.6z" fill="url(#v15_8)"/><path d="M86-26.3l1-.9 1-2 .7 24-2-3.6z" fill="url(#v14_8)"/><path d="M87-27.2l1-2 1 2.4 1 3.3 .7 18.3-3 0z" fill="url(#v15_8)"/><path d="M89-26.8l1 3.3 1-4.1 1 1.2 1 2.9 1-3.1 .7 19.2-5 2.2z" fill="url(#v14_7)"/><path d="M93-23.5l1-3.1 1 .1 .7 19.1-2 2.2z" fill="url(#v14_8)"/><path d="M94-26.6l1 .1 .7 19.1-1 0z" fill="url(#v14_7)"/></g>
<g transform="matrix(1.79 -.1683 0 1 391.71 398.88)"><path d="M0-32.6l2-2.2 .7 3.8-2 0z" fill="#1affe5"/><path d="M1-33.6l6-2.5 6 .9 6-.2 2-3.9 .7 8.7-2-3.5-6 0-6 0-6 3.1z" fill="#80ff80"/><path d="M20-37l4 5.7 .7 6.9-4-8.9z" fill="#e5ff1a"/><path d="M23-33.1l3 4.1 .7 4.6-3 0z" fill="#80ff80"/><path d="M25-30l6 5.1 2 1.6 .7 1.5-2-2.5-6-.1z" fill="#1affe5"/><path d="M32-24.9l6 2.6 6 1 6 1.6 4 .2 .7 3.9-4-.5-6-1.2-6-2.4-6-3.8z" fill="#00b2ff"/><path d="M53-19.5l6 0 6 .1 6 0 6 0 6 .5 6 .7 6 0 .7 4.7-6-.3-6-.2-6-.3-6-.3-6-.3-6-.3-6-.5z" fill="#004dff"/></g>
<g transform="matrix(1.7901 -.168 0 1 392.97 403.04)"><path d="M0-36.3l1-3.5 1-1.9 .7 16.1-2 0z" fill="url(#v22_17)"/><path d="M1-39.8l1-1.9 1 1 .7 15.1-2 0z" fill="url(#v23_17)"/><path d="M2-41.7l1 1 1 .2 1-2.7 .7 16-3 1.6z" fill="url(#v23_18)"/><path d="M4-40.5l1-2.7 1 .4 1-2.4 .7 16.9-3 1.8z" fill="url(#v23_19)"/><path d="M6-42.8l1-2.4 1 1.6 1 3.4 .7 13.5-3-.5z" fill="url(#v24_19)"/><path d="M8-43.6l1 3.4 1-.9 1 .7 1-.9 .7 14.6-4-2.1z" fill="url(#v23_19)"/><path d="M11-40.4l1-.9 1 1.9 1-1.8 .7 14.5-3 0z" fill="url(#v23_18)"/><path d="M13-39.4l1-1.8 1 .2 .7 14.3-2 0z" fill="url(#v23_19)"/><path d="M14-41.2l1 .2 1-1.5 1-1.7 1-1.8 .7 17.7-4 1.6z" fill="url(#v23_20)"/><path d="M17-44.2l1-1.8 1 1.9 .7 16.6-2-.8z" fill="url(#v24_19)"/><path d="M18-46l1 1.9 1-9 .7 28.6-2-3.8z" fill="url(#v25_18)"/><path d="M19-44.1l1-9 1-6.6 .7 36.2-2-4z" fill="url(#v29_18)"/><path d="M20-53.1l1-6.6 1 9.7 1 2.6 .7 27.1-3-4.2z" fill="url(#v32_18)"/><path d="M22-50l1 2.6 1 6.8 .7 20.3-2-1.8z" fill="url(#v28_16)"/><path d="M23-47.4l1 6.8 1 .4 .7 20-2-.1z" fill="url(#v25_16)"/><path d="M24-40.6l1 .4 1 1.6 .7 19.2-2-.9z" fill="url(#v22_15)"/><path d="M25-40.2l1 1.6 1 2.7 .7 17.8-2-2.1z" fill="url(#v21_14)"/><path d="M26-38.6l1 2.7 1-1.6 1 7.8 1-5.9 .7 21.8-4-5.6z" fill="url(#v20_14)"/><path d="M29-29.7l1-5.9 1 4 1-2.3 .7 20.1-3-3.2z" fill="url(#v19_13)"/><path d="M31-31.6l1-2.3 1 3 .7 17.1-2 0z" fill="url(#v18_13)"/><path d="M32-33.9l1 3 1-.2 .7 17.4-2-.1z" fill="url(#v18_11)"/><path d="M33-30.9l1-.2 1-1.1 1 .4 1-.8 .7 21-4-2.2z" fill="url(#v17_11)"/><path d="M36-31.8l1-.8 1 .7 1 4.8 1-1.5 .7 19.1-4-2.9z" fill="url(#v17_10)"/><path d="M39-27.1l1-1.5 1-1.2 1 1.2 1 1.4 .7 17.7-4-1z" fill="url(#v16_9)"/><path d="M42-28.6l1 1.4 1-1 1-.5 .7 19.2-3 0z" fill="url(#v15_8)"/><path d="M44-28.2l1-.5 1 0 .7 19.2-2 0z" fill="url(#v15_9)"/><path d="M45-28.7l1 0 1-.6 1 3.2 1-.9 .7 17.8-4-.3z" fill="url(#v15_8)"/><path d="M48-26.1l1-.9 1-.5 .7 18.3-2 0z" fill="url(#v14_8)"/><path d="M49-27l1-.5 1 2.5 1-.9 .7 17.1-3-.4z" fill="url(#v15_8)"/><path d="M51-25l1-.9 1-.2 1 1.2 1 .4 1-4.9 .7 21.3-5-.7z" fill="url(#v14_8)"/><path d="M55-24.5l1-4.9 1 5.1 .7 17-2-.8z" fill="url(#v15_8)"/><path d="M56-29.4l1 5.1 1-4.5 1 1.7 .7 19.8-3-.8z" fill="url(#v15_7)"/><path d="M58-28.8l1 1.7 1 2.1 .7 17.7-2 0z" fill="url(#v15_8)"/><path d="M59-27.1l1 2.1 1-2.1 1 2 1-.4 1 .3 1 .2 1-2.2 1 1.1 1-.5 1 .5 1-3.8 .7 22.8-11-.2z" fill="url(#v14_7)"/><path d="M69-26.1l1-3.8 1 5.7 1-2.2 .7 19.3-3-.3z" fill="url(#v15_7)"/><path d="M71-24.2l1-2.2 1-1.4 1 3.1 1-.8 1-2.3 1-.5 .7 23-6-1.8z" fill="url(#v14_7)"/><path d="M76-27.8l1-.5 1 .8 1-1.1 .7 23.3-3 0z" fill="url(#v14_6)"/><path d="M78-27.5l1-1.1 1 2.6 .7 20.7-2 0z" fill="url(#v14_7)"/><path d="M79-28.6l1 2.6 1 .4 1-1.4 1-.7 1 4 .7 18.5-5-.1z" fill="url(#v14_6)"/><path d="M83-27.7l1 4 1-4.4 1 2.5 1 1.7 .7 19.2-4-.6z" fill="url(#v14_7)"/><path d="M86-25.6l1 1.7 1-3.5 .7 22.7-2 0z" fill="url(#v13_6)"/><path d="M87-23.9l1-3.5 1 2.6 1 .9 .7 19.2-3 0z" fill="url(#v14_6)"/><path d="M89-24.8l1 .9 1-2.3 1 1.9 1 .7 .7 18.3-4 .6z" fill="url(#v13_6)"/><path d="M92-24.3l1 .7 1-3.2 .7 20.4-2 1.1z" fill="url(#v13_7)"/><path d="M93-23.6l1-3.2 1 3.8 .7 16.6-2 1.1z" fill="url(#v13_6)"/></g>
<g transform="matrix(1.7902 -.1678 0 1 394.24 407.2)"><path d="M0-31.6l3-2.3 .7 2.8-3 .7z" fill="#1affe5"/><path d="M2-33.1l6-1.3 6-1.3 2-1 .7 5.3-2 0-6-2-6 2.3z" fill="#80ff80"/><path d="M15-37.6l4 3.8 .7 3.4-4-1z" fill="#e5ff1a"/><path d="M18-34.7l5 3.9 .7 4.2-5-4z" fill="#80ff80"/><path d="M22-32.8l6 7.3 2 1.6 .7 .9-2-1.3-6-5.2z" fill="#1affe5"/><path d="M29-24.7l6 3.2 6 2.7 2 0 .7 2.9-2-.7-6-3.1-6-3.3z" fill="#00b2ff"/><path d="M42-18.8l6 2.9 6 0 6-1.1 6 .6 6 0 6 .9 6 1.4 6 1.6 5 .3 .7 .7-5 0-6-.7-6-.3-6-.3-6-.3-6-.3-6-.4-6-.9-6-1.5z" fill="#004dff"/></g>
<g transform="matrix(1.7903 -.1675 0 1 395.5 411.36)"><path d="M0-36.4l1-1.1 1-1.6 .7 20.9-2 0z" fill="url(#v21_13)"/><path d="M1-37.5l1-1.6 1-2.1 .7 23-2 0z" fill="url(#v21_15)"/><path d="M2-39.1l1-2.1 1 .3 .7 19.7-2 3z" fill="url(#v22_15)"/><path d="M3-41.2l1 .3 1 1.5 1 0 1-1.1 1 1.8 .7 17.7-5 2.8z" fill="url(#v22_16)"/><path d="M7-40.5l1 1.8 1-4.4 .7 22.1-2 0z" fill="url(#v22_15)"/><path d="M8-38.7l1-4.4 1 .3 1 2.2 1-3 1 3.4 .7 17.6-5 1.6z" fill="url(#v23_15)"/><path d="M12-43.6l1 3.4 1-13.9 .7 31.5-2 0z" fill="url(#v23_16)"/><path d="M13-40.2l1-13.9 1-4.3 .7 35.8-2 0z" fill="url(#v28_16)"/><path d="M14-54.1l1-4.3 1 3.8 1-7.2 1 14.6 .7 27.4-4-2.8z" fill="url(#v32_16)"/><path d="M17-61.8l1 14.6 1 4.4 .7 23.7-2-1.4z" fill="url(#v32_15)"/><path d="M18-47.2l1 4.4 1 6.1 .7 19.4-2-2.5z" fill="url(#v26_14)"/><path d="M19-42.8l1 6.1 1-1.1 .7 21.3-2-2.6z" fill="url(#v23_14)"/><path d="M20-36.7l1-1.1 1-.1 .7 21.4-2-.8z" fill="url(#v21_14)"/><path d="M21-37.8l1-.1 1 .9 .7 21.5-2-1z" fill="url(#v20_14)"/><path d="M22-37.9l1 .9 1 1.1 .7 20.4-2-1z" fill="url(#v20_13)"/><path d="M23-37l1 1.1 1 .2 .7 22.4-2-2.2z" fill="url(#v20_12)"/><path d="M24-35.9l1 .2 1 .8 .7 21.6-2-2.2z" fill="url(#v19_12)"/><path d="M25-35.7l1 .8 1 .1 1-.5 .7 26.1-3-4.1z" fill="url(#v19_11)"/><path d="M27-34.8l1-.5 1 3.4 1 .4 .7 22.3-3-4z" fill="url(#v18_10)"/><path d="M29-31.9l1 .4 1 1.7 .7 20.6-2 0z" fill="url(#v17_10)"/><path d="M30-31.5l1 1.7 1-.4 .7 21-2 0z" fill="url(#v17_9)"/><path d="M31-29.8l1-.4 1 .6 1-.1 .7 21.5-3-1z" fill="url(#v16_9)"/><path d="M33-29.6l1-.1 1 1.4 1-2.7 1 2.4 .7 22.4-4-2.7z" fill="url(#v16_8)"/><path d="M36-31l1 2.4 1 .8 .7 21.6-2 0z" fill="url(#v16_7)"/><path d="M37-28.6l1 .8 1-.2 .7 22.7-2-.9z" fill="url(#v15_7)"/><path d="M38-27.8l1-.2 1 1.8 1-2 .7 23.5-3-1.5z" fill="url(#v15_6)"/><path d="M40-26.2l1-2 1 3.8 1 .3 .7 20.9-3-1.5z" fill="url(#v14_6)"/><path d="M42-24.4l1 .3 1-2.4 .7 23.3-2-1.5z" fill="url(#v13_6)"/><path d="M43-24.1l1-2.4 1 1.2 .7 22.1-2 0z" fill="url(#v14_6)"/><path d="M44-26.5l1 1.2 1 .9 .7 21.2-2 0z" fill="url(#v14_5)"/><path d="M45-25.3l1 .9 1 .8 1 0 1-3.5 .7 24.8-4-.9z" fill="url(#v13_5)"/><path d="M48-23.6l1-3.5 1 1.9 1 4.5 .7 18.4-3-.5z" fill="url(#v14_5)"/><path d="M50-25.2l1 4.5 1-4.1 .7 22.5-2 0z" fill="url(#v13_5)"/><path d="M51-20.7l1-4.1 1-.3 1 .1 1 2.1 .7 22.7-4-2.1z" fill="url(#v13_4)"/><path d="M54-25l1 2.1 1-1.3 1-2.6 1 3 .7 23.6-4-2.1z" fill="url(#v13_5)"/><path d="M57-26.8l1 3 1 1.4 1-.8 .7 23-3 0z" fill="url(#v13_4)"/><path d="M59-22.4l1-.8 1-1.2 .7 24.9-2-.7z" fill="url(#v12_4)"/><path d="M60-23.2l1-1.2 1 2.6 1-3.4 1 3.3 .7 22.7-4-1z" fill="url(#v13_4)"/><path d="M63-25.2l1 3.3 1-1.2 .7 23.9-2 0z" fill="url(#v13_3)"/><path d="M64-21.9l1-1.2 1 .8 1-.8 1 1.6 .7 22.3-4 0z" fill="url(#v12_3)"/><path d="M67-23.1l1 1.6 1-.8 1-.5 1 1.6 .7 20.7-4 1.3z" fill="url(#v12_4)"/><path d="M70-22.8l1 1.6 1-.1 1-3.3 1 1.2 1 .8 1-.2 1 .8 1-1.3 1 .4 1 1.5 1-.7 1-.2 1-.2 1 2.2 1-2.8 1 1.2 .7 26.7-6-3.4-6-.5-4-1.4z" fill="url(#v12_3)"/><path d="M85-23.1l1 1.2 1-1 1 1.9 .7 25.8-3 0z" fill="url(#v12_2)"/><path d="M87-22.9l1 1.9 1 2.1 .7 23.7-2 0z" fill="url(#v12_4)"/><path d="M88-21l1 2.1 1-.9 1 3 .7 21.3-3 .3z" fill="url(#v11_2)"/><path d="M90-19.8l1 3 1-3.9 1-1.7 .7 26.9-3-3.4z" fill="url(#v11_3)"/><path d="M92-20.7l1-1.7 1-1.6 .7 28.5-2 0z" fill="url(#v12_3)"/><path d="M93-22.4l1-1.6 1 2.6 .7 25.9-2 0z" fill="url(#v12_1)"/></g>
<g transform="matrix(1.7904 -.1672 0 1 396.76 415.52)"><path d="M0-25.4l2-2.2 .7 3.3-2 0z" fill="#00b2ff"/><path d="M1-26.4l6-2.6 6-.1 6 2.3 3 2.4 .7 5.8-3-4.7-6-2.4-6-1.2-6 2.6z" fill="#1affe5"/><path d="M21-25.1l6 4.2 6 4.7 .7 2-6-4.1-6-.3z" fill="#00b2ff"/><path d="M32-16.9l6 3.6 6 2.7 4 1.1 .7 1-4 0-6-4.1-6-2.5z" fill="#004dff"/><path d="M47-9.7l6 1.1 6 .7 6 .6 6 .2 6-.2 6 0 6-1.6 6 0 .7 5.1-6-.6-6-.7-6-.5-6-.6-6-.4-6-.6-6 0-6-1.3z" fill="#0000e6"/></g>
<g transform="matrix(1.7905 -.1669 0 1 398.03 419.68)"><path d="M0-29.6l1-2.5 1-.9 .7 19.5-1-1.2-1 5.4z" fill="url(#v18_9)"/><path d="M1-32.1l1-.9 1-1.8 .7 19.9-1 1.4-1-1.2z" fill="url(#v18_10)"/><path d="M2-33l1-1.8 1 2.4 .7 21-1-3.5-1 1.4z" fill="url(#v19_10)"/><path d="M3-34.8l1 2.4 1-3.1 1 0 .7 20.1-1 1.7-1 2.3-1-3.5z" fill="url(#v19_9)"/><path d="M5-35.5l1 0 1 1.6 1-3.3 .7 22.5-1-2.3-1 1.6-1 1.7z" fill="url(#v19_10)"/><path d="M7-33.9l1-3.3 1 3.5 1-.9 .7 20.7-1-3.7-1 2.9-1-2.3z" fill="url(#v20_10)"/><path d="M9-33.7l1-.9 1-.9 1 .5 .7 23.2-1-3.1-1 1-1-3.7z" fill="url(#v19_10)"/><path d="M11-35.5l1 .5 1 2.3 1-1.5 .7 21.2-1-3-1 4.2-1-3.1z" fill="url(#v19_9)"/><path d="M13-32.7l1-1.5 1 3.2 1-2.2 .7 22.3-1-7.4-1 5.3-1-3z" fill="url(#v18_10)"/><path d="M15-31l1-2.2 1 1.9 .7 25.3-1-4.9-1-7.4z" fill="url(#v18_9)"/><path d="M16-33.2l1 1.9 1-4.1 1 .7 .7 18.5-1 5.9-1 4.3-1-4.9z" fill="url(#v18_8)"/><path d="M18-35.4l1 .7 1 2.2 .7 19-1-2.7-1 5.9z" fill="url(#v18_9)"/><path d="M19-34.7l1 2.2 1 2.4 .7 15.6-1 1-1-2.7z" fill="url(#v18_10)"/><path d="M20-32.5l1 2.4 1-.1 1-4 1 4.7 .7 20.5-1-7.3-1 2.5-1-.7-1 1z" fill="url(#v17_10)"/><path d="M23-34.2l1 4.7 1 1 .7 15.9-1 3.6-1-7.3z" fill="url(#v17_9)"/><path d="M24-29.5l1 1 1-1.8 .7 17-1 .7-1 3.6z" fill="url(#v16_9)"/><path d="M25-28.5l1-1.8 1 6.4 1-.6 .7 13.1-1-3.5-1 1.6-1 .7z" fill="url(#v16_10)"/><path d="M27-23.9l1-.6 1-3 .7 15.1-1 1-1-3.5z" fill="url(#v14_9)"/><path d="M28-24.5l1-3 1 3.7 1-2 .7 15.2-1-2.1-1 .3-1 1z" fill="url(#v15_9)"/><path d="M30-23.8l1-2 1-.2 .7 17.3-1-1.9-1-2.1z" fill="url(#v14_8)"/><path d="M31-25.8l1-.2 1 2.5 1-2 .7 17.7-1-1.9-1 1-1-1.9z" fill="url(#v14_7)"/><path d="M33-23.5l1-2 1 3.7 .7 16.8-1-2.8-1-1.9z" fill="url(#v13_7)"/><path d="M34-25.5l1 3.7 1 1.4 .7 14.1-1 1.3-1-2.8z" fill="url(#v13_6)"/><path d="M35-21.8l1 1.4 1-1.1 .7 19.5-1-4.3-1 1.3z" fill="url(#v12_6)"/><path d="M36-20.4l1-1.1 1 .2 1 1.8 .7 14.8-1-3.8-1 6.5-1-4.3z" fill="url(#v12_5)"/><path d="M38-21.3l1 1.8 1-2.4 .7 20.7-1-3.5-1-3.8z" fill="url(#v11_5)"/><path d="M39-19.5l1-2.4 1 3.8 1-1.9 .7 11.9-1 2.3-1 4.6-1-3.5z" fill="url(#v11_4)"/><path d="M41-18.1l1-1.9 1-1.8 .7 19.7-1-6-1 2.3z" fill="url(#v11_5)"/><path d="M42-20l1-1.8 1 1.2 1 0 .7 20.4-1-5.1-1 3.2-1-6z" fill="url(#v11_4)"/><path d="M44-20.6l1 0 1 .3 .7 18-1 2.1-1-5.1z" fill="url(#v11_3)"/><path d="M45-20.6l1 .3 1 1.3 .7 16.2-1 .5-1 2.1z" fill="url(#v10_3)"/><path d="M46-20.3l1 1.3 1-1.4 1 2.3 1 4.3 1-4.1 .7 14-1 .8-1-.7-1 1.4-1-.4-1 .5z" fill="url(#v10_4)"/><path d="M50-13.8l1-4.1 1 3.9 1-1.1 1-2 .7 17.1-1-4-1 .7-1-.6-1 .8z" fill="url(#v9_4)"/><path d="M53-15.1l1-2 1-1.4 1 3.5 .7 16-1-1.4-1 .4-1-4z" fill="url(#v9_3)"/><path d="M55-18.5l1 3.5 1 1.3 1-1.4 .7 11.7-1 1.3-1 3.1-1-1.4z" fill="url(#v9_2)"/><path d="M57-13.7l1-1.4 1 2.6 1-4.2 .7 15-1 0-1-1.7-1 1.3z" fill="url(#v8_3)"/><path d="M59-12.5l1-4.2 1 2.5 .7 17.5-1-5-1 0z" fill="url(#v9_3)"/><path d="M60-16.7l1 2.5 1-2.5 1-1.2 1 1.3 1 .5 1-1.7 1 1.3 1-.1 1 .2 1 4.5 .7 9.7-1 3.6-1-1.9-1 1.1-1-1.9-1 1.5-1-1.7-1 2.6-1-2.6-1 4.8-1-5z" fill="url(#v9_2)"/><path d="M69-16.4l1 4.5 1-2.6 1-3.1 .7 19.9-1 .1-1-4.6-1 3.6z" fill="url(#v8_2)"/><path d="M71-14.5l1-3.1 1 3.6 1-2.2 .7 16-1 3.2-1-.7-1 .1z" fill="url(#v9_1)"/><path d="M73-14l1-2.2 1 1.9 .7 16-1-1.9-1 3.2z" fill="url(#v8_1)"/><path d="M74-16.2l1 1.9 1-.8 1 2.4 1-.7 .7 14.1-1-1.4-1 2-1 .4-1-1.9z" fill="url(#v8_2)"/><path d="M77-12.7l1-.7 1-1.4 .7 13.8-1 1.7-1-1.4z" fill="url(#v7_2)"/><path d="M78-13.4l1-1.4 1-.2 1 2.3 1 .6 .7 13.7-1-3.1-1 3.1-1-2.6-1 1.7z" fill="url(#v8_2)"/><path d="M81-12.7l1 .6 1-3.3 .7 16.8-1 .2-1-3.1z" fill="url(#v7_2)"/><path d="M82-12.1l1-3.3 1 .2 1 0 .7 18.2-1-5.8-1 4.2-1 .2z" fill="url(#v8_2)"/><path d="M84-15.2l1 0 1-2.7 1 2.3 1 .6 1 .1 1 1.1 .7 12.7-1 4.5-1-2-1 2.4-1-3.2-1 2.4-1-5.8z" fill="url(#v8_1)"/><path d="M89-14.9l1 1.1 1 .1 .7 14.7-1-2.1-1 4.5z" fill="url(#v7_1)"/><path d="M90-13.8l1 .1 1-.7 .7 17-1-1.6-1-2.1z" fill="url(#v7_2)"/><path d="M91-13.7l1-.7 1-.4 1-1.2 .7 18.9-1-1-1 .7-1-1.6z" fill="url(#v7_1)"/><path d="M93-14.8l1-1.2 1 2.2 .7 12-1 4.7-1-1z" fill="url(#v8_1)"/></g>
<g fill="none"><path d="M569.4 408L569.4 315.6" stroke="#3a3a3a" stroke-width="0.7"/><path d="M373.5 345L397.5 424" stroke="#3a3a3a" stroke-width="0.7"/><path d="M397.5 424L569.4 408" stroke="#3a3a3a" stroke-width="0.7"/><path d="M397.5 424L398.3 426.5" stroke="#3a3a3a" stroke-width="0.6"/><path d="M414.7 422.4L415.4 424.9" stroke="#3a3a3a" stroke-width="0.6"/><path d="M431.9 420.8L432.6 423.3" stroke="#3a3a3a" stroke-width="0.6"/><path d="M449.1 419.2L449.8 421.7" stroke="#3a3a3a" stroke-width="0.6"/><path d="M466.3 417.6L467 420.1" stroke="#3a3a3a" stroke-width="0.6"/><path d="M483.4 416L484.2 418.5" stroke="#3a3a3a" stroke-width="0.6"/><path d="M500.6 414.4L501.4 416.9" stroke="#3a3a3a" stroke-width="0.6"/><path d="M517.8 412.8L518.6 415.3" stroke="#3a3a3a" stroke-width="0.6"/><path d="M535 411.2L535.8 413.7" stroke="#3a3a3a" stroke-width="0.6"/><path d="M552.2 409.6L553 412.1" stroke="#3a3a3a" stroke-width="0.6"/><path d="M569.4 408L570.2 410.5" stroke="#3a3a3a" stroke-width="0.6"/><path d="M397.5 424L394.9 424.2" stroke="#3a3a3a" stroke-width="0.6"/><path d="M391.5 404.2L388.9 404.5" stroke="#3a3a3a" stroke-width="0.6"/><path d="M385.5 384.5L382.9 384.7" stroke="#3a3a3a" stroke-width="0.6"/><path d="M379.5 364.8L376.9 365" stroke="#3a3a3a" stroke-width="0.6"/><path d="M373.5 345L370.9 345.2" stroke="#3a3a3a" stroke-width="0.6"/><path d="M373.5 345L372.3 342.8" stroke="#3a3a3a" stroke-width="0.6"/><path d="M373.5 330.6L372.3 328.4" stroke="#3a3a3a" stroke-width="0.6"/><path d="M373.5 316.2L372.3 314" stroke="#3a3a3a" stroke-width="0.6"/><path d="M373.5 301.9L372.3 299.7" stroke="#3a3a3a" stroke-width="0.6"/><path d="M373.5 287.5L372.3 285.3" stroke="#3a3a3a" stroke-width="0.6"/><path d="M373.5 273.1L372.3 270.9" stroke="#3a3a3a" stroke-width="0.6"/><path d="M373.5 258.7L372.3 256.5" stroke="#3a3a3a" stroke-width="0.6"/></g>
<text x="399.5" y="439.1" font-size="6.8" text-anchor="middle">0</text><text x="416.8" y="437.4" font-size="6.8" text-anchor="middle">5</text><text x="434" y="435.6" font-size="6.8" text-anchor="middle">10</text><text x="451.3" y="433.9" font-size="6.8" text-anchor="middle">15</text><text x="468.5" y="432.1" font-size="6.8" text-anchor="middle">20</text><text x="485.8" y="430.3" font-size="6.8" text-anchor="middle">25</text><text x="503.1" y="428.6" font-size="6.8" text-anchor="middle">30</text><text x="520.3" y="426.8" font-size="6.8" text-anchor="middle">35</text><text x="537.6" y="425.1" font-size="6.8" text-anchor="middle">40</text><text x="554.8" y="423.3" font-size="6.8" text-anchor="middle">45</text><text x="572.1" y="421.5" font-size="6.8" text-anchor="middle">50</text><text x="385.9" y="432.5" font-size="6.8" text-anchor="middle">-50</text><text x="380" y="412.9" font-size="6.8" text-anchor="middle">-25</text><text x="374.2" y="393.3" font-size="6.8" text-anchor="middle">0</text><text x="368.4" y="373.7" font-size="6.8" text-anchor="middle">25</text><text x="362.5" y="354" font-size="6.8" text-anchor="middle">50</text><text x="371.6" y="342.7" font-size="6.8" text-anchor="end">5</text><text x="371.2" y="328.3" font-size="6.8" text-anchor="end">10</text><text x="371.2" y="313.8" font-size="6.8" text-anchor="end">15</text><text x="371.2" y="299.4" font-size="6.8" text-anchor="end">20</text><text x="371.2" y="284.9" font-size="6.8" text-anchor="end">25</text><text x="371.2" y="270.5" font-size="6.8" text-anchor="end">30</text><text x="371.2" y="256" font-size="6.8" text-anchor="end">35</text>
<rect x="589.5" y="238.4" width="15.1" height="188.6" fill="url(#jet)" stroke="#333" stroke-width=".5"/>
<g fill="none"><path d="M603 389.3L604.6 389.3" stroke="#222" stroke-width="0.5"/><path d="M603 351.6L604.6 351.6" stroke="#222" stroke-width="0.5"/><path d="M603 313.8L604.6 313.8" stroke="#222" stroke-width="0.5"/><path d="M603 276.1L604.6 276.1" stroke="#222" stroke-width="0.5"/></g><text x="607.4" y="429.4" font-size="6.6">5</text><text x="607.4" y="391.7" font-size="6.6">10</text><text x="607.4" y="353.9" font-size="6.6">15</text><text x="607.4" y="316.2" font-size="6.6">20</text><text x="607.4" y="278.5" font-size="6.6">25</text><text x="607.4" y="240.8" font-size="6.6">30</text>
<text x="316.7" y="233" class="tt">31<tspan font-size="6" dy="-2.9" dx=".2">°</tspan><tspan dy="2.9" dx="-.3" textLength="5.9" lengthAdjust="spacingAndGlyphs">C</tspan></text>
<text x="351.5" y="304.9" font-size="7.9" text-anchor="middle" transform="rotate(92 351.5 302.1)">Amplitude (dB)</text>
<text x="358.9" y="397.7" font-size="7.7" text-anchor="middle" transform="rotate(72.7 358.9 394.9)">Distance (um)</text>
<text x="485.6" y="446" font-size="7.9" text-anchor="middle" transform="rotate(-5.2 485.6 443.2)">Frequency (Hz)</text>
</g>
<g>
<path d="M56.2 582.5l187.7-17.2 0-92-187.7 17.2z" fill="#fff"/>
<path d="M243.9 565.3l15.4 52.8 0-92.6-15.4-52.2z" fill="#f3f3f3"/>
<path d="M56.2 582.5l16.3 57 186.8-21.4-15.4-52.8z" fill="#fff"/>
<g fill="none"><path d="M65.6 581.6L65.6 489.6" stroke="#dedede" stroke-width="0.5" stroke-dasharray=".6 .8"/><path d="M75 580.8L75 488.8" stroke="#d8d8d8" stroke-width="0.5"/><path d="M84.4 579.9L84.4 487.9" stroke="#dedede" stroke-width="0.5" stroke-dasharray=".6 .8"/><path d="M93.8 579.1L93.8 487.1" stroke="#d8d8d8" stroke-width="0.5"/><path d="M103.2 578.2L103.2 486.2" stroke="#dedede" stroke-width="0.5" stroke-dasharray=".6 .8"/><path d="M112.5 577.3L112.5 485.3" stroke="#d8d8d8" stroke-width="0.5"/><path d="M121.9 576.5L121.9 484.5" stroke="#dedede" stroke-width="0.5" stroke-dasharray=".6 .8"/><path d="M131.3 575.6L131.3 483.6" stroke="#d8d8d8" stroke-width="0.5"/><path d="M140.7 574.8L140.7 482.8" stroke="#dedede" stroke-width="0.5" stroke-dasharray=".6 .8"/><path d="M150.1 573.9L150.1 481.9" stroke="#d8d8d8" stroke-width="0.5"/><path d="M159.5 573L159.5 481" stroke="#dedede" stroke-width="0.5" stroke-dasharray=".6 .8"/><path d="M168.8 572.2L168.8 480.2" stroke="#d8d8d8" stroke-width="0.5"/><path d="M178.2 571.3L178.2 479.3" stroke="#dedede" stroke-width="0.5" stroke-dasharray=".6 .8"/><path d="M187.6 570.5L187.6 478.5" stroke="#d8d8d8" stroke-width="0.5"/><path d="M197 569.6L197 477.6" stroke="#dedede" stroke-width="0.5" stroke-dasharray=".6 .8"/><path d="M206.4 568.7L206.4 476.7" stroke="#d8d8d8" stroke-width="0.5"/><path d="M215.8 567.9L215.8 475.9" stroke="#dedede" stroke-width="0.5" stroke-dasharray=".6 .8"/><path d="M225.1 567L225.1 475" stroke="#d8d8d8" stroke-width="0.5"/><path d="M234.5 566.2L234.5 474.2" stroke="#dedede" stroke-width="0.5" stroke-dasharray=".6 .8"/><path d="M56.2 574.8L243.9 557.6" stroke="#dedede" stroke-width="0.5" stroke-dasharray=".6 .8"/><path d="M56.2 567.2L243.9 550" stroke="#d8d8d8" stroke-width="0.5"/><path d="M56.2 559.5L243.9 542.3" stroke="#dedede" stroke-width="0.5" stroke-dasharray=".6 .8"/><path d="M56.2 551.8L243.9 534.6" stroke="#d8d8d8" stroke-width="0.5"/><path d="M56.2 544.2L243.9 527" stroke="#dedede" stroke-width="0.5" stroke-dasharray=".6 .8"/><path d="M56.2 536.5L243.9 519.3" stroke="#d8d8d8" stroke-width="0.5"/><path d="M56.2 528.8L243.9 511.6" stroke="#dedede" stroke-width="0.5" stroke-dasharray=".6 .8"/><path d="M56.2 521.2L243.9 504" stroke="#d8d8d8" stroke-width="0.5"/><path d="M56.2 513.5L243.9 496.3" stroke="#dedede" stroke-width="0.5" stroke-dasharray=".6 .8"/><path d="M56.2 505.8L243.9 488.6" stroke="#d8d8d8" stroke-width="0.5"/><path d="M56.2 498.2L243.9 481" stroke="#dedede" stroke-width="0.5" stroke-dasharray=".6 .8"/><path d="M243.9 561.5L259.3 614.2" stroke="#cdcdcd" stroke-width="0.5" stroke-dasharray=".6 .8"/><path d="M243.9 557.6L259.3 610.4" stroke="#cdcdcd" stroke-width="0.5" stroke-dasharray=".6 .8"/><path d="M243.9 553.8L259.3 606.5" stroke="#cdcdcd" stroke-width="0.5" stroke-dasharray=".6 .8"/><path d="M243.9 550L259.3 602.7" stroke="#cfcfcf" stroke-width="0.5"/><path d="M243.9 546.1L259.3 598.8" stroke="#cdcdcd" stroke-width="0.5" stroke-dasharray=".6 .8"/><path d="M243.9 542.3L259.3 595" stroke="#cdcdcd" stroke-width="0.5" stroke-dasharray=".6 .8"/><path d="M243.9 538.5L259.3 591.1" stroke="#cdcdcd" stroke-width="0.5" stroke-dasharray=".6 .8"/><path d="M243.9 534.6L259.3 587.2" stroke="#cfcfcf" stroke-width="0.5"/><path d="M243.9 530.8L259.3 583.4" stroke="#cdcdcd" stroke-width="0.5" stroke-dasharray=".6 .8"/><path d="M243.9 527L259.3 579.5" stroke="#cdcdcd" stroke-width="0.5" stroke-dasharray=".6 .8"/><path d="M243.9 523.1L259.3 575.7" stroke="#cdcdcd" stroke-width="0.5" stroke-dasharray=".6 .8"/><path d="M243.9 519.3L259.3 571.8" stroke="#cfcfcf" stroke-width="0.5"/><path d="M243.9 515.5L259.3 567.9" stroke="#cdcdcd" stroke-width="0.5" stroke-dasharray=".6 .8"/><path d="M243.9 511.6L259.3 564.1" stroke="#cdcdcd" stroke-width="0.5" stroke-dasharray=".6 .8"/><path d="M243.9 507.8L259.3 560.2" stroke="#cdcdcd" stroke-width="0.5" stroke-dasharray=".6 .8"/><path d="M243.9 504L259.3 556.4" stroke="#cfcfcf" stroke-width="0.5"/><path d="M243.9 500.1L259.3 552.5" stroke="#cdcdcd" stroke-width="0.5" stroke-dasharray=".6 .8"/><path d="M243.9 496.3L259.3 548.7" stroke="#cdcdcd" stroke-width="0.5" stroke-dasharray=".6 .8"/><path d="M243.9 492.5L259.3 544.8" stroke="#cdcdcd" stroke-width="0.5" stroke-dasharray=".6 .8"/><path d="M243.9 488.6L259.3 540.9" stroke="#cfcfcf" stroke-width="0.5"/><path d="M243.9 484.8L259.3 537.1" stroke="#cdcdcd" stroke-width="0.5" stroke-dasharray=".6 .8"/><path d="M243.9 481L259.3 533.2" stroke="#cdcdcd" stroke-width="0.5" stroke-dasharray=".6 .8"/><path d="M243.9 477.1L259.3 529.4" stroke="#cdcdcd" stroke-width="0.5" stroke-dasharray=".6 .8"/><path d="M258.5 615.5L258.5 522.9" stroke="#d2d2d2" stroke-width="0.5" stroke-dasharray=".6 .8"/><path d="M257.8 612.8L257.8 520.3" stroke="#d2d2d2" stroke-width="0.5" stroke-dasharray=".6 .8"/><path d="M257 610.2L257 517.7" stroke="#d2d2d2" stroke-width="0.5" stroke-dasharray=".6 .8"/><path d="M256.2 607.5L256.2 515.1" stroke="#d2d2d2" stroke-width="0.5" stroke-dasharray=".6 .8"/><path d="M255.5 604.9L255.5 512.5" stroke="#cfcfcf" stroke-width="0.5"/><path d="M254.7 602.3L254.7 509.8" stroke="#d2d2d2" stroke-width="0.5" stroke-dasharray=".6 .8"/><path d="M253.9 599.6L253.9 507.2" stroke="#d2d2d2" stroke-width="0.5" stroke-dasharray=".6 .8"/><path d="M253.1 597L253.1 504.6" stroke="#d2d2d2" stroke-width="0.5" stroke-dasharray=".6 .8"/><path d="M252.4 594.3L252.4 502" stroke="#d2d2d2" stroke-width="0.5" stroke-dasharray=".6 .8"/><path d="M251.6 591.7L251.6 499.4" stroke="#cfcfcf" stroke-width="0.5"/><path d="M250.8 589.1L250.8 496.8" stroke="#d2d2d2" stroke-width="0.5" stroke-dasharray=".6 .8"/><path d="M250.1 586.4L250.1 494.2" stroke="#d2d2d2" stroke-width="0.5" stroke-dasharray=".6 .8"/><path d="M249.3 583.8L249.3 491.6" stroke="#d2d2d2" stroke-width="0.5" stroke-dasharray=".6 .8"/><path d="M248.5 581.1L248.5 489" stroke="#d2d2d2" stroke-width="0.5" stroke-dasharray=".6 .8"/><path d="M247.8 578.5L247.8 486.4" stroke="#cfcfcf" stroke-width="0.5"/><path d="M247 575.9L247 483.7" stroke="#d2d2d2" stroke-width="0.5" stroke-dasharray=".6 .8"/><path d="M246.2 573.2L246.2 481.1" stroke="#d2d2d2" stroke-width="0.5" stroke-dasharray=".6 .8"/><path d="M245.4 570.6L245.4 478.5" stroke="#d2d2d2" stroke-width="0.5" stroke-dasharray=".6 .8"/><path d="M244.7 567.9L244.7 475.9" stroke="#d2d2d2" stroke-width="0.5" stroke-dasharray=".6 .8"/><path d="M65.6 581.6L81.8 638.4" stroke="#dedede" stroke-width="0.5" stroke-dasharray=".6 .8"/><path d="M75 580.8L91.2 637.4" stroke="#d8d8d8" stroke-width="0.5"/><path d="M84.4 579.9L100.5 636.3" stroke="#dedede" stroke-width="0.5" stroke-dasharray=".6 .8"/><path d="M93.8 579.1L109.9 635.2" stroke="#d8d8d8" stroke-width="0.5"/><path d="M103.2 578.2L119.2 634.1" stroke="#dedede" stroke-width="0.5" stroke-dasharray=".6 .8"/><path d="M112.5 577.3L128.5 633.1" stroke="#d8d8d8" stroke-width="0.5"/><path d="M121.9 576.5L137.9 632" stroke="#dedede" stroke-width="0.5" stroke-dasharray=".6 .8"/><path d="M131.3 575.6L147.2 630.9" stroke="#d8d8d8" stroke-width="0.5"/><path d="M140.7 574.8L156.6 629.9" stroke="#dedede" stroke-width="0.5" stroke-dasharray=".6 .8"/><path d="M150.1 573.9L165.9 628.8" stroke="#d8d8d8" stroke-width="0.5"/><path d="M159.5 573L175.2 627.7" stroke="#dedede" stroke-width="0.5" stroke-dasharray=".6 .8"/><path d="M168.8 572.2L184.6 626.7" stroke="#d8d8d8" stroke-width="0.5"/><path d="M178.2 571.3L193.9 625.6" stroke="#dedede" stroke-width="0.5" stroke-dasharray=".6 .8"/><path d="M187.6 570.5L203.3 624.5" stroke="#d8d8d8" stroke-width="0.5"/><path d="M197 569.6L212.6 623.5" stroke="#dedede" stroke-width="0.5" stroke-dasharray=".6 .8"/><path d="M206.4 568.7L221.9 622.4" stroke="#d8d8d8" stroke-width="0.5"/><path d="M215.8 567.9L231.3 621.3" stroke="#dedede" stroke-width="0.5" stroke-dasharray=".6 .8"/><path d="M225.1 567L240.6 620.2" stroke="#d8d8d8" stroke-width="0.5"/><path d="M234.5 566.2L250 619.2" stroke="#dedede" stroke-width="0.5" stroke-dasharray=".6 .8"/><path d="M70.5 632.4L257.4 611.5" stroke="#dedede" stroke-width="0.5" stroke-dasharray=".6 .8"/><path d="M68.4 625.2L255.5 604.9" stroke="#d8d8d8" stroke-width="0.5"/><path d="M66.4 618.1L253.5 598.3" stroke="#dedede" stroke-width="0.5" stroke-dasharray=".6 .8"/><path d="M64.4 611L251.6 591.7" stroke="#d8d8d8" stroke-width="0.5"/><path d="M62.3 603.9L249.7 585.1" stroke="#dedede" stroke-width="0.5" stroke-dasharray=".6 .8"/><path d="M60.3 596.8L247.8 578.5" stroke="#d8d8d8" stroke-width="0.5"/><path d="M58.3 589.6L245.8 571.9" stroke="#dedede" stroke-width="0.5" stroke-dasharray=".6 .8"/></g>
<g fill="none"><path d="M56.2 490.5L243.9 473.3" stroke="#3a3a3a" stroke-width="0.7"/><path d="M243.9 473.3L259.3 525.5" stroke="#3a3a3a" stroke-width="0.7"/><path d="M243.9 565.3L243.9 473.3" stroke="#6a6a6a" stroke-width="1.0"/><path d="M56.2 582.5L56.2 490.5" stroke="#3a3a3a" stroke-width="0.7"/></g>
<path d="M56.2 582.5l.7 2.3 .5 1.7 .5 1.7 .6 2.3 1 3.4 1.1 4 1 3.4 1 3.4 .6 2.3 1.2 4 1.5 5.4 1.6 5.4 .9 3.4 1 3.5 1 3.4 1 3.4 1.1 4 1.9-19.5-1.1-22.8-1 3.8-.9-15.3-1 4.8-1-9.8-1.5 7.2-1.6-14.5-1.1 6.5-.7-5.3-.9 6.7-1-12.5-1.1 5-1-6-.7 3.5-.5-.5-.4-2.1-.7 4.2z" fill="url(#w4)"/>
<g transform="matrix(1.9547 -.1792 0 1 58.2 582.32)"><path d="M0-9.4l1-7.9 1-5.7 .3 10.7-2 0z" fill="url(#v9_8)"/><path d="M1-17.3l1-5.7 1 6.3 1-3.7 1-3.9 .3 11.9-4 .1z" fill="url(#v11_9)"/><path d="M4-20.4l1-3.9 1 6.8 1-7.4 .3 13.9-3-1.4z" fill="url(#v12_9)"/><path d="M6-17.5l1-7.4 1-3 .3 16.9-2 0z" fill="url(#v12_10)"/><path d="M7-24.9l1-3 1-1.2 .3 18.1-2 0z" fill="url(#v13_10)"/><path d="M8-27.9l1-1.2 1-11.2 .3 29.3-2 0z" fill="url(#v15_9)"/><path d="M9-29.1l1-11.2 1 13.1 .3 16.2-2 0z" fill="url(#v20_9)"/><path d="M10-40.3l1 13.1 1 6.8 .3 9.4-2 0z" fill="url(#v20_10)"/><path d="M11-27.2l1 6.8 1-2 .3 7.8-2 3.6z" fill="url(#v14_10)"/><path d="M12-20.4l1-2 1 5.7 1-17.1 .3 20.7-3 2.1z" fill="url(#v11_10)"/><path d="M14-16.7l1-17.1 1-9.8 .3 32.9-2-3.9z" fill="url(#v17_10)"/><path d="M15-33.8l1-9.8 1 16.8 1 2 .3 14.4-3-2.7z" fill="url(#v23_10)"/><path d="M17-26.8l1 2 1 4.8 .3 9.6-2 0z" fill="url(#v15_9)"/><path d="M18-24.8l1 4.8 1 4.8 .3 6.5-2-1.7z" fill="url(#v12_8)"/><path d="M19-20l1 4.8 1 .8 .3 5.7-2-1.7z" fill="url(#v10_7)"/><path d="M20-15.2l1 .8 1-2.2 1 8.7 1-4.2 .3 3.6-4-.2z" fill="url(#v8_7)"/><path d="M23-7.9l1-4.2 1-6.1 .3 9.7-2-.2z" fill="#03f"/><path d="M24-12.1l1-6.1 1 1.9 1-1.4 .3 9.6-3-.4z" fill="url(#v9_7)"/><path d="M26-16.3l1-1.4 1 2.9 1-3.7 1 7.3 1-5.8 1 .8 1-.4 1-1.1 1 5.2 1-.9 .3 7.6-10-2.7z" fill="url(#v8_6)"/><path d="M35-12.5l1-.9 1-9.6 .3 17.2-2 0z" fill="url(#v7_6)"/><path d="M36-13.4l1-9.6 1 6.5 .3 10.7-2 0z" fill="url(#v9_6)"/><path d="M37-23l1 6.5 1-1.5 .3 12.2-2 0z" fill="url(#v9_5)"/><path d="M38-16.5l1-1.5 1 8.8 .3 3.4-2 0z" fill="url(#v8_5)"/><path d="M39-18l1 8.8 1-8.6 1 3.8 .3 7.8-3 .4z" fill="url(#v8_6)"/><path d="M41-17.8l1 3.8 1-1 .3 8.8-2 .4z" fill="url(#v8_5)"/><path d="M42-14l1-1 1 7.1 .3 4.6-2-2.9z" fill="url(#v7_5)"/><path d="M43-15l1 7.1 1-5.3 .3 9.9-2-2.9z" fill="url(#v7_6)"/><path d="M44-7.9l1-5.3 1 7 1-8 .3 10.9-3 0z" fill="url(#v7_5)"/><path d="M46-6.2l1-8 1 2.1 1-.5 .3 9.3-3 0z" fill="url(#v7_4)"/><path d="M48-12.1l1-.5 1 3.3 1-3.3 1 1.3 1 4.2 1-5.1 1 1.4 .3 6-7 1.5z" fill="url(#v6_5)"/><path d="M54-12.2l1 1.4 1 6.3 .3-.3-2 0z" fill="#001aff"/><path d="M55-10.8l1 6.3 1-9.3 1 6.4 1-1.5 .3 3.7-4 .4z" fill="url(#v6_5)"/><path d="M58-7.4l1-1.5 1 3.1 1-.4 .3 .8-3 .2z" fill="#00f"/><path d="M60-5.8l1-.4 1-5.6 .3 6.4-2-.1z" fill="url(#v4_5)"/><path d="M61-6.2l1-5.6 1-5.1 .3 11.7-2-.2z" fill="url(#v6_5)"/><path d="M62-11.8l1-5.1 1 8 1-.8 .3 4.8-3-.5z" fill="url(#v7_5)"/><path d="M64-8.9l1-.8 1 .2 .3 5-2-.7z" fill="#00f"/><path d="M65-9.7l1 .2 1-3.5 .3 9.2-2-1.1z" fill="url(#v5_4)"/><path d="M66-9.5l1-3.5 1-3.5 .3 12.7-2-.7z" fill="url(#v6_4)"/><path d="M67-13l1-3.5 1 5.5 1 1.5 .3 6.6-3-.9z" fill="url(#v7_4)"/><path d="M69-11l1 1.5 1-3.1 .3 9.7-2-.9z" fill="url(#v5_4)"/><path d="M70-9.5l1-3.1 1 .9 1 2.6 .3 6.2-3 0z" fill="url(#v6_4)"/><path d="M72-11.7l1 2.6 1-.7 1 2.6 1-2.5 1 4.1 1-7.5 .3 9.7-6 .5z" fill="url(#v5_4)"/><path d="M77-5.6l1-7.5 1-3.2 1 15.8 1-2.7 .3 .7-4-1.2z" fill="url(#v6_4)"/><path d="M80-.5l1-2.7 1-3.1 .3 5.2-2-1.4z" fill="url(#v3_4)"/><path d="M81-3.2l1-3.1 1-1.8 1-3.2 .3 10.2-3-1.4z" fill="url(#v4_3)"/><path d="M83-8.1l1-3.2 1 4.1 .3 6.1-2 0z" fill="url(#v5_4)"/><path d="M84-11.3l1 4.1 1-3.7 1 10.4 1-6.6 .3 6-4 0z" fill="url(#v5_3)"/><path d="M87-.5l1-6.6 1 .2 1 4.5 .3-.2-3 1.5z" fill="#0000e6"/><path d="M89-6.9l1 4.5 1-2.5 .3 2.5-2-.3z" fill="url(#v4_3)"/><path d="M90-2.4l1-2.5 1-4.2 .3 6.7-2-.2z" fill="#00c"/><path d="M91-4.9l1-4.2 1 1 1-1.6 1 8.2 .3-.9-4 0z" fill="url(#v4_3)"/></g>
<g transform="matrix(1.9543 -.1809 0 1 58.85 584.6)"><path d="M0-15.9l1-5.3 1 3.9 .2 4.5-2 0z" fill="url(#v10_9)"/><path d="M1-21.2l1 3.9 1 1.6 .2 2.9-2 0z" fill="#0080ff"/><path d="M2-17.3l1 1.6 1-2.3 .2 1-2 4.2z" fill="url(#v9_11)"/><path d="M3-15.7l1-2.3 1 1.7 .2-.9-2 4.4z" fill="url(#v10_12)"/><path d="M4-18l1 1.7 1-4.3 1 1.1 1-.1 1 5.2 1-4.7 .2 2.5-6-.4z" fill="url(#v10_11)"/><path d="M9-14.4l1-4.7 1 1.2 1-1 .2 5.3-3-3z" fill="#09f"/><path d="M11-17.9l1-1 1-1.2 .2 6.5-2-3z" fill="url(#v10_12)"/><path d="M12-18.9l1-1.2 1 2 1-2.8 .2 7.3-3 0z" fill="url(#v11_14)"/><path d="M14-18.1l1-2.8 1 .8 .2 6.5-2 0z" fill="#0080ff"/><path d="M15-20.9l1 .8 1 0 .2 6.5-2 0z" fill="url(#v11_10)"/><path d="M16-20.1l1 0 1 2.9 .2 4.4-2-.8z" fill="#09f"/><path d="M17-20.1l1 2.9 1 3.2 .2 1.2-2-.8z" fill="#0080ff"/><path d="M18-17.2l1 3.2 1 .3 .2 1.5-2-.6z" fill="#06f"/><path d="M19-14l1 .3 1-3.4 1 2.5 1 2.6 .2 .9-4-1.7z" fill="url(#v8_9)"/><path d="M22-14.6l1 2.6 1-1.3 1 1 .2 1.2-3 0z" fill="url(#v7_9)"/><path d="M24-13.3l1 1 1-1.7 1 2.2 .2 .7-3 0z" fill="url(#v7_8)"/><path d="M26-14l1 2.2 1-2 .2 2.7-2 0z" fill="url(#v7_9)"/><path d="M27-11.8l1-2 1 1.9 1 .5 .2 .7-3-.4z" fill="url(#v7_8)"/><path d="M29-11.9l1 .5 1-2.2 .2 2.9-2-2z" fill="url(#v6_8)"/><path d="M30-11.4l1-2.2 1 .8 1 3.6 .2-1.5-3 0z" fill="url(#v7_8)"/><path d="M32-12.8l1 3.6 1-2.7 1 .4 1-.4 1-1.1 1 3.9 .2-1.2-6-.4z" fill="url(#v6_8)"/><path d="M37-13l1 3.9 1-2.9 1 1.6 1-1.6 1 2.5 1-1.4 1-1.8 .2 3.3-7-.9z" fill="url(#v6_7)"/><path d="M43-10.9l1-1.8 1 2.3 .2 1-2 0z" fill="url(#v6_8)"/><path d="M44-12.7l1 2.3 1-1.1 1 5 1-2 .2 .3-4-1.2z" fill="url(#v6_7)"/><path d="M47-6.5l1-2 1 1.2 1-2.2 1 0 1-2 .2 4.3-5-2z" fill="url(#v5_7)"/><path d="M51-9.5l1-2 1 3.5 1-4.4 .2 7.2-3-2z" fill="url(#v6_7)"/><path d="M53-8l1-4.4 1 0 1 3.9 1-1.9 .2 5.2-4 0z" fill="#001aff"/><path d="M56-8.5l1-1.9 1-1.6 .2 6.8-2 0z" fill="url(#v5_6)"/><path d="M57-10.4l1-1.6 1 3.3 .2 3.5-2 0z" fill="url(#v5_7)"/><path d="M58-12l1 3.3 1-.7 1-1.2 .2 4.8-3 .6z" fill="url(#v5_6)"/><path d="M60-9.4l1-1.2 1 0 1 1.4 1 .6 .2 1.4-4 1.4z" fill="url(#v5_7)"/><path d="M63-9.2l1 .6 1-1.5 1 1.7 1-1.7 1 2 1 .3 .2 2.4-6-1.8z" fill="url(#v5_6)"/><path d="M68-8.1l1 .3 1 .8 1-3.6 .2 5.2-3 0z" fill="url(#v4_5)"/><path d="M70-7l1-3.6 1 3.2 1 1.3 .2-2-3 2.7z" fill="url(#v5_6)"/><path d="M72-7.4l1 1.3 1-2.5 1 1.7 1-2.3 1 1.9 1-.1 1 .1 1-.3 1 1 1 .9 1-1.8 1 .1 1 3.1 1-1.6 .2 .6-6-1.7-6-1.1-2 2.7z" fill="url(#v4_6)"/><path d="M85-4.3l1-1.6 1-1.3 .2 1.9-2 0z" fill="url(#v3_5)"/><path d="M86-5.9l1-1.3 1-.2 1-1.2 1 1.2 .2 3.5-4-1.4z" fill="url(#v4_5)"/><path d="M89-8.6l1 1.2 1 .4 .2 3.1-2 0z" fill="url(#v4_6)"/><path d="M90-7.4l1 .4 1 1 .2 2.1-2 0z" fill="url(#v3_6)"/><path d="M91-7l1 1 1-.3 1 .7 1-.8 .2 2.5-4 0z" fill="url(#v3_5)"/><path d="M94-5.6l1-.8 .2 2.5-1 0z" fill="url(#v3_6)"/></g>
<g transform="matrix(1.9541 -.1822 0 1 59.34 586.31)"><path d="M0-15.5l1-4.2 1-.3 .2 7.6-2 0z" fill="url(#v10_9)"/><path d="M1-19.7l1-.3 1-2 .2 9.6-2 0z" fill="url(#v11_9)"/><path d="M2-20l1-2 1-.7 .2 10.3-2 0z" fill="url(#v12_10)"/><path d="M3-22l1-.7 1 2.7 1-1.1 .2 7.6-3 1.1z" fill="url(#v12_11)"/><path d="M5-20l1-1.1 1 1 1-1.1 .2 7.7-3 0z" fill="#09f"/><path d="M7-20.1l1-1.1 1-2.5 .2 10.2-2 0z" fill="url(#v11_10)"/><path d="M8-21.2l1-2.5 1 4.3 .2 5.9-2 0z" fill="url(#v12_10)"/><path d="M9-23.7l1 4.3 1-4.3 .2 10.2-2 0z" fill="url(#v12_11)"/><path d="M10-19.4l1-4.3 1-3.5 .2 11.5-2 2.2z" fill="url(#v12_10)"/><path d="M11-23.7l1-3.5 1-5 .2 16.5-2 2.2z" fill="url(#v14_10)"/><path d="M12-27.2l1-5 1 2.9 .2 13.6-2 0z" fill="url(#v17_11)"/><path d="M13-32.2l1 2.9 1 13 .2 .6-2 0z" fill="url(#v17_10)"/><path d="M14-29.3l1 13 1-7.6 .2 8.2-2 0z" fill="url(#v14_10)"/><path d="M15-16.3l1-7.6 1 1.9 1 3.7 .2 3.9-3-1.3z" fill="url(#v11_10)"/><path d="M17-22l1 3.7 1 1.9 .2 2.8-2-2z" fill="#09f"/><path d="M18-18.3l1 1.9 1-.2 .2 6.1-2-3.9z" fill="url(#v10_11)"/><path d="M19-16.4l1-.2 1 1.1 .2 5-2-3.1z" fill="url(#v9_10)"/><path d="M20-16.6l1 1.1 1-9 .2 14-2 0z" fill="#06f"/><path d="M21-15.5l1-9 1 9.6 .2 4.4-2 0z" fill="url(#v11_9)"/><path d="M22-24.5l1 9.6 1-3.1 .2 7.5-2 0z" fill="url(#v11_8)"/><path d="M23-14.9l1-3.1 1 4.2 1-3.1 1-.7 1 2.1 1-5.1 .2 9.8-6 .3z" fill="url(#v9_8)"/><path d="M28-15.5l1-5.1 1 4.6 1-2.3 .2 8.5-3-1z" fill="url(#v10_8)"/><path d="M30-16l1-2.3 1 2.8 1 2.1 .2 3.6-3-1z" fill="url(#v9_7)"/><path d="M32-15.5l1 2.1 1-1.7 .2 5.3-2 0z" fill="#004dff"/><path d="M33-13.4l1-1.7 1-1.2 1-.8 1 3.1 1 1 1-1.4 1 1 1-1 1 .7 1-1.9 1-.1 .2 8.7-11-2.8z" fill="url(#v8_7)"/><path d="M43-15.6l1-.1 1 3.6 1-2.8 .2 7.9-3 0z" fill="url(#v8_6)"/><path d="M45-12.1l1-2.8 1 2 1-3.1 .2 8.8-3 .2z" fill="url(#v8_7)"/><path d="M47-12.9l1-3.1 1 3.7 1 .5 .2 4.6-3 .2z" fill="url(#v8_6)"/><path d="M49-12.3l1 .5 1 .9 .2 3.7-2 0z" fill="#03f"/><path d="M50-11.8l1 .9 1-2 1-.6 .2 6.3-3 0z" fill="url(#v7_6)"/><path d="M52-12.9l1-.6 1 3.6 1-3.5 1 5.5 .2 .5-4 .2z" fill="#03f"/><path d="M55-13.4l1 5.5 1-5.6 1 .5 1 4.5 1-7.4 .2 8.8-5-.3z" fill="url(#v7_6)"/><path d="M59-8.5l1-7.4 1 2 1-.2 .2 7.5-3-.5z" fill="url(#v8_6)"/><path d="M61-13.9l1-.2 1-1 1 3.7 1 1.5 .2 3.3-4-.5z" fill="url(#v7_6)"/><path d="M64-11.4l1 1.5 1-6.7 .2 10-2 0z" fill="url(#v6_5)"/><path d="M65-9.9l1-6.7 1 5.5 .2 4.5-2 0z" fill="url(#v8_5)"/><path d="M66-16.6l1 5.5 1 2.9 .2 1.6-2 0z" fill="url(#v8_6)"/><path d="M67-11.1l1 2.9 1 .2 1-8.8 .2 10.1-3 .1z" fill="#001aff"/><path d="M69-8l1-8.8 1 4.4 1-.4 .2 7.2-3-1.1z" fill="url(#v7_6)"/><path d="M71-12.4l1-.4 1 .4 1-.5 .2 7.9-3-1.7z" fill="url(#v7_5)"/><path d="M73-12.4l1-.5 1-3.2 .2 11.1-2 0z" fill="url(#v6_5)"/><path d="M74-12.9l1-3.2 1 5.4 1-4.9 1 3.6 1 1.6 .2 5.4-5 0z" fill="url(#v7_5)"/><path d="M78-12l1 1.6 1 .8 1-1.5 1 1.2 1-3.4 1-4.6 .2 12.5-6 .4z" fill="url(#v6_5)"/><path d="M83-13.3l1-4.6 1 5.8 1 2.3 .2 4.4-3 0z" fill="url(#v7_5)"/><path d="M85-12.1l1 2.3 1 1.9 .2 1.5-2 1z" fill="url(#v6_5)"/><path d="M86-9.8l1 1.9 1-.7 1-4 .2 6.3-3 .9z" fill="#00f"/><path d="M88-8.6l1-4 1 .5 1-1.2 1 6.7 1-3.6 .2 6.8-5-2.9z" fill="url(#v6_5)"/><path d="M92-6.6l1-3.6 1-4.8 .2 11.6-2 0z" fill="url(#v5_4)"/><path d="M93-10.2l1-4.8 1 3.7 .2 7.9-2 0z" fill="url(#v6_4)"/></g>
<g transform="matrix(1.9538 -.1835 0 1 59.83 588.02)"><path d="M0-19.3l3-1.3 .3 1.8-3 1.5z" fill="#004dff"/><path d="M2-19.9l6-.5 6-.3 4-3.6 .3 7.1-4-2.5-6 .3-6 .6z" fill="#00b2ff"/><path d="M17-21.3l2 .6 .3 3.5-2 0z" fill="#1affe5"/><path d="M18-24.3l2 6 .3 1.1-2 0z" fill="#80ff80"/><path d="M19-20.7l2 3 .3 1.1-2-.6z" fill="#1affe5"/><path d="M20-18.3l2 1.6 .3 .6-2-1.1z" fill="#00b2ff"/><path d="M21-17.7l6 1.1 6 2.4 6 .7 6 .6 6 .5 6-.3 3 .3 .3 1.2-3-.2-6 1.3-6 0-6 1.1-6 0-6-5.7-6-1.9z" fill="#004dff"/><path d="M59-12.7l6 1 6 0 6 1.4 6 .6 6 0 6 0 .3 1.6-6-.6-6 .8-6 0-6-2.4-6-.5-6-.5z" fill="#0000e6"/></g>
<g transform="matrix(1.9534 -.1853 0 1 60.48 590.29)"><path d="M0-22.5l1 .3 1-3.6 .5 10.4-2 0z" fill="url(#v12_10)"/><path d="M1-22.2l1-3.6 1 1 1-3.6 .5 11.9-3 1.1z" fill="url(#v13_11)"/><path d="M3-24.8l1-3.6 1 1.4 1-.4 1 4.6 1-3 1-1.1 1 3.4 1-1.5 .5 9.7-8-.1z" fill="url(#v14_12)"/><path d="M10-23.5l1-1.5 1-2.1 .5 11.8-2 0z" fill="url(#v13_12)"/><path d="M11-25l1-2.1 1 .9 1 2.4 .5 8.5-3 0z" fill="url(#v14_11)"/><path d="M13-26.2l1 2.4 1-5 .5 13.5-2 0z" fill="url(#v13_11)"/><path d="M14-23.8l1-5 1-2.5 .5 16-2 0z" fill="url(#v14_11)"/><path d="M15-28.8l1-2.5 1-9.1 .5 24.2-2 .9z" fill="url(#v16_12)"/><path d="M16-31.3l1-9.1 1-14.5 .5 37.5-2 2.1z" fill="url(#v21_12)"/><path d="M17-40.4l1-14.5 1 15.7 .5 21.8-2 1.2z" fill="url(#v29_13)"/><path d="M18-54.9l1 15.7 1 10.6 .5 11.1-2 .1z" fill="url(#v29_12)"/><path d="M19-39.2l1 10.6 1 4.8 .5 6.3-2 .1z" fill="url(#v20_12)"/><path d="M20-28.6l1 4.8 1 3.3 .5 4.6-2-1.6z" fill="url(#v15_12)"/><path d="M21-23.8l1 3.3 1-2.6 .5 9.3-2-3.7z" fill="url(#v13_12)"/><path d="M22-20.5l1-2.6 1 .7 1 .9 1-.5 .5 8.8-4-2.7z" fill="#00b2ff"/><path d="M25-21.5l1-.5 1 .1 1 2.4 .5 8-3-2z" fill="url(#v11_10)"/><path d="M27-21.9l1 2.4 1-.9 1-.7 1-1.3 1 3 1-.6 .5 9-6-2z" fill="url(#v11_9)"/><path d="M32-19.4l1-.6 1 1.5 1 .2 .5 7.5-3-.2z" fill="url(#v10_9)"/><path d="M34-18.5l1 .2 1-2.8 1 8.8 .5 1.5-3-.2z" fill="url(#v10_8)"/><path d="M36-21.1l1 8.8 1-8 .5 11.1-2-1.6z" fill="url(#v10_9)"/><path d="M37-12.3l1-8 1 2.7 1-.2 1-.6 1 0 1-1.6 .5 11.8-6-2.6z" fill="url(#v10_8)"/><path d="M42-18.4l1-1.6 1 .5 1-.1 .5 11.4-3 0z" fill="url(#v10_7)"/><path d="M44-19.5l1-.1 1 4.2 1-2.3 .5 8.3-3 1.2z" fill="url(#v10_8)"/><path d="M46-15.4l1-2.3 1-.8 1 .3 1 4.8 .5 5.7-4-.5z" fill="url(#v9_8)"/><path d="M49-18.2l1 4.8 1-6.3 .5 12-2-.9z" fill="url(#v9_7)"/><path d="M50-13.4l1-6.3 1-.1 1 2.8 1-4.7 1 6.2 1-1.1 .5 8.9-6 0z" fill="url(#v10_7)"/><path d="M55-15.5l1-1.1 1-.1 1-1.1 1 2 1 0 1-2.7 .5 12.5-6-1.7z" fill="url(#v9_7)"/><path d="M60-15.8l1-2.7 1 2.1 1-2.9 .5 13.3-3 0z" fill="url(#v9_6)"/><path d="M62-16.4l1-2.9 1 .5 1 2.6 1 1.1 1-.7 .5 8.7-5 1.1z" fill="url(#v9_7)"/><path d="M66-15.1l1-.7 1-1.4 .5 10.1-2 0z" fill="url(#v8_7)"/><path d="M67-15.8l1-1.4 1-.9 1 1.3 1 2.4 1-2.3 1-2.2 1 .3 .5 12.4-7-.9z" fill="url(#v9_7)"/><path d="M73-18.9l1 .3 1 3.5 1-1.4 .5 10.3-3 0z" fill="url(#v9_6)"/><path d="M75-15.1l1-1.4 1-.1 1 3 .5 7.4-3 0z" fill="url(#v8_6)"/><path d="M77-16.6l1 3 1-2.9 1 5.4 1-2.2 .5 5.9-4 1.2z" fill="url(#v8_7)"/><path d="M80-11.1l1-2.2 1-1.1 1 1 .5 6.1-3-.1z" fill="url(#v8_6)"/><path d="M82-14.4l1 1 1-2.4 1-.3 .5 11.8-3-3.1z" fill="url(#v8_7)"/><path d="M84-15.8l1-.3 1 1.6 1-.4 1-1.6 1 .8 1-2.7 .5 14.1-6-2.5z" fill="url(#v8_6)"/><path d="M89-15.7l1-2.7 1 1.1 1 4.9 .5 6.9-3 1.2z" fill="url(#v9_6)"/><path d="M91-17.3l1 4.9 1-1.8 1 .5 1 .8 .5 7.4-4 1.2z" fill="url(#v8_6)"/></g>
<g transform="matrix(1.9529 -.1879 0 1 61.45 593.71)"><path d="M0-20l1-3.8 1 1.9 1 0 .6 .7-3 0z" fill="url(#v12_14)"/><path d="M2-21.9l1 0 1-.9 1-1 .6 1.7-3 .9z" fill="url(#v12_15)"/><path d="M4-22.8l1-1 1-.9 .6 2.6-2 .1z" fill="url(#v12_16)"/><path d="M5-23.8l1-.9 1 2.9 1 0 .6-.5-3 .2z" fill="url(#v13_16)"/><path d="M7-21.8l1 0 1-2.7 1 .1 1 2.7 .6-.6-4-2.2z" fill="url(#v16_12)"/><path d="M10-24.4l1 2.7 1 1 1 .9 .6-2.4-3-.1z" fill="url(#v15_12)"/><path d="M12-20.7l1 .9 1-.9 1-2.5 .6 1-3-.1z" fill="url(#v15_11)"/><path d="M14-20.7l1-2.5 1 1.3 1-4.3 .6 6.6-3-2.6z" fill="url(#v12_15)"/><path d="M16-21.9l1-4.3 1-1.6 .6 8.2-2 0z" fill="url(#v13_15)"/><path d="M17-26.2l1-1.6 1 5.4 .6 2.8-2 0z" fill="url(#v14_15)"/><path d="M18-27.8l1 5.4 1-1.1 .6 3.9-2 0z" fill="#00e5ff"/><path d="M19-22.4l1-1.1 1 1.3 .6 2.6-2 0z" fill="url(#v12_14)"/><path d="M20-23.5l1 1.3 1-1.7 .6 4.3-2 0z" fill="url(#v12_15)"/><path d="M21-22.2l1-1.7 1-4.7 .6 5.5-2 3.5z" fill="url(#v12_17)"/><path d="M22-23.9l1-4.7 1 6.2 1-2.3 .6 4.4-3 .7z" fill="url(#v15_23)"/><path d="M24-22.4l1-2.3 1 6.4 .6-1.6-2-1.3z" fill="url(#v12_17)"/><path d="M25-24.7l1 6.4 1 0 .6-1.3-2-.7z" fill="url(#v12_15)"/><path d="M26-18.3l1 0 1 .2 1-2.3 .6 1.8-3-1.3z" fill="url(#v14_10)"/><path d="M28-18.1l1-2.3 1 2.4 1 2.1 .6-.1-3-2.6z" fill="url(#v10_13)"/><path d="M30-18l1 2.1 1-2.6 1 1.9 1 .1 .6 .5-4-2.6z" fill="url(#v13_9)"/><path d="M33-16.6l1 .1 1 1 1-2.6 1 .7 1 2.2 1-.2 .6 1.1-6-1.7z" fill="url(#v9_12)"/><path d="M38-15.2l1-.2 1-1.6 1 3.4 .6-.7-3-1.6z" fill="url(#v8_12)"/><path d="M40-17l1 3.4 1-3.2 1 4.2 1-3.8 1 1.9 1-1.1 1 1 1-2.9 1 3.3 1 .5 1-.8 1 1.5 1 1 .6 .8-6-3.5-6 .4-1 0z" fill="url(#v8_11)"/><path d="M52-13l1 1 1-1.5 1-.2 .6 2.6-3-2.7z" fill="url(#v7_11)"/><path d="M54-13.5l1-.2 1 1.2 1-2.5 .6 3.9-3 0z" fill="url(#v7_10)"/><path d="M56-12.5l1-2.5 1 1.8 1-2.2 1 .8 1 4.2 .6-2.5-5 1.8z" fill="url(#v8_10)"/><path d="M60-14.6l1 4.2 1-3.4 1 .1 1 2.3 1-3.1 1 3.1 1-1.4 1 .1 1-2.8 .6 3.4-9 1z" fill="url(#v7_10)"/><path d="M68-12.7l1-2.8 1 3.6 .6-.2-2 0z" fill="url(#v7_11)"/><path d="M69-15.5l1 3.6 1-2.2 1 1.1 1 0 1 2 1-6.3 .6 4.1-6 1.1z" fill="url(#v7_10)"/><path d="M74-11l1-6.3 1 6.8 1-1.7 .6-.5-3 .6z" fill="url(#v8_10)"/><path d="M76-10.5l1-1.7 1-2.3 1 2.1 1-.7 1 1.4 1-1.8 1 .1 .6 1.3-7-1.1z" fill="url(#v10_7)"/><path d="M82-13.5l1 .1 1 .1 1 1.7 .6 1.8-3-2.3z" fill="url(#v7_9)"/><path d="M84-13.3l1 1.7 1 0 .6 1.8-2 0z" fill="url(#v7_10)"/><path d="M85-11.6l1 0 1 .5 .6 1.3-2 0z" fill="url(#v6_10)"/><path d="M86-11.6l1 .5 1 2.5 1-2.9 .6 1.7-3 0z" fill="url(#v6_9)"/><path d="M88-8.6l1-2.9 1-2.8 .6 4.5-2 0z" fill="url(#v6_10)"/><path d="M89-11.5l1-2.8 1 3.9 .6-1.6-2 2.2z" fill="url(#v7_10)"/><path d="M90-14.3l1 3.9 1-2.9 1 1.4 .6-.1-3 2.2z" fill="url(#v7_9)"/><path d="M92-13.3l1 1.4 1 .2 .6-.3-2 0z" fill="url(#v7_10)"/><path d="M93-11.9l1 .2 1 1.9 .6-2.3-2 .1z" fill="url(#v10_6)"/><path d="M94-11.7l1 1.9 .6-2.3-1 .1z" fill="url(#v9_6)"/></g>
<g transform="matrix(1.9523 -.191 0 1 62.59 597.7)"><path d="M0-28.9l1 1.8 1-4.1 .5 15.9-2 0z" fill="url(#v14_11)"/><path d="M1-27.1l1-4.1 1 4 .5 11.9-2 0z" fill="url(#v16_11)"/><path d="M2-31.2l1 4 1-3 .5 14.9-2 0z" fill="url(#v16_12)"/><path d="M3-27.2l1-3 1-2.7 1 1 1 .6 1 1.1 1-.5 1-.5 1 3.9 1-3.2 1 .1 1 2.6 .5 14.6-11-2.1z" fill="url(#v16_13)"/><path d="M13-30.4l1 2.6 1-3.1 1 3.7 .5 14-3 0z" fill="url(#v15_11)"/><path d="M15-30.9l1 3.7 1-.3 1-2.7 1 5.5 1-4.1 1-3.4 .5 13.6-6 5.4z" fill="url(#v15_12)"/><path d="M20-28.8l1-3.4 1-12.2 .5 25.8-2 0z" fill="url(#v17_12)"/><path d="M21-32.2l1-12.2 1-15.5 .5 44.3-2-3z" fill="url(#v23_12)"/><path d="M22-44.4l1-15.5 1 16.8 .5 27.5-2-3z" fill="url(#v32_14)"/><path d="M23-59.9l1 16.8 1 10 .5 17.5-2 0z" fill="url(#v32_13)"/><path d="M24-43.1l1 10 1 3.7 .5 13.8-2 0z" fill="url(#v23_12)"/><path d="M25-33.1l1 3.7 1 1.9 .5 11.9-2 0z" fill="url(#v17_11)"/><path d="M26-29.4l1 1.9 1 .1 .5 11.8-2 0z" fill="url(#v15_11)"/><path d="M27-27.5l1 .1 1 .8 1 .4 .5 11.1-3-.5z" fill="url(#v14_11)"/><path d="M29-26.6l1 .4 1 2.6 .5 9-2-1z" fill="url(#v13_12)"/><path d="M30-26.2l1 2.6 1-.4 1-.8 .5 12.4-3-2.7z" fill="url(#v13_11)"/><path d="M32-24l1-.8 1 3.8 1-1.4 .5 13.3-3-5.2z" fill="url(#v13_10)"/><path d="M34-21l1-1.4 1-.3 .5 13.6-2-.8z" fill="url(#v12_10)"/><path d="M35-22.4l1-.3 1 1 1-1 .5 13.6-3 0z" fill="url(#v12_9)"/><path d="M37-21.7l1-1 1 .4 1-2.5 .5 15.7-3 0z" fill="url(#v12_8)"/><path d="M39-22.3l1-2.5 1 4 1 1.5 .5 8.6-3 1.6z" fill="url(#v12_9)"/><path d="M41-20.8l1 1.5 1-.3 1-.3 1-1.6 1-1.1 1 .8 1 2.2 .5 10.1-7 .4z" fill="url(#v11_9)"/><path d="M47-21.8l1 2.2 1-2.8 1-1.2 .5 14.1-3 0z" fill="url(#v11_8)"/><path d="M49-22.4l1-1.2 1 3.4 1-.1 .5 9.7-3 1.1z" fill="url(#v12_8)"/><path d="M51-20.2l1-.1 1-1.5 1 .6 .5 11-3 .7z" fill="url(#v11_9)"/><path d="M53-21.8l1 .6 1 2.5 1 2.6 .5 7.3-3-1.4z" fill="url(#v11_8)"/><path d="M55-18.7l1 2.6 1 0 1-6 .5 13.3-3 0z" fill="url(#v10_8)"/><path d="M57-16.1l1-6 1 4.3 1-2.3 .5 11.3-3 0z" fill="url(#v11_8)"/><path d="M59-17.8l1-2.3 1 .3 1 1 1 1 1-1.2 1 .3 1-4.4 .5 14.1-7 .2z" fill="url(#v10_8)"/><path d="M65-18.7l1-4.4 1 3.3 .5 10.9-2-.1z" fill="url(#v11_8)"/><path d="M66-23.1l1 3.3 1-3.7 1 2.2 .5 12.4-3-.1z" fill="url(#v11_7)"/><path d="M68-23.5l1 2.2 1 1.3 .5 11.1-2 0z" fill="url(#v11_8)"/><path d="M69-21.3l1 1.3 1 3 .5 8.1-2 0z" fill="url(#v11_7)"/><path d="M70-20l1 3 1-2.2 .5 10.3-2 0z" fill="url(#v10_7)"/><path d="M71-17l1-2.2 1 1 1-1.2 .5 11.1-3-.6z" fill="url(#v10_8)"/><path d="M73-18.2l1-1.2 1 1.3 1 0 1-3.8 .5 13.6-4-.6z" fill="url(#v10_7)"/><path d="M76-18.1l1-3.8 1 3.1 1-.4 .5 10.9-3 0z" fill="url(#v11_7)"/><path d="M78-18.8l1-.4 1 1.6 1-1.5 1-2.5 1 4.7 1-1.9 1 .8 1-2.6 1 6 1-6.2 1 1.4 1 .6 1 2 1-1.7 1-2.4 1 1.6 1 2.4 .5 8.4-6 1.5-6-.8-5-.5z" fill="url(#v10_7)"/></g>
<g transform="matrix(1.9518 -.1936 0 1 63.56 601.12)"><path d="M0-26l5 0 .5 1.1-5 3.7z" fill="#00b2ff"/><path d="M4-26l6 .4 2 0 .5 1.5-2-.3-6-.4z" fill="#1affe5"/><path d="M11-25.6l6 0 6-4.5 1 3.4 .5 1.4-1-.9-6 3.1-6-1.2z" fill="#00b2ff"/><path d="M23-30.1l2 3.4 .5 4.1-2-3.6z" fill="#1affe5"/><path d="M24-26.7l6 1.9 .5 2.3-6-2.8z" fill="#00b2ff"/><path d="M29-25.3l3 1.9 .5 3.6-3-1.8z" fill="#1affe5"/><path d="M31-23.4l6 2.2 5 1.8 .5 2.6-5-.9-6-3.3z" fill="#00b2ff"/><path d="M41-19.4l6 1.7 6 0 6 .5 6 0 6 .4 6 0 6 .5 6 .3 6 0 .5 3-6-.4-6-.3-6-.3-6-.3-6-.3-6-.4-6-.4-6-.7-6-.8z" fill="#004dff"/></g>
<g transform="matrix(1.9512 -.1962 0 1 64.54 604.53)"><path d="M0-30l1-3 1 .6 .3 10.8-2 0z" fill="url(#v17_13)"/><path d="M1-33l1 .6 1-2.8 .3 13.6-2 0z" fill="url(#v17_14)"/><path d="M2-32.4l1-2.8 1 1.7 .3 10.8-2 1.1z" fill="url(#v18_14)"/><path d="M3-35.2l1 1.7 1-3.3 .3 12.9-2 2.3z" fill="url(#v18_15)"/><path d="M4-33.5l1-3.3 1 2.8 1-4.2 1 4.2 1 .1 .3 11-5 .2z" fill="url(#v19_15)"/><path d="M8-34l1 .1 1-2.7 1-.5 .3 14.2-3-.4z" fill="url(#v18_14)"/><path d="M10-36.6l1-.5 1 4.4 .3 9.8-2 0z" fill="url(#v19_15)"/><path d="M11-37.1l1 4.4 1 3.1 .3 6.7-2 0z" fill="url(#v19_14)"/><path d="M12-32.7l1 3.1 1-6.3 .3 13-2 0z" fill="url(#v18_14)"/><path d="M13-29.6l1-6.3 1 2.8 1 1.3 .3 10.2-3-1.3z" fill="url(#v18_15)"/><path d="M15-33.1l1 1.3 1-5.2 .3 15.4-2-1.3z" fill="url(#v17_14)"/><path d="M16-31.8l1-5.2 1 6.1 .3 9.3-2 0z" fill="url(#v18_14)"/><path d="M17-37l1 6.1 1-2.2 .3 11.5-2 0z" fill="url(#v18_15)"/><path d="M18-30.9l1-2.2 1-.5 1-1.4 .3 13.4-3 0z" fill="url(#v17_14)"/><path d="M20-33.6l1-1.4 1 1 1 3.4 .3 8.1-3 .9z" fill="url(#v18_14)"/><path d="M22-34l1 3.4 1-1.9 1 .1 1-1.9 1 .7 .3 12.4-5-.4z" fill="url(#v17_14)"/><path d="M26-34.3l1 .7 1 .6 .3 12.9-2-1.1z" fill="url(#v17_13)"/><path d="M27-33.6l1 .6 1-3.5 .3 16.4-2-1.1z" fill="url(#v18_13)"/><path d="M28-33l1-3.5 1-6.4 .3 23.2-2-.4z" fill="url(#v20_14)"/><path d="M29-36.5l1-6.4 1 1.4 .3 22.4-2-1z" fill="url(#v23_14)"/><path d="M30-42.9l1 1.4 1 8.3 .3 14.9-2-1.4z" fill="url(#v23_13)"/><path d="M31-41.5l1 8.3 1 4 .3 10.9-2-.8z" fill="url(#v21_12)"/><path d="M32-33.2l1 4 1-.4 .3 11.3-2 0z" fill="url(#v17_12)"/><path d="M33-29.2l1-.4 1-.5 .3 13.7-2-1.9z" fill="url(#v16_12)"/><path d="M34-29.6l1-.5 1 1.4 1 1.4 1-2.8 1-.1 1 0 1 5.1 .3 12.5-7-5.7z" fill="url(#v15_11)"/><path d="M40-30.2l1 5.1 1-.1 .3 12.6-2-2.1z" fill="url(#v15_10)"/><path d="M41-25.1l1-.1 1 .1 .3 12.5-2 0z" fill="url(#v14_10)"/><path d="M42-25.2l1 .1 1-.7 .3 13.2-2 0z" fill="url(#v13_10)"/><path d="M43-25.1l1-.7 1-.1 1 2.6 .3 10.7-3 0z" fill="url(#v13_9)"/><path d="M45-25.9l1 2.6 1-.4 1-1.8 1-.2 1-2 .3 13.3-5 1.8z" fill="url(#v13_10)"/><path d="M49-25.7l1-2 1 2.8 1-1.3 .3 12.4-3-.7z" fill="url(#v14_10)"/><path d="M51-24.9l1-1.3 1 4.7 .3 7.7-2 0z" fill="url(#v13_10)"/><path d="M52-26.2l1 4.7 1-3.6 1 3.1 1-.9 .3 9.1-4 0z" fill="url(#v13_9)"/><path d="M55-22l1-.9 1-1.4 .3 10.5-2 0z" fill="url(#v12_9)"/><path d="M56-22.9l1-1.4 1 .1 1 1.3 1-2.1 1 3.9 1-1.2 .3 9.2-6-.7z" fill="url(#v13_9)"/><path d="M61-21.1l1-1.2 1-1.6 1 1.1 1-1 1-2.7 .3 14-5-.6z" fill="url(#v12_9)"/><path d="M65-23.8l1-2.7 1 4 1-.6 .3 10.6-3 0z" fill="url(#v13_9)"/><path d="M67-22.5l1-.6 1 1.3 1 .6 1-1.6 1-1.8 .3 13.5-5-1.4z" fill="url(#v12_9)"/><path d="M71-22.8l1-1.8 1 2.8 1-2.9 .3 13.6-3 0z" fill="url(#v12_8)"/><path d="M73-21.8l1-2.9 1 1.3 1 2.4 1 .4 .3 8.5-4 1z" fill="url(#v12_9)"/><path d="M76-21l1 .4 1-.2 1-2.4 .3 11.1-3 0z" fill="url(#v11_8)"/><path d="M78-20.8l1-2.4 1 1 1-3.6 .3 14.2-3-.5z" fill="url(#v12_9)"/><path d="M80-22.2l1-3.6 1 3.5 .3 10.7-2-.5z" fill="url(#v13_9)"/><path d="M81-25.8l1 3.5 1-.6 .3 11.3-2 0z" fill="url(#v13_8)"/><path d="M82-22.3l1-.6 1-1.8 1-.7 1 5.3 1-3.9 1 1.7 1-1.1 1 1.9 1-2.7 1 4.4 1-2.8 1 0 1-.9 .3 13.1-6-.7-6-.5-1 0z" fill="url(#v12_8)"/></g>
<g transform="matrix(1.9509 -.198 0 1 65.19 606.81)"><path d="M0-32.3l6 0 6 .5 6 .2 6 0 2 1.8 .6 3.1-2-.5-6 .6-6-1.1-6-.5-6 3.7z" fill="#1affe5"/><path d="M25-30.7l2 .9 .6 4.2-2-2.6z" fill="#80ff80"/><path d="M26-29.8l6 .9 2 0 .6 6.8-2-1.4-6-3.2z" fill="#1affe5"/><path d="M33-28.9l6 3.8 6 1 6 0 6 .7 6 2.7 6 0 6-.4 6 .4 .6 4.7-6-.3-6-.3-6-.4-6-.5-6-.6-6-1-6-1.4-6-2.1z" fill="#00b2ff"/><path d="M80-20.7l6 0 6-.2 3 0 .6 5.7-3-.2-6-.3-6-.3z" fill="#004dff"/></g>
<g transform="matrix(1.9503 -.201 0 1 66.33 610.8)"><path d="M0-37.4l1 .1 1-2.3 .8 17.8-2 0z" fill="url(#v19_15)"/><path d="M1-37.3l1-2.3 1 2.7 1-2.2 1-.5 1 .8 .8 16.7-5 .3z" fill="url(#v20_16)"/><path d="M5-39.6l1 .8 1-3.2 .8 19.9-2 0z" fill="url(#v20_17)"/><path d="M6-38.8l1-3.2 1 4.3 1-3 .8 18.6-3 0z" fill="url(#v21_16)"/><path d="M8-37.7l1-3 1 1.8 1-.8 .8 15.8-3 1.8z" fill="url(#v21_17)"/><path d="M10-38.9l1-.8 1 .7 1 1.1 .8 14-3 1.8z" fill="url(#v20_16)"/><path d="M12-39l1 1.1 1-2.5 .8 16.5-2 0z" fill="url(#v20_17)"/><path d="M13-37.9l1-2.5 1 4.1 1-2.3 .8 13.4-3 1.3z" fill="url(#v21_17)"/><path d="M15-36.3l1-2.3 1-1.3 1 2.6 .8 14.5-3-2.4z" fill="url(#v20_18)"/><path d="M17-39.9l1 2.6 1-1.6 1 .6 .8 15.5-3 0z" fill="url(#v20_17)"/><path d="M19-38.9l1 .6 1 2.2 1-4.2 .8 17.5-3 0z" fill="url(#v20_16)"/><path d="M21-36.1l1-4.2 1-3.4 .8 20.9-2 0z" fill="url(#v21_16)"/><path d="M22-40.3l1-3.4 1-2.8 .8 25.2-2-1.5z" fill="url(#v22_17)"/><path d="M23-43.7l1-2.8 1-8.3 .8 33.5-2-1.5z" fill="url(#v24_17)"/><path d="M24-46.5l1-8.3 1 10.6 1 2.7 .8 21.6-3-1.4z" fill="url(#v28_17)"/><path d="M26-44.2l1 2.7 1 1.4 .8 20.2-2-1.4z" fill="url(#v24_15)"/><path d="M27-41.5l1 1.4 1 3.2 .8 17-2 0z" fill="url(#v22_15)"/><path d="M28-40.1l1 3.2 1 .2 .8 16.8-2 0z" fill="url(#v21_15)"/><path d="M29-36.9l1 .2 1 1.5 1 .9 1-2.2 1-3.2 1 5.2 1-.6 .8 17.3-7-2.1z" fill="url(#v19_14)"/><path d="M35-34.5l1-.6 1-.6 1 2.3 .8 15.9-3-.3z" fill="url(#v18_14)"/><path d="M37-35.7l1 2.3 1-2.4 1 2.3 1-4.5 1 4.6 1 2.4 .8 17.3-6-4.1z" fill="url(#v18_13)"/><path d="M42-33.4l1 2.4 1-2.6 1 4 .8 15.9-3-.5z" fill="url(#v17_12)"/><path d="M44-33.6l1 4 1-3.8 1 3.6 1 .2 .8 16.8-4-.9z" fill="url(#v17_11)"/><path d="M47-29.8l1 .2 1 1 1-3.7 1 2.3 .8 17.8-4-1.5z" fill="url(#v16_11)"/><path d="M50-32.3l1 2.3 1-4.5 .8 22.3-2-.2z" fill="url(#v16_10)"/><path d="M51-30l1-4.5 1 3.1 1 1 .8 18.2-3 0z" fill="url(#v17_10)"/><path d="M53-31.4l1 1 1-.1 1 1.4 1-.4 .8 19.3-4-2z" fill="url(#v16_10)"/><path d="M56-29.1l1-.4 1 1.5 1-1.3 .8 19.1-3 0z" fill="url(#v15_10)"/><path d="M58-28l1-1.3 1 1.5 1-2.3 1 .8 1 .5 .8 19.2-5-.6z" fill="url(#v15_9)"/><path d="M62-29.3l1 .5 1-1.4 .8 20.6-2 0z" fill="url(#v15_10)"/><path d="M63-28.8l1-1.4 1 2.9 1-2.8 1 .9 1 4.1 1-3.2 1-.4 1 1.6 .8 18.1-8-.6z" fill="url(#v15_9)"/><path d="M70-28.7l1 1.6 1-2.5 1 4.1 1-.4 .8 21.2-4-4.3z" fill="url(#v15_8)"/><path d="M73-25.5l1-.4 1-.6 1-5.5 .8 27.3-3 0z" fill="url(#v14_8)"/><path d="M75-26.5l1-5.5 1 2.8 1 3.5 .8 21-3 0z" fill="url(#v15_7)"/><path d="M77-29.2l1 3.5 1-4.6 .8 25.6-2 0z" fill="url(#v15_8)"/><path d="M78-25.7l1-4.6 1-.3 1 .8 .8 22.9-3 2.2z" fill="url(#v15_7)"/><path d="M80-30.6l1 .8 1 4.8 1-1.5 .8 20.4-3-.8z" fill="url(#v15_8)"/><path d="M82-25l1-1.5 1-.8 1-.5 1-.5 1 1 1-1.3 1 1.3 .8 21.2-7-.8z" fill="url(#v14_7)"/><path d="M88-28.6l1 1.3 1 2.1 .8 18.6-2 .5z" fill="url(#v14_8)"/><path d="M89-27.3l1 2.1 1-1.5 1 1.5 1-.8 1-2.1 1-.6 .8 22.3-6 .3z" fill="url(#v14_7)"/></g>
<g transform="matrix(1.9494 -.2052 0 1 67.87 616.21)"><path d="M0-34.8l4 1.1 .8 1.7-4 3.7z" fill="#1affe5"/><path d="M3-33.7l6 0 6-2.4 2-.1 .8 2.8-2-.2-6 1.5-6 .6z" fill="#80ff80"/><path d="M16-36.2l2-.7 .8 4.8-2-2.9z" fill="#e5ff1a"/><path d="M17-36.2l6 1.2 5 1.6 .8 3.9-5-1.9-6-2z" fill="#80ff80"/><path d="M27-33.4l6 0 6 3.6 6 2.5 3 0 .8 6.1-3-1.1-6-2.5-6-2.5-6-3z" fill="#1affe5"/><path d="M47-27.3l6 1.7 6 3.6 6 .2 6 4 .8 1.7-6-1.8-6-.8-6-1.1-6-1.8z" fill="#00b2ff"/><path d="M70-17.8l6 0 6 2.5 6 0 6 0 1-1.6 .8 4-1-.1-6-.5-6-.7-6-.8-6-1.4z" fill="#004dff"/></g>
<g transform="matrix(1.9486 -.2094 0 1 69.41 621.62)"><path d="M0-40.9l1-.8 1-1 1-2.7 .5 16.7-3 0z" fill="url(#v22_18)"/><path d="M2-42.7l1-2.7 1-1.2 .5 17.9-2 0z" fill="url(#v23_19)"/><path d="M3-45.4l1-1.2 1 1.9 .5 13.3-2 2.7z" fill="url(#v24_20)"/><path d="M4-46.6l1 1.9 1-.2 .5 13.5-2 2.7z" fill="url(#v24_19)"/><path d="M5-44.7l1-.2 1 5.2 .5 8.3-2 0z" fill="url(#v23_19)"/><path d="M6-44.9l1 5.2 1-2.5 1 0 1-2.5 1 2.4 1-3.6 .5 12.5-6 2z" fill="url(#v23_20)"/><path d="M11-42.3l1-3.6 1-.4 1-3.9 .5 16.8-3 1.6z" fill="url(#v24_20)"/><path d="M13-46.3l1-3.9 1 .4 .5 17.6-2-1.2z" fill="url(#v26_20)"/><path d="M14-50.2l1 .4 1-10.9 .5 28.5-2-1.2z" fill="url(#v27_20)"/><path d="M15-49.8l1-10.9 1 6.8 1 9.1 .5 12.6-3 0z" fill="url(#v32_21)"/><path d="M17-53.9l1 9.1 1-.3 .5 12.9-2 0z" fill="url(#v28_20)"/><path d="M18-44.8l1-.3 1-.1 1 2.3 .5 10.7-3 0z" fill="url(#v24_20)"/><path d="M20-45.2l1 2.3 1-3.1 1 1.9 1-3.6 .5 16-4-.5z" fill="url(#v23_20)"/><path d="M23-44.1l1-3.6 1 5.9 .5 10.1-2 0z" fill="url(#v24_20)"/><path d="M24-47.7l1 5.9 1-2.2 .5 12.3-2 0z" fill="url(#v24_19)"/><path d="M25-41.8l1-2.2 1 .3 1 2.7 1-1.9 .5 13.8-4-2.6z" fill="url(#v23_19)"/><path d="M28-41l1-1.9 1-2.3 .5 16.1-2-1.4z" fill="url(#v22_19)"/><path d="M29-42.9l1-2.3 1 5.9 1-5.5 .5 15.7-3 0z" fill="url(#v23_19)"/><path d="M31-39.3l1-5.5 1 3.5 1 1 .5 11.2-3 0z" fill="url(#v23_18)"/><path d="M33-41.3l1 1 1 0 1 0 .5 11.1-3 .1z" fill="url(#v22_19)"/><path d="M35-40.3l1 0 1-.6 .5 12.1-2-.3z" fill="url(#v21_19)"/><path d="M36-40.3l1-.6 1 1 1-1.3 1 .8 .5 13.1-4-1.9z" fill="url(#v21_18)"/><path d="M39-41.2l1 .8 1-.4 1 .7 1-.3 1 2.1 .5 13.8-5-3.3z" fill="url(#v21_17)"/><path d="M43-40.4l1 2.1 1 2.6 .5 12-2-1.1z" fill="url(#v21_16)"/><path d="M44-38.3l1 2.6 1-.7 .5 14.6-2-2.7z" fill="url(#v20_16)"/><path d="M45-35.7l1-.7 1-1.8 .5 16.4-2-1.9z" fill="url(#v19_16)"/><path d="M46-36.4l1-1.8 1-1.5 1 6.5 .5 12.4-3-1z" fill="url(#v20_15)"/><path d="M48-39.7l1 6.5 1-3.3 .5 15.7-2-1z" fill="url(#v20_14)"/><path d="M49-33.2l1-3.3 1-1 1 1.5 .5 17.3-3-2.1z" fill="url(#v19_14)"/><path d="M51-37.5l1 1.5 1 2.9 .5 14.4-2 0z" fill="url(#v19_13)"/><path d="M52-36l1 2.9 1-.9 1 2.1 1 .1 .5 14-4-.9z" fill="url(#v18_13)"/><path d="M55-31.9l1 .1 1-1.4 .5 15.7-2-1z" fill="url(#v17_13)"/><path d="M56-31.8l1-1.4 1-.1 1 1.9 1 1.5 .5 14.6-4-2.5z" fill="url(#v17_12)"/><path d="M59-31.4l1 1.5 1 0 .5 14.6-2 0z" fill="url(#v16_12)"/><path d="M60-29.9l1 0 1 1.3 1 .8 .5 13-3-.5z" fill="url(#v16_11)"/><path d="M62-28.6l1 .8 1-.6 .5 14.4-2-1.1z" fill="url(#v15_11)"/><path d="M63-27.8l1-.6 1-3 .5 17.5-2-.9z" fill="url(#v15_10)"/><path d="M64-28.4l1-3 1 .9 1 1.8 .5 16.1-3-1.4z" fill="url(#v16_10)"/><path d="M66-30.5l1 1.8 1 1.1 1-1.2 1 1.2 .5 15.4-4-1.6z" fill="url(#v15_10)"/><path d="M69-28.8l1 1.2 1-.2 .5 15.6-2 0z" fill="url(#v15_9)"/><path d="M70-27.6l1-.2 1 4.3 1-4.3 1-.5 1 3.7 1-.2 .5 14.5-6-1.9z" fill="url(#v14_9)"/><path d="M75-24.6l1-.2 1-3.8 .5 18.3-2 0z" fill="url(#v13_9)"/><path d="M76-24.8l1-3.8 1 1.2 1 1.6 1-.9 .5 16.4-4 0z" fill="url(#v14_8)"/><path d="M79-25.8l1-.9 1 2.5 1-1.6 1 2.5 1-4.3 .5 17.3-5 0z" fill="url(#v13_8)"/><path d="M83-23.3l1-4.3 1 4.3 1-.1 .5 14.4-3-1.3z" fill="url(#v14_8)"/><path d="M85-23.3l1-.1 1 1 1 1.4 .5 13.3-3-2.6z" fill="url(#v13_8)"/><path d="M87-22.4l1 1.4 1-3.9 .5 17.2-2 0z" fill="url(#v12_8)"/><path d="M88-21l1-3.9 1 2.4 1-5.9 .5 20.7-3 0z" fill="url(#v13_7)"/><path d="M90-22.5l1-5.9 1 4.8 1 .2 .5 15.7-3 0z" fill="url(#v14_7)"/><path d="M92-23.6l1 .2 1-2.9 .5 17.1-2 1.5z" fill="url(#v12_7)"/><path d="M93-23.4l1-2.9 1-1.1 .5 18.2-2 1.5z" fill="url(#v13_7)"/></g>
<g transform="matrix(1.948 -.212 0 1 70.39 625.04)"><path d="M0-34.4l6-4 6 0 6-.4 6-.9 6 3.3 6 .6 4 2.6 .5 .5-4-1.6-6-1-6-2.2-6 .6-6 0-6 3-6 0z" fill="#80ff80"/><path d="M39-33.6l6 3 6 3.6 4 1.2 .5 1.7-4-1.8-6-3.4-6-3.4z" fill="#1affe5"/><path d="M54-25.8l6 2.7 6 3.3 6 0 2 .4 .5 3.1-2-.5-6-1.9-6-2.6-6-3.4z" fill="#00b2ff"/><path d="M73-19.4l6 .9 6 0 6 .3 4 0 .5 4.6-4-.3-6-.6-6-.8-6-1.2z" fill="#004dff"/></g>
<g transform="matrix(1.9475 -.2146 0 1 71.36 628.46)"><path d="M0-42.8l1 4.4 1-4.3 .5 16.4-2 0z" fill="url(#v22_16)"/><path d="M1-38.4l1-4.3 1-1.5 .5 17.9-2 0z" fill="url(#v22_17)"/><path d="M2-42.7l1-1.5 1 2.2 .5 14.5-2 1.2z" fill="url(#v23_17)"/><path d="M3-44.2l1 2.2 1-2.3 1 .9 .5 16.7-3 .4z" fill="url(#v23_18)"/><path d="M5-44.3l1 .9 1-3 .5 19.7-2 0z" fill="url(#v23_19)"/><path d="M6-43.4l1-3 1 3.2 .5 16.5-2 0z" fill="url(#v24_18)"/><path d="M7-46.4l1 3.2 1 .3 .5 16.2-2 0z" fill="url(#v24_17)"/><path d="M8-43.2l1 .3 1-1.4 .5 17.6-2 0z" fill="url(#v23_17)"/><path d="M9-42.9l1-1.4 1-1.5 .5 19.1-2 0z" fill="url(#v23_18)"/><path d="M10-44.3l1-1.5 1 1.1 1-2.1 1 3.2 1 2.2 .5 11.8-5 2.9z" fill="url(#v24_18)"/><path d="M14-43.6l1 2.2 1-3.2 1 .8 1-.9 1-1.1 1 1.2 .5 17.6-6-2.6z" fill="url(#v23_18)"/><path d="M19-45.8l1 1.2 1 .5 1 .5 1-.3 1-2.3 .5 19.2-5 0z" fill="url(#v23_17)"/><path d="M23-43.9l1-2.3 1-3.4 .5 22.6-2 0z" fill="url(#v24_18)"/><path d="M24-46.2l1-3.4 1 .4 1 3.5 1-.2 .5 20.1-4-1.2z" fill="url(#v25_18)"/><path d="M27-45.7l1-.2 1 .2 .5 19.9-2 0z" fill="url(#v24_17)"/><path d="M28-45.9l1 .2 1 1.6 .5 18.3-2 0z" fill="url(#v23_17)"/><path d="M29-45.7l1 1.6 1 4.4 1-2.5 .5 18.5-3-2.1z" fill="url(#v23_16)"/><path d="M31-39.7l1-2.5 1 .2 .5 18.3-2-1z" fill="url(#v22_17)"/><path d="M32-42.2l1 .2 1 .5 1 .5 1 .8 1-1.5 1 0 1 1.2 .5 17.3-7-.5z" fill="url(#v22_16)"/><path d="M38-41.7l1 1.2 1-1 .5 18.3-2 0z" fill="url(#v22_15)"/><path d="M39-40.5l1-1 1-1.9 .5 20.8-2-.6z" fill="url(#v21_15)"/><path d="M40-41.5l1-1.9 1 3.2 1 1 .5 17.7-3-1.7z" fill="url(#v22_15)"/><path d="M42-40.2l1 1 1 1.7 .5 17.6-2-2.2z" fill="url(#v21_15)"/><path d="M43-39.2l1 1.7 1 .4 1-2.5 1 1.7 .5 20.5-4-4.1z" fill="url(#v20_14)"/><path d="M46-39.6l1 1.7 1 3.3 1-2.3 .5 19.5-3-2.4z" fill="url(#v20_13)"/><path d="M48-34.6l1-2.3 1 3.2 .5 17.5-2-1.2z" fill="url(#v19_13)"/><path d="M49-36.9l1 3.2 1 0 .5 17.5-2-1.2z" fill="url(#v19_12)"/><path d="M50-33.7l1 0 1-2.8 .5 20.5-2-.2z" fill="url(#v18_12)"/><path d="M51-33.7l1-2.8 1 1.3 .5 19.2-2-.2z" fill="url(#v19_12)"/><path d="M52-36.5l1 1.3 1 .5 .5 19.2-2-.5z" fill="url(#v19_11)"/><path d="M53-35.2l1 .5 1 4.4 1-3.6 .5 19.3-3-1.4z" fill="url(#v18_11)"/><path d="M55-30.3l1-3.6 1-.4 1 3.5 .5 18.7-3-2.9z" fill="url(#v17_11)"/><path d="M57-34.3l1 3.5 1-1.8 1 2.9 .5 17.6-3 0z" fill="url(#v17_10)"/><path d="M59-32.6l1 2.9 1-.5 .5 18.8-2-.7z" fill="url(#v17_9)"/><path d="M60-29.7l1-.5 1 .1 1 2.2 1 .1 .5 17.7-4-2z" fill="url(#v16_9)"/><path d="M63-27.9l1 .1 1-2.6 1 3.5 1-1.6 .5 20.5-4-3.4z" fill="url(#v15_9)"/><path d="M66-26.9l1-1.6 1 0 1-.4 .5 20.9-3-.5z" fill="url(#v15_8)"/><path d="M68-28.5l1-.4 1 .9 1 4.4 .5 15.6-3 0z" fill="url(#v15_7)"/><path d="M70-28l1 4.4 1-4.3 .5 19.9-2 0z" fill="url(#v14_7)"/><path d="M71-23.6l1-4.3 1 2.9 1-3.2 .5 19-3 1.2z" fill="url(#v14_8)"/><path d="M73-25l1-3.2 1 4.2 1-2.1 .5 16.9-3 1.2z" fill="url(#v14_7)"/><path d="M75-24l1-2.1 1 .9 .5 16-2 0z" fill="url(#v14_8)"/><path d="M76-26.1l1 .9 1 1 .5 15.1-2-.1z" fill="url(#v14_7)"/><path d="M77-25.2l1 1 1 1 1-.4 1 1.3 1-1 1-2.7 1 2.8 1-.5 .5 17.6-8-3.1z" fill="url(#v13_7)"/><path d="M84-23.2l1-.5 1-4.5 .5 22.1-2-1.2z" fill="url(#v13_6)"/><path d="M85-23.7l1-4.5 1 1.1 1 2.5 1 .1 .5 19.4-4-1z" fill="url(#v14_6)"/><path d="M88-24.6l1 .1 1-2.7 1 3.3 1-.4 1-2 1 4.3 1-4.2 .5 19.7-7 1.4z" fill="url(#v13_6)"/></g>
<g transform="matrix(1.947 -.2172 0 1 72.33 631.87)"><path d="M0-34l4-1 .5 1.5-4 2.7z" fill="#1affe5"/><path d="M3-34.5l6-.7 6 .3 6 .4 6 .7 .5 2-6-1.1-6-.3-6-1.4-6 1.1z" fill="#80ff80"/><path d="M26-34.3l6 2.1 6 2.1 6 3.1 3 1.7 .5 3.7-3-4.5-6 0-6-4.6-6-1.1z" fill="#1affe5"/><path d="M46-25.9l6 3.4 6 1.7 5 3.4 .5 1.9-5-3.4-6-2.7-6 0z" fill="#00b2ff"/><path d="M62-19.4l6 3.4 6 0 6-1.8 6 2.3 6 0 3 0 .5 4.1-3-.2-6-.7-6-.7-6-1-6-1.3-6-1.9z" fill="#004dff"/></g>
<g transform="matrix(1.9465 -.2199 0 1 73.31 635.29)"><path d="M0-38l1-.9 1-1.8 .6 25.5-1-1.6-1 1.6z" fill="url(#v20_10)"/><path d="M1-38.9l1-1.8 1 1.3 1-5.1 .6 26.2-1 2.6-1 .5-1-1.6z" fill="url(#v21_10)"/><path d="M3-39.4l1-5.1 1 1.1 .6 25.7-1-.6-1 2.6z" fill="url(#v22_10)"/><path d="M4-44.5l1 1.1 1 2 1-1.3 .6 27.6-1-1.7-1-.9-1-.6z" fill="url(#v22_11)"/><path d="M6-41.4l1-1.3 1 3.6 1-1.6 .6 24.2-1 1.8-1-.4-1-1.7z" fill="url(#v22_10)"/><path d="M8-39.1l1-1.6 1 .6 .6 20.9-1 2.7-1 1.8z" fill="url(#v21_10)"/><path d="M9-40.7l1 .6 1-.2 .6 28.3-1-7.2-1 2.7z" fill="url(#v21_11)"/><path d="M10-40.1l1-.2 1-3.1 .6 27-1 4.4-1-7.2z" fill="url(#v21_10)"/><path d="M11-40.3l1-3.1 1 1.7 1-1 .6 40-1-13.5-1-.2-1 4.4z" fill="url(#v22_10)"/><path d="M13-41.7l1-1 1 1.8 1 .2 .6 22.6-1 2.2-1 13.2-1-13.5z" fill="url(#v22_7)"/><path d="M15-40.9l1 .2 1-.4 .6 24.4-1-1.4-1 2.2z" fill="url(#v21_10)"/><path d="M16-40.7l1-.4 1-.2 .6 25.5-1-.9-1-1.4z" fill="url(#v21_11)"/><path d="M17-41.1l1-.2 1 3.7 1-1.8 1 1.7 .6 21.1-1-.1-1 1.9-1-1-1-.9z" fill="url(#v21_10)"/><path d="M20-39.4l1 1.7 1-1.9 .6 26.7-1-3.7-1-.1z" fill="url(#v21_11)"/><path d="M21-37.7l1-1.9 1-6.1 .6 30.6-1 2.2-1-3.7z" fill="url(#v21_10)"/><path d="M22-39.6l1-6.1 1 5.5 1 2.8 .6 20.1-1 1.3-1 .9-1 2.2z" fill="url(#v22_10)"/><path d="M24-40.2l1 2.8 1-3.6 .6 23.8-1-.1-1 1.3z" fill="url(#v21_10)"/><path d="M25-37.4l1-3.6 1 2.3 .6 23.4-1-1.9-1-.1z" fill="url(#v21_11)"/><path d="M26-41l1 2.3 1 2.4 .6 19.4-1 1.6-1-1.9z" fill="url(#v21_10)"/><path d="M27-38.7l1 2.4 1-4 .6 23.9-1-.5-1 1.6z" fill="url(#v20_10)"/><path d="M28-36.3l1-4 1 1.9 1 1.1 .6 18.4-1 1.4-1 1.1-1-.5z" fill="url(#v21_11)"/><path d="M30-38.4l1 1.1 1-4 .6 30.2-1-7.8-1 1.4z" fill="url(#v20_11)"/><path d="M31-37.3l1-4 1 .2 1 3.1 1-1.2 .6 20.5-1 4-1 4.9-1-1.3-1-7.8z" fill="url(#v21_9)"/><path d="M34-38l1-1.2 1 3.2 .6 17.5-1-.2-1 4z" fill="url(#v20_10)"/><path d="M35-39.2l1 3.2 1-.9 .6 19.9-1-1.5-1-.2z" fill="url(#v20_11)"/><path d="M36-36l1-.9 1 1.8 1-1.1 .6 22.5-1-6.2-1 2.9-1-1.5z" fill="url(#v19_11)"/><path d="M38-35.1l1-1.1 1-.5 1 4.2 1-1.2 .6 19.1-1-1-1 .3-1 1.6-1-6.2z" fill="url(#v19_10)"/><path d="M41-32.5l1-1.2 1 .2 .6 20.3-1-1.4-1-1z" fill="url(#v18_10)"/><path d="M42-33.7l1 .2 1 3 1-5.3 1-1.7 .6 27.7-1-5.4-1-5.6-1 7.6-1-1.4z" fill="url(#v18_9)"/><path d="M45-35.8l1-1.7 1 5.5 1-.5 .6 21.4-1-3.6-1 4.9-1-5.4z" fill="url(#v18_8)"/><path d="M47-32l1-.5 1-1.1 1 2.3 .6 23.8-1-5.5-1 1.9-1-3.6z" fill="url(#v17_8)"/><path d="M49-33.6l1 2.3 1-.9 .6 23-1 1.7-1-5.5z" fill="url(#v17_7)"/><path d="M50-31.3l1-.9 1 6.2 .6 19.6-1-2.8-1 1.7z" fill="url(#v16_7)"/><path d="M51-32.2l1 6.2 1-1.2 .6 18-1 2.8-1-2.8z" fill="url(#v16_6)"/><path d="M52-26l1-1.2 1-1.9 .6 25.2-1-5.3-1 2.8z" fill="url(#v15_6)"/><path d="M53-27.2l1-1.9 1-.4 1-.5 1 .9 1 2.1 1-1 .6 19-1-.5-1 4.2-1 1-1 .9-1-.5-1-5.3z" fill="url(#v15_5)"/><path d="M58-27l1-1 1 .9 .6 18.9-1-.8-1-.5z" fill="url(#v14_6)"/><path d="M59-28l1 .9 1-.3 .6 22.7-1-3.5-1-.8z" fill="url(#v14_5)"/><path d="M60-27.1l1-.3 1 2.7 1-1.1 .6 20.4-1 1.8-1-1.1-1-3.5z" fill="url(#v14_4)"/><path d="M62-24.7l1-1.1 1 .9 1-.9 1 2.5 1-4.9 .6 27.1-1-2.6-1-.7-1-.5-1-.5-1 1.8z" fill="url(#v13_4)"/><path d="M66-23.3l1-4.9 1 3.4 1 4.9 .6 18-1 1-1-.2-1-2.6z" fill="url(#v14_3)"/><path d="M68-24.8l1 4.9 1-3.9 .6 13.9-1 8-1 1z" fill="url(#v13_3)"/><path d="M69-19.9l1-3.9 1 .6 1 .5 1-.9 1 1.4 1-3.3 .6 19.8-1 1.8-1 2.2-1-.9-1 1-1-8.3-1 8z" fill="url(#v12_3)"/><path d="M74-22.2l1-3.3 1 .4 .6 24.1-1-4.7-1 1.8z" fill="url(#v13_3)"/><path d="M75-25.5l1 .4 1 1.4 .6 24.6-1-1.9-1-4.7z" fill="url(#v13_2)"/><path d="M76-25.1l1 1.4 1 1.8 .6 25.3-1-2.5-1-1.9z" fill="url(#v12_2)"/><path d="M77-23.7l1 1.8 1-2.2 1 2.5 1-1.9 1 .8 1-.6 1 1.7 1-3.7 1 2 1 1.1 1 .4 .6 20.9-1 3-1-.2-1-.1-1-5.3-1 6.9-1-4.9-1 4.9-1-.2-1-5.3-1 5.5-1-2.5z" fill="url(#v12_1)"/><path d="M87-22.2l1 .4 1 1.6 1-1 1-.9 1 2.9 1-1.7 1 .6 1-.1 .6 23.8-1-2.2-1-.6-1 1.3-1 .5-1-3.6-1 2.5-1-2.2-1 3z" fill="url(#v11_1)"/></g>
<g fill="none"><path d="M259.3 618.1L259.3 525.5" stroke="#3a3a3a" stroke-width="0.7"/><path d="M56.2 582.5L72.5 639.5" stroke="#3a3a3a" stroke-width="0.7"/><path d="M72.5 639.5L259.3 618.1" stroke="#3a3a3a" stroke-width="0.7"/><path d="M72.5 639.5L73.2 642" stroke="#3a3a3a" stroke-width="0.6"/><path d="M91.2 637.4L91.9 639.9" stroke="#3a3a3a" stroke-width="0.6"/><path d="M109.9 635.2L110.6 637.7" stroke="#3a3a3a" stroke-width="0.6"/><path d="M128.5 633.1L129.3 635.6" stroke="#3a3a3a" stroke-width="0.6"/><path d="M147.2 630.9L147.9 633.4" stroke="#3a3a3a" stroke-width="0.6"/><path d="M165.9 628.8L166.6 631.3" stroke="#3a3a3a" stroke-width="0.6"/><path d="M184.6 626.7L185.3 629.2" stroke="#3a3a3a" stroke-width="0.6"/><path d="M203.3 624.5L204 627" stroke="#3a3a3a" stroke-width="0.6"/><path d="M221.9 622.4L222.7 624.9" stroke="#3a3a3a" stroke-width="0.6"/><path d="M240.6 620.2L241.3 622.7" stroke="#3a3a3a" stroke-width="0.6"/><path d="M259.3 618.1L260 620.6" stroke="#3a3a3a" stroke-width="0.6"/><path d="M72.5 639.5L69.9 639.8" stroke="#3a3a3a" stroke-width="0.6"/><path d="M68.4 625.2L65.9 625.5" stroke="#3a3a3a" stroke-width="0.6"/><path d="M64.4 611L61.8 611.3" stroke="#3a3a3a" stroke-width="0.6"/><path d="M60.3 596.8L57.7 597" stroke="#3a3a3a" stroke-width="0.6"/><path d="M56.2 582.5L53.7 582.8" stroke="#3a3a3a" stroke-width="0.6"/><path d="M56.2 582.5L55 580.3" stroke="#3a3a3a" stroke-width="0.6"/><path d="M56.2 567.2L55 565" stroke="#3a3a3a" stroke-width="0.6"/><path d="M56.2 551.8L55 549.6" stroke="#3a3a3a" stroke-width="0.6"/><path d="M56.2 536.5L55 534.3" stroke="#3a3a3a" stroke-width="0.6"/><path d="M56.2 521.2L55 519" stroke="#3a3a3a" stroke-width="0.6"/><path d="M56.2 505.8L55 503.6" stroke="#3a3a3a" stroke-width="0.6"/><path d="M56.2 490.5L55 488.3" stroke="#3a3a3a" stroke-width="0.6"/></g>
<text x="74" y="653.5" font-size="6.6" text-anchor="middle">0</text><text x="92.8" y="651.6" font-size="6.6" text-anchor="middle">5</text><text x="111.6" y="649.7" font-size="6.6" text-anchor="middle">10</text><text x="130.4" y="647.8" font-size="6.6" text-anchor="middle">15</text><text x="149.2" y="646" font-size="6.6" text-anchor="middle">20</text><text x="168.1" y="644.1" font-size="6.6" text-anchor="middle">25</text><text x="186.9" y="642.2" font-size="6.6" text-anchor="middle">30</text><text x="205.7" y="640.3" font-size="6.6" text-anchor="middle">35</text><text x="224.5" y="638.4" font-size="6.6" text-anchor="middle">40</text><text x="243.3" y="636.6" font-size="6.6" text-anchor="middle">45</text><text x="262.1" y="634.7" font-size="6.6" text-anchor="middle">50</text><text x="60.8" y="647.7" font-size="6.6" text-anchor="middle">-50</text><text x="56.6" y="634.2" font-size="6.6" text-anchor="middle">-25</text><text x="52.5" y="620.7" font-size="6.6" text-anchor="middle">0</text><text x="48.4" y="607.2" font-size="6.6" text-anchor="middle">25</text><text x="44.2" y="593.7" font-size="6.6" text-anchor="middle">50</text><text x="54.3" y="581.7" font-size="6.6" text-anchor="end">5</text><text x="53.9" y="566.2" font-size="6.6" text-anchor="end">10</text><text x="53.9" y="550.6" font-size="6.6" text-anchor="end">15</text><text x="53.9" y="535.1" font-size="6.6" text-anchor="end">20</text><text x="53.9" y="519.6" font-size="6.6" text-anchor="end">25</text><text x="53.9" y="504.1" font-size="6.6" text-anchor="end">30</text><text x="53.9" y="488.6" font-size="6.6" text-anchor="end">35</text>
<rect x="279.2" y="456.2" width="14.4" height="200.3" fill="url(#jet)" stroke="#333" stroke-width=".5"/>
<g fill="none"><path d="M292 616.4L293.6 616.4" stroke="#222" stroke-width="0.5"/><path d="M292 576.4L293.6 576.4" stroke="#222" stroke-width="0.5"/><path d="M292 536.3L293.6 536.3" stroke="#222" stroke-width="0.5"/><path d="M292 496.3L293.6 496.3" stroke="#222" stroke-width="0.5"/></g><text x="296.4" y="658.9" font-size="6.6">5</text><text x="296.4" y="618.8" font-size="6.6">10</text><text x="296.4" y="578.8" font-size="6.6">15</text><text x="296.4" y="538.7" font-size="6.6">20</text><text x="296.4" y="498.6" font-size="6.6">25</text><text x="296.4" y="458.6" font-size="6.6">30</text>
<text x="1.8" y="464.2" class="tt">34<tspan font-size="6" dy="-2.9" dx=".2">°</tspan><tspan dy="2.9" dx="-.3" textLength="5.9" lengthAdjust="spacingAndGlyphs">C</tspan></text>
<text x="35.2" y="541.3" font-size="7.6" text-anchor="middle" transform="rotate(92 35.2 538.6)">Amplitude (dB)</text>
<text x="38.9" y="624.6" font-size="7.3" text-anchor="middle" transform="rotate(73.9 38.9 622)">Distance (um)</text>
<text x="168.3" y="658.8" font-size="7.5" text-anchor="middle" transform="rotate(-5.8 168.3 656.1)">Frequency (Hz)</text>
</g>
<g><rect x="351.3" y="473.8" width="260.4" height="184.2" fill="#fff"/><g fill="none"><path d="M351.3 647.5L611.7 647.5" stroke="#e4e4e4" stroke-width="0.7"/><path d="M351.3 627.2L611.7 627.2" stroke="#e4e4e4" stroke-width="0.7"/><path d="M351.3 606.9L611.7 606.9" stroke="#e4e4e4" stroke-width="0.7"/><path d="M351.3 586.6L611.7 586.6" stroke="#e4e4e4" stroke-width="0.7"/><path d="M351.3 566.3L611.7 566.3" stroke="#e4e4e4" stroke-width="0.7"/><path d="M351.3 546L611.7 546" stroke="#e4e4e4" stroke-width="0.7"/><path d="M351.3 525.7L611.7 525.7" stroke="#e4e4e4" stroke-width="0.7"/><path d="M351.3 505.4L611.7 505.4" stroke="#e4e4e4" stroke-width="0.7"/><path d="M351.3 485.1L611.7 485.1" stroke="#e4e4e4" stroke-width="0.7"/></g><rect x="351.3" y="473.8" width="260.4" height="184.2" fill="none" stroke="#777" stroke-width=".9"/><g fill="none"><path d="M351.3 647.5L353.9 647.5" stroke="#555" stroke-width="0.7"/><path d="M611.7 647.5L609.1 647.5" stroke="#555" stroke-width="0.7"/><path d="M351.3 627.2L353.9 627.2" stroke="#555" stroke-width="0.7"/><path d="M611.7 627.2L609.1 627.2" stroke="#555" stroke-width="0.7"/><path d="M351.3 606.9L353.9 606.9" stroke="#555" stroke-width="0.7"/><path d="M611.7 606.9L609.1 606.9" stroke="#555" stroke-width="0.7"/><path d="M351.3 586.6L353.9 586.6" stroke="#555" stroke-width="0.7"/><path d="M611.7 586.6L609.1 586.6" stroke="#555" stroke-width="0.7"/><path d="M351.3 566.3L353.9 566.3" stroke="#555" stroke-width="0.7"/><path d="M611.7 566.3L609.1 566.3" stroke="#555" stroke-width="0.7"/><path d="M351.3 546L353.9 546" stroke="#555" stroke-width="0.7"/><path d="M611.7 546L609.1 546" stroke="#555" stroke-width="0.7"/><path d="M351.3 525.7L353.9 525.7" stroke="#555" stroke-width="0.7"/><path d="M611.7 525.7L609.1 525.7" stroke="#555" stroke-width="0.7"/><path d="M351.3 505.4L353.9 505.4" stroke="#555" stroke-width="0.7"/><path d="M611.7 505.4L609.1 505.4" stroke="#555" stroke-width="0.7"/><path d="M351.3 485.1L353.9 485.1" stroke="#555" stroke-width="0.7"/><path d="M611.7 485.1L609.1 485.1" stroke="#555" stroke-width="0.7"/><path d="M377.5 658L377.5 655.4" stroke="#555" stroke-width="0.7"/><path d="M377.5 473.8L377.5 476.4" stroke="#555" stroke-width="0.7"/><path d="M429.3 658L429.3 655.4" stroke="#555" stroke-width="0.7"/><path d="M429.3 473.8L429.3 476.4" stroke="#555" stroke-width="0.7"/><path d="M481.4 658L481.4 655.4" stroke="#555" stroke-width="0.7"/><path d="M481.4 473.8L481.4 476.4" stroke="#555" stroke-width="0.7"/><path d="M533.4 658L533.4 655.4" stroke="#555" stroke-width="0.7"/><path d="M533.4 473.8L533.4 476.4" stroke="#555" stroke-width="0.7"/><path d="M585.2 658L585.2 655.4" stroke="#555" stroke-width="0.7"/><path d="M585.2 473.8L585.2 476.4" stroke="#555" stroke-width="0.7"/></g><path d="M377.5 649.9V601.2M375.5 649.9h4M375.5 601.2h4M429.3 638.8V590.7M427.3 638.8h4M427.3 590.7h4M481.4 612.6V558.2M479.4 612.6h4M479.4 558.2h4M533.4 553.3V500.7M531.4 553.3h4M531.4 500.7h4M585.2 555.7V478M583.2 555.7h4M583.2 478h4" fill="none" stroke="#1f6fb5" stroke-width="1.5"/><path d="M377.5 626L429.3 615L481.4 585.6L533.4 527.5L585.2 517" fill="none" stroke="#1f6fb5" stroke-width="1.5" stroke-linejoin="round"/><rect x="375" y="623.5" width="5" height="5" fill="none" stroke="#1f6fb5" stroke-width="1.2"/><rect x="426.8" y="612.5" width="5" height="5" fill="none" stroke="#1f6fb5" stroke-width="1.2"/><rect x="478.9" y="583.1" width="5" height="5" fill="none" stroke="#1f6fb5" stroke-width="1.2"/><rect x="530.9" y="525" width="5" height="5" fill="none" stroke="#1f6fb5" stroke-width="1.2"/><rect x="582.7" y="514.5" width="5" height="5" fill="none" stroke="#1f6fb5" stroke-width="1.2"/><text x="348.3" y="650.4" font-size="8.0" text-anchor="end" class="b">4</text><text x="348.3" y="630.1" font-size="8.0" text-anchor="end" class="b">5</text><text x="348.3" y="609.8" font-size="8.0" text-anchor="end" class="b">6</text><text x="348.3" y="589.5" font-size="8.0" text-anchor="end" class="b">7</text><text x="348.3" y="569.2" font-size="8.0" text-anchor="end" class="b">8</text><text x="348.3" y="548.9" font-size="8.0" text-anchor="end" class="b">9</text><text x="348.3" y="528.6" font-size="8.0" text-anchor="end" class="b">10</text><text x="348.3" y="508.3" font-size="8.0" text-anchor="end" class="b">11</text><text x="348.3" y="488" font-size="8.0" text-anchor="end" class="b">12</text><text x="377.5" y="669.4" font-size="8.0" text-anchor="middle" class="b">25</text><text x="429.3" y="669.4" font-size="8.0" text-anchor="middle" class="b">27</text><text x="481.4" y="669.4" font-size="8.0" text-anchor="middle" class="b">29</text><text x="533.4" y="669.4" font-size="8.0" text-anchor="middle" class="b">31</text><text x="585.2" y="669.4" font-size="8.0" text-anchor="middle" class="b">34</text><text x="481.4" y="469.7" font-size="8.35" text-anchor="middle" class="b">CBF vs Temperature</text><text x="482" y="680.5" font-size="8.35" text-anchor="middle" class="b">Temperature (°C)</text><text x="334.8" y="569" font-size="8.35" text-anchor="middle" transform="rotate(-90 334.8 566)" class="b">Frequency (Hz)</text></g>
</svg>
</body></html>
